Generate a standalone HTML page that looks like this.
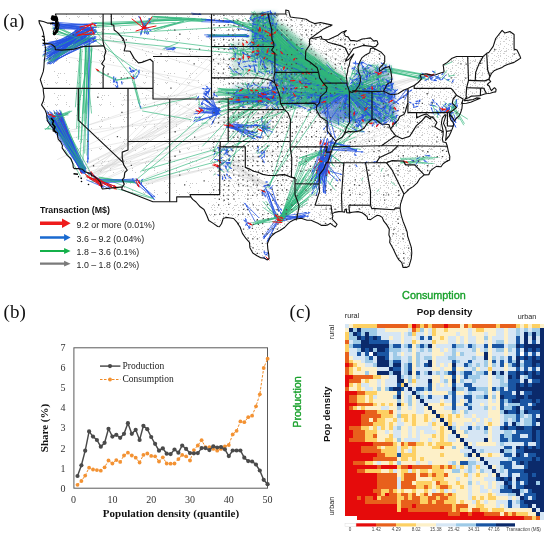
<!DOCTYPE html><html><head><meta charset="utf-8"><style>html,body{margin:0;padding:0;background:#fff;width:550px;height:538px;overflow:hidden}svg{display:block}</style></head><body>
<svg width="550" height="538" viewBox="0 0 550 538">
<defs><pattern id="spkW" width="22" height="22" patternUnits="userSpaceOnUse"><path d="M14 7h1v1h-1zM0 16h1v1h-1zM12 17h1v1h-1zM10 5h1v1h-1zM14 11h1v1h-1zM16 7h1v1h-1zM3 18h1v1h-1zM13 9h1v1h-1zM11 16h1v1h-1zM20 7h1v1h-1zM0 14h1v1h-1zM13 16h1v1h-1z" fill="#c8c8c8"/></pattern><pattern id="spkM" width="12" height="12" patternUnits="userSpaceOnUse"><path d="M5 6h1v1h-1zM11 6h1v1h-1zM1 3h1v1h-1zM10 3h1v1h-1zM7 9h1v1h-1zM10 6h1v1h-1zM9 0h1v1h-1zM7 1h1v1h-1zM4 4h1v1h-1zM0 10h1v1h-1z" fill="#d0d0d0"/></pattern><pattern id="spkE" width="12" height="12" patternUnits="userSpaceOnUse"><path d="M2 7h1v1h-1zM1 3h1v1h-1zM6 9h1v1h-1zM4 1h1v1h-1zM0 5h1v1h-1zM9 2h1v1h-1zM11 0h1v1h-1zM7 1h1v1h-1zM4 8h1v1h-1zM2 2h1v1h-1zM8 8h1v1h-1zM2 3h1v1h-1zM8 7h1v1h-1zM0 10h1v1h-1zM2 0h1v1h-1zM11 5h1v1h-1zM8 5h1v1h-1zM7 11h1v1h-1z" fill="#d0d0d0"/></pattern></defs>
<rect width="550" height="538" fill="#fff"/>
<path d="M38.9,20.6 L39.5,23.6 L41.6,27.3 L43.3,32.1 L43.9,35.8 L44.5,39 L44.5,43.1 L45.4,47 L45.4,51.2 L44.9,56.5 L44.3,60.8 L43.9,67.1 L43.3,71.4 L41.8,75.6 L40.3,79.5 L41.6,83.6 L43.2,88.4 L43.3,91 L44.1,96.9 L43.3,101.1 L41.5,104.9 L44.9,109.6 L46.6,113.9 L47.3,120.8 L50.8,125.6 L53.3,128.2 L53.1,130.9 L55.8,131.9 L57.5,133 L57.5,136.2 L58.3,139.4 L60.8,142 L62.5,145.7 L62.1,147.9 L65,152.1 L67.5,155.6 L70.8,158.5 L72.9,163.8 L73.3,167.5 L74.4,168.6 L78.3,168.6 L82.5,169.3 L85,171.8 L88.3,173.1 L90.9,173.1 L91.7,176 L93.8,176 L95.9,177.6 L97.5,179.1 L100.2,181.8 L101.3,185.6 L101.7,187.7 L102.4,189 L122.4,186.9 L121.7,189.4 L152.9,201.7 L176.7,201.7 L176.7,196.9 L190.8,196.9 L192.7,199.4 L196,202 L200.2,206.8 L204,209.5 L206.9,215.8 L208.8,220.5 L213.6,223.6 L217.7,226.5 L219.4,226.7 L221.5,223.8 L223.2,218.5 L226.1,217.4 L230.3,218 L233.6,218.5 L237.3,222.7 L240.3,227.5 L242.4,233.4 L246.1,238.7 L249.5,242.4 L249.9,247.7 L252.8,253 L257,255.7 L260.3,257.6 L264.5,258.3 L267,259.9 L269.1,258.8 L268.7,254.1 L267.8,248.8 L267.4,243.5 L269.5,238.7 L272,235.5 L275.3,232.8 L279.5,230.7 L284.5,227.5 L287.9,223.8 L290.4,221.7 L294.5,219.6 L296.7,219 L301.2,218.3 L307.1,220.3 L311.2,220.3 L313.7,221.4 L317.9,223.3 L321.2,225.4 L325.4,225.4 L327.9,224.9 L330.4,223.3 L332.9,225.4 L335.4,227 L337.1,224.3 L334.6,221.7 L332.1,219 L332.9,215.8 L332.1,213.9 L334.6,212.4 L338.8,211.6 L342.1,211.8 L344.6,212.1 L345,209.5 L346.3,208.9 L346.7,212.7 L349.6,212.9 L352.1,212.3 L358,211.6 L362.1,212.7 L364.6,214.5 L367.2,216.9 L367.6,219.2 L370.5,219.6 L373.8,217.4 L377.2,215.3 L379.7,215.8 L382.2,217.4 L383.8,221.2 L386.8,224.9 L389.3,229.1 L388.9,235 L390.1,238.1 L389.7,242.4 L391.4,245.6 L393.4,249.3 L395.1,253 L397.2,257.3 L398.9,259.9 L401.8,262.6 L403,267.4 L406.4,267.4 L408.9,266.3 L410.1,262.6 L411.2,258.9 L411.8,253 L411.4,247.7 L409.7,242.4 L407.6,236 L407.2,232.3 L405.1,226.5 L403,221.2 L401.4,215.8 L400.5,211.6 L400.1,208.2 L400.5,204.2 L402.2,198.8 L403.9,194.1 L406.4,191.9 L408.9,189.3 L413.1,186.6 L417.2,182.9 L419.7,178.7 L424.3,174.9 L428.9,174.6 L430.2,171.2 L433.1,168.6 L436.4,166.4 L441,166.8 L443.1,163.8 L446,161.7 L449.6,160.1 L449.8,156.4 L448.5,152.1 L447.3,146.3 L446,142.5 L443.1,142 L442.3,138.8 L443.1,135.1 L443.1,130.9 L442.3,127.1 L441.4,122.9 L442.3,118.1 L444.8,114.9 L446,114.9 L444.8,119.2 L443.5,123.4 L445.6,127.7 L446.5,131.9 L446,137.2 L445.6,140.4 L449,136.2 L451,131.9 L452.7,127.7 L453.6,124.5 L453.1,122.4 L451,120.2 L449.4,115.5 L449.4,113.3 L450.6,115.5 L453.1,118.1 L454.4,121 L456.5,118.1 L459,116 L460.6,112.8 L461.9,108.6 L462.3,104.8 L461.9,103.2 L462.7,103.5 L466.5,103.2 L470.7,102.2 L474.8,100.6 L480.2,98.3 L476.5,97.9 L473.2,99.5 L469,100.1 L464.8,100.6 L464,100.3 L465.2,99 L469,97.4 L471.5,96.1 L475.7,96 L480.3,95.6 L484,94.2 L485.7,93.7 L487.8,93.5 L490.3,93.2 L493.2,92.3 L495.7,91.9 L496.1,89.4 L494.5,87.7 L493.6,88.4 L491.5,90.7 L490.3,88.9 L489.4,86.3 L487.4,84.7 L488.6,83.1 L490.7,81.5 L489,79.3 L489.9,76.7 L491.5,73.5 L494,70.8 L497.4,69.3 L501.5,67.7 L504.1,66.1 L507.4,64.5 L510.7,63.4 L514.1,62.4 L517.4,60.2 L520.7,58.1 L519.5,54.9 L517,50.1 L514.1,49.1 L514.1,34.5 L509.9,31.5 L504.9,33.1 L502.1,30.4 L495.7,38.5 L493.2,46.4 L489,52.3 L486.7,53.3 L483.2,56.4 L456.5,56.5 L451.5,58.6 L447.3,62.4 L443.1,65 L443.5,67.1 L444,71.9 L440.6,73 L435.6,74.8 L432.3,75.1 L425.6,73.8 L420.2,75 L421.4,79 L418.1,82.5 L414.2,85.5 L411.4,86.8 L407.9,88.6 L403.9,90 L398,93.7 L393,94.7 L389.7,94.2 L386.4,92.6 L383.4,91.2 L385.5,87.8 L386.4,85.2 L388,83.6 L391.4,82 L391.8,77.8 L390.9,71.4 L389.3,66.6 L384.7,67.7 L379.7,71.4 L379.3,68.2 L382.6,65 L384.7,61.8 L384.7,56 L381.3,52.3 L377.2,50.1 L373,48 L370.5,48.5 L369.7,52.8 L365.5,54.9 L362.1,57.6 L360.1,61.3 L358,66.1 L358.4,71.4 L360.1,75.6 L360.5,80.9 L359.2,85.2 L355.5,90.5 L352.1,92.4 L349.2,91 L348.4,88.4 L347.1,85.2 L347.1,83.1 L346.7,79.3 L346.3,76.7 L347.5,72.4 L348,68.2 L349.2,65.5 L350,60.8 L353.8,53.9 L348.8,59.2 L345.4,61.3 L347.5,57 L348.8,55.4 L350.9,52.3 L353.4,48.5 L357.1,47.5 L360.1,46.4 L363,45.4 L367.2,45.9 L371.3,46.4 L373,47 L375.9,46.4 L378,43.8 L377.2,41.1 L375.9,40.6 L373.8,41.1 L370.5,37.9 L366.3,38.5 L362.1,39 L357.1,41.3 L353.8,40.6 L350.5,40.6 L348,36.9 L345.4,36.3 L343.8,33.1 L346.3,30.5 L341.3,32.6 L337.9,35.3 L332.9,37.4 L328.8,39.5 L325.4,39.8 L322.1,39 L321.2,36.3 L317.9,37.4 L312.1,38.5 L311.2,37.9 L316.2,34.2 L323.7,28.9 L332.1,25 L325.4,23.6 L320.4,22.5 L314.6,23.6 L309.6,21.5 L306.2,19.3 L300.4,18.3 L295.4,17.7 L290.4,17 L289.5,14 L288.7,10.8 L285.8,10 L285.8,14 L268.4,14 L211.5,14 L153.5,14 L111.3,14 L103.1,14 L55.4,14 L56.6,17.2 L57.5,20.4 L59.1,24.6 L58.3,28.9 L57.5,32.1 L54.1,34.2 L53.3,31.5 L55.4,27.8 L55.4,23.6 L51.6,23.1 L47.4,23.1 L43.3,21.5Z" fill="url(#spkW)" stroke="none"/>
<path d="M213.6,223.6 L217.7,226.5 L219.4,226.7 L221.5,223.8 L223.2,218.5 L226.1,217.4 L230.3,218 L233.6,218.5 L237.3,222.7 L240.3,227.5 L242.4,233.4 L246.1,238.7 L249.5,242.4 L249.9,247.7 L252.8,253 L257,255.7 L260.3,257.6 L264.5,258.3 L267,259.9 L269.1,258.8 L268.7,254.1 L267.8,248.8 L267.4,243.5 L269.5,238.7 L270.3,237.6 L270.3,14 L268.4,14 L211.9,14 L211.9,222.5 L213.6,223.6Z" fill="url(#spkM)" stroke="none"/>
<path d="M272,235.5 L275.3,232.8 L279.5,230.7 L284.5,227.5 L287.9,223.8 L290.4,221.7 L294.5,219.6 L296.7,219 L301.2,218.3 L307.1,220.3 L311.2,220.3 L313.7,221.4 L317.9,223.3 L321.2,225.4 L325.4,225.4 L327.9,224.9 L330.4,223.3 L332.9,225.4 L335.4,227 L337.1,224.3 L334.6,221.7 L332.1,219 L332.9,215.8 L332.1,213.9 L334.6,212.4 L338.8,211.6 L342.1,211.8 L344.6,212.1 L345,209.5 L346.3,208.9 L346.7,212.7 L349.6,212.9 L352.1,212.3 L358,211.6 L362.1,212.7 L364.6,214.5 L367.2,216.9 L367.6,219.2 L370.5,219.6 L373.8,217.4 L377.2,215.3 L379.7,215.8 L382.2,217.4 L383.8,221.2 L386.8,224.9 L389.3,229.1 L388.9,235 L390.1,238.1 L389.7,242.4 L391.4,245.6 L393.4,249.3 L395.1,253 L397.2,257.3 L398.9,259.9 L401.8,262.6 L403,267.4 L406.4,267.4 L408.9,266.3 L410.1,262.6 L411.2,258.9 L411.8,253 L411.4,247.7 L409.7,242.4 L407.6,236 L407.2,232.3 L405.1,226.5 L403,221.2 L401.4,215.8 L400.5,211.6 L400.1,208.2 L400.5,204.2 L402.2,198.8 L403.9,194.1 L406.4,191.9 L408.9,189.3 L413.1,186.6 L417.2,182.9 L419.7,178.7 L424.3,174.9 L428.9,174.6 L430.2,171.2 L433.1,168.6 L436.4,166.4 L441,166.8 L443.1,163.8 L446,161.7 L449.6,160.1 L449.8,156.4 L448.5,152.1 L447.3,146.3 L446,142.5 L443.1,142 L442.3,138.8 L443.1,135.1 L443.1,130.9 L442.3,127.1 L441.4,122.9 L442.3,118.1 L444.8,114.9 L446,114.9 L444.8,119.2 L443.5,123.4 L445.6,127.7 L446.5,131.9 L446,137.2 L445.6,140.4 L449,136.2 L451,131.9 L452.7,127.7 L453.6,124.5 L453.1,122.4 L451,120.2 L449.4,115.5 L449.4,113.3 L450.6,115.5 L453.1,118.1 L454.4,121 L456.5,118.1 L459,116 L460.6,112.8 L461.9,108.6 L462.3,104.8 L461.9,103.2 L462.7,103.5 L466.5,103.2 L470.7,102.2 L474.8,100.6 L480.2,98.3 L476.5,97.9 L473.2,99.5 L469,100.1 L464.8,100.6 L464,100.3 L465.2,99 L469,97.4 L471.5,96.1 L475.7,96 L480.3,95.6 L484,94.2 L485.7,93.7 L487.8,93.5 L490.3,93.2 L493.2,92.3 L495.7,91.9 L496.1,89.4 L494.5,87.7 L493.6,88.4 L491.5,90.7 L490.3,88.9 L489.4,86.3 L487.4,84.7 L488.6,83.1 L490.7,81.5 L489,79.3 L489.9,76.7 L491.5,73.5 L494,70.8 L497.4,69.3 L501.5,67.7 L504.1,66.1 L507.4,64.5 L510.7,63.4 L514.1,62.4 L517.4,60.2 L520.7,58.1 L519.5,54.9 L517,50.1 L514.1,49.1 L514.1,34.5 L509.9,31.5 L504.9,33.1 L502.1,30.4 L495.7,38.5 L493.2,46.4 L489,52.3 L486.7,53.3 L483.2,56.4 L456.5,56.5 L451.5,58.6 L447.3,62.4 L443.1,65 L443.5,67.1 L444,71.9 L440.6,73 L435.6,74.8 L432.3,75.1 L425.6,73.8 L420.2,75 L421.4,79 L418.1,82.5 L414.2,85.5 L411.4,86.8 L407.9,88.6 L403.9,90 L398,93.7 L393,94.7 L389.7,94.2 L386.4,92.6 L383.4,91.2 L385.5,87.8 L386.4,85.2 L388,83.6 L391.4,82 L391.8,77.8 L390.9,71.4 L389.3,66.6 L384.7,67.7 L379.7,71.4 L379.3,68.2 L382.6,65 L384.7,61.8 L384.7,56 L381.3,52.3 L377.2,50.1 L373,48 L370.5,48.5 L369.7,52.8 L365.5,54.9 L362.1,57.6 L360.1,61.3 L358,66.1 L358.4,71.4 L360.1,75.6 L360.5,80.9 L359.2,85.2 L355.5,90.5 L352.1,92.4 L349.2,91 L348.4,88.4 L347.1,85.2 L347.1,83.1 L346.7,79.3 L346.3,76.7 L347.5,72.4 L348,68.2 L349.2,65.5 L350,60.8 L353.8,53.9 L348.8,59.2 L345.4,61.3 L347.5,57 L348.8,55.4 L350.9,52.3 L353.4,48.5 L357.1,47.5 L360.1,46.4 L363,45.4 L367.2,45.9 L371.3,46.4 L373,47 L375.9,46.4 L378,43.8 L377.2,41.1 L375.9,40.6 L373.8,41.1 L370.5,37.9 L366.3,38.5 L362.1,39 L357.1,41.3 L353.8,40.6 L350.5,40.6 L348,36.9 L345.4,36.3 L343.8,33.1 L346.3,30.5 L341.3,32.6 L337.9,35.3 L332.9,37.4 L328.8,39.5 L325.4,39.8 L322.1,39 L321.2,36.3 L317.9,37.4 L312.1,38.5 L311.2,37.9 L316.2,34.2 L323.7,28.9 L332.1,25 L325.4,23.6 L320.4,22.5 L314.6,23.6 L309.6,21.5 L306.2,19.3 L300.4,18.3 L295.4,17.7 L290.4,17 L289.5,14 L288.7,10.8 L285.8,10 L285.8,14 L270.3,14 L270.3,237.6 L272,235.5Z" fill="url(#spkE)" stroke="none"/>
<defs><filter id="bl" x="-10%" y="-10%" width="120%" height="120%"><feGaussianBlur stdDeviation="2"/></filter></defs>
<g filter="url(#bl)"><path d="M254,13 L276,13 L277,40 L276,66 L262,66 L250,45 L252,25 Z" fill="#2f9a86" fill-opacity="0.7"/><path d="M270,24 L282,24 L345,78 L348,94 L326,90 L272,60 Z" fill="#34a878" fill-opacity="0.65"/><path d="M273,68 L325,72 L331,88 L322,106 L276,106 L272,90 Z" fill="#2f8a98" fill-opacity="0.75"/><path d="M316,84 L349,82 L350,118 L335,124 L316,110 Z" fill="#2f64c0" fill-opacity="0.7"/><path d="M347,86 L372,88 L372,122 L350,124 L345,110 Z" fill="#3468bc" fill-opacity="0.65"/><path d="M371,88 L394,88 L396,118 L372,122 Z" fill="#3a72c0" fill-opacity="0.6"/><path d="M356,68 L390,66 L392,90 L352,92 Z" fill="#3f80b4" fill-opacity="0.5"/><path d="M232,42 L270,40 L272,76 L232,76 Z" fill="#5aa898" fill-opacity="0.3"/><path d="M232,85 L272,84 L275,106 L232,106 Z" fill="#5a8ab8" fill-opacity="0.3"/></g>
<path d="M90.1 174.5L225.8 118.6M91.1 175.0L185.2 120.5M93.3 178.5L180.2 112.1M83.6 178.8L213.1 101.7M99.7 181.4L211.0 124.6M84.8 165.3L204.1 102.4M85.4 169.1L176.7 118.6M89.9 179.3L203.6 125.6M91.0 176.3L200.2 111.1M100.0 181.9L221.2 128.3M87.7 168.9L190.9 102.8M95.8 171.8L221.6 115.5M99.2 179.4L175.0 108.4M98.4 170.3L288.8 121.8M83.3 173.8L276.7 111.6M83.6 167.3L287.8 150.6M84.1 165.4L236.1 94.8M96.3 163.9L263.6 125.8M85.4 176.1L237.9 141.5M57.9 133.9L197.7 93.5M79.3 151.2L209.5 124.2M60.3 132.7L281.1 112.1M57.5 159.5L197.7 92.9M74.3 129.8L208.5 83.7M57.3 141.2L201.6 110.1M87.4 162.7L295.9 64.2M91.5 174.3L218.3 47.7M98.2 172.9L224.9 49.5M94.8 176.3L219.7 87.5M230.0 163.1L263.4 181.6M215.7 173.9L259.8 190.6M219.4 169.7L266.9 184.4M218.0 166.6L256.4 183.4M224.5 170.6L267.3 184.2M230.6 151.1L255.3 184.0M222.6 146.8L258.5 185.5M224.7 148.9L262.2 193.4M231.7 164.7L268.8 188.8M217.4 146.1L255.4 193.7M97.0 39.4L251.7 64.5M94.8 36.0L275.5 90.0M90.8 33.2L309.0 83.0M147.4 184.1L263.5 154.9M143.5 183.7L272.1 152.3M144.2 185.8L269.1 134.4M146.2 177.6L246.6 136.5M140.8 182.8L279.5 152.8M224.6 109.7L318.8 107.4M218.8 121.0L266.7 112.5M210.6 115.0L298.5 96.9M224.0 112.4L309.2 117.6M215.1 100.3L284.1 110.3M214.1 104.2L332.5 109.8M218.8 122.3L286.2 110.0M214.0 110.8L324.5 117.4M322.8 63.1L390.8 95.8M278.2 69.8L408.6 122.4M312.7 97.0L369.4 88.5M297.0 56.5L365.0 100.7M307.5 69.6L372.1 122.0M328.9 67.1L355.2 81.6M322.4 42.5L399.6 108.5M288.5 87.5L351.3 86.8M297.3 41.5L408.1 91.9M278.5 42.8L394.0 102.3M307.8 79.3L406.5 127.9M311.1 52.0L383.3 88.9M270.6 68.3L400.0 89.0M286.3 60.7L398.8 106.0M318.4 174.0L363.6 129.6M327.2 143.9L396.0 126.1M303.9 160.4L377.5 135.5M311.3 165.6L392.8 129.8M328.3 160.9L379.1 100.2M321.7 176.8L378.5 125.9M306.4 180.5L398.8 138.9M316.1 175.6L359.2 135.5M134.2 83.9L195.8 112.0M122.0 100.7L224.1 91.4M132.4 72.6L246.0 98.6M253.4 81.5L228.4 107.4M260.7 78.9L270.4 134.5M277.8 69.7L276.9 104.3M248.9 71.1L237.4 136.4M265.6 70.9L270.6 128.0M252.5 65.2L270.7 145.0M68.3 57.0L198.1 81.0M82.9 44.0L172.2 80.1M232.8 163.2L270.6 185.7M227.1 164.6L262.3 184.3M226.3 157.4L262.6 187.3M227.3 164.1L270.2 185.4M227.2 165.1L269.3 190.8M231.5 163.7L270.6 188.8M235.7 159.3L269.7 188.3M260.9 24.4L267.4 28.1M260.1 57.6L255.9 52.9M255.8 15.3L259.8 16.8M271.1 27.8L267.9 33.3M259.1 48.7L265.3 53.0M269.1 29.1L268.4 23.6M266.9 17.8L263.8 24.7M266.7 34.8L273.9 36.5M272.8 25.8L274.9 33.7M257.6 17.8L264.9 21.5M273.2 49.3L264.1 43.5M272.4 25.6L263.8 33.6M274.6 43.1L270.9 39.2M254.2 28.5L255.2 36.7M267.7 42.6L269.4 41.5M256.9 17.7L249.3 25.8M263.2 50.6L265.5 55.6M271.2 26.8L270.2 18.8M267.7 14.4L260.2 23.5M261.0 26.1L268.9 26.1M268.7 35.7L264.5 31.6M258.6 26.7L259.9 35.5M254.1 18.5L253.9 14.4M264.3 13.8L261.9 13.5M254.8 18.7L251.0 24.2M257.2 16.6L265.5 24.6M275.6 55.9L278.3 59.0M273.1 13.7L278.1 20.6M275.1 56.5L278.0 52.2M269.6 57.0L270.4 47.2M258.8 41.4L308.0 78.0M263.8 57.9L323.8 77.5M263.9 31.4L312.0 77.9M270.4 33.4L314.9 71.0M272.2 31.3L316.6 91.2M275.4 40.9L308.0 90.9M271.7 20.7L317.4 90.9M266.6 26.7L347.4 75.3M261.2 46.4L347.4 87.7M258.4 20.8L314.2 86.6M275.3 24.4L333.7 86.9M258.5 54.3L318.5 79.4M272.3 40.6L331.9 71.4M269.2 25.7L340.4 89.4M269.7 44.5L347.0 90.7M270.9 33.7L305.5 95.0M259.2 21.6L330.6 94.8M266.0 27.9L305.8 74.0M264.5 33.3L316.6 92.0M276.0 57.2L313.4 87.4M261.0 37.6L326.5 77.9M272.1 28.3L339.5 89.1M269.3 22.9L310.2 90.2M275.3 29.1L333.7 88.9M273.6 25.2L313.8 71.6M278.5 101.1L271.6 104.7M278.0 87.5L282.6 100.5M276.3 81.5L280.2 83.5M301.1 70.6L297.1 66.0M311.9 105.5L313.3 100.8M274.9 87.4L275.3 81.5M318.8 95.1L318.9 99.9M298.3 100.6L304.2 94.7M302.7 86.8L302.6 84.5M313.1 87.6L301.8 82.9M278.3 87.4L283.0 86.0M307.7 78.5L308.8 68.9M280.1 73.3L275.9 79.3M318.3 103.8L315.3 102.8M298.6 103.9L305.1 107.3M287.5 92.6L288.1 95.0M282.8 87.9L272.1 93.7M284.3 92.7L286.4 91.7M300.5 75.9L296.7 79.3M316.0 77.8L320.4 77.3M289.1 92.3L292.0 95.1M291.4 93.2L295.3 85.0M288.6 89.4L295.0 88.7M278.6 69.5L288.2 65.7M285.5 82.3L287.2 89.4M316.7 69.2L312.2 68.6M307.9 98.0L308.5 91.9M324.0 68.5L323.0 72.2M311.7 86.4L309.5 84.8M278.0 96.5L270.2 86.0M297.1 90.7L285.8 96.1M289.1 86.7L290.6 80.4M297.2 71.8L304.9 69.8M299.3 74.3L294.1 77.6M282.8 81.8L276.9 89.5M276.3 105.7L277.4 104.0M298.3 95.9L310.6 99.1M328.2 70.6L322.1 82.8M288.5 96.0L289.2 94.1M299.7 80.5L301.1 77.9M310.9 68.9L304.3 75.3M296.6 96.2L306.4 94.7M280.5 89.0L277.6 95.0M312.3 91.0L303.1 91.3M285.3 71.4L277.6 74.7M314.3 83.1L307.4 94.7M324.7 76.0L328.4 71.1M275.0 98.3L272.7 99.3M294.7 94.5L295.7 104.3M285.2 93.4L295.7 94.2M283.9 82.7L287.0 82.1M276.4 104.8L279.7 96.7M302.5 85.5L295.2 76.2M279.9 81.6L276.0 81.5M278.3 92.5L290.0 91.3M321.7 110.4L327.0 108.8M310.3 80.4L313.9 83.4M324.5 80.8L322.4 87.5M343.5 109.0L344.9 103.8M341.0 80.6L347.4 86.3M306.7 83.7L312.8 82.8M310.4 107.7L306.7 111.3M337.8 87.4L340.7 86.8M307.4 84.6L312.3 83.0M314.6 91.7L323.7 93.2M321.7 107.0L326.3 100.3M329.2 110.3L326.4 109.6M311.9 104.4L314.2 104.3M310.7 104.8L312.8 101.7M320.3 99.1L314.3 95.8M328.2 110.1L332.5 106.7M344.3 89.1L341.0 95.6M338.8 81.6L331.6 82.1M335.1 105.5L333.0 103.9M323.1 89.9L310.7 92.8M312.2 110.6L307.2 100.5M335.2 87.8L331.5 82.5M343.5 84.0L346.6 85.8M306.3 83.5L303.7 84.3M310.0 81.0L305.9 77.5M355.7 107.4L360.0 110.7M378.8 88.9L375.3 87.1M367.3 111.9L372.9 112.3M372.9 123.4L364.0 121.8M390.0 119.1L386.8 118.7M359.2 89.4L364.2 91.8M381.4 112.8L381.9 109.3M352.0 87.2L347.6 87.2M383.0 114.7L381.1 118.4M370.7 118.7L376.7 113.6M381.3 111.4L388.8 112.6M345.7 86.7L346.1 91.1M384.1 112.6L385.9 122.2M346.1 106.0L347.4 103.4M377.6 96.5L375.5 95.8M382.9 108.2L379.9 109.6M351.5 100.4L348.0 103.7M357.5 103.5L354.8 110.4M364.6 86.8L365.8 88.4M365.6 103.7L363.5 109.8M382.3 103.5L374.3 98.8M345.2 95.9L350.3 99.8M387.0 108.9L387.7 103.7M393.0 112.1L394.8 109.5M355.8 112.8L357.3 120.4M305.5 63.0L337.7 82.2M311.1 58.4L337.1 75.6M305.5 58.0L337.2 87.7M312.0 59.7L345.8 80.6M305.7 58.3L338.8 88.0M295.6 56.0L345.1 82.3M375.6 87.0L427.2 76.4M376.1 85.3L422.5 78.0M360.4 90.1L425.3 74.2M377.5 92.1L418.8 75.3M375.6 94.7L418.5 78.6M361.0 91.1L420.0 79.4" fill="none" stroke="#d2d2d2" stroke-width="0.45" stroke-linecap="round"/>
<path d="M136.0 180.0L218.0 112.0M229.0 138.2L273.0 88.1M212.7 151.9L258.0 72.3M202.5 146.2L296.6 47.8M223.1 155.0L258.0 130.6M90.7 38.9L241.8 54.1M94.6 32.0L254.4 52.4M85.4 33.4L139.2 72.2M252.1 133.7L300.8 67.0M267.3 139.4L305.2 77.7M245.5 124.1L337.8 94.7M280.5 215.4L378.3 103.9M281.6 218.3L363.0 102.9M280.1 219.9L374.5 95.4M269.4 187.3L308.8 66.6M262.2 193.6L336.1 88.2M268.3 187.3L327.0 80.2M56.9 56.2L82.5 28.1M46.0 50.5L82.9 38.4M54.0 45.0L93.6 38.2M45.1 49.6L91.6 29.2M54.3 52.1L95.4 29.1M46.7 54.2L88.0 29.9M48.0 50.3L79.4 31.7M53.3 51.1L91.1 29.3M48.9 57.1L82.5 34.8M44.1 61.9L93.2 30.5M49.1 56.3L82.9 30.4M54.7 46.6L80.7 29.1M56.2 26.6L86.0 43.5M52.5 27.0L82.4 37.1M52.4 33.3L86.4 40.6M56.6 32.4L85.8 39.0M52.1 28.6L90.5 44.8M55.9 26.0L85.7 40.6M57.0 30.5L82.4 42.9M85.7 44.8L83.0 113.5M86.1 47.6L79.9 160.7M84.5 43.0L91.5 113.1M85.6 46.5L84.1 120.9M91.9 48.5L84.8 112.4M82.0 49.2L78.3 139.4M91.8 49.5L85.9 123.5M80.8 45.7L76.6 128.2M87.0 42.3L86.1 113.7M86.4 45.8L81.4 142.4M88.6 48.0L82.7 164.7M97.4 23.9L153.3 21.8M96.4 25.6L195.1 18.4M92.4 22.7L176.8 20.0M94.4 23.4L154.1 23.3M54.9 57.0L57.2 55.4M46.0 49.7L54.4 53.3M58.0 49.2L48.5 49.3M49.5 46.2L46.8 55.2M153.1 16.5L209.8 19.8M150.2 19.3L201.9 21.6M148.3 18.8L207.5 19.5M152.0 17.1L205.6 20.6M153.3 20.7L205.2 20.0M154.1 29.1L194.3 19.9M151.0 29.6L183.5 21.2M153.5 29.0L180.5 22.0M163.0 49.0L178.0 43.0M97.0 70.0L104.0 74.0M117.0 80.0L133.0 78.0M97.0 71.0L117.0 81.0M132.1 78.7L138.8 103.1M56.3 115.0L84.2 170.4M58.0 120.1L82.4 170.4M57.5 121.8L82.9 172.2M58.0 111.8L81.9 168.6M59.4 113.7L81.4 169.1M61.0 112.4L85.3 170.9M53.9 118.0L71.8 111.1M52.5 116.2L67.6 113.4M52.2 117.6L69.9 111.1M53.4 121.0L69.8 112.5M50.7 128.0L48.1 128.7M52.5 122.6L45.4 129.6M53.1 118.4L47.8 128.7M53.6 129.2L44.9 128.8M67.4 136.3L87.4 177.9M68.4 143.0L89.4 175.8M65.1 149.9L80.6 176.3M98.7 177.0L137.1 183.4M99.3 177.7L136.5 182.8M90.6 177.9L133.7 181.5M92.9 179.9L136.0 180.0M110.8 180.7L152.2 197.9M211.6 110.2L216.1 111.1M207.8 123.0L201.7 123.2M209.8 99.9L209.6 97.0M198.8 106.7L201.0 110.2M204.9 107.9L198.6 104.7M206.1 110.5L210.0 110.0M196.2 120.1L200.2 117.5M199.4 118.1L202.5 120.4M195.7 116.6L194.2 119.1M216.2 109.2L260.5 96.4M220.8 111.0L256.5 101.6M221.5 106.5L259.4 97.1M217.0 113.1L261.3 99.6M140.4 171.9L205.7 112.7M142.6 170.6L217.5 148.6M196.7 96.7L140.2 108.6M229.4 123.4L267.9 97.9M227.8 119.2L265.3 99.8M229.3 119.9L270.5 98.1M229.3 123.8L270.8 102.3M226.8 124.1L265.2 97.7M262.2 127.6L268.6 131.1M262.3 127.7L270.5 124.1M263.9 127.9L260.1 138.1M262.4 128.9L267.6 121.3M262.1 127.5L270.0 128.7M219.5 88.8L264.5 92.0M218.6 91.1L262.9 88.7M217.9 91.1L271.5 90.2M214.7 92.4L259.0 94.6M216.0 93.2L263.6 91.4M221.6 89.9L263.2 90.3M218.0 88.7L258.3 89.7M269.5 99.7L273.9 98.0M275.9 92.9L273.8 96.6M255.3 94.0L251.9 90.0M259.6 96.1L262.5 95.3M270.5 101.0L263.7 98.5M275.7 92.3L266.0 89.7M248.3 93.8L265.9 97.5M243.4 95.9L254.1 98.9M234.0 103.9L265.9 105.2M241.8 91.1L258.4 100.5M244.2 95.3L257.7 94.5M218.9 101.1L270.7 92.8M232.1 94.4L262.4 102.6M236.7 103.8L256.3 92.0M221.1 103.5L259.6 95.9M244.1 102.8L269.0 91.1M228.4 93.2L270.1 88.8M217.5 94.9L277.6 98.8M225.3 99.3L269.5 93.8M225.9 93.7L250.5 93.6M225.1 91.6L273.7 96.4M226.6 102.4L271.1 99.2M217.8 161.0L221.0 156.3M219.3 152.7L221.7 154.8M257.5 153.6L269.7 145.7M261.2 156.0L268.7 145.0M256.0 152.4L266.5 143.4M280.3 217.1L310.4 168.4M280.5 219.6L299.5 162.2M281.4 222.0L318.6 169.6M280.5 221.0L308.3 199.3M279.8 221.4L303.5 156.5M280.4 217.7L301.5 197.8M278.3 220.4L303.6 177.0M278.3 221.7L306.7 162.8M278.5 217.2L315.0 178.1M282.0 218.0L299.2 184.4M282.6 221.7L314.1 171.1M280.7 221.8L320.5 167.7M278.5 217.8L319.5 179.3M279.8 218.8L302.6 201.8M278.6 220.5L313.5 184.8M281.0 221.4L323.2 175.1M279.9 219.1L307.5 186.4M279.8 221.2L318.8 187.8M281.8 218.1L320.8 172.6M279.0 218.5L309.0 169.1M280.3 220.0L306.3 157.6M279.8 221.9L307.4 199.4M263.0 201.6L278.9 220.4M265.8 201.3L279.4 216.4M267.8 207.8L279.7 217.7M251.9 224.6L279.7 217.5M252.1 222.8L280.0 217.3M252.7 225.0L279.4 217.0M331.6 149.1L356.9 130.4M326.6 146.6L341.4 143.6M331.3 146.1L360.2 149.2M333.9 144.6L340.4 142.3M330.1 173.3L323.0 164.5M329.8 184.5L334.2 176.3M326.7 167.2L320.9 178.5M321.8 184.1L319.9 173.8M327.3 180.7L335.2 190.1M319.4 182.7L313.4 187.9M318.0 175.7L311.0 185.0M325.4 181.6L328.2 172.4M327.8 154.8L332.2 156.7M328.2 150.2L299.5 158.0M323.9 149.3L299.2 158.2M325.4 150.2L305.6 160.5M326.3 148.6L298.2 162.9M322.4 152.2L299.9 163.5M327.8 149.5L299.2 165.7M329.2 155.4L332.7 165.5M320.7 153.0L332.5 173.2M320.8 153.6L334.6 166.5M326.6 151.0L338.9 160.8M328.1 152.6L342.7 163.7M274.4 52.9L278.8 48.9M255.0 16.9L251.9 17.4M270.3 35.3L275.2 34.8M272.8 58.5L273.3 47.7M258.5 42.0L266.6 45.4M264.1 19.9L261.7 18.7M253.9 32.6L257.8 24.1M263.0 33.7L272.3 37.1M253.9 33.0L260.6 40.8M272.8 39.0L275.4 43.0M265.8 24.6L257.5 17.3M272.9 44.9L277.1 41.5M253.0 41.7L253.1 44.7M255.4 48.5L254.6 54.1M271.9 52.2L267.3 49.6M265.7 24.6L259.0 16.3M257.4 14.3L253.2 19.0M265.1 37.3L259.2 32.7M265.4 39.0L265.7 42.2M256.6 16.7L253.0 16.2M263.1 45.4L265.2 54.5M274.9 59.2L262.9 59.5M261.2 17.1L269.1 17.9M266.8 49.8L258.1 53.5M268.2 46.1L257.7 51.2M256.0 37.0L253.7 39.9M256.3 46.5L259.7 52.8M254.1 53.4L265.9 53.8M262.8 43.0L259.2 43.9M262.6 53.9L268.2 58.7M265.3 50.2L261.0 47.2M262.5 32.8L258.7 30.0M263.4 50.4L264.8 46.3M265.1 28.7L264.9 37.9M268.4 25.0L271.4 21.5M262.5 31.8L256.1 28.5M265.5 57.6L265.3 54.7M252.3 15.5L249.6 21.9M267.6 53.2L258.2 47.2M257.8 30.5L254.7 30.9M266.1 17.3L266.3 21.2M268.5 23.7L265.6 16.4M267.5 17.8L270.3 18.5M268.3 59.8L263.7 55.3M268.9 52.4L269.9 48.0M254.5 19.0L250.6 18.8M258.8 57.3L249.5 61.5M267.8 56.3L265.8 51.5M260.6 31.4L260.8 29.3M264.3 19.9L263.8 15.4M257.9 41.1L249.9 44.8M273.8 58.3L272.3 59.9M270.7 49.1L271.4 56.1M264.6 41.0L256.5 43.1M267.5 32.3L271.5 26.2M275.7 51.9L276.9 43.1M257.9 17.8L255.6 14.0M268.7 54.6L266.6 59.3M262.3 42.7L262.7 33.1M269.4 58.7L263.3 60.7M259.5 52.0L253.0 55.7M260.7 13.5L259.5 20.2M252.5 54.4L257.0 56.5M268.2 51.7L270.1 48.4M258.2 15.8L251.3 11.9M262.1 57.0L260.8 49.5M274.7 35.0L277.3 44.2M272.5 38.9L272.3 45.6M252.7 37.7L252.2 31.7M261.6 17.4L263.2 12.1M262.3 58.8L268.9 52.6M260.7 28.4L259.3 27.0M253.8 32.9L251.4 30.3M275.0 29.4L275.3 36.7M274.6 16.7L270.2 24.9M264.6 48.6L266.2 51.1M253.9 19.6L255.4 12.7M261.0 14.3L262.4 11.6M265.0 20.3L275.1 25.4M276.0 38.6L275.1 30.6M270.3 35.5L268.1 45.1M275.1 54.3L264.1 51.2M268.4 17.9L260.9 21.1M267.7 29.1L265.4 25.8M262.3 37.7L266.4 39.2M256.0 35.4L264.1 35.1M270.5 58.5L266.0 62.4M252.6 35.0L251.6 42.5M272.7 36.8L271.7 34.2M274.3 41.9L267.2 42.4M266.8 52.0L264.5 48.9M256.5 20.9L264.6 23.0M258.0 57.7L252.2 60.8M269.9 21.2L272.3 13.4M272.1 52.6L270.9 48.7M252.2 21.1L255.8 21.9M270.3 25.6L267.7 24.4M267.6 52.1L268.0 45.1M263.1 34.0L256.7 26.5M274.6 25.8L273.3 27.6M266.9 58.1L258.2 54.8M252.3 34.2L254.5 34.9M266.5 38.5L273.4 41.7M259.3 23.5L263.1 29.2M269.9 22.6L262.1 17.4M264.7 55.9L274.6 55.0M267.6 31.2L276.5 26.4M260.2 28.1L263.1 29.1M259.2 13.4L264.9 12.7M262.9 58.5L268.8 61.8M270.7 36.8L272.3 28.7M235.1 21.0L265.3 26.2M230.1 22.2L265.6 27.9M232.5 20.2L264.7 29.0M230.1 21.1L261.1 31.1M231.4 22.2L260.9 30.6M209.5 35.5L246.4 35.7M211.7 35.0L248.6 36.9M207.2 34.8L248.8 36.9M224.1 18.0L261.7 34.1M236.3 19.3L261.3 33.9M249.9 24.3L262.9 32.1M229.9 24.8L261.6 34.4M252.1 18.8L259.3 34.2M263.5 39.1L335.8 81.1M275.0 26.2L332.0 85.1M261.8 53.0L332.0 87.3M260.3 37.5L328.1 87.2M273.4 55.8L327.6 85.8M265.0 47.1L344.3 86.4M274.2 52.4L345.5 82.0M258.7 40.0L332.0 86.6M261.6 30.6L332.5 85.2M271.8 57.4L331.0 83.0M258.1 44.9L325.9 88.1M262.3 48.6L342.0 84.0M260.9 30.2L338.1 87.1M263.6 54.5L339.5 89.7M270.7 53.6L326.5 78.3M273.9 41.8L336.6 84.9M274.4 43.5L342.2 85.9M271.8 40.3L331.9 83.1M269.5 24.6L337.0 85.3M274.0 41.7L337.5 85.4M267.9 32.5L341.6 83.2M269.6 35.0L336.7 82.7M269.7 52.5L330.9 87.7M273.7 39.3L344.9 93.7M265.3 56.9L338.3 87.0M268.9 40.7L340.1 82.4M258.2 47.9L343.9 90.5M273.8 50.7L328.4 81.6M269.8 23.1L337.2 81.2M267.6 22.5L334.1 78.2M271.2 26.5L333.7 93.8M260.7 45.4L333.0 91.4M272.9 51.7L329.1 87.3M275.1 57.3L340.7 80.2M266.4 39.0L330.0 80.6M268.9 48.9L342.0 84.8M265.6 35.7L345.3 78.7M259.7 51.9L333.2 82.2M264.4 22.6L328.0 89.5M275.9 31.1L342.7 83.8M263.0 36.8L346.0 82.3M273.3 48.0L341.3 86.1M258.8 46.1L344.9 84.9M267.4 49.1L328.8 85.8M258.2 53.1L333.1 84.2M268.3 32.4L328.6 85.2M275.9 47.8L341.0 89.7M260.9 27.2L344.4 78.3M274.9 53.3L334.3 83.6M273.9 54.7L346.9 92.6M260.1 55.9L328.8 90.6M267.7 26.8L332.2 83.0M261.4 44.9L342.7 90.3M271.0 34.0L346.8 90.6M267.7 55.1L335.8 94.2M275.1 33.4L336.9 87.5M273.2 52.5L329.2 90.0M265.3 26.2L345.9 94.8M275.1 42.0L330.4 85.6M266.7 28.4L342.1 93.9M275.3 51.3L337.4 86.9M264.6 24.7L335.4 91.9M263.4 30.3L339.1 90.1M261.2 32.7L328.5 92.5M266.7 55.4L338.0 83.1M267.0 39.9L339.6 90.1M275.6 56.6L343.6 89.6M272.9 31.6L343.3 84.5M268.5 28.3L333.3 94.6M267.0 23.2L331.0 79.8M260.8 28.4L328.3 90.6M263.3 33.3L331.4 87.3M260.4 27.5L339.4 82.8M261.2 25.5L326.6 92.6M258.4 34.8L339.5 81.7M258.1 40.9L338.2 81.2M267.8 26.7L342.4 78.5M273.0 45.0L325.5 79.1M267.0 23.7L347.2 81.6M264.3 55.0L337.9 86.4M268.1 38.2L329.0 91.6M264.5 44.7L330.9 94.9M269.6 47.9L331.2 91.1M261.0 37.1L328.8 82.4M270.3 25.8L329.0 86.0M261.2 45.8L338.0 94.4M259.7 54.2L258.6 50.7M265.6 72.2L258.7 62.7M246.7 71.9L242.8 76.5M262.3 48.3L256.1 52.7M260.8 55.3L258.0 57.8M254.4 57.5L244.5 54.1M242.8 45.8L252.8 50.4M250.1 46.4L252.2 46.2M233.7 51.8L231.6 44.4M234.7 52.0L233.6 58.7M236.3 46.4L238.7 47.3M270.6 62.2L273.2 69.9M241.7 73.4L232.5 74.6M242.6 54.1L237.5 53.8M233.0 55.2L238.1 59.7M265.9 46.0L264.0 47.8M261.8 73.5L259.4 66.5M264.2 58.1L274.8 54.3M253.5 56.6L262.1 50.5M246.7 52.8L242.3 45.4M252.8 64.8L259.6 65.1M261.2 69.7L269.2 68.1M239.9 48.4L241.4 55.6M232.6 71.5L238.1 69.0M237.9 50.1L235.6 56.4M242.9 49.8L243.3 54.7M264.2 58.4L256.3 55.0M237.2 47.2L238.2 57.2M244.9 61.8L242.2 57.5M251.9 73.6L262.3 77.0M258.0 53.2L246.2 51.9M258.8 61.2L258.6 73.0M233.0 56.5L229.5 58.5M234.9 74.0L230.1 73.4M255.7 55.2L258.0 49.1M262.7 65.6L267.4 73.3M264.5 43.5L264.1 45.5M267.5 65.3L263.6 59.0M253.9 69.2L257.6 74.7M234.7 61.1L237.2 59.7M260.8 72.3L268.9 70.5M251.0 57.0L246.7 53.8M249.9 97.8L242.2 92.9M256.1 99.6L253.5 98.6M254.7 85.8L260.6 83.8M270.5 104.5L271.3 98.1M263.6 103.8L254.9 106.2M255.7 89.5L254.8 94.0M233.1 89.6L236.0 99.3M245.3 87.2L243.4 85.9M269.5 88.5L260.7 96.5M267.1 102.7L268.9 99.1M266.7 88.6L260.9 96.7M249.2 93.7L245.2 82.4M246.9 90.0L250.0 97.5M241.6 100.6L235.4 95.9M249.7 85.3L241.3 83.3M273.8 98.6L263.9 104.6M235.9 86.1L244.2 88.8M263.5 89.8L270.0 95.4M257.0 96.2L258.2 94.2M235.1 100.9L240.9 104.5M274.4 101.7L275.4 96.9M255.3 95.4L250.0 91.7M317.5 80.1L313.8 79.7M323.4 69.2L326.6 77.0M303.6 78.7L311.6 79.0M299.1 96.9L297.3 95.2M329.3 92.8L325.5 105.1M326.1 100.2L319.5 96.4M290.5 100.4L286.7 106.6M310.7 94.5L319.4 98.0M323.5 84.1L321.3 71.6M315.0 76.4L316.9 84.3M328.3 76.8L324.7 72.7M288.3 105.8L294.3 107.5M293.0 80.6L292.8 75.9M328.1 100.5L330.9 89.4M278.2 93.7L271.4 89.9M282.6 82.3L274.0 72.9M323.4 78.0L316.1 81.9M276.6 81.9L282.5 79.2M323.7 87.5L332.8 88.1M290.0 81.8L297.3 92.1M306.3 90.7L312.9 85.7M297.9 80.8L307.5 78.9M286.6 95.4L296.4 102.6M282.4 103.6L275.1 103.9M322.0 79.1L311.2 82.8M288.3 105.3L279.6 104.5M299.1 97.6L299.0 104.8M301.7 103.7L307.7 98.7M320.1 74.0L309.7 69.6M289.0 90.7L283.8 99.3M318.5 97.4L322.2 101.1M274.8 88.5L273.7 90.6M327.8 85.0L330.9 78.7M327.4 70.2L319.2 66.5M292.3 104.4L294.2 108.5M301.2 102.5L305.0 100.4M307.2 72.6L308.6 78.0M279.4 78.4L280.0 74.3M315.5 100.0L320.7 101.2M272.6 72.5L272.7 68.3M274.2 105.0L281.7 103.8M304.1 99.7L293.1 106.7M288.1 90.0L293.5 88.4M301.0 93.5L306.6 97.3M283.9 104.9L284.9 99.2M314.5 97.5L312.0 103.0M284.3 72.8L279.9 72.3M301.3 96.5L291.9 106.6M293.0 81.9L292.5 85.0M303.0 98.2L305.1 99.3M317.3 79.5L315.3 79.5M297.6 76.0L302.2 88.2M290.0 80.1L286.8 85.3M327.7 68.6L322.1 75.1M291.3 95.4L287.9 97.1M284.0 94.8L287.7 93.0M317.1 81.2L320.3 79.3M328.8 88.0L324.1 81.7M314.6 95.3L314.9 90.8M304.3 97.9L313.0 87.2M303.2 87.6L304.6 89.6M290.7 98.1L292.7 97.2M313.2 94.5L316.9 99.5M281.6 101.6L291.2 107.2M320.4 84.2L315.0 87.2M300.0 94.8L288.9 99.5M295.3 84.3L292.7 82.3M279.7 78.5L278.6 81.2M275.5 102.3L270.4 90.2M305.9 98.2L318.7 96.3M283.9 89.2L290.3 99.7M283.1 88.1L283.1 94.1M325.9 90.4L315.0 95.4M325.2 69.0L322.7 65.2M308.3 73.3L317.7 73.8M324.7 69.0L323.4 72.2M318.7 73.8L308.6 75.6M309.5 93.2L309.2 85.9M311.2 103.5L312.7 98.4M284.0 92.0L278.2 96.9M307.7 91.7L296.3 88.1M316.2 90.8L324.4 87.5M282.6 71.9L275.8 69.4M314.0 103.3L316.9 101.5M322.2 80.3L316.5 77.6M308.8 103.7L315.3 106.5M304.5 102.0L296.7 97.2M315.5 104.9L305.9 106.4M286.7 102.5L293.0 105.6M305.2 82.8L306.9 89.1M308.1 103.3L304.7 91.5M273.3 92.2L273.5 102.4M318.7 75.3L316.0 78.1M312.9 89.2L302.5 86.0M282.4 104.3L283.6 96.4M284.0 76.9L293.4 80.2M287.2 75.4L282.3 77.6M286.3 77.9L276.1 84.8M278.8 73.3L288.3 76.5M281.6 78.7L283.2 76.7M320.0 92.9L315.5 102.7M304.4 91.6L293.8 83.8M310.5 86.5L316.1 92.1M311.4 86.5L311.6 90.8M301.7 71.5L304.2 69.4M310.7 88.2L309.2 97.9M275.8 102.7L284.0 94.5M291.9 72.9L280.1 78.3M278.3 96.5L281.0 89.5M322.5 84.1L324.7 75.5M289.2 68.0L276.1 72.9M280.6 84.9L277.6 78.0M276.6 104.0L281.2 91.5M291.6 68.1L303.3 73.0M297.1 81.8L296.7 71.6M324.7 98.5L332.6 104.3M316.7 73.6L313.8 71.9M302.6 70.9L301.9 68.5M272.2 97.7L282.4 93.9M298.8 96.7L304.4 99.6M282.0 85.4L279.9 88.4M297.3 72.8L292.7 71.8M316.0 80.8L317.6 68.6M287.2 98.3L289.3 89.0M297.0 92.3L295.6 94.0M327.3 97.7L323.0 100.0M291.3 91.5L289.5 100.8M288.3 76.4L280.2 72.8M319.1 85.5L307.7 86.0M279.0 82.5L286.5 89.2M308.9 70.1L307.1 71.3M325.7 76.2L317.9 65.6M298.4 84.3L295.3 86.5M278.9 95.3L272.2 95.3M301.7 83.9L289.8 86.2M307.2 87.4L315.9 84.5M288.8 100.2L298.5 104.2M275.2 86.6L271.9 85.2M301.8 99.2L312.7 93.2M277.0 72.0L279.6 66.4M325.1 87.7L313.2 84.3M320.6 72.5L319.2 76.8M287.2 102.1L288.9 108.6M290.4 94.9L278.9 95.5M320.5 99.7L309.6 107.3M285.0 88.9L288.3 85.5M289.6 99.2L280.0 108.5M294.0 68.5L290.3 80.9M326.5 78.6L316.3 84.2M299.9 73.8L301.5 68.0M274.8 60.6L281.7 68.5M295.9 53.4L299.6 51.0M274.1 62.7L272.9 68.4M272.8 59.1L280.6 57.2M301.5 67.2L291.6 71.0M301.6 63.5L305.8 64.0M292.7 48.2L303.5 52.7M300.6 51.4L301.0 53.8M286.8 59.6L276.3 58.8M298.4 58.6L297.1 54.7M276.0 67.7L272.6 64.8M290.3 54.2L297.6 55.0M284.1 48.4L292.6 53.8M278.5 54.9L277.3 60.6M297.3 66.0L289.6 59.2M294.1 62.9L287.0 65.2M294.6 56.6L289.9 62.0M276.5 57.2L274.0 68.5M301.8 66.2L306.4 64.0M297.7 64.6L289.1 58.1M284.6 66.9L282.1 68.5M284.3 63.9L291.7 57.5M286.5 63.5L294.0 70.0M275.5 51.2L270.5 48.3M275.0 68.0L274.9 70.0M273.9 50.0L274.4 54.0M283.1 54.2L284.1 48.4M295.2 65.7L290.3 67.9M305.0 49.6L301.9 48.5M282.8 66.4L279.7 66.9M281.7 54.2L290.3 47.2M293.7 61.3L284.5 64.3M304.8 64.1L306.5 62.5M277.0 54.1L286.6 58.8M276.1 62.9L271.8 61.7M284.6 51.9L293.4 56.2M304.2 57.9L295.9 62.3M298.4 63.7L296.8 67.8M291.8 59.0L297.7 66.3M277.1 65.8L277.3 68.5M297.4 65.2L344.7 93.3M299.7 96.4L343.8 88.7M312.4 96.0L347.3 93.5M276.7 96.8L344.4 86.7M277.3 80.9L346.0 86.5M278.4 88.7L348.9 89.8M294.0 84.5L349.8 88.1M272.8 97.6L343.4 89.8M302.6 70.3L344.3 90.7M320.9 92.9L344.0 94.2M305.2 85.9L348.2 87.9M309.8 77.4L349.8 94.6M326.9 96.3L348.6 86.5M297.6 94.6L343.2 90.3M291.0 75.3L343.8 94.2M327.2 61.9L346.3 86.9M322.2 64.7L345.5 94.8M304.2 97.4L343.2 88.8M305.5 94.1L346.8 86.8M282.4 93.1L343.8 86.9M297.1 66.9L344.1 90.1M316.3 76.4L345.4 88.3M292.8 88.9L343.8 88.0M275.4 63.1L344.0 87.8M311.5 81.8L344.5 93.8M279.9 80.4L343.3 88.8M318.8 91.1L318.1 93.5M307.3 98.9L309.6 98.5M319.7 105.1L322.5 95.9M329.2 84.8L335.9 90.6M343.3 80.1L342.5 91.3M323.8 109.7L326.0 109.4M308.7 98.2L307.0 89.9M322.9 89.9L328.6 92.4M306.3 89.0L311.8 88.8M333.5 86.3L333.1 96.4M316.4 96.4L313.7 88.2M321.3 109.8L316.1 104.1M328.6 96.6L331.0 97.4M325.6 92.3L327.5 95.5M324.1 100.9L326.7 104.1M307.8 98.7L313.8 89.4M307.4 84.1L314.6 85.5M339.9 100.5L337.7 100.4M323.4 81.2L331.5 84.3M305.0 88.2L310.0 92.7M317.1 102.3L318.3 100.4M314.4 96.8L308.1 103.4M311.4 104.6L310.5 110.5M320.0 84.6L317.2 86.2M305.6 85.6L308.7 78.4M340.7 83.8L340.4 88.5M321.1 109.0L314.2 109.6M313.9 86.4L309.5 83.0M347.8 89.6L317.1 84.3M348.5 92.2L321.9 86.5M349.5 90.5L326.1 100.6M349.4 88.5L316.6 94.1M345.1 90.3L333.8 100.0M347.4 93.0L335.4 89.6M345.7 93.2L335.8 85.9M346.9 93.0L316.4 93.7M348.6 90.1L325.7 81.9M345.4 90.1L319.1 110.9M345.2 94.0L324.4 99.6M345.7 89.6L339.5 83.8M349.4 90.2L307.2 111.7M349.3 91.1L344.5 87.1M347.1 88.9L320.0 109.5M346.3 93.7L308.4 90.5M346.6 92.8L335.2 80.7M349.4 89.0L343.5 93.4M349.6 93.7L325.6 95.3M346.5 91.8L344.4 82.3M345.1 89.1L305.8 86.8M348.4 88.8L314.4 84.0M349.6 93.5L339.4 110.4M345.5 88.0L315.8 80.3M347.0 88.5L322.3 104.2M345.1 90.5L332.1 100.5M346.2 91.3L353.1 94.7M349.9 90.1L367.8 118.0M345.7 90.9L373.8 97.9M348.6 88.3L367.6 112.6M349.9 92.8L393.8 108.5M346.3 88.6L364.7 99.1M345.7 93.7L388.1 112.3M349.6 88.2L378.6 97.4M347.8 91.3L369.7 122.2M349.3 93.5L380.6 90.8M347.9 92.8L370.7 107.7M349.7 89.0L366.1 97.3M346.2 88.9L374.3 98.7M347.7 88.7L375.0 93.1M348.5 93.7L378.8 122.5M345.4 88.8L385.7 94.1M347.2 93.2L391.2 96.1M348.9 88.3L368.6 122.0M347.8 92.8L373.9 110.1M350.0 93.7L366.9 104.8M346.1 92.8L364.3 104.2M346.5 91.9L365.5 109.0M346.5 90.6L366.4 113.6M349.3 93.3L380.3 108.5M345.7 93.2L365.5 120.3M349.2 88.2L385.3 111.7M349.6 88.7L382.7 100.0M349.0 89.0L357.4 112.1M349.6 89.5L368.7 103.2M349.7 92.0L387.2 88.1M349.3 92.5L368.1 83.3M347.7 92.5L386.6 79.0M345.5 88.2L385.5 71.1M347.9 92.1L371.1 84.3M348.1 88.5L388.1 74.2M345.5 90.6L378.1 67.0M345.1 91.2L357.8 79.1M349.8 90.4L356.8 91.3M348.4 88.4L377.9 90.7M348.8 88.7L352.7 87.8M347.7 88.2L383.7 75.1M349.4 90.7L353.1 90.3M348.3 90.6L360.3 91.9M346.3 88.5L386.9 85.4M365.2 101.2L368.2 100.5M368.2 119.0L364.1 111.8M360.0 95.6L363.1 94.9M347.5 95.1L347.9 104.8M365.1 90.4L372.2 92.2M364.3 102.6L367.5 102.1M362.8 89.2L367.4 91.7M375.6 120.0L382.1 121.8M355.4 115.2L353.0 123.0M371.4 112.8L362.4 111.7M353.8 100.8L350.2 97.2M359.8 89.0L355.4 89.8M361.5 110.1L364.3 111.0M382.9 93.8L389.8 100.0M367.8 112.2L375.4 110.4M353.9 113.7L363.1 114.1M379.7 110.8L381.1 119.8M395.9 122.8L396.5 125.8M372.0 113.6L366.9 113.0M347.3 110.0L356.7 111.5M388.1 102.5L386.5 108.3M358.4 102.3L352.0 105.1M393.8 109.0L393.7 119.0M390.1 95.6L387.9 100.7M360.5 120.9L362.4 126.8M392.6 116.6L385.4 120.7M357.7 86.4L362.0 83.1M358.9 123.2L361.2 121.3M350.8 100.2L343.2 105.0M365.2 98.9L358.2 98.7M369.4 110.5L363.2 111.3M355.4 92.4L353.2 86.1M381.5 91.2L379.7 92.3M379.7 104.9L380.1 102.7M373.7 102.7L371.1 99.9M385.7 87.2L389.6 88.8M390.5 109.6L393.4 105.6M388.3 112.8L392.0 118.4M382.9 118.6L387.6 110.9M379.3 109.4L381.1 113.2M362.4 96.9L357.8 104.1M347.1 108.9L343.5 101.7M383.7 110.9L386.0 111.1M367.9 122.0L370.3 123.9M364.2 112.2L362.0 114.5M374.1 99.3L372.9 100.9M348.0 115.9L345.6 112.0M360.1 104.2L358.4 101.2M373.9 115.1L378.4 114.6M349.9 103.4L345.3 105.0M360.2 92.0L356.3 88.5M361.9 94.8L362.1 97.3M381.5 95.5L383.6 90.3M378.7 116.7L385.4 121.6M346.7 102.5L345.9 97.8M352.8 120.2L356.2 120.6M370.7 106.5L365.3 100.1M358.7 89.7L355.9 89.2M364.2 89.9L367.7 90.1M350.8 99.8L347.1 104.6M391.2 109.3L394.0 109.0M386.3 86.6L393.3 84.2M357.1 92.2L355.7 89.2M349.8 101.2L351.0 107.2M392.5 111.6L391.1 115.4M359.8 107.1L351.4 110.3M376.3 122.3L379.6 119.7M391.1 115.4L393.2 114.1M378.5 93.1L378.3 84.0M393.4 111.9L385.9 107.4M350.6 100.2L352.0 93.0M359.6 98.0L361.7 95.9M386.9 98.3L391.1 89.8M384.5 91.2L386.7 90.5M358.5 114.6L360.1 111.3M374.4 103.8L369.4 108.8M351.8 121.2L356.4 115.7M370.5 121.2L373.1 116.0M375.0 92.2L368.2 97.5M355.8 90.7L361.3 84.5M381.9 88.6L388.7 92.2M387.3 115.3L381.0 118.4M382.6 121.8L373.8 122.9M373.4 119.0L370.7 123.2M371.7 99.0L367.6 101.5M346.9 90.6L350.1 90.8M365.8 121.1L367.6 125.6M370.2 100.0L361.5 95.8M390.9 101.5L395.0 103.5M377.9 86.4L384.4 83.7M375.2 73.5L380.2 75.9M371.5 85.6L371.2 89.2M369.3 65.2L376.2 65.2M361.7 75.5L352.7 73.4M376.5 78.0L383.8 71.9M376.8 69.4L377.4 78.5M365.7 84.8L367.3 86.5M382.8 89.2L386.1 88.5M386.7 81.5L389.0 81.6M352.1 75.0L352.6 70.5M352.1 82.6L355.0 83.3M368.7 76.9L374.9 76.7M381.7 65.9L386.8 64.1M368.7 64.4L374.9 68.0M353.4 82.0L353.1 88.6M377.8 84.3L385.1 90.0M370.8 90.4L361.9 89.8M381.6 80.8L379.2 89.5M363.6 66.6L361.9 67.7M368.0 74.0L370.0 69.3M359.5 65.1L357.3 72.4M378.5 83.3L378.0 77.8M378.2 70.1L372.5 64.9M361.2 88.0L359.1 81.8M374.1 80.0L372.1 71.4M388.9 82.9L380.3 80.9M379.0 71.6L375.4 69.7M381.1 75.3L374.9 80.2M375.5 74.0L376.8 77.5M381.2 91.7L383.0 92.9M365.6 71.2L371.0 71.3M362.1 78.4L352.4 79.5M384.6 88.0L394.0 89.6M362.7 78.0L358.0 77.2M358.3 74.8L362.6 75.7M352.6 73.3L359.3 75.3M377.5 72.3L378.1 67.0M363.5 88.3L360.0 85.3M358.2 66.6L361.0 61.5M373.3 85.7L372.1 89.5M356.9 71.2L354.6 70.9M367.7 87.9L369.8 88.6M388.8 85.6L392.5 85.4M296.5 68.7L337.4 76.8M300.9 64.4L346.9 87.5M308.2 64.5L344.5 83.5M300.0 68.4L338.3 77.1M295.7 55.6L345.1 80.8M323.7 85.5L327.6 85.2M327.7 82.8L323.9 85.0M323.8 76.8L317.7 73.8M331.7 78.8L328.7 79.7M319.6 78.2L320.4 80.9M340.2 81.6L337.2 79.2M342.9 78.6L338.4 75.7M328.4 66.8L326.3 65.2M315.4 66.9L318.6 75.6M325.7 67.5L334.6 69.5M333.1 80.4L328.1 82.1M389.2 68.6L425.6 75.3M388.6 72.3L428.6 79.6M391.4 68.2L429.2 75.3M385.1 70.5L427.3 79.4M448.1 74.0L449.9 76.8M440.5 78.2L435.6 76.9M441.8 77.7L446.8 70.5M419.6 78.0L427.1 76.5M443.4 77.8L449.4 81.2M448.7 76.2L454.8 75.1M445.0 65.0L452.0 62.0M439.1 107.5L444.3 112.0M453.9 109.7L446.1 111.9M447.2 110.4L445.1 102.4M446.2 107.9L442.7 104.4M439.9 112.8L434.5 114.3M453.9 113.2L452.3 117.1M438.2 111.8L437.3 117.6M453.9 108.8L456.3 102.1M433.0 112.2L440.8 110.9M454.0 102.9L457.0 99.2M437.2 107.2L433.1 105.6M455.4 110.7L463.6 124.9M452.9 109.8L467.5 119.0M400.7 162.5L433.3 163.5M409.1 164.0L429.5 155.2M404.3 161.4L426.4 162.8M401.1 159.5L433.0 158.8M400.8 163.2L424.4 159.5M395.0 185.2L391.2 181.9M379.0 189.7L377.0 191.4M381.2 171.4L382.3 168.5M333.9 120.1L348.6 128.2M344.5 111.2L362.9 127.5M339.6 121.2L361.6 132.1" fill="none" stroke="#2fb57a" stroke-width="0.65" stroke-linecap="round"/>
<path d="M58.1 118.8L80.3 170.4M56.6 121.5L81.7 173.5M58.6 125.9L82.7 172.7M57.2 116.1L80.2 167.4M51.2 114.9L82.2 172.0M53.1 120.2L80.1 167.7M59.6 114.1L83.2 172.5M57.9 122.8L82.4 172.4M60.1 129.4L62.5 129.1M61.5 122.0L60.6 119.2M61.0 114.5L58.4 113.1M55.3 121.4L52.4 117.0M55.0 126.8L53.1 129.2M61.0 120.4L63.7 122.3M59.2 118.2L59.0 114.0M58.5 117.5L60.5 119.1M330.4 151.0L318.4 160.1M330.0 151.2L325.8 175.4M330.2 153.9L325.9 172.0M330.8 147.1L314.1 168.5M324.2 157.9L318.7 167.1M328.3 141.8L317.7 170.3M321.5 150.8L319.1 180.9M324.1 157.6L316.3 173.8" fill="none" stroke="#ee1111" stroke-width="1.0" stroke-linecap="round"/>
<path d="M80.3 170.4L78.5 168.8L80.5 167.9zM81.7 173.5L79.7 172.0L81.7 171.1zM82.7 172.7L80.7 171.2L82.6 170.2zM80.2 167.4L78.3 165.8L80.3 164.9zM82.2 172.0L80.1 170.6L82.1 169.6zM80.1 167.7L78.0 166.3L79.9 165.2zM83.2 172.5L81.3 170.9L83.4 170.0zM82.4 172.4L80.4 170.9L82.4 170.0zM62.5 129.1L60.4 130.4L60.2 128.2zM60.6 119.2L62.3 121.0L60.2 121.6zM58.4 113.1L60.9 113.2L59.9 115.1zM52.4 117.0L54.5 118.2L52.7 119.5zM53.1 129.2L53.6 126.8L55.3 128.2zM63.7 122.3L61.3 122.0L62.5 120.2zM59.0 114.0L60.2 116.2L58.0 116.3zM60.5 119.1L58.1 118.6L59.5 116.9zM318.4 160.1L319.4 157.9L320.8 159.7zM325.8 175.4L325.1 173.1L327.3 173.4zM325.9 172.0L325.3 169.6L327.5 170.1zM314.1 168.5L314.6 166.1L316.4 167.4zM318.7 167.1L318.9 164.7L320.8 165.8zM317.7 170.3L317.4 167.8L319.5 168.6zM319.1 180.9L318.2 178.6L320.3 178.7zM316.3 173.8L316.3 171.3L318.3 172.3z" fill="#ee1111"/>
<path d="M54.1 47.7L95.1 37.9M53.7 59.9L84.5 40.3M55.2 57.3L92.1 38.2M48.1 57.9L77.5 31.5M49.0 42.2L83.5 36.2M51.4 47.1L95.8 36.7M47.1 56.5L88.0 34.5M47.8 64.0L89.5 37.2M53.4 63.6L76.5 35.8M53.1 47.6L84.4 26.8M44.9 50.3L78.1 30.0M55.6 54.1L86.7 41.5M50.5 63.9L89.4 39.0M43.1 55.1L91.9 26.7M56.0 45.5L85.9 28.7M49.4 55.4L77.2 41.1M48.3 53.6L88.6 31.8M46.3 56.4L87.8 30.5M52.7 48.5L76.3 29.9M42.6 45.4L91.8 32.2M55.5 58.5L77.1 41.8M56.2 43.6L95.0 32.9M49.2 63.4L81.1 34.4M56.1 57.9L85.8 41.7M54.3 55.3L78.4 36.0M48.8 46.5L77.1 34.4M43.9 51.7L90.0 33.3M45.9 54.8L84.8 38.4M50.0 63.9L96.0 37.7M45.6 44.5L94.7 38.5M51.4 49.9L81.7 37.0M50.5 55.0L89.3 38.1M44.8 47.5L96.6 40.7M55.2 42.9L77.3 30.3M48.4 55.7L78.2 34.7M43.1 43.9L90.2 34.8M51.5 50.2L86.0 29.4M47.2 58.4L93.6 27.2M43.8 59.8L89.1 38.3M45.2 51.3L81.4 39.0M47.5 56.4L96.8 31.2M50.2 58.4L95.3 32.8M47.5 44.1L94.4 27.3M43.2 54.4L86.2 37.0M46.5 59.1L77.6 29.4M51.9 43.8L82.4 37.6M52.4 48.2L79.0 31.7M52.9 50.1L78.5 37.3M50.5 62.2L95.7 40.6M48.6 59.7L82.4 31.1M48.0 62.6L94.8 30.0M47.4 50.0L83.6 32.3M47.8 46.3L87.8 38.8M50.1 60.4L87.8 28.8M53.4 61.4L81.9 26.4M49.7 54.0L87.9 41.5M51.8 59.7L77.3 34.7M53.8 43.8L77.7 37.8M55.5 43.9L89.3 28.3M53.2 56.3L81.2 29.5M53.5 53.5L92.1 32.3M47.1 63.3L90.1 33.9M50.1 57.9L90.9 40.6M48.2 60.2L90.0 39.7M54.1 60.3L94.7 41.3M55.5 28.3L93.5 30.2M54.0 27.0L86.8 29.7M57.9 26.5L87.0 24.8M54.0 25.5L96.6 23.5M53.2 23.4L92.8 30.0M52.3 22.7L90.5 28.3M57.4 22.4L86.3 24.7M52.5 24.8L93.6 28.4M52.6 24.2L88.4 24.6M56.3 25.7L91.6 30.4M54.4 25.1L95.6 31.2M53.4 28.6L96.5 27.3M52.5 22.6L96.4 30.2M53.7 28.3L91.2 25.5M89.1 40.5L87.7 162.5M89.4 41.2L88.1 159.5M143.7 24.9L147.3 34.4M145.0 24.4L148.8 34.0M144.8 24.1L140.2 20.8M143.6 25.8L151.2 30.7M143.3 25.4L150.2 18.3M143.2 24.4L150.8 22.2M143.4 24.4L140.8 33.5M144.6 24.7L144.8 33.7M144.2 24.5L138.6 16.3M144.3 24.6L140.7 35.0M167.9 49.5L174.7 47.5M165.1 48.0L175.7 48.3M166.3 49.2L174.3 49.7M192.7 14.6L200.7 14.1M191.6 13.1L200.9 14.6M115.3 80.1L115.8 77.9M116.7 81.6L117.9 87.3M113.4 82.4L113.8 76.5M114.3 82.2L114.2 80.0M115.2 85.2L117.4 88.0M115.7 82.0L117.6 83.0M122.0 84.3L121.7 81.4M133.3 74.5L133.5 78.4M139.4 72.6L136.3 77.7M136.5 69.4L132.7 72.0M131.5 72.4L129.7 67.3M136.3 77.9L132.8 78.7M138.6 72.8L139.1 70.0M134.1 70.8L131.6 70.0M132.8 71.1L129.7 71.8M139.0 103.0L141.0 108.0M56.7 113.2L82.8 168.9M60.0 114.3L84.8 172.3M59.6 110.2L82.6 170.3M47.2 120.6L82.6 172.6M53.8 110.7L83.0 169.4M46.6 111.8L84.0 168.2M50.7 115.1L83.7 168.8M56.6 113.1L84.6 172.0M48.2 112.5L82.4 172.3M52.1 114.6L85.3 169.4M50.4 114.1L82.1 168.2M46.4 117.6L83.8 172.9M60.6 113.6L84.4 173.5M49.2 118.3L84.3 173.7M59.0 112.8L84.2 168.5M52.4 114.7L81.3 170.3M50.9 116.0L82.4 169.0M52.0 115.7L81.8 172.0M49.6 111.1L82.7 170.5M48.3 117.0L84.5 171.3M56.5 110.3L83.0 170.2M46.9 114.9L81.3 171.0M54.8 115.6L82.6 169.5M46.4 114.2L85.5 171.4M49.9 118.0L81.9 170.8M55.2 121.5L82.8 171.5M60.1 119.3L84.1 171.7M52.2 115.0L82.4 173.0M59.2 114.6L85.5 168.2M48.0 116.1L82.5 170.2M60.7 111.8L82.0 169.4M56.2 112.8L81.0 171.3M51.9 112.9L83.5 171.9M54.2 117.5L83.8 173.0M60.5 114.0L82.7 173.3M50.7 118.6L84.5 172.1M60.5 119.9L81.8 171.7M53.4 116.8L82.8 169.7M57.2 116.4L82.2 169.5M50.9 112.1L83.6 168.8M46.9 110.8L81.5 172.2M47.7 115.4L84.9 170.9M48.4 120.4L85.3 168.3M49.8 116.1L85.0 170.4M56.7 113.0L84.6 170.0M51.0 119.1L85.2 173.0M54.5 115.0L84.5 171.7M58.5 119.6L81.6 170.3M56.0 112.8L81.9 168.1M54.8 121.3L85.9 168.8M93.8 178.7L101.9 183.5M89.5 178.8L109.9 189.2M86.6 179.9L103.3 187.0M93.9 177.8L103.2 187.3M89.9 172.1L105.4 184.5M91.7 174.2L109.6 187.6M87.6 173.0L111.1 185.7M87.2 172.9L115.1 186.9M98.6 179.6L138.0 180.5M102.4 180.9L133.9 179.0M96.5 183.0L134.5 181.1M99.1 181.7L135.0 181.7M138.0 180.1L154.5 199.7M134.1 181.8L152.3 196.8M136.8 179.9L153.4 198.0M139.8 183.9L155.0 197.0M137.6 181.0L136.0 178.6M142.9 179.1L141.1 181.0M136.9 184.4L139.3 185.8M139.5 183.2L139.3 180.2M141.1 184.3L141.5 181.9M203.4 96.5L220.3 114.6M211.9 96.7L217.8 111.8M204.7 99.3L219.9 110.1M204.1 99.7L218.8 108.9M195.8 111.4L217.5 113.4M198.9 108.4L216.3 109.5M203.0 112.7L218.3 114.0M196.1 121.5L216.8 114.8M204.5 108.2L219.1 114.0M213.3 108.4L216.1 109.1M210.4 118.0L219.6 109.1M204.6 96.9L216.6 110.1M213.3 115.3L220.2 108.3M202.3 98.4L217.3 108.8M212.4 105.9L218.4 112.6M211.7 124.4L218.8 111.5M212.1 107.8L217.5 113.2M199.2 107.0L218.1 111.3M201.2 108.9L218.3 108.3M210.7 97.9L218.6 111.8M202.0 102.7L216.5 110.6M200.3 110.5L217.2 113.2M203.7 96.3L218.0 114.8M194.1 113.8L220.8 110.6M206.0 107.1L217.5 112.3M205.8 105.5L218.5 111.6M209.1 97.6L216.5 109.8M199.4 119.9L218.1 114.0M202.6 105.0L201.6 102.9M213.7 120.3L212.2 123.2M210.6 119.1L209.2 117.3M209.5 98.3L206.5 95.4M212.6 114.9L212.7 110.6M195.1 117.6L200.7 117.1M196.4 118.9L193.7 121.5M203.3 100.3L201.2 104.8M196.4 100.2L198.7 96.2M205.4 100.2L207.8 102.4M213.1 112.7L215.6 111.4M202.9 112.0L204.2 109.9M213.2 93.6L217.4 96.6M206.6 89.4L202.3 88.4M205.4 93.4L209.7 91.2M208.4 94.7L207.7 91.6M214.3 93.1L214.0 96.1M204.2 91.8L204.2 94.9M232.9 127.1L257.3 132.8M226.8 125.2L244.1 132.9M229.5 125.0L244.3 135.6M230.2 124.9L241.7 132.3M231.6 127.8L252.4 127.0M229.0 124.0L255.4 139.1M235.8 127.7L260.4 137.9M235.3 122.1L250.8 133.9M232.9 125.7L253.5 139.0M226.9 125.1L261.1 125.5M227.1 127.2L261.1 125.4M226.3 127.0L255.1 132.8M231.8 126.5L257.8 125.0M226.7 126.8L261.5 137.5M230.1 124.0L247.6 125.2M233.7 123.6L252.9 132.9M269.8 127.6L262.7 128.8M269.9 127.6L262.3 128.6M264.3 121.5L263.6 127.8M261.1 136.1L263.5 128.0M264.9 123.9L263.0 127.8M272.6 132.2L262.3 127.4M270.7 120.6L263.9 127.7M267.8 125.8L263.4 128.9M264.9 133.0L263.4 128.8M261.4 117.5L262.9 127.7M267.5 132.2L263.9 127.1M265.7 134.1L262.1 127.6M265.1 132.8L263.1 128.1M254.4 124.1L263.1 128.9M208.4 88.2L206.1 85.9M208.3 92.7L205.1 90.9M210.5 88.1L207.7 93.0M206.8 93.3L210.1 88.9M206.0 88.6L209.1 88.3M206.1 91.0L206.5 95.3M205.9 93.4L205.4 95.8M273.3 104.6L278.6 101.6M273.1 100.1L275.6 93.8M258.2 101.9L257.1 105.1M276.1 88.4L272.0 88.1M273.0 98.4L279.4 94.4M269.5 89.1L268.1 86.8M277.6 102.8L276.4 105.7M270.7 100.9L276.4 100.3M257.0 100.4L263.7 102.9M272.4 101.4L276.2 97.5M276.6 98.9L272.3 99.1M262.5 88.4L266.1 94.1M259.5 99.1L260.5 93.0M266.4 93.4L265.9 96.5M230.5 101.2L256.3 92.4M239.2 95.3L271.6 101.6M233.7 101.2L269.9 101.3M237.0 97.2L257.5 97.6M248.9 102.7L256.3 91.1M232.5 100.3L265.1 92.0M236.2 98.9L272.1 96.4M241.6 100.2L269.2 90.7M243.1 93.5L256.3 97.6M226.4 92.9L264.0 97.5M228.5 103.4L274.6 97.8M240.1 95.8L277.6 91.9M233.3 94.7L274.9 98.1M235.9 96.8L275.4 94.1M245.0 100.5L265.3 95.9M236.5 97.4L262.3 100.0M235.9 95.6L272.8 97.3M237.4 102.6L265.5 96.0M247.6 103.7L273.1 96.4M242.1 100.9L261.8 101.6M248.8 99.9L270.4 97.0M241.7 94.7L272.7 98.6M249.5 96.1L271.4 90.3M236.0 101.2L261.0 99.8M231.3 96.8L277.9 93.1M247.9 92.7L268.4 103.1M246.1 96.7L268.6 101.4M244.3 101.0L268.3 94.0M242.9 98.7L267.5 105.8M229.3 101.4L262.5 101.6M225.4 162.0L221.7 164.3M222.6 161.1L217.4 160.1M226.8 173.8L227.2 175.9M219.5 148.0L218.8 151.0M228.0 172.1L225.5 166.5M226.2 160.6L221.9 163.8M228.2 176.7L231.3 178.3M229.6 163.3L225.7 162.9M227.9 162.5L230.4 162.4M229.9 147.4L232.5 150.9M224.6 150.3L217.5 147.4M221.5 169.9L216.9 166.9M217.6 160.9L222.5 157.4M218.3 160.4L214.4 159.3M223.7 165.9L227.0 166.3M224.9 153.4L230.7 156.3M220.0 175.7L217.6 174.8M224.6 154.9L227.1 149.0M226.4 148.7L228.4 151.2M215.4 151.9L213.9 155.1M227.4 152.5L223.7 148.3M229.0 148.3L225.1 146.7M227.4 154.6L226.7 151.5M222.4 176.1L222.7 179.7M228.8 167.2L231.6 168.5M218.6 155.7L222.0 150.6M229.7 167.1L226.7 164.0M225.8 161.8L230.4 163.6M220.8 162.9L222.8 163.6M229.7 158.1L228.4 160.7M223.9 174.4L226.0 179.0M222.5 170.0L219.3 168.6M261.8 151.1L260.7 152.9M264.8 155.5L261.1 158.4M265.3 150.5L261.2 154.2M259.1 156.8L260.9 155.6M258.1 152.2L258.1 146.3M262.7 159.2L264.3 162.8M264.4 157.4L264.0 151.1M262.7 190.2L262.1 193.4M268.7 184.5L263.5 186.2M272.9 185.4L269.7 189.0M264.1 193.0L265.4 197.0M265.7 182.0L267.7 182.0M265.6 185.6L270.2 185.3M262.7 191.3L263.1 195.2M269.8 192.9L281.5 214.2M266.5 189.2L276.5 217.4M267.7 191.5L275.2 217.8M271.7 187.6L278.9 211.6M264.3 189.3L275.5 217.3M268.6 191.4L281.7 210.6M264.8 186.3L277.7 218.2M282.5 219.1L308.6 216.1M283.4 220.7L309.9 212.6M280.9 216.3L301.9 217.8M281.9 218.6L305.6 215.4M281.7 220.7L304.0 217.1M284.8 216.0L306.6 212.6M285.3 216.4L303.2 216.6M279.5 222.0L264.5 237.2M277.2 220.8L263.5 238.8M276.6 218.8L263.2 237.3M279.5 218.0L267.9 240.4M278.3 219.0L267.0 241.8M247.6 223.6L245.4 218.5M246.9 224.5L248.3 226.3M247.8 222.9L250.2 223.4M248.4 227.5L249.5 225.7M246.8 222.9L245.7 225.4M250.9 226.7L248.7 228.7M243.6 220.1L246.1 221.6M266.9 259.5L263.2 257.0M264.5 254.0L264.1 251.0M265.6 252.5L268.7 253.5M267.8 255.2L265.2 254.1M255.2 221.7L246.0 204.9M258.8 217.7L244.3 203.0M324.2 140.5L311.4 179.9M320.3 157.3L316.4 178.8M327.4 138.5L312.5 189.3M327.8 148.9L316.2 188.3M327.0 155.4L323.5 192.7M330.2 152.8L317.9 181.5M328.1 149.6L323.3 191.6M320.7 154.5L320.2 183.5M332.7 139.1L318.1 176.6M333.3 141.6L319.4 169.5M330.6 148.8L322.0 174.5M332.4 138.2L314.4 187.7M332.3 155.1L315.1 167.5M329.9 154.1L311.9 194.0M327.4 138.7L318.2 175.5M321.5 157.5L325.0 168.8M326.2 144.0L321.1 168.4M324.7 147.0L318.1 178.5M328.3 158.7L325.0 193.1M331.6 143.0L314.7 179.3M329.0 151.3L316.2 195.7M324.4 138.4L312.4 171.5M330.2 156.5L311.6 172.3M323.4 155.3L324.5 173.2M321.4 159.3L325.6 187.2M326.6 154.4L322.5 180.8M323.8 149.6L320.9 175.1M329.0 141.2L325.6 171.6M323.2 159.1L325.3 193.7M331.8 156.7L323.3 182.6M321.0 154.1L323.5 191.0M320.6 139.3L322.0 180.1M333.1 149.9L356.2 150.1M331.3 146.9L354.2 149.6M326.5 149.0L363.1 152.0M329.7 142.1L356.3 150.2M330.4 141.1L345.1 146.0M328.0 142.3L350.5 146.2M324.3 160.0L340.5 180.7M323.7 169.5L341.9 174.5M319.6 164.8L337.8 181.1M274.9 15.3L275.1 12.5M254.5 56.4L255.6 62.4M266.0 31.8L264.3 34.2M268.7 30.5L262.5 25.9M253.8 32.9L251.4 30.6M263.0 13.7L260.5 13.5M255.3 36.9L251.9 36.1M266.0 27.6L265.3 25.4M272.2 34.1L274.1 37.7M267.1 17.5L270.1 15.6M261.9 16.4L253.5 18.8M256.5 21.4L250.3 19.5M255.4 23.3L252.5 21.1M252.7 45.6L257.8 40.0M272.5 23.0L270.2 28.8M266.8 42.4L263.3 41.2M257.7 17.0L263.4 19.1M254.1 54.2L257.0 53.4M275.2 42.3L272.5 45.5M253.6 24.4L258.7 25.0M263.6 23.9L270.8 20.1M264.0 50.7L259.6 56.5M270.7 29.5L270.4 25.1M256.2 32.7L261.5 37.3M258.0 36.4L260.3 30.6M273.8 47.1L271.3 40.4M268.6 56.2L263.1 52.5M265.2 38.1L269.0 36.6M256.6 36.6L253.9 43.0M267.3 13.1L268.9 19.2M261.5 45.0L258.8 45.5M268.6 58.8L273.8 62.2M266.7 41.8L261.2 41.6M275.7 54.0L268.7 57.1M268.0 50.8L270.5 50.8M257.1 23.9L260.6 16.2M257.4 35.8L262.9 31.3M266.1 55.0L268.4 53.8M275.2 26.7L269.7 21.9M259.1 27.4L265.3 23.2M275.4 17.4L270.4 12.3M275.0 47.1L274.4 49.8M256.2 25.2L252.3 23.3M255.6 17.1L259.6 21.0M275.5 30.0L268.0 28.3M252.6 54.0L253.7 47.0M260.2 36.1L262.5 35.2M254.0 43.1L256.9 42.2M256.5 34.6L258.0 28.9M267.8 15.4L269.7 21.2M269.4 17.3L272.9 19.6M261.9 28.7L263.2 30.9M267.5 57.8L261.9 51.5M255.0 41.9L249.8 47.9M266.4 41.9L273.8 37.4M255.3 33.6L260.4 36.6M257.4 45.8L256.1 47.5M273.3 18.9L272.7 24.5M253.4 49.3L252.8 46.5M266.9 19.0L264.3 18.5M258.8 34.2L252.4 32.3M274.2 28.8L272.2 31.6M269.7 30.3L270.5 33.5M262.1 52.3L255.0 55.2M263.3 40.3L263.1 45.2M269.4 17.0L265.8 18.0M259.0 28.9L260.9 34.6M253.0 24.2L252.7 27.5M272.0 45.3L274.3 43.4M256.5 27.7L260.6 20.8M252.4 14.3L249.8 18.6M252.2 29.5L257.8 35.3M257.0 28.0L260.7 35.0M254.7 33.7L255.4 37.3M275.9 46.6L275.5 42.1M275.5 58.4L273.1 55.7M253.2 38.6L260.9 38.5M257.8 59.3L256.1 57.8M257.0 58.1L259.0 51.2M267.9 14.1L271.7 12.5M270.5 38.4L264.9 38.8M274.0 52.2L267.8 57.2M256.2 29.4L255.2 31.5M261.6 13.1L269.2 11.6M263.5 15.9L262.9 23.3M259.0 17.4L253.6 20.1M255.0 30.7L254.8 38.0M253.9 56.0L250.8 55.1M271.6 54.5L277.2 60.5M275.0 29.7L276.8 22.9M265.6 31.2L262.6 38.3M270.8 57.4L276.2 59.9M268.9 23.2L277.1 24.3M270.7 46.5L268.2 50.9M271.5 17.4L270.3 10.5M263.1 57.8L257.6 51.8M256.7 32.2L255.2 37.5M270.1 59.6L276.8 55.3M275.4 47.5L275.2 44.9M261.8 36.0L268.3 41.1M205.2 19.5L228.2 22.1M205.1 19.6L234.8 22.3M201.8 19.5L233.3 21.9M201.8 21.7L229.7 22.5M205.7 19.4L233.6 21.6M205.6 20.3L231.3 20.7M204.6 34.9L248.4 35.4M208.4 35.8L248.2 35.6M210.6 35.7L246.5 34.4M206.2 36.8L248.1 36.6M211.7 35.8L248.0 36.2M208.0 36.8L249.0 35.9M229.9 21.6L262.3 34.2M254.4 27.0L261.2 34.4M237.5 28.6L262.3 32.7M252.1 25.2L260.4 35.0M253.5 66.0L248.3 65.9M269.5 71.2L265.6 71.6M262.9 65.3L266.6 67.9M248.9 64.8L250.7 67.9M248.1 55.3L242.3 52.8M260.5 64.8L260.8 60.9M253.7 64.9L255.2 70.5M269.5 70.9L269.9 73.5M259.7 57.0L261.9 61.6M257.2 62.0L252.1 61.6M264.9 66.7L263.2 60.8M255.0 64.6L256.9 66.2M254.5 65.7L255.1 72.5M249.3 60.8L242.5 62.1M244.9 54.5L242.4 51.7M259.4 46.9L340.1 82.7M262.2 57.7L337.7 89.9M262.4 55.9L341.5 86.7M260.0 37.7L325.6 81.6M272.1 26.0L329.7 83.8M275.4 27.9L334.6 87.1M253.9 56.8L246.9 56.1M265.4 69.7L264.5 66.1M232.0 46.1L236.8 48.9M235.1 58.1L235.3 53.0M266.9 54.2L263.1 54.6M237.2 61.6L239.4 63.8M243.6 66.8L247.1 66.3M241.6 75.0L235.0 71.3M272.0 64.4L272.1 73.3M267.7 42.1L274.1 40.8M241.3 58.1L238.9 65.2M248.0 44.9L251.3 42.2M239.0 65.8L243.2 70.3M249.8 46.1L256.4 44.2M234.2 72.6L229.5 66.5M262.9 47.8L261.6 50.7M264.4 74.2L258.5 71.2M271.1 59.7L267.4 61.2M271.4 46.2L274.4 53.6M233.1 48.7L229.5 48.1M264.8 98.6L273.2 97.3M266.4 87.3L261.0 87.2M266.0 104.1L266.7 106.1M269.4 105.5L265.9 108.6M259.4 99.5L263.1 96.9M253.3 94.5L258.9 94.0M271.5 105.3L275.7 108.9M259.1 86.7L253.1 83.4M247.0 96.3L244.5 98.2M243.0 104.8L239.2 100.4M266.6 102.6L266.8 97.8M255.2 91.8L263.0 95.1M235.5 92.8L237.9 89.5M271.2 85.4L274.2 89.6M259.3 101.7L265.5 97.0M240.0 105.8L245.0 107.3M247.0 85.5L249.6 94.1M273.7 92.2L274.8 96.0M262.9 89.4L261.6 91.0M245.8 91.4L247.8 93.1M249.5 86.7L253.0 85.2M247.8 86.3L249.1 83.3M235.3 92.8L242.5 88.4M252.1 97.2L259.5 100.9M264.4 90.2L266.1 87.5M277.0 78.4L274.3 81.5M284.3 78.7L283.8 75.8M301.3 92.7L309.8 93.8M315.9 77.3L318.3 78.2M322.7 69.6L317.5 65.4M310.2 85.1L304.7 86.8M315.9 71.8L315.2 77.7M296.1 91.2L288.5 97.3M284.4 103.0L292.9 103.9M277.9 79.0L269.7 83.2M279.7 87.4L281.2 81.6M313.9 106.0L315.2 102.2M290.9 88.9L290.9 79.0M321.2 97.7L315.2 92.8M322.5 98.4L324.3 101.8M295.6 104.6L302.5 97.5M305.1 90.6L309.5 98.3M284.3 72.8L288.2 68.1M298.8 75.3L305.4 71.8M322.1 82.8L316.1 83.6M277.3 68.7L273.3 66.0M320.8 97.0L317.6 91.2M286.0 90.1L284.0 86.6M299.0 70.6L296.4 65.8M284.6 95.0L285.8 91.4M272.4 90.2L275.0 89.4M318.5 91.0L318.0 89.0M295.0 69.6L304.4 66.4M313.3 90.6L313.8 87.6M329.1 82.7L327.2 83.6M276.7 103.2L278.7 108.9M314.1 95.7L307.1 98.4M320.4 75.7L315.4 80.1M312.2 89.6L316.0 90.4M292.7 100.9L289.6 98.1M304.9 79.3L312.3 77.7M323.0 82.9L328.7 88.9M282.5 100.4L283.5 91.5M305.2 92.5L309.4 93.2M279.0 70.4L276.5 69.9M300.7 73.9L303.9 81.7M329.2 92.0L326.6 89.8M296.6 101.8L301.1 104.0M286.1 76.5L290.7 82.9M291.6 105.4L290.7 107.4M303.2 72.8L304.0 69.1M274.9 88.5L274.3 86.1M324.5 98.7L324.4 96.6M288.9 75.8L291.9 73.0M295.0 75.9L294.7 73.0M299.0 96.6L296.5 99.6M301.7 75.2L300.5 66.8M285.6 69.9L284.2 71.4M321.2 104.2L316.1 100.8M306.1 81.7L299.4 80.0M321.2 79.2L324.5 83.7M274.8 79.8L277.0 70.2M323.2 80.5L326.4 87.3M314.9 83.5L318.0 77.0M319.5 68.1L320.4 76.7M287.3 100.3L291.6 92.8M277.5 75.4L273.8 74.2M294.0 104.5L296.9 102.7M281.7 97.6L279.9 96.7M327.7 75.0L329.0 72.5M305.4 103.8L314.7 103.6M320.7 103.6L314.5 108.1M321.6 99.2L314.5 94.2M315.9 103.1L323.4 98.1M282.8 80.9L280.7 81.0M288.4 101.1L294.3 100.2M302.0 72.2L292.8 70.1M289.9 92.9L292.2 87.8M297.1 95.1L299.1 99.3M285.4 70.4L285.8 79.1M315.4 83.3L320.0 87.3M288.6 91.9L291.6 88.1M291.0 99.4L295.7 93.5M291.5 103.2L300.6 107.1M313.9 70.3L317.9 77.7M326.2 71.7L319.7 65.7M310.7 103.3L313.1 100.9M276.9 101.9L281.8 100.5M316.5 76.0L313.5 75.8M308.4 73.4L306.4 74.4M328.7 91.4L326.7 94.6M317.5 86.7L315.3 85.7M293.2 85.7L295.1 82.7M274.9 88.4L275.3 90.7M278.3 86.3L274.6 88.1M312.8 69.9L311.2 75.6M286.2 104.7L292.0 102.8M285.5 86.1L294.2 85.6M290.0 70.8L293.9 68.8M276.7 84.0L277.1 79.0M318.6 103.6L314.3 95.6M306.2 71.2L304.4 67.6M318.9 102.1L311.4 103.7M274.8 89.9L269.8 82.0M276.0 75.5L276.5 68.6M298.1 104.9L306.2 108.8M278.5 77.2L277.2 75.2M316.4 79.7L318.3 73.2M286.8 98.1L294.1 94.0M277.4 84.8L282.5 87.1M288.4 88.1L293.7 82.2M318.0 70.1L312.7 70.6M314.1 101.7L323.0 102.1M291.2 69.2L299.4 67.2M299.2 97.6L303.9 93.7M290.4 92.8L295.0 86.6M307.9 74.2L307.0 67.5M314.0 85.5L317.9 86.4M306.3 73.9L303.9 78.6M280.3 78.7L271.4 81.6M313.7 71.9L307.1 77.2M272.0 94.9L271.2 91.0M272.8 79.7L269.3 86.2M276.4 74.3L276.0 72.0M306.5 82.1L303.8 86.7M291.8 98.2L297.4 94.8M311.7 100.1L316.2 103.7M273.6 96.7L276.0 94.8M296.5 91.6L294.1 91.1M295.7 80.9L288.4 75.4M276.6 88.5L271.6 89.8M283.2 85.2L288.6 90.2M289.1 101.1L289.2 104.8M282.9 95.6L287.7 88.1M301.9 92.2L298.0 97.2M275.6 58.3L282.2 53.1M291.3 48.2L289.4 45.9M289.7 60.4L295.3 58.4M280.4 49.7L280.4 45.2M282.3 58.8L279.4 53.4M272.4 64.7L269.2 59.0M280.9 54.9L284.8 53.2M302.1 53.2L293.6 55.6M293.1 58.4L297.9 58.7M276.3 59.3L280.1 58.8M302.7 66.5L301.9 63.4M276.7 60.3L279.6 57.3M297.4 60.8L302.3 65.8M281.6 51.4L279.4 52.0M300.8 48.7L303.1 48.5M284.2 57.5L287.8 63.3M299.0 56.9L303.1 58.4M300.3 67.7L298.7 69.1M300.7 62.1L306.0 63.5M284.0 67.8L276.3 64.1M285.8 54.9L283.2 54.5M285.4 54.3L288.9 61.3M290.9 62.4L288.1 60.2M281.2 51.7L278.3 48.7M276.3 64.4L282.3 70.9M282.8 61.5L286.5 61.1M301.0 54.6L296.0 53.5M289.8 61.7L290.4 57.0M294.9 65.5L289.6 65.2M287.3 51.7L284.3 49.3M294.0 80.5L343.2 90.0M320.8 97.3L346.2 94.9M326.7 64.6L348.7 88.2M305.8 79.6L344.6 87.8M327.2 95.6L345.9 93.4M311.1 75.4L348.7 93.6M291.0 97.6L345.5 88.0M321.8 92.7L344.5 90.7M280.8 91.6L343.8 95.0M322.7 74.9L349.4 90.1M306.0 97.2L343.2 86.1M289.5 82.1L348.2 87.8M345.0 89.2L307.8 80.1M346.3 89.1L342.8 94.3M346.1 90.7L322.6 88.3M347.1 88.3L321.7 113.1M347.6 91.6L307.4 104.3M345.9 90.5L343.3 90.1M347.8 92.5L343.2 110.4M346.1 91.6L317.3 95.6M349.3 89.4L336.4 99.0M349.3 91.3L336.6 104.1M348.6 89.7L317.2 93.1M350.0 90.5L343.9 103.8M349.9 88.6L325.5 106.3M346.9 90.2L340.3 111.8M347.2 90.2L309.1 102.9M345.2 93.6L313.1 108.7M346.3 88.4L310.4 94.9M345.1 89.5L307.8 83.9M349.5 91.1L317.5 98.9M349.2 89.4L339.5 93.9M346.9 91.0L320.3 87.7M347.0 89.7L344.3 105.6M349.9 93.5L334.3 101.6M345.4 89.9L307.9 110.4M346.9 89.3L317.2 88.0M347.6 93.9L324.1 89.3M345.8 89.3L307.1 83.5M347.4 94.0L343.5 107.7M345.9 92.8L306.8 81.4M349.5 90.4L337.7 91.6M348.8 91.4L328.8 106.4M347.1 93.8L318.5 85.7M348.6 88.1L344.7 109.8M347.6 91.9L324.4 113.5M348.3 91.0L329.3 99.1M348.9 93.1L358.0 102.1M346.2 92.6L363.1 92.5M346.7 90.5L384.4 94.9M345.2 90.3L372.5 101.8M345.0 92.8L375.0 121.2M349.0 88.0L368.9 97.0M346.6 92.5L359.6 105.4M345.5 88.2L351.4 107.6M345.6 90.2L359.8 93.5M346.3 89.4L395.8 123.4M348.7 90.9L368.1 96.5M346.1 88.8L378.5 104.7M347.4 88.2L357.4 103.2M348.4 93.6L369.4 97.9M347.9 91.5L369.9 92.2M349.2 89.4L369.1 109.2M345.3 92.1L366.7 115.4M349.0 92.6L357.9 99.6M345.9 91.6L369.1 115.2M349.3 91.1L375.9 121.7M349.8 88.6L361.1 95.9M345.3 93.6L362.5 109.2M347.3 92.0L381.8 119.2M349.3 91.0L350.4 118.1M346.5 90.4L380.3 97.4M345.9 93.7L385.1 122.7M348.9 89.8L380.9 94.8M345.5 93.4L351.6 103.8M345.4 90.9L358.8 98.2M348.6 93.6L373.4 97.8M346.0 90.5L357.3 98.9M347.8 93.4L369.9 102.0M347.5 91.2L376.3 94.2M346.9 90.0L372.9 98.7M347.2 90.1L377.0 123.6M384.4 109.4L386.2 104.8M377.5 97.6L381.3 98.4M365.7 93.6L360.8 94.7M347.6 86.6L350.4 88.6M361.4 104.0L368.3 108.6M356.4 115.1L353.2 108.0M375.7 103.3L372.5 102.6M389.6 89.3L384.7 87.8M386.9 102.9L380.3 100.9M358.6 123.8L360.0 120.8M379.2 94.6L381.8 102.7M388.6 94.5L389.2 103.2M375.4 103.5L372.8 101.3M373.8 122.6L372.3 126.4M377.2 112.2L375.6 106.1M370.4 118.3L372.1 115.9M352.3 93.4L356.0 92.2M389.1 95.4L390.0 99.5M347.0 115.9L344.5 113.2M365.8 110.0L371.3 106.6M373.2 90.3L367.0 85.3M388.6 97.3L391.5 99.2M392.4 112.2L398.7 110.2M357.7 107.3L355.3 102.0M392.5 95.3L386.2 100.5M363.7 102.1L363.3 98.3M383.8 109.1L388.8 104.6M357.6 121.9L355.4 121.9M363.6 119.4L365.3 121.0M372.6 112.0L371.7 109.5M380.8 121.3L382.5 125.3M364.1 116.1L361.3 114.3M390.2 86.8L395.9 91.9M375.2 87.6L374.2 90.3M350.5 94.6L354.2 96.2M365.6 102.9L362.8 97.9M391.4 89.0L383.0 91.5M357.9 89.5L351.9 88.5M371.4 93.2L376.4 88.9M376.7 91.5L378.1 84.6M389.8 98.1L395.6 103.1M379.3 94.6L377.0 91.1M354.1 120.1L348.4 116.5M353.6 87.1L357.4 85.4M393.1 93.0L386.9 96.9M380.1 92.9L373.9 91.0M351.4 114.9L354.7 112.2M353.4 87.3L350.3 85.4M385.0 100.2L383.6 95.0M375.9 97.2L377.7 100.0M369.3 94.9L374.1 87.6M382.4 111.5L388.0 113.6M349.9 91.8L343.3 96.5M374.7 88.2L367.9 88.4M376.6 121.3L385.1 120.4M349.6 123.0L354.2 115.8M345.4 114.3L343.1 122.3M351.3 105.5L346.2 104.0M394.9 93.1L387.0 93.8M381.5 87.9L383.1 85.2M388.6 120.4L385.1 123.0M353.3 117.4L357.8 112.1M392.8 99.9L398.8 104.1M373.0 99.3L373.8 93.7M372.5 113.2L375.7 119.5M348.2 90.5L346.3 96.6M367.5 111.5L372.1 117.5M377.5 107.2L375.6 111.0M395.3 89.7L394.5 97.1M365.0 90.3L361.5 92.7M363.5 99.6L361.3 99.3M347.3 121.9L351.8 120.2M361.0 97.8L365.0 99.8M387.2 122.0L382.7 124.5M379.4 116.0L386.7 118.9M392.7 114.7L392.3 111.3M392.7 109.0L389.7 107.1M377.9 96.6L385.0 92.3M378.5 113.6L383.7 109.6M353.8 113.6L355.5 121.3M359.7 122.6L363.5 116.3M391.6 94.7L397.7 89.5M387.9 116.2L390.2 109.0M369.1 122.5L369.6 119.2M353.6 120.2L351.5 116.9M383.6 104.8L381.7 99.9M390.9 117.8L396.7 122.4M372.8 88.1L368.7 94.7M367.5 92.4L364.8 92.5M350.6 95.8L355.7 96.0M386.1 114.8L384.4 107.1M395.9 98.5L390.0 95.6M355.7 111.6L352.9 113.5M361.7 123.0L356.3 126.6M381.8 96.8L386.4 104.0M345.5 100.6L350.3 97.7M380.5 105.9L378.1 104.2M385.1 96.1L383.3 87.4M349.2 116.4L352.0 117.2M376.9 116.8L374.8 114.1M387.8 94.8L379.4 97.3M365.3 95.0L364.4 98.4M390.5 97.6L392.6 98.1M383.4 108.5L379.9 108.4M382.0 120.0L385.8 119.9M380.7 100.2L376.8 100.2M350.8 116.5L350.9 118.5M355.7 96.3L360.6 100.2M358.1 101.2L350.8 97.1M353.6 98.7L349.9 103.1M375.4 87.7L374.9 85.0M392.7 103.5L389.3 107.0M370.9 104.7L366.9 104.0M372.8 114.0L365.5 115.0M384.4 101.5L378.1 97.7M362.4 115.2L365.8 111.7M347.9 96.3L343.0 89.7M379.1 112.2L375.2 109.3M384.5 117.5L392.3 115.4M376.0 108.8L371.4 113.7M380.3 122.9L376.4 125.3M371.3 105.4L377.1 109.1M366.0 110.2L365.8 107.6M393.0 119.9L396.2 117.7M379.3 114.2L381.9 115.4M392.0 117.7L397.9 115.2M369.2 108.6L373.3 107.1M352.8 119.5L359.6 120.4M361.6 117.5L363.2 115.1M367.3 107.2L374.9 109.4M369.0 100.2L366.9 102.4M389.8 122.2L391.3 119.9M388.4 89.8L384.1 95.8M378.0 91.5L383.0 94.9M391.0 106.6L389.4 110.0M378.7 107.1L374.0 104.1M373.9 113.8L371.3 117.8M372.2 103.5L369.8 99.3M371.4 104.8L374.6 104.6M365.3 116.1L365.8 114.1M372.8 112.6L380.4 113.6M358.2 118.9L363.7 117.4M377.1 109.4L376.1 105.9M388.2 101.8L392.5 96.3M365.7 119.0L360.9 119.9M346.6 91.9L352.0 94.9M383.5 86.0L389.6 85.9M350.4 104.4L347.3 107.0M393.3 123.6L396.6 115.9M378.8 91.1L381.5 91.9M376.6 116.8L376.0 113.3M367.2 87.4L367.0 93.8M351.8 89.7L348.2 95.7M346.0 103.9L344.9 106.3M350.8 111.3L347.7 115.3M383.1 94.5L381.5 98.2M394.5 117.3L391.6 117.8M380.7 109.6L386.1 105.2M369.6 88.2L368.5 91.8M377.7 115.4L379.7 114.4M366.1 108.9L367.1 101.7M354.4 91.3L357.7 87.7M375.0 87.1L377.4 83.4M380.7 88.9L379.9 85.0M354.8 100.7L360.9 100.2M345.4 88.2L347.0 83.1M364.9 120.8L373.4 118.4M347.3 99.4L352.9 94.8M357.1 119.2L364.8 115.3M384.4 87.9L392.0 91.1M354.6 67.4L351.7 68.8M352.0 87.5L358.3 87.0M367.7 73.4L366.5 77.5M355.4 66.7L353.6 70.3M384.2 68.4L386.1 65.7M352.6 80.1L352.2 83.4M375.7 70.4L378.8 76.3M384.1 88.4L383.8 92.7M370.4 71.9L369.3 76.8M356.7 78.5L350.5 83.4M367.0 64.6L361.9 61.9M387.6 82.0L388.5 85.8M363.1 84.2L358.8 82.8M384.0 85.1L381.5 86.8M359.5 74.4L357.9 77.3M353.6 79.9L361.0 78.0M367.4 73.7L366.5 70.0M361.1 80.9L362.3 85.8M381.9 71.6L386.4 71.7M356.2 83.0L358.6 84.0M381.2 90.6L379.8 88.7M364.5 72.6L363.0 68.8M385.9 80.0L389.8 81.5M358.8 86.2L364.5 88.5M362.0 88.9L363.6 90.5M378.7 68.4L383.4 73.5M386.2 86.6L389.2 80.8M367.1 88.9L372.7 83.9M366.8 90.4L362.8 89.2M359.3 80.6L362.3 75.5M357.1 64.1L362.9 62.1M356.9 86.0L356.9 83.8M357.9 89.4L354.0 83.2M362.7 68.7L361.4 62.5M367.2 75.2L363.0 79.5M389.5 65.1L389.6 67.7M359.2 85.6L359.9 83.7M360.1 83.1L359.0 89.0M384.2 91.9L384.5 94.6M368.1 64.8L364.2 69.5M354.1 77.1L357.3 72.7M366.2 71.7L362.6 65.5M367.9 90.9L366.6 92.4M360.7 83.3L355.4 79.6M363.2 89.5L358.1 84.5M381.8 68.4L386.7 69.3M362.3 83.3L356.3 78.6M386.2 86.8L383.8 84.8M353.0 87.4L354.6 91.9M366.4 81.9L367.7 74.3M377.3 83.9L380.4 85.9M355.1 83.9L349.9 78.2M371.9 74.9L365.7 70.5M382.7 78.6L383.1 80.6M369.6 87.0L374.0 86.0M355.7 65.1L355.5 61.1M379.6 83.8L378.1 78.5M389.1 85.5L384.8 88.5M390.1 79.4L392.7 79.1M368.6 65.1L371.9 66.1M382.1 66.5L386.9 71.3M371.0 74.1L374.9 73.3M361.9 86.7L363.1 81.8M378.6 74.4L376.9 75.9M386.5 66.3L381.1 62.9M391.9 69.8L391.1 67.9M391.5 85.2L393.8 83.1M386.1 79.5L388.1 82.2M376.7 66.4L378.6 73.7M391.7 82.5L392.6 87.8M364.9 68.9L369.3 67.7M384.5 90.9L383.9 93.2M378.1 78.6L376.2 79.7M361.0 64.0L353.1 63.0M356.1 69.9L359.6 74.1M391.7 88.8L391.7 83.7M362.2 78.7L368.9 80.7M367.0 76.4L363.0 71.1M389.8 86.2L391.0 81.4M358.3 86.2L358.7 83.8M326.1 104.1L335.3 138.1M327.4 103.5L327.6 134.0M338.2 108.2L323.5 129.7M322.3 102.6L331.2 135.2M337.9 113.9L338.6 125.1M445.8 75.0L441.6 80.0M427.5 75.5L423.0 77.5M431.1 76.9L425.1 80.6M438.5 75.5L434.0 80.9M435.6 73.0L432.3 71.1M443.3 73.1L441.7 74.9M421.2 76.7L423.1 77.7M432.2 76.6L427.0 74.2M449.3 79.5L447.0 80.0M425.1 75.8L422.0 72.9M433.9 75.6L439.3 77.5M428.4 74.5L431.4 80.1M435.8 78.2L440.7 79.3M433.3 77.3L430.8 78.7M453.9 79.5L452.0 82.4M433.3 75.3L429.2 77.2M431.9 79.9L436.6 80.7M419.1 78.8L419.3 75.2M446.8 109.3L450.3 106.6M449.2 108.1L448.1 111.7M456.6 102.5L456.2 99.6M449.6 108.4L444.2 111.7M456.8 103.3L457.2 106.9M437.8 113.2L439.2 115.1M443.4 105.9L446.4 103.5M435.1 105.7L430.0 105.1M442.9 112.4L442.5 109.0M437.6 113.5L441.9 111.2M450.8 104.1L447.9 106.3M447.0 107.2L446.4 110.5M452.1 103.5L453.7 108.3M442.0 106.7L442.9 109.1M450.4 113.1L453.4 112.5M456.1 103.4L452.5 107.4M435.5 109.4L437.9 112.0M451.3 104.0L449.2 103.9M451.9 113.8L449.1 113.3M439.7 107.3L435.9 102.8M434.5 102.3L432.6 99.6M440.7 111.0L439.4 108.6M448.3 107.4L449.7 110.1M433.4 102.4L430.8 102.9M444.9 106.4L448.2 109.7M433.5 114.0L431.2 107.5M454.3 115.0L455.6 120.3M450.3 116.0L455.9 127.3M449.4 113.8L456.0 122.7M450.6 115.0L455.5 122.1M450.7 112.5L454.1 125.5M419.9 99.6L419.2 102.1M419.3 103.4L415.1 103.4M419.9 101.0L415.8 101.3M414.0 107.5L413.0 103.6M409.3 102.2L411.3 102.9M413.4 107.4L418.1 106.2M395.6 102.3L411.9 89.8M399.3 98.8L406.8 89.3M396.6 101.3L408.3 93.7M404.6 99.9L408.8 90.3M415.7 164.5L419.0 160.1M411.3 160.1L414.4 161.1M427.3 162.2L423.8 160.5M425.0 155.2L430.1 156.0M420.1 157.0L416.6 159.1M360.3 130.9L364.5 131.9M354.3 127.0L357.4 123.9M361.5 128.3L360.6 124.8M357.1 125.8L358.7 127.1M351.9 128.0L356.7 130.8M358.5 126.4L359.3 123.7M354.8 153.3L356.9 149.0M354.3 154.7L356.4 155.3M351.8 148.7L347.6 146.7M377.6 161.1L373.2 162.3M367.0 161.9L364.9 163.1M355.2 164.5L357.2 166.8" fill="none" stroke="#2452e0" stroke-width="0.75" stroke-linecap="round"/>
<path d="M95.1 37.9L93.6 39.1L93.2 37.5zM84.5 40.3L83.4 42.0L82.6 40.6zM92.1 38.2L90.9 39.8L90.1 38.4zM77.5 31.5L76.7 33.3L75.6 32.1zM83.5 36.2L81.8 37.3L81.6 35.7zM95.8 36.7L94.3 37.8L93.9 36.3zM88.0 34.5L86.8 36.1L86.0 34.7zM89.5 37.2L88.4 38.9L87.5 37.5zM76.5 35.8L75.9 37.7L74.7 36.7zM84.4 26.8L83.4 28.5L82.5 27.1zM78.1 30.0L76.9 31.6L76.1 30.3zM86.7 41.5L85.3 42.9L84.7 41.4zM89.4 39.0L88.3 40.6L87.5 39.3zM91.9 26.7L90.8 28.3L90.0 26.9zM85.9 28.7L84.7 30.3L83.9 28.9zM77.2 41.1L76.0 42.7L75.3 41.2zM88.6 31.8L87.4 33.4L86.6 32.0zM87.8 30.5L86.7 32.2L85.8 30.8zM76.3 29.9L75.4 31.7L74.4 30.4zM91.8 32.2L90.3 33.5L89.9 31.9zM77.1 41.8L76.1 43.6L75.1 42.3zM95.0 32.9L93.5 34.1L93.1 32.6zM81.1 34.4L80.3 36.2L79.2 35.0zM85.8 41.7L84.6 43.2L83.9 41.8zM78.4 36.0L77.5 37.7L76.5 36.5zM77.1 34.4L75.8 35.9L75.1 34.4zM90.0 33.3L88.7 34.7L88.1 33.2zM84.8 38.4L83.5 39.9L82.8 38.4zM96.0 37.7L94.8 39.3L94.0 37.9zM94.7 38.5L93.1 39.6L92.9 38.0zM81.7 37.0L80.4 38.4L79.7 36.9zM89.3 38.1L88.0 39.5L87.3 38.0zM96.6 40.7L94.9 41.7L94.7 40.1zM77.3 30.3L76.1 31.9L75.3 30.5zM78.2 34.7L77.1 36.4L76.2 35.1zM90.2 34.8L88.6 35.9L88.3 34.4zM86.0 29.4L84.9 31.0L84.1 29.6zM93.6 27.2L92.6 28.9L91.7 27.5zM89.1 38.3L87.8 39.8L87.1 38.3zM81.4 39.0L80.0 40.3L79.5 38.8zM96.8 31.2L95.5 32.7L94.8 31.3zM95.3 32.8L94.2 34.4L93.4 33.0zM94.4 27.3L93.0 28.6L92.4 27.1zM86.2 37.0L84.8 38.4L84.2 36.9zM77.6 29.4L76.8 31.2L75.7 30.1zM82.4 37.6L80.8 38.7L80.5 37.2zM79.0 31.7L77.9 33.4L77.0 32.0zM78.5 37.3L77.2 38.9L76.5 37.4zM95.7 40.6L94.5 42.1L93.8 40.7zM82.4 31.1L81.5 32.9L80.5 31.6zM94.8 30.0L93.8 31.7L92.9 30.3zM83.6 32.3L82.4 33.8L81.7 32.4zM87.8 38.8L86.2 39.9L85.9 38.3zM87.8 28.8L87.0 30.6L85.9 29.4zM81.9 26.4L81.4 28.3L80.2 27.2zM87.9 41.5L86.5 42.8L86.0 41.3zM77.3 34.7L76.6 36.6L75.5 35.4zM77.7 37.8L76.2 39.0L75.8 37.5zM89.3 28.3L88.0 29.8L87.3 28.3zM81.2 29.5L80.4 31.3L79.3 30.2zM92.1 32.3L90.9 33.9L90.1 32.5zM90.1 33.9L89.1 35.6L88.2 34.3zM90.9 40.6L89.5 42.1L88.9 40.6zM90.0 39.7L88.7 41.2L88.0 39.7zM94.7 41.3L93.4 42.8L92.7 41.4zM93.5 30.2L91.7 30.9L91.8 29.3zM86.8 29.7L84.9 30.3L85.0 28.7zM87.0 24.8L85.3 25.7L85.2 24.1zM96.6 23.5L94.9 24.4L94.8 22.8zM92.8 30.0L90.9 30.5L91.1 28.9zM90.5 28.3L88.6 28.8L88.8 27.2zM86.3 24.7L84.4 25.3L84.6 23.7zM93.6 28.4L91.7 29.0L91.9 27.4zM88.4 24.6L86.6 25.3L86.6 23.7zM91.6 30.4L89.7 30.9L89.9 29.3zM95.6 31.2L93.8 31.8L94.0 30.2zM96.5 27.3L94.7 28.2L94.7 26.6zM96.4 30.2L94.5 30.7L94.7 29.1zM91.2 25.5L89.5 26.4L89.3 24.8zM87.7 162.5L87.0 160.6L88.6 160.7zM88.1 159.5L87.3 157.7L88.9 157.7zM147.3 34.4L145.9 33.0L147.4 32.4zM148.8 34.0L147.4 32.6L148.9 32.0zM140.2 20.8L142.1 21.2L141.2 22.5zM151.2 30.7L149.3 30.4L150.1 29.0zM150.2 18.3L149.5 20.2L148.4 19.1zM150.8 22.2L149.3 23.5L148.8 21.9zM140.8 33.5L140.5 31.6L142.1 32.0zM144.8 33.7L144.0 32.0L145.6 31.9zM138.6 16.3L140.3 17.3L139.0 18.2zM140.7 35.0L140.5 33.0L142.0 33.5zM174.7 47.5L173.2 48.7L172.8 47.2zM175.7 48.3L173.9 49.1L174.0 47.5zM174.3 49.7L172.4 50.4L172.5 48.8zM200.7 14.1L199.0 15.0L198.9 13.4zM200.9 14.6L199.0 15.1L199.3 13.5zM115.8 77.9L116.2 79.9L114.6 79.5zM117.9 87.3L116.8 85.7L118.3 85.4zM113.8 76.5L114.5 78.3L112.9 78.2zM114.2 80.0L115.1 81.8L113.5 81.9zM117.4 88.0L115.7 87.1L116.9 86.1zM117.6 83.0L115.6 82.8L116.4 81.4zM121.7 81.4L122.6 83.1L121.1 83.3zM133.5 78.4L132.6 76.6L134.2 76.5zM136.3 77.7L136.6 75.7L137.9 76.6zM132.7 72.0L133.7 70.3L134.7 71.7zM129.7 67.3L131.0 68.7L129.5 69.3zM132.8 78.7L134.4 77.5L134.8 79.1zM139.1 70.0L139.6 71.9L138.0 71.6zM131.6 70.0L133.6 69.8L133.1 71.3zM129.7 71.8L131.3 70.6L131.6 72.2zM141.0 108.0L139.6 106.6L141.1 106.0zM82.8 168.9L81.3 167.6L82.8 167.0zM84.8 172.3L83.4 171.0L84.9 170.4zM82.6 170.3L81.2 168.9L82.7 168.3zM82.6 172.6L81.0 171.6L82.3 170.7zM83.0 169.4L81.5 168.2L82.9 167.5zM84.0 168.2L82.3 167.1L83.6 166.2zM83.7 168.8L82.1 167.7L83.5 166.9zM84.6 172.0L83.1 170.7L84.6 170.0zM82.4 172.3L80.8 171.1L82.2 170.3zM85.3 169.4L83.7 168.2L85.1 167.4zM82.1 168.2L80.5 167.1L81.9 166.3zM83.8 172.9L82.2 171.8L83.5 170.9zM84.4 173.5L82.9 172.1L84.4 171.5zM84.3 173.7L82.7 172.6L84.0 171.8zM84.2 168.5L82.7 167.2L84.2 166.6zM81.3 170.3L79.8 169.1L81.2 168.3zM82.4 169.0L80.8 167.8L82.2 167.0zM81.8 172.0L80.3 170.8L81.7 170.0zM82.7 170.5L81.1 169.4L82.5 168.6zM84.5 171.3L82.8 170.3L84.2 169.4zM83.0 170.2L81.5 168.9L83.0 168.2zM81.3 171.0L79.7 169.9L81.0 169.0zM82.6 169.5L81.1 168.3L82.5 167.6zM85.5 171.4L83.8 170.4L85.1 169.5zM81.9 170.8L80.3 169.7L81.7 168.9zM82.8 171.5L81.2 170.3L82.6 169.5zM84.1 171.7L82.7 170.4L84.1 169.8zM82.4 173.0L80.8 171.8L82.3 171.0zM85.5 168.2L84.0 167.0L85.5 166.3zM82.5 170.2L80.9 169.1L82.2 168.2zM82.0 169.4L80.6 168.0L82.1 167.4zM81.0 171.3L79.6 169.9L81.0 169.3zM83.5 171.9L81.9 170.7L83.3 169.9zM83.8 173.0L82.3 171.8L83.7 171.0zM82.7 173.3L81.4 171.9L82.9 171.4zM84.5 172.1L82.8 171.0L84.2 170.2zM81.8 171.7L80.4 170.4L81.9 169.8zM82.8 169.7L81.3 168.5L82.7 167.8zM82.2 169.5L80.7 168.2L82.1 167.5zM83.6 168.8L82.0 167.6L83.4 166.8zM81.5 172.2L79.9 171.1L81.3 170.3zM84.9 170.9L83.2 169.8L84.5 168.9zM85.3 168.3L83.6 167.4L84.9 166.4zM85.0 170.4L83.3 169.3L84.7 168.4zM84.6 170.0L83.1 168.7L84.5 168.0zM85.2 173.0L83.6 171.9L84.9 171.0zM84.5 171.7L83.0 170.5L84.4 169.8zM81.6 170.3L80.1 169.0L81.6 168.3zM81.9 168.1L80.4 166.8L81.9 166.1zM85.9 168.8L84.2 167.7L85.5 166.9zM101.9 183.5L99.9 183.2L100.7 181.8zM109.9 189.2L107.9 189.1L108.6 187.7zM103.3 187.0L101.3 187.1L102.0 185.6zM103.2 187.3L101.3 186.6L102.5 185.5zM105.4 184.5L103.5 184.0L104.5 182.8zM109.6 187.6L107.7 187.1L108.7 185.8zM111.1 185.7L109.1 185.6L109.9 184.2zM115.1 186.9L113.1 186.8L113.8 185.4zM138.0 180.5L136.2 181.2L136.2 179.6zM133.9 179.0L132.1 179.9L132.0 178.3zM134.5 181.1L132.8 182.0L132.7 180.4zM135.0 181.7L133.2 182.5L133.2 180.9zM154.5 199.7L152.7 198.9L153.9 197.9zM152.3 196.8L150.4 196.3L151.5 195.0zM153.4 198.0L151.5 197.2L152.7 196.2zM155.0 197.0L153.1 196.4L154.1 195.2zM136.0 178.6L137.7 179.7L136.4 180.6zM141.1 181.0L141.8 179.1L143.0 180.2zM139.3 185.8L137.3 185.5L138.1 184.2zM139.3 180.2L140.2 182.0L138.6 182.1zM141.5 181.9L142.0 183.8L140.4 183.5zM220.3 114.6L218.5 113.8L219.7 112.7zM217.8 111.8L216.4 110.4L217.8 109.8zM219.9 110.1L218.0 109.7L218.9 108.4zM218.8 108.9L216.9 108.6L217.7 107.3zM217.5 113.4L215.6 114.1L215.8 112.5zM216.3 109.5L214.4 110.2L214.5 108.6zM218.3 114.0L216.4 114.6L216.6 113.0zM216.8 114.8L215.3 116.1L214.8 114.6zM219.1 114.0L217.1 114.1L217.7 112.6zM216.1 109.1L214.1 109.4L214.5 107.9zM219.6 109.1L218.8 110.9L217.7 109.8zM216.6 110.1L214.8 109.3L215.9 108.2zM220.2 108.3L219.5 110.2L218.4 109.0zM217.3 108.8L215.4 108.4L216.3 107.1zM218.4 112.6L216.6 111.8L217.8 110.7zM218.8 111.5L218.7 113.5L217.3 112.7zM217.5 113.2L215.7 112.5L216.8 111.3zM218.1 111.3L216.2 111.7L216.6 110.2zM218.3 108.3L216.5 109.2L216.4 107.6zM218.6 111.8L217.1 110.7L218.4 109.9zM216.5 110.6L214.5 110.4L215.3 109.0zM217.2 113.2L215.2 113.7L215.5 112.2zM218.0 114.8L216.3 113.8L217.6 112.9zM220.8 110.6L219.1 111.6L218.9 110.0zM217.5 112.3L215.5 112.3L216.2 110.8zM218.5 111.6L216.5 111.5L217.2 110.1zM216.5 109.8L214.8 108.6L216.2 107.8zM218.1 114.0L216.6 115.3L216.2 113.8zM201.6 102.9L203.1 104.2L201.7 104.9zM212.2 123.2L212.3 121.2L213.7 122.0zM209.2 117.3L210.9 118.2L209.7 119.2zM206.5 95.4L208.4 96.1L207.2 97.2zM212.7 110.6L213.5 112.4L211.9 112.4zM200.7 117.1L199.0 118.0L198.9 116.4zM193.7 121.5L194.4 119.7L195.5 120.8zM201.2 104.8L201.2 102.8L202.7 103.5zM198.7 96.2L198.5 98.2L197.1 97.4zM207.8 102.4L205.9 101.7L207.0 100.6zM215.6 111.4L214.4 112.9L213.7 111.5zM204.2 109.9L203.9 111.9L202.6 111.0zM217.4 96.6L215.4 96.2L216.4 94.9zM202.3 88.4L204.2 88.0L203.9 89.6zM209.7 91.2L208.4 92.7L207.7 91.3zM207.7 91.6L208.9 93.2L207.3 93.5zM214.0 96.1L213.4 94.2L215.0 94.4zM204.2 94.9L203.4 93.1L205.0 93.2zM257.3 132.8L255.3 133.2L255.7 131.6zM244.1 132.9L242.1 132.9L242.7 131.4zM244.3 135.6L242.4 135.2L243.3 133.9zM241.7 132.3L239.8 132.0L240.6 130.7zM252.4 127.0L250.6 127.9L250.5 126.3zM255.4 139.1L253.5 138.9L254.3 137.5zM260.4 137.9L258.4 137.9L259.0 136.5zM250.8 133.9L248.9 133.4L249.8 132.1zM253.5 139.0L251.5 138.7L252.4 137.4zM261.1 125.5L259.3 126.3L259.3 124.7zM261.1 125.4L259.3 126.3L259.2 124.7zM255.1 132.8L253.2 133.2L253.5 131.7zM257.8 125.0L256.0 125.9L255.9 124.3zM261.5 137.5L259.5 137.7L260.0 136.2zM247.6 125.2L245.8 125.9L245.9 124.3zM252.9 132.9L250.9 132.8L251.6 131.4zM262.7 128.8L264.3 127.7L264.6 129.3zM262.3 128.6L264.0 127.6L264.2 129.1zM263.6 127.8L263.0 125.9L264.6 126.1zM263.5 128.0L263.7 129.9L262.2 129.5zM263.0 127.8L263.1 125.8L264.5 126.5zM262.3 127.4L264.3 127.4L263.6 128.9zM263.9 127.7L264.5 125.8L265.7 126.9zM263.4 128.9L264.4 127.2L265.4 128.5zM263.4 128.8L264.7 130.2L263.2 130.7zM262.9 127.7L261.9 126.1L263.4 125.8zM263.9 127.1L265.6 128.1L264.3 129.1zM262.1 127.6L263.7 128.8L262.3 129.6zM263.1 128.1L264.5 129.4L263.1 130.1zM263.1 128.9L261.1 128.7L261.9 127.3zM206.1 85.9L207.9 86.6L206.8 87.7zM205.1 90.9L207.0 91.1L206.3 92.5zM207.7 93.0L207.9 91.0L209.3 91.8zM210.1 88.9L209.7 90.8L208.4 89.8zM209.1 88.3L207.4 89.3L207.2 87.7zM206.5 95.3L205.5 93.6L207.1 93.4zM205.4 95.8L205.0 93.8L206.5 94.2zM278.6 101.6L277.4 103.2L276.6 101.8zM275.6 93.8L275.7 95.7L274.2 95.1zM257.1 105.1L256.9 103.2L258.4 103.7zM272.0 88.1L273.9 87.4L273.8 89.0zM279.4 94.4L278.3 96.0L277.5 94.6zM268.1 86.8L269.7 88.0L268.3 88.8zM276.4 105.7L276.3 103.7L277.8 104.3zM276.4 100.3L274.7 101.3L274.5 99.7zM263.7 102.9L261.8 103.0L262.3 101.6zM276.2 97.5L275.6 99.3L274.4 98.2zM272.3 99.1L274.1 98.2L274.2 99.8zM266.1 94.1L264.4 93.0L265.8 92.2zM260.5 93.0L261.0 94.9L259.4 94.7zM265.9 96.5L265.4 94.6L267.0 94.8zM256.3 92.4L254.9 93.7L254.3 92.2zM271.6 101.6L269.6 102.1L269.9 100.5zM269.9 101.3L268.1 102.1L268.1 100.5zM257.5 97.6L255.6 98.4L255.7 96.8zM256.3 91.1L256.0 93.1L254.6 92.2zM265.1 92.0L263.5 93.3L263.1 91.7zM272.1 96.4L270.4 97.4L270.3 95.8zM269.2 90.7L267.7 92.1L267.2 90.6zM256.3 97.6L254.3 97.8L254.8 96.3zM264.0 97.5L262.1 98.1L262.3 96.5zM274.6 97.8L272.9 98.8L272.7 97.2zM277.6 91.9L275.9 92.9L275.8 91.3zM274.9 98.1L273.0 98.8L273.2 97.2zM275.4 94.1L273.7 95.0L273.6 93.4zM265.3 95.9L263.7 97.0L263.4 95.5zM262.3 100.0L260.4 100.6L260.5 99.0zM272.8 97.3L270.9 98.0L271.0 96.4zM265.5 96.0L263.9 97.2L263.5 95.6zM273.1 96.4L271.6 97.7L271.1 96.1zM261.8 101.6L260.0 102.3L260.0 100.7zM270.4 97.0L268.7 98.0L268.5 96.4zM272.7 98.6L270.8 99.2L271.0 97.6zM271.4 90.3L269.8 91.5L269.4 90.0zM261.0 99.8L259.2 100.7L259.1 99.1zM277.9 93.1L276.1 94.1L276.0 92.5zM268.4 103.1L266.4 103.0L267.2 101.6zM268.6 101.4L266.7 101.8L267.0 100.2zM268.3 94.0L266.8 95.3L266.4 93.8zM267.5 105.8L265.6 106.1L266.0 104.5zM262.5 101.6L260.7 102.4L260.7 100.8zM221.7 164.3L222.8 162.6L223.6 164.0zM217.4 160.1L219.4 159.7L219.1 161.2zM227.2 175.9L226.1 174.2L227.7 174.0zM218.8 151.0L218.4 149.1L220.0 149.4zM225.5 166.5L227.0 167.8L225.5 168.4zM221.9 163.8L222.9 162.1L223.8 163.4zM231.3 178.3L229.3 178.2L230.1 176.8zM225.7 162.9L227.6 162.3L227.4 163.9zM230.4 162.4L228.6 163.3L228.5 161.7zM232.5 150.9L230.8 149.9L232.1 149.0zM217.5 147.4L219.5 147.3L218.9 148.8zM216.9 166.9L218.9 167.2L218.0 168.5zM222.5 157.4L221.5 159.1L220.6 157.8zM214.4 159.3L216.3 159.0L215.9 160.6zM227.0 166.3L225.1 166.9L225.3 165.3zM230.7 156.3L228.8 156.3L229.5 154.8zM217.6 174.8L219.5 174.7L219.0 176.2zM227.1 149.0L227.1 151.0L225.6 150.4zM228.4 151.2L226.7 150.3L227.9 149.3zM213.9 155.1L214.0 153.1L215.4 153.8zM223.7 148.3L225.4 149.1L224.2 150.1zM225.1 146.7L227.0 146.6L226.4 148.1zM226.7 151.5L227.8 153.1L226.3 153.5zM222.7 179.7L221.7 178.0L223.3 177.9zM231.6 168.5L229.6 168.5L230.3 167.0zM222.0 150.6L221.7 152.5L220.4 151.6zM226.7 164.0L228.5 164.7L227.4 165.8zM230.4 163.6L228.4 163.7L229.0 162.2zM222.8 163.6L220.9 163.8L221.4 162.3zM228.4 160.7L228.5 158.7L229.9 159.5zM226.0 179.0L224.5 177.7L226.0 177.0zM219.3 168.6L221.3 168.6L220.7 170.1zM260.7 152.9L261.0 150.9L262.3 151.7zM261.1 158.4L262.0 156.7L263.0 157.9zM261.2 154.2L262.0 152.4L263.1 153.5zM260.9 155.6L259.9 157.2L259.0 155.9zM258.1 146.3L258.9 148.1L257.3 148.1zM264.3 162.8L262.8 161.5L264.3 160.9zM264.0 151.1L264.9 152.9L263.3 152.9zM262.1 193.4L261.6 191.5L263.2 191.8zM263.5 186.2L265.0 184.9L265.5 186.4zM269.7 189.0L270.3 187.1L271.5 188.2zM265.4 197.0L264.1 195.6L265.6 195.1zM267.7 182.0L265.9 182.8L265.9 181.2zM270.2 185.3L268.4 186.2L268.3 184.6zM263.1 195.2L262.2 193.5L263.7 193.3zM281.5 214.2L279.9 213.0L281.3 212.2zM276.5 217.4L275.1 216.0L276.7 215.5zM275.2 217.8L274.0 216.3L275.5 215.9zM278.9 211.6L277.6 210.1L279.2 209.7zM275.5 217.3L274.1 215.9L275.5 215.3zM281.7 210.6L280.1 209.6L281.4 208.6zM277.7 218.2L276.3 216.9L277.7 216.3zM308.6 216.1L306.9 217.1L306.7 215.5zM309.9 212.6L308.4 213.8L307.9 212.3zM301.9 217.8L300.1 218.4L300.2 216.8zM305.6 215.4L303.9 216.4L303.7 214.8zM304.0 217.1L302.3 218.2L302.1 216.6zM306.6 212.6L304.9 213.6L304.7 212.1zM303.2 216.6L301.4 217.4L301.4 215.8zM264.5 237.2L265.2 235.4L266.3 236.5zM263.5 238.8L264.0 236.8L265.3 237.8zM263.2 237.3L263.6 235.4L264.9 236.3zM267.9 240.4L268.0 238.4L269.5 239.1zM267.0 241.8L267.0 239.8L268.5 240.5zM245.4 218.5L246.8 219.9L245.3 220.5zM248.3 226.3L246.5 225.4L247.8 224.4zM250.2 223.4L248.2 223.8L248.6 222.2zM249.5 225.7L249.3 227.7L247.9 226.8zM245.7 225.4L245.7 223.5L247.2 224.1zM248.7 228.7L249.5 226.9L250.6 228.0zM246.1 221.6L244.2 221.4L245.0 220.0zM263.2 257.0L265.2 257.4L264.3 258.7zM264.1 251.0L265.2 252.7L263.6 252.8zM268.7 253.5L266.7 253.7L267.2 252.2zM265.2 254.1L267.2 254.0L266.5 255.5zM246.0 204.9L247.6 206.1L246.2 206.9zM244.3 203.0L246.1 203.7L245.0 204.8zM311.4 179.9L311.2 177.9L312.8 178.4zM316.4 178.8L315.9 176.8L317.5 177.1zM312.5 189.3L312.3 187.4L313.8 187.8zM316.2 188.3L315.9 186.3L317.4 186.8zM323.5 192.7L322.9 190.8L324.5 191.0zM317.9 181.5L317.9 179.6L319.4 180.2zM323.3 191.6L322.7 189.7L324.3 189.9zM320.2 183.5L319.5 181.7L321.1 181.8zM318.1 176.6L318.0 174.7L319.5 175.2zM319.4 169.5L319.5 167.5L321.0 168.2zM322.0 174.5L321.8 172.6L323.4 173.1zM314.4 187.7L314.2 185.8L315.7 186.3zM315.1 167.5L316.1 165.8L317.1 167.1zM311.9 194.0L311.9 192.0L313.4 192.7zM318.2 175.5L317.9 173.5L319.4 173.9zM325.0 168.8L323.7 167.4L325.2 166.9zM321.1 168.4L320.7 166.5L322.2 166.8zM318.1 178.5L317.7 176.6L319.2 176.9zM325.0 193.1L324.4 191.3L325.9 191.4zM314.7 179.3L314.7 177.3L316.2 178.0zM316.2 195.7L316.0 193.8L317.5 194.2zM312.4 171.5L312.2 169.5L313.7 170.1zM311.6 172.3L312.5 170.6L313.5 171.8zM324.5 173.2L323.6 171.4L325.2 171.3zM325.6 187.2L324.5 185.6L326.1 185.3zM322.5 180.8L322.0 178.9L323.6 179.1zM320.9 175.1L320.3 173.2L321.9 173.4zM325.6 171.6L325.0 169.7L326.6 169.9zM325.3 193.7L324.3 191.9L325.9 191.8zM323.3 182.6L323.1 180.6L324.6 181.1zM323.5 191.0L322.6 189.2L324.2 189.1zM322.0 180.1L321.1 178.4L322.7 178.3zM356.2 150.1L354.4 150.9L354.4 149.3zM354.2 149.6L352.3 150.2L352.5 148.6zM363.1 152.0L361.2 152.7L361.4 151.1zM356.3 150.2L354.3 150.4L354.8 148.9zM345.1 146.0L343.1 146.2L343.6 144.6zM350.5 146.2L348.6 146.7L348.9 145.1zM340.5 180.7L338.8 179.8L340.1 178.8zM341.9 174.5L340.0 174.8L340.4 173.2zM337.8 181.1L335.9 180.5L337.0 179.3zM275.1 12.5L275.8 14.3L274.2 14.2zM255.6 62.4L254.5 60.8L256.1 60.5zM264.3 34.2L264.7 32.3L266.0 33.2zM262.5 25.9L264.4 26.3L263.4 27.6zM251.4 30.6L253.2 31.2L252.1 32.4zM260.5 13.5L262.4 12.8L262.2 14.4zM251.9 36.1L253.9 35.7L253.5 37.3zM265.3 25.4L266.6 26.9L265.1 27.3zM274.1 37.7L272.5 36.4L273.9 35.7zM270.1 15.6L269.0 17.2L268.1 15.9zM253.5 18.8L255.0 17.5L255.4 19.1zM250.3 19.5L252.2 19.3L251.8 20.8zM252.5 21.1L254.4 21.5L253.5 22.8zM257.8 40.0L257.2 41.9L256.0 40.8zM270.2 28.8L270.2 26.8L271.6 27.4zM263.3 41.2L265.3 41.1L264.8 42.6zM263.4 19.1L261.4 19.2L262.0 17.7zM257.0 53.4L255.5 54.7L255.1 53.1zM272.5 45.5L273.1 43.6L274.3 44.7zM258.7 25.0L256.8 25.6L257.0 24.0zM270.8 20.1L269.6 21.7L268.9 20.2zM259.6 56.5L260.0 54.6L261.3 55.5zM270.4 25.1L271.3 26.8L269.7 26.9zM261.5 37.3L259.6 36.7L260.6 35.5zM260.3 30.6L260.4 32.6L258.9 32.0zM271.3 40.4L272.7 41.8L271.2 42.4zM263.1 52.5L265.0 52.8L264.1 54.1zM269.0 36.6L267.6 38.0L267.1 36.5zM253.9 43.0L253.9 41.1L255.3 41.7zM268.9 19.2L267.7 17.7L269.2 17.3zM258.8 45.5L260.4 44.4L260.7 45.9zM273.8 62.2L271.9 61.9L272.8 60.5zM261.2 41.6L263.0 40.9L263.0 42.5zM268.7 57.1L270.0 55.6L270.7 57.1zM270.5 50.8L268.7 51.6L268.7 50.0zM260.6 16.2L260.6 18.2L259.2 17.5zM262.9 31.3L262.0 33.1L261.0 31.8zM268.4 53.8L267.2 55.3L266.5 53.9zM269.7 21.9L271.6 22.5L270.5 23.7zM265.3 23.2L264.3 24.8L263.4 23.5zM270.4 12.3L272.2 13.0L271.1 14.1zM274.4 49.8L274.0 47.8L275.6 48.1zM252.3 23.3L254.3 23.4L253.6 24.8zM259.6 21.0L257.7 20.3L258.8 19.2zM268.0 28.3L270.0 27.9L269.6 29.5zM253.7 47.0L254.2 48.9L252.6 48.6zM262.5 35.2L261.1 36.6L260.5 35.1zM256.9 42.2L255.4 43.5L254.9 42.0zM258.0 28.9L258.3 30.8L256.8 30.4zM269.7 21.2L268.4 19.8L269.9 19.3zM272.9 19.6L271.0 19.3L271.8 17.9zM263.2 30.9L261.6 29.7L263.0 28.9zM261.9 51.5L263.7 52.3L262.5 53.4zM249.8 47.9L250.4 46.0L251.6 47.1zM273.8 37.4L272.7 39.0L271.9 37.6zM260.4 36.6L258.4 36.4L259.2 35.0zM256.1 47.5L256.6 45.5L257.9 46.5zM272.7 24.5L272.1 22.7L273.7 22.8zM252.8 46.5L253.9 48.1L252.4 48.5zM264.3 18.5L266.2 18.1L265.9 19.7zM252.4 32.3L254.4 32.1L254.0 33.6zM272.2 31.6L272.6 29.6L273.9 30.6zM270.5 33.5L269.3 32.0L270.8 31.6zM255.0 55.2L256.3 53.8L256.9 55.3zM263.1 45.2L262.4 43.4L264.0 43.4zM265.8 18.0L267.3 16.8L267.7 18.3zM260.9 34.6L259.6 33.2L261.1 32.6zM252.7 27.5L252.0 25.6L253.6 25.7zM274.3 43.4L273.4 45.1L272.4 43.9zM260.6 20.8L260.3 22.8L259.0 22.0zM249.8 18.6L250.1 16.6L251.4 17.4zM257.8 35.3L256.0 34.6L257.1 33.5zM260.7 35.0L259.1 33.8L260.6 33.1zM255.4 37.3L254.3 35.7L255.8 35.4zM275.5 42.1L276.4 43.8L274.8 44.0zM273.1 55.7L274.9 56.5L273.7 57.5zM260.9 38.5L259.1 39.3L259.1 37.7zM256.1 57.8L258.0 58.4L256.9 59.6zM259.0 51.2L259.3 53.1L257.7 52.7zM271.7 12.5L270.3 13.9L269.7 12.5zM264.9 38.8L266.6 37.8L266.7 39.4zM267.8 57.2L268.7 55.4L269.7 56.7zM255.2 31.5L255.3 29.5L256.7 30.2zM269.2 11.6L267.6 12.7L267.3 11.2zM262.9 23.3L262.2 21.4L263.8 21.6zM253.6 20.1L254.9 18.6L255.6 20.0zM254.8 38.0L254.0 36.1L255.6 36.2zM250.8 55.1L252.8 54.9L252.3 56.4zM277.2 60.5L275.3 59.7L276.5 58.6zM276.8 22.9L277.1 24.8L275.6 24.4zM262.6 38.3L262.6 36.3L264.1 37.0zM276.2 59.9L274.3 59.9L274.9 58.4zM277.1 24.3L275.2 24.9L275.4 23.3zM268.2 50.9L268.4 49.0L269.8 49.7zM270.3 10.5L271.4 12.2L269.8 12.5zM257.6 51.8L259.4 52.5L258.2 53.6zM255.2 37.5L254.9 35.5L256.5 36.0zM276.8 55.3L275.7 57.0L274.9 55.6zM275.2 44.9L276.1 46.6L274.5 46.7zM268.3 41.1L266.4 40.6L267.4 39.4zM228.2 22.1L226.4 22.7L226.5 21.1zM234.8 22.3L232.9 22.9L233.1 21.3zM233.3 21.9L231.4 22.5L231.5 20.9zM229.7 22.5L227.9 23.2L227.9 21.7zM233.6 21.6L231.7 22.3L231.9 20.7zM231.3 20.7L229.5 21.5L229.5 19.9zM248.4 35.4L246.6 36.2L246.6 34.6zM248.2 35.6L246.4 36.4L246.4 34.8zM246.5 34.4L244.8 35.3L244.7 33.7zM248.1 36.6L246.3 37.4L246.3 35.8zM248.0 36.2L246.1 37.0L246.2 35.4zM249.0 35.9L247.2 36.7L247.2 35.1zM262.3 34.2L260.4 34.3L260.9 32.8zM261.2 34.4L259.4 33.6L260.6 32.5zM262.3 32.7L260.4 33.2L260.7 31.6zM260.4 35.0L258.7 34.1L259.9 33.1zM248.3 65.9L250.2 65.1L250.1 66.7zM265.6 71.6L267.3 70.6L267.4 72.2zM266.6 67.9L264.7 67.6L265.6 66.2zM250.7 67.9L249.1 66.7L250.5 65.9zM242.3 52.8L244.2 52.7L243.6 54.2zM260.8 60.9L261.5 62.7L259.9 62.6zM255.2 70.5L254.0 69.0L255.5 68.5zM269.9 73.5L268.8 71.9L270.4 71.6zM261.9 61.6L260.4 60.3L261.9 59.6zM252.1 61.6L254.0 60.9L253.8 62.5zM263.2 60.8L264.5 62.4L262.9 62.8zM256.9 66.2L255.0 65.6L256.0 64.4zM255.1 72.5L254.2 70.8L255.8 70.6zM242.5 62.1L244.1 61.0L244.5 62.5zM242.4 51.7L244.2 52.5L243.0 53.6zM340.1 82.7L338.1 82.7L338.8 81.2zM337.7 89.9L335.7 89.9L336.4 88.4zM341.5 86.7L339.6 86.7L340.1 85.3zM325.6 81.6L323.6 81.2L324.5 79.9zM329.7 83.8L327.9 83.1L329.0 82.0zM334.6 87.1L332.7 86.3L333.9 85.2zM246.9 56.1L248.8 55.5L248.6 57.1zM264.5 66.1L265.7 67.7L264.2 68.1zM236.8 48.9L234.8 48.7L235.7 47.3zM235.3 53.0L236.0 54.8L234.4 54.8zM263.1 54.6L264.8 53.6L265.0 55.2zM239.4 63.8L237.5 63.1L238.7 61.9zM247.1 66.3L245.4 67.3L245.2 65.7zM235.0 71.3L237.0 71.5L236.2 72.9zM272.1 73.3L271.3 71.5L272.9 71.5zM274.1 40.8L272.5 41.9L272.2 40.4zM238.9 65.2L238.7 63.2L240.3 63.7zM251.3 42.2L250.4 43.9L249.4 42.7zM243.2 70.3L241.4 69.6L242.6 68.5zM256.4 44.2L254.9 45.5L254.4 43.9zM229.5 66.5L231.2 67.4L229.9 68.4zM261.6 50.7L261.6 48.8L263.1 49.4zM258.5 71.2L260.4 71.3L259.7 72.8zM267.4 61.2L268.7 59.8L269.3 61.2zM274.4 53.6L273.0 52.2L274.4 51.6zM229.5 48.1L231.4 47.6L231.1 49.2zM273.2 97.3L271.5 98.3L271.3 96.8zM261.0 87.2L262.8 86.4L262.7 88.0zM266.7 106.1L265.3 104.6L266.8 104.1zM265.9 108.6L266.7 106.8L267.8 108.0zM263.1 96.9L262.1 98.6L261.2 97.3zM258.9 94.0L257.1 94.9L257.0 93.3zM275.7 108.9L273.8 108.3L274.8 107.1zM253.1 83.4L255.0 83.6L254.3 85.0zM244.5 98.2L245.5 96.5L246.4 97.7zM239.2 100.4L241.0 101.2L239.8 102.3zM266.8 97.8L267.5 99.6L265.9 99.5zM263.0 95.1L261.0 95.1L261.7 93.7zM237.9 89.5L237.5 91.4L236.2 90.4zM274.2 89.6L272.5 88.6L273.8 87.7zM265.5 97.0L264.5 98.7L263.6 97.4zM245.0 107.3L243.1 107.6L243.5 106.1zM249.6 94.1L248.3 92.6L249.8 92.1zM274.8 96.0L273.5 94.5L275.1 94.1zM261.6 91.0L262.1 89.1L263.4 90.0zM247.8 93.1L246.0 92.6L247.0 91.3zM253.0 85.2L251.6 86.7L251.0 85.2zM249.1 83.3L249.1 85.2L247.6 84.6zM242.5 88.4L241.4 90.0L240.5 88.6zM259.5 100.9L257.6 100.8L258.3 99.4zM266.1 87.5L265.8 89.5L264.5 88.6zM274.3 81.5L274.8 79.6L276.1 80.7zM283.8 75.8L284.8 77.4L283.3 77.7zM309.8 93.8L307.9 94.4L308.1 92.8zM318.3 78.2L316.4 78.3L317.0 76.8zM317.5 65.4L319.4 65.9L318.4 67.2zM304.7 86.8L306.2 85.5L306.7 87.0zM315.2 77.7L314.6 75.9L316.2 76.0zM288.5 97.3L289.4 95.6L290.4 96.8zM292.9 103.9L291.0 104.5L291.2 102.9zM269.7 83.2L270.9 81.7L271.6 83.1zM281.2 81.6L281.5 83.6L279.9 83.2zM315.2 102.2L315.4 104.1L313.9 103.6zM290.9 79.0L291.7 80.8L290.1 80.8zM315.2 92.8L317.1 93.3L316.1 94.5zM324.3 101.8L322.8 100.6L324.2 99.8zM302.5 97.5L301.8 99.4L300.6 98.2zM309.5 98.3L307.9 97.1L309.3 96.4zM288.2 68.1L287.7 70.0L286.5 68.9zM305.4 71.8L304.2 73.3L303.4 71.9zM316.1 83.6L317.8 82.5L318.0 84.1zM273.3 66.0L275.2 66.4L274.3 67.7zM317.6 91.2L319.2 92.4L317.8 93.2zM284.0 86.6L285.6 87.8L284.2 88.6zM296.4 65.8L298.0 67.0L296.6 67.8zM285.8 91.4L286.0 93.4L284.5 92.9zM275.0 89.4L273.5 90.7L273.0 89.2zM318.0 89.0L319.2 90.5L317.7 91.0zM304.4 66.4L302.9 67.8L302.4 66.3zM313.8 87.6L314.3 89.5L312.7 89.2zM327.2 83.6L328.5 82.1L329.2 83.5zM278.7 108.9L277.3 107.5L278.9 106.9zM307.1 98.4L308.5 97.1L309.0 98.5zM315.4 80.1L316.3 78.3L317.3 79.5zM316.0 90.4L314.1 90.8L314.4 89.2zM289.6 98.1L291.5 98.7L290.4 99.9zM312.3 77.7L310.7 78.9L310.3 77.3zM328.7 88.9L326.8 88.2L328.0 87.1zM283.5 91.5L284.1 93.4L282.5 93.2zM309.4 93.2L307.4 93.7L307.7 92.1zM276.5 69.9L278.4 69.5L278.1 71.0zM303.9 81.7L302.5 80.4L303.9 79.8zM326.6 89.8L328.5 90.3L327.5 91.5zM301.1 104.0L299.2 104.0L299.9 102.5zM290.7 82.9L289.0 81.9L290.3 80.9zM290.7 107.4L290.8 105.4L292.2 106.1zM304.0 69.1L304.4 71.1L302.8 70.7zM274.3 86.1L275.5 87.7L274.0 88.1zM324.4 96.6L325.3 98.4L323.7 98.5zM291.9 73.0L291.1 74.8L290.1 73.6zM294.7 73.0L295.7 74.7L294.1 74.9zM296.5 99.6L297.1 97.7L298.3 98.7zM300.5 66.8L301.6 68.5L300.0 68.7zM284.2 71.4L284.9 69.6L286.0 70.7zM316.1 100.8L318.0 101.1L317.1 102.5zM299.4 80.0L301.4 79.7L301.0 81.2zM324.5 83.7L322.8 82.7L324.1 81.8zM277.0 70.2L277.4 72.1L275.8 71.8zM326.4 87.3L324.9 86.1L326.4 85.4zM318.0 77.0L317.9 79.0L316.5 78.3zM320.4 76.7L319.4 75.0L321.0 74.9zM291.6 92.8L291.4 94.8L290.0 94.0zM273.8 74.2L275.7 74.0L275.3 75.5zM296.9 102.7L295.7 104.4L294.9 103.0zM279.9 96.7L281.8 96.8L281.2 98.2zM329.0 72.5L328.9 74.4L327.4 73.7zM314.7 103.6L312.9 104.4L312.9 102.8zM314.5 108.1L315.5 106.4L316.4 107.7zM314.5 94.2L316.4 94.5L315.5 95.9zM323.4 98.1L322.4 99.7L321.5 98.4zM280.7 81.0L282.5 80.1L282.6 81.7zM294.3 100.2L292.6 101.3L292.4 99.7zM292.8 70.1L294.7 69.7L294.3 71.3zM292.2 87.8L292.2 89.8L290.7 89.1zM299.1 99.3L297.6 98.1L299.1 97.4zM285.8 79.1L284.9 77.3L286.5 77.2zM320.0 87.3L318.1 86.8L319.2 85.5zM291.6 88.1L291.1 90.0L289.9 89.0zM295.7 93.5L295.2 95.4L293.9 94.4zM300.6 107.1L298.6 107.1L299.2 105.6zM317.9 77.7L316.4 76.5L317.8 75.7zM319.7 65.7L321.6 66.4L320.5 67.5zM313.1 100.9L312.4 102.7L311.3 101.6zM281.8 100.5L280.3 101.8L279.9 100.3zM313.5 75.8L315.3 75.1L315.2 76.7zM306.4 74.4L307.6 72.9L308.4 74.3zM326.7 94.6L327.0 92.7L328.3 93.5zM315.3 85.7L317.3 85.7L316.6 87.2zM295.1 82.7L294.8 84.6L293.5 83.8zM275.3 90.7L274.2 89.1L275.7 88.8zM274.6 88.1L275.8 86.6L276.6 88.0zM311.2 75.6L310.9 73.7L312.5 74.1zM292.0 102.8L290.6 104.1L290.1 102.6zM294.2 85.6L292.4 86.5L292.3 84.9zM293.9 68.8L292.7 70.3L292.0 68.9zM277.1 79.0L277.7 80.9L276.2 80.7zM314.3 95.6L315.9 96.9L314.5 97.6zM304.4 67.6L305.9 68.9L304.5 69.6zM311.4 103.7L313.0 102.6L313.4 104.1zM269.8 82.0L271.4 83.1L270.1 83.9zM276.5 68.6L277.2 70.4L275.6 70.3zM306.2 108.8L304.2 108.7L304.9 107.3zM277.2 75.2L278.8 76.3L277.5 77.1zM318.3 73.2L318.6 75.2L317.1 74.7zM294.1 94.0L292.9 95.6L292.1 94.2zM282.5 87.1L280.6 87.1L281.2 85.6zM293.7 82.2L293.1 84.1L291.9 83.0zM312.7 70.6L314.4 69.7L314.6 71.3zM323.0 102.1L321.1 102.8L321.2 101.2zM299.4 67.2L297.8 68.4L297.4 66.9zM303.9 93.7L303.0 95.5L302.0 94.3zM295.0 86.6L294.6 88.5L293.3 87.6zM307.0 67.5L308.0 69.2L306.4 69.4zM317.9 86.4L315.9 86.8L316.3 85.2zM303.9 78.6L304.0 76.6L305.5 77.4zM271.4 81.6L272.9 80.3L273.4 81.8zM307.1 77.2L308.0 75.5L309.0 76.7zM271.2 91.0L272.3 92.6L270.8 92.9zM269.3 86.2L269.5 84.2L270.9 85.0zM276.0 72.0L277.1 73.7L275.5 74.0zM303.8 86.7L304.0 84.7L305.4 85.5zM297.4 94.8L296.3 96.5L295.5 95.1zM316.2 103.7L314.3 103.2L315.3 102.0zM276.0 94.8L275.1 96.5L274.1 95.3zM294.1 91.1L296.1 90.7L295.7 92.3zM288.4 75.4L290.3 75.8L289.3 77.1zM271.6 89.8L273.2 88.5L273.5 90.1zM288.6 90.2L286.7 89.5L287.8 88.3zM289.2 104.8L288.4 103.1L290.0 103.0zM287.7 88.1L287.4 90.0L286.1 89.2zM298.0 97.2L298.5 95.3L299.8 96.3zM282.2 53.1L281.3 54.8L280.3 53.5zM289.4 45.9L291.1 46.7L289.9 47.8zM295.3 58.4L293.9 59.8L293.4 58.3zM280.4 45.2L281.2 47.1L279.6 47.0zM279.4 53.4L280.9 54.6L279.5 55.3zM269.2 59.0L270.7 60.2L269.4 60.9zM284.8 53.2L283.5 54.7L282.8 53.2zM293.6 55.6L295.2 54.3L295.6 55.8zM297.9 58.7L296.0 59.4L296.1 57.8zM280.1 58.8L278.4 59.8L278.2 58.3zM301.9 63.4L303.1 65.0L301.6 65.4zM279.6 57.3L278.9 59.2L277.8 58.0zM302.3 65.8L300.4 65.0L301.6 63.9zM279.4 52.0L280.9 50.7L281.3 52.3zM303.1 48.5L301.4 49.5L301.3 47.9zM287.8 63.3L286.2 62.2L287.5 61.3zM303.1 58.4L301.1 58.5L301.6 57.0zM298.7 69.1L299.6 67.3L300.6 68.5zM306.0 63.5L304.1 63.8L304.5 62.3zM276.3 64.1L278.3 64.2L277.6 65.6zM283.2 54.5L285.1 54.0L284.8 55.6zM288.9 61.3L287.3 60.1L288.8 59.4zM288.1 60.2L290.0 60.7L289.0 61.9zM278.3 48.7L280.2 49.5L279.0 50.6zM282.3 70.9L280.5 70.1L281.7 69.0zM286.5 61.1L284.8 62.1L284.7 60.5zM296.0 53.5L297.9 53.1L297.5 54.7zM290.4 57.0L291.0 58.9L289.4 58.7zM289.6 65.2L291.5 64.5L291.4 66.1zM284.3 49.3L286.2 49.8L285.2 51.0zM343.2 90.0L341.3 90.4L341.6 88.8zM346.2 94.9L344.5 95.8L344.4 94.2zM348.7 88.2L346.9 87.5L348.1 86.4zM344.6 87.8L342.6 88.2L343.0 86.6zM345.9 93.4L344.2 94.4L344.0 92.8zM348.7 93.6L346.7 93.5L347.4 92.1zM345.5 88.0L343.9 89.1L343.6 87.5zM344.5 90.7L342.8 91.7L342.7 90.1zM343.8 95.0L341.9 95.7L342.0 94.1zM349.4 90.1L347.4 89.9L348.2 88.5zM343.2 86.1L341.7 87.3L341.2 85.8zM348.2 87.8L346.3 88.4L346.4 86.8zM307.8 80.1L309.8 79.7L309.4 81.3zM342.8 94.3L343.1 92.3L344.5 93.2zM322.6 88.3L324.5 87.7L324.3 89.3zM321.7 113.1L322.5 111.3L323.6 112.4zM307.4 104.3L308.8 103.0L309.3 104.5zM343.3 90.1L345.2 89.6L345.0 91.1zM343.2 110.4L342.8 108.4L344.4 108.8zM317.3 95.6L318.9 94.5L319.1 96.1zM336.4 99.0L337.3 97.3L338.3 98.6zM336.6 104.1L337.3 102.2L338.4 103.4zM317.2 93.1L318.9 92.1L319.1 93.7zM343.9 103.8L344.0 101.9L345.4 102.5zM325.5 106.3L326.5 104.6L327.4 105.9zM340.3 111.8L340.0 109.9L341.5 110.3zM309.1 102.9L310.6 101.6L311.1 103.1zM313.1 108.7L314.3 107.2L315.0 108.6zM310.4 94.9L312.1 93.8L312.3 95.4zM307.8 83.9L309.7 83.4L309.4 84.9zM317.5 98.9L319.1 97.7L319.5 99.3zM339.5 93.9L340.8 92.5L341.5 93.9zM320.3 87.7L322.2 87.1L322.0 88.7zM344.3 105.6L343.9 103.7L345.4 104.0zM334.3 101.6L335.5 100.1L336.3 101.5zM307.9 110.4L309.1 108.8L309.9 110.2zM317.2 88.0L319.0 87.3L319.0 88.9zM324.1 89.3L326.1 88.8L325.8 90.4zM307.1 83.5L309.0 82.9L308.8 84.5zM343.5 107.7L343.2 105.8L344.7 106.2zM306.8 81.4L308.7 81.1L308.3 82.7zM337.7 91.6L339.4 90.6L339.5 92.2zM328.8 106.4L329.8 104.7L330.7 106.0zM318.5 85.7L320.4 85.4L320.0 86.9zM344.7 109.8L344.2 107.9L345.8 108.2zM324.4 113.5L325.2 111.7L326.3 112.8zM329.3 99.1L330.6 97.7L331.3 99.1zM358.0 102.1L356.2 101.4L357.3 100.2zM363.1 92.5L361.3 93.3L361.3 91.7zM384.4 94.9L382.6 95.5L382.7 93.9zM372.5 101.8L370.6 101.8L371.2 100.3zM375.0 121.2L373.2 120.5L374.3 119.4zM368.9 97.0L366.9 97.0L367.6 95.5zM359.6 105.4L357.8 104.7L358.9 103.6zM351.4 107.6L350.1 106.1L351.6 105.7zM359.8 93.5L357.9 93.9L358.3 92.3zM395.8 123.4L393.9 123.0L394.8 121.7zM368.1 96.5L366.2 96.8L366.6 95.2zM378.5 104.7L376.5 104.6L377.2 103.2zM357.4 103.2L355.7 102.2L357.0 101.3zM369.4 97.9L367.4 98.3L367.8 96.7zM369.9 92.2L368.1 92.9L368.1 91.3zM369.1 109.2L367.3 108.5L368.4 107.3zM366.7 115.4L364.9 114.6L366.1 113.5zM357.9 99.6L356.0 99.2L357.0 97.9zM369.1 115.2L367.2 114.5L368.4 113.3zM375.9 121.7L374.1 120.9L375.3 119.8zM361.1 95.9L359.1 95.6L360.0 94.3zM362.5 109.2L360.7 108.5L361.7 107.4zM381.8 119.2L379.9 118.7L380.9 117.4zM350.4 118.1L349.5 116.3L351.1 116.3zM380.3 97.4L378.4 97.8L378.7 96.3zM385.1 122.7L383.2 122.3L384.1 121.0zM380.9 94.8L379.0 95.3L379.2 93.7zM351.6 103.8L350.0 102.6L351.3 101.8zM358.8 98.2L356.9 98.1L357.6 96.7zM373.4 97.8L371.5 98.3L371.7 96.7zM357.3 98.9L355.4 98.5L356.3 97.2zM369.9 102.0L367.9 102.1L368.5 100.6zM376.3 94.2L374.4 94.8L374.6 93.2zM372.9 98.7L371.0 98.9L371.5 97.3zM377.0 123.6L375.2 122.8L376.4 121.8zM386.2 104.8L386.3 106.8L384.8 106.2zM381.3 98.4L379.4 98.8L379.8 97.3zM360.8 94.7L362.4 93.5L362.7 95.1zM350.4 88.6L348.5 88.2L349.4 86.9zM368.3 108.6L366.4 108.3L367.3 107.0zM353.2 108.0L354.7 109.3L353.2 110.0zM372.5 102.6L374.4 102.2L374.1 103.8zM384.7 87.8L386.7 87.6L386.2 89.1zM380.3 100.9L382.3 100.7L381.8 102.2zM360.0 120.8L360.0 122.8L358.5 122.1zM381.8 102.7L380.5 101.2L382.0 100.7zM389.2 103.2L388.3 101.5L389.9 101.4zM372.8 101.3L374.7 101.9L373.7 103.1zM372.3 126.4L372.2 124.4L373.7 125.0zM375.6 106.1L376.9 107.6L375.3 108.0zM372.1 115.9L371.7 117.8L370.4 116.9zM356.0 92.2L354.6 93.5L354.1 92.0zM390.0 99.5L388.8 97.9L390.4 97.5zM344.5 113.2L346.3 114.0L345.1 115.1zM371.3 106.6L370.2 108.2L369.3 106.9zM367.0 85.3L368.9 85.8L367.9 87.0zM391.5 99.2L389.5 98.9L390.4 97.5zM398.7 110.2L397.2 111.5L396.8 110.0zM355.3 102.0L356.8 103.3L355.3 104.0zM386.2 100.5L387.1 98.7L388.1 100.0zM363.3 98.3L364.3 100.0L362.7 100.1zM388.8 104.6L388.0 106.4L386.9 105.3zM355.4 121.9L357.2 121.1L357.2 122.7zM365.3 121.0L363.4 120.3L364.5 119.2zM371.7 109.5L373.1 110.9L371.6 111.5zM382.5 125.3L381.0 124.0L382.5 123.4zM361.3 114.3L363.3 114.6L362.4 115.9zM395.9 91.9L394.0 91.3L395.1 90.1zM374.2 90.3L374.1 88.3L375.6 88.9zM354.2 96.2L352.2 96.2L352.9 94.7zM362.8 97.9L364.4 99.1L363.0 99.9zM383.0 91.5L384.4 90.3L384.9 91.8zM351.9 88.5L353.8 88.0L353.5 89.6zM376.4 88.9L375.6 90.7L374.5 89.5zM378.1 84.6L378.5 86.5L377.0 86.2zM395.6 103.1L393.7 102.5L394.8 101.3zM377.0 91.1L378.7 92.2L377.3 93.1zM348.4 116.5L350.3 116.8L349.4 118.1zM357.4 85.4L356.0 86.9L355.4 85.4zM386.9 96.9L388.0 95.2L388.9 96.6zM373.9 91.0L375.8 90.7L375.4 92.3zM354.7 112.2L353.8 114.0L352.8 112.7zM350.3 85.4L352.3 85.6L351.4 87.0zM383.6 95.0L384.9 96.6L383.3 96.9zM377.7 100.0L376.1 98.9L377.4 98.1zM374.1 87.6L373.8 89.5L372.5 88.6zM388.0 113.6L386.0 113.7L386.6 112.2zM343.3 96.5L344.3 94.8L345.2 96.1zM367.9 88.4L369.7 87.6L369.8 89.2zM385.1 120.4L383.4 121.3L383.2 119.8zM354.2 115.8L353.9 117.7L352.6 116.8zM343.1 122.3L342.8 120.4L344.4 120.8zM346.2 104.0L348.1 103.7L347.7 105.2zM387.0 93.8L388.7 92.8L388.8 94.4zM383.1 85.2L382.9 87.1L381.5 86.3zM385.1 123.0L386.0 121.3L387.0 122.6zM357.8 112.1L357.3 114.0L356.1 113.0zM398.8 104.1L396.9 103.8L397.8 102.4zM373.8 93.7L374.3 95.6L372.8 95.4zM375.7 119.5L374.2 118.2L375.6 117.5zM346.3 96.6L346.0 94.7L347.6 95.1zM372.1 117.5L370.4 116.6L371.6 115.6zM375.6 111.0L375.7 109.1L377.1 109.8zM394.5 97.1L393.9 95.2L395.5 95.4zM361.5 92.7L362.6 91.0L363.5 92.3zM361.3 99.3L363.2 98.8L363.0 100.4zM351.8 120.2L350.4 121.6L349.8 120.1zM365.0 99.8L363.1 99.8L363.8 98.3zM382.7 124.5L383.9 122.9L384.7 124.3zM386.7 118.9L384.7 119.0L385.3 117.5zM392.3 111.3L393.3 113.0L391.7 113.2zM389.7 107.1L391.6 107.4L390.8 108.7zM385.0 92.3L383.8 93.9L383.0 92.5zM383.7 109.6L382.8 111.3L381.8 110.1zM355.5 121.3L354.3 119.7L355.9 119.3zM363.5 116.3L363.2 118.3L361.8 117.5zM397.7 89.5L396.8 91.3L395.8 90.0zM390.2 109.0L390.4 111.0L388.9 110.5zM369.6 119.2L370.1 121.1L368.5 120.9zM351.5 116.9L353.1 118.0L351.7 118.8zM381.7 99.9L383.1 101.3L381.6 101.9zM396.7 122.4L394.8 121.9L395.8 120.7zM368.7 94.7L369.0 92.7L370.4 93.6zM364.8 92.5L366.6 91.6L366.6 93.2zM355.7 96.0L353.9 96.7L354.0 95.1zM384.4 107.1L385.6 108.7L384.0 109.1zM390.0 95.6L391.9 95.7L391.3 97.1zM352.9 113.5L353.9 111.9L354.8 113.2zM356.3 126.6L357.4 124.9L358.2 126.2zM386.4 104.0L384.7 102.9L386.1 102.1zM350.3 97.7L349.2 99.4L348.4 98.0zM378.1 104.2L380.0 104.6L379.1 105.9zM383.3 87.4L384.5 89.0L382.9 89.3zM352.0 117.2L350.0 117.5L350.5 115.9zM374.8 114.1L376.6 115.0L375.3 116.0zM379.4 97.3L380.9 96.0L381.4 97.6zM364.4 98.4L364.1 96.5L365.6 96.9zM392.6 98.1L390.7 98.5L391.1 96.9zM379.9 108.4L381.8 107.7L381.7 109.3zM385.8 119.9L384.0 120.8L384.0 119.2zM376.8 100.2L378.6 99.4L378.6 101.0zM350.9 118.5L350.0 116.8L351.6 116.7zM360.6 100.2L358.7 99.7L359.7 98.4zM350.8 97.1L352.7 97.3L352.0 98.7zM349.9 103.1L350.5 101.2L351.7 102.3zM374.9 85.0L376.0 86.6L374.4 86.9zM389.3 107.0L389.9 105.2L391.1 106.3zM366.9 104.0L368.8 103.5L368.5 105.1zM365.5 115.0L367.2 113.9L367.4 115.5zM378.1 97.7L380.0 97.9L379.2 99.3zM365.8 111.7L365.1 113.5L364.0 112.4zM343.0 89.7L344.7 90.7L343.4 91.6zM375.2 109.3L377.2 109.7L376.2 111.0zM392.3 115.4L390.8 116.7L390.3 115.1zM371.4 113.7L372.0 111.9L373.2 113.0zM376.4 125.3L377.5 123.7L378.3 125.1zM377.1 109.1L375.1 108.8L376.0 107.4zM365.8 107.6L366.8 109.4L365.2 109.5zM396.2 117.7L395.2 119.3L394.3 118.0zM381.9 115.4L379.9 115.4L380.6 113.9zM397.9 115.2L396.5 116.7L395.9 115.2zM373.3 107.1L371.9 108.5L371.3 107.0zM359.6 120.4L357.7 121.0L357.9 119.4zM363.2 115.1L362.9 117.1L361.5 116.2zM374.9 109.4L372.9 109.7L373.4 108.1zM366.9 102.4L367.5 100.6L368.7 101.7zM391.3 119.9L391.0 121.8L389.7 120.9zM384.1 95.8L384.5 93.9L385.8 94.8zM383.0 94.9L381.0 94.5L382.0 93.2zM389.4 110.0L389.4 108.1L390.9 108.8zM374.0 104.1L376.0 104.4L375.1 105.7zM371.3 117.8L371.6 115.8L373.0 116.7zM369.8 99.3L371.4 100.5L370.0 101.3zM374.6 104.6L372.8 105.5L372.8 103.9zM365.8 114.1L366.1 116.0L364.6 115.7zM380.4 113.6L378.5 114.2L378.7 112.6zM363.7 117.4L362.2 118.7L361.7 117.1zM376.1 105.9L377.4 107.4L375.8 107.9zM392.5 96.3L392.0 98.2L390.8 97.2zM360.9 119.9L362.5 118.8L362.8 120.3zM352.0 94.9L350.1 94.7L350.9 93.3zM389.6 85.9L387.8 86.7L387.8 85.1zM347.3 107.0L348.2 105.2L349.2 106.4zM396.6 115.9L396.7 117.9L395.2 117.2zM381.5 91.9L379.6 92.1L380.0 90.6zM376.0 113.3L377.1 114.9L375.5 115.2zM367.0 93.8L366.2 92.0L367.8 92.0zM348.2 95.7L348.4 93.7L349.8 94.6zM344.9 106.3L344.9 104.3L346.4 105.0zM347.7 115.3L348.2 113.4L349.5 114.4zM381.5 98.2L381.5 96.2L382.9 96.8zM391.6 117.8L393.2 116.7L393.5 118.3zM386.1 105.2L385.2 107.0L384.2 105.7zM368.5 91.8L368.3 89.8L369.8 90.3zM379.7 114.4L378.5 115.9L377.7 114.5zM367.1 101.7L367.6 103.6L366.0 103.4zM357.7 87.7L357.1 89.6L355.9 88.5zM377.4 83.4L377.1 85.3L375.8 84.5zM379.9 85.0L381.1 86.6L379.5 86.9zM360.9 100.2L359.2 101.1L359.1 99.5zM347.0 83.1L347.2 85.0L345.7 84.5zM373.4 118.4L371.9 119.7L371.4 118.1zM352.9 94.8L352.0 96.5L351.0 95.3zM364.8 115.3L363.6 116.8L362.8 115.4zM392.0 91.1L390.1 91.1L390.7 89.6zM351.7 68.8L352.9 67.3L353.6 68.7zM358.3 87.0L356.6 87.9L356.5 86.3zM366.5 77.5L366.2 75.5L367.8 76.0zM353.6 70.3L353.7 68.3L355.1 69.0zM386.1 65.7L385.7 67.6L384.4 66.7zM352.2 83.4L351.6 81.5L353.2 81.7zM378.8 76.3L377.2 75.1L378.7 74.3zM383.8 92.7L383.1 90.9L384.7 91.0zM369.3 76.8L368.9 74.9L370.5 75.2zM350.5 83.4L351.4 81.6L352.4 82.9zM361.9 61.9L363.9 62.0L363.1 63.5zM388.5 85.8L387.3 84.2L388.8 83.9zM358.8 82.8L360.7 82.6L360.3 84.1zM381.5 86.8L382.6 85.1L383.5 86.4zM357.9 77.3L358.1 75.4L359.5 76.1zM361.0 78.0L359.4 79.2L359.0 77.6zM366.5 70.0L367.7 71.5L366.1 71.9zM362.3 85.8L361.1 84.3L362.6 83.9zM386.4 71.7L384.6 72.5L384.6 70.9zM358.6 84.0L356.6 84.0L357.2 82.6zM379.8 88.7L381.5 89.7L380.2 90.6zM363.0 68.8L364.4 70.2L362.9 70.8zM389.8 81.5L387.9 81.6L388.4 80.1zM364.5 88.5L362.5 88.6L363.1 87.1zM363.6 90.5L361.8 89.8L362.9 88.7zM383.4 73.5L381.6 72.8L382.7 71.7zM389.2 80.8L389.1 82.8L387.6 82.1zM372.7 83.9L371.9 85.7L370.8 84.5zM362.8 89.2L364.8 89.0L364.3 90.5zM362.3 75.5L362.1 77.4L360.7 76.6zM362.9 62.1L361.4 63.4L360.9 61.9zM356.9 83.8L357.7 85.6L356.1 85.6zM354.0 83.2L355.6 84.3L354.2 85.1zM361.4 62.5L362.6 64.1L361.0 64.4zM363.0 79.5L363.7 77.7L364.8 78.8zM389.6 67.7L388.7 65.9L390.3 65.9zM359.9 83.7L360.0 85.7L358.5 85.1zM359.0 89.0L358.6 87.0L360.1 87.3zM384.5 94.6L383.5 92.9L385.1 92.7zM364.2 69.5L364.8 67.6L366.0 68.6zM357.3 72.7L356.9 74.6L355.6 73.6zM362.6 65.5L364.2 66.7L362.8 67.5zM366.6 92.4L367.2 90.6L368.4 91.6zM355.4 79.6L357.4 80.0L356.5 81.3zM358.1 84.5L360.0 85.2L358.9 86.3zM386.7 69.3L384.8 69.8L385.1 68.2zM356.3 78.6L358.2 79.1L357.2 80.4zM383.8 84.8L385.7 85.3L384.6 86.6zM354.6 91.9L353.3 90.4L354.8 89.9zM367.7 74.3L368.2 76.2L366.6 75.9zM380.4 85.9L378.5 85.6L379.4 84.3zM349.9 78.2L351.7 79.0L350.5 80.1zM365.7 70.5L367.6 70.9L366.7 72.2zM383.1 80.6L382.0 79.0L383.5 78.7zM374.0 86.0L372.4 87.2L372.1 85.6zM355.5 61.1L356.4 62.8L354.8 63.0zM378.1 78.5L379.4 80.0L377.8 80.4zM384.8 88.5L385.8 86.8L386.7 88.2zM392.7 79.1L391.0 80.1L390.8 78.5zM371.9 66.1L369.9 66.4L370.4 64.8zM386.9 71.3L385.1 70.6L386.2 69.5zM374.9 73.3L373.3 74.4L373.0 72.9zM363.1 81.8L363.5 83.7L361.9 83.3zM376.9 75.9L377.7 74.1L378.8 75.3zM381.1 62.9L383.1 63.2L382.2 64.6zM391.1 67.9L392.5 69.2L391.0 69.8zM393.8 83.1L393.0 84.9L391.9 83.7zM388.1 82.2L386.4 81.2L387.7 80.3zM378.6 73.7L377.4 72.2L379.0 71.8zM392.6 87.8L391.5 86.2L393.1 85.9zM369.3 67.7L367.8 68.9L367.4 67.4zM383.9 93.2L383.6 91.2L385.1 91.6zM376.2 79.7L377.3 78.1L378.1 79.4zM353.1 63.0L355.0 62.4L354.8 64.0zM359.6 74.1L357.9 73.2L359.1 72.2zM391.7 83.7L392.5 85.5L390.9 85.5zM368.9 80.7L367.0 81.0L367.4 79.4zM363.0 71.1L364.7 72.0L363.4 73.0zM391.0 81.4L391.3 83.4L389.8 83.0zM358.7 83.8L359.2 85.8L357.7 85.5zM335.3 138.1L334.1 136.6L335.6 136.2zM327.6 134.0L326.8 132.2L328.4 132.2zM323.5 129.7L323.8 127.7L325.2 128.6zM331.2 135.2L329.9 133.7L331.5 133.3zM338.6 125.1L337.7 123.3L339.3 123.2zM441.6 80.0L442.1 78.1L443.4 79.1zM423.0 77.5L424.3 76.0L424.9 77.5zM425.1 80.6L426.2 79.0L427.0 80.3zM434.0 80.9L434.5 79.0L435.8 80.0zM432.3 71.1L434.2 71.3L433.4 72.7zM441.7 74.9L442.3 73.0L443.5 74.0zM423.1 77.7L421.1 77.5L421.9 76.1zM427.0 74.2L429.0 74.3L428.3 75.7zM447.0 80.0L448.6 78.9L448.9 80.4zM422.0 72.9L423.9 73.5L422.8 74.7zM439.3 77.5L437.3 77.7L437.8 76.1zM431.4 80.1L429.8 78.8L431.2 78.1zM440.7 79.3L438.8 79.7L439.2 78.1zM430.8 78.7L432.0 77.1L432.8 78.5zM452.0 82.4L452.3 80.5L453.7 81.4zM429.2 77.2L430.5 75.7L431.1 77.2zM436.6 80.7L434.7 81.2L434.9 79.6zM419.3 75.2L420.0 77.0L418.4 77.0zM450.3 106.6L449.4 108.3L448.4 107.0zM448.1 111.7L447.9 109.7L449.4 110.2zM456.2 99.6L457.3 101.3L455.7 101.5zM444.2 111.7L445.3 110.0L446.1 111.4zM457.2 106.9L456.2 105.2L457.8 105.0zM439.2 115.1L437.5 114.1L438.8 113.1zM446.4 103.5L445.5 105.3L444.5 104.0zM430.0 105.1L431.9 104.5L431.7 106.1zM442.5 109.0L443.5 110.8L441.9 110.9zM441.9 111.2L440.7 112.8L439.9 111.4zM447.9 106.3L448.9 104.6L449.8 105.8zM446.4 110.5L446.0 108.6L447.5 108.9zM453.7 108.3L452.4 106.9L453.9 106.4zM442.9 109.1L441.5 107.7L443.0 107.1zM453.4 112.5L451.8 113.6L451.5 112.0zM452.5 107.4L453.1 105.5L454.3 106.6zM437.9 112.0L436.1 111.2L437.3 110.2zM449.2 103.9L451.0 103.2L450.9 104.8zM449.1 113.3L451.0 112.9L450.7 114.4zM435.9 102.8L437.7 103.7L436.5 104.7zM432.6 99.6L434.3 100.6L433.0 101.5zM439.4 108.6L441.0 109.8L439.6 110.5zM449.7 110.1L448.2 108.9L449.6 108.1zM430.8 102.9L432.4 101.7L432.7 103.3zM448.2 109.7L446.3 109.0L447.5 107.9zM431.2 107.5L432.6 108.9L431.1 109.4zM455.6 120.3L454.4 118.8L456.0 118.4zM455.9 127.3L454.4 126.1L455.8 125.4zM456.0 122.7L454.3 121.7L455.5 120.7zM455.5 122.1L453.9 121.1L455.2 120.2zM454.1 125.5L452.9 124.0L454.4 123.6zM419.2 102.1L418.9 100.1L420.5 100.6zM415.1 103.4L416.9 102.6L416.9 104.2zM415.8 101.3L417.6 100.4L417.7 102.0zM413.0 103.6L414.2 105.1L412.7 105.5zM411.3 102.9L409.4 103.1L409.9 101.6zM418.1 106.2L416.6 107.4L416.2 105.8zM411.9 89.8L411.0 91.5L410.0 90.2zM406.8 89.3L406.3 91.3L405.0 90.3zM408.3 93.7L407.3 95.3L406.4 94.0zM408.8 90.3L408.8 92.2L407.3 91.6zM419.0 160.1L418.6 162.0L417.3 161.1zM414.4 161.1L412.4 161.3L412.9 159.8zM423.8 160.5L425.8 160.6L425.1 162.0zM430.1 156.0L428.2 156.5L428.4 154.9zM416.6 159.1L417.8 157.5L418.6 158.9zM364.5 131.9L362.6 132.3L363.0 130.7zM357.4 123.9L356.7 125.8L355.6 124.6zM360.6 124.8L361.8 126.3L360.3 126.7zM358.7 127.1L356.8 126.6L357.7 125.3zM356.7 130.8L354.8 130.6L355.6 129.2zM359.3 123.7L359.5 125.7L358.0 125.2zM356.9 149.0L356.9 151.0L355.4 150.3zM356.4 155.3L354.5 155.6L354.9 154.1zM347.6 146.7L349.6 146.8L348.9 148.2zM373.2 162.3L374.7 161.1L375.1 162.6zM364.9 163.1L366.1 161.5L366.9 162.9zM357.2 166.8L355.4 166.0L356.6 164.9z" fill="#2452e0"/>
<path d="M138.0 182.0L220.0 152.0M228.5 170.0L267.1 68.4M210.7 161.6L295.5 68.6M216.3 153.4L258.4 133.7M221.0 165.4L256.6 134.6M86.4 35.0L241.8 26.4M95.1 30.3L132.4 77.3M242.9 136.6L319.0 87.6M255.1 133.7L308.5 62.5M241.1 131.0L323.2 79.9M48.8 58.5L91.6 35.3M52.3 61.9L83.1 34.4M50.1 61.2L89.1 38.3M50.0 61.4L93.8 35.8M47.8 51.4L88.3 31.6M48.3 61.1L88.7 36.7M56.0 30.5L80.3 39.0M91.8 46.1L86.9 155.1M91.2 47.0L77.6 110.0M80.6 46.4L75.4 106.9M88.3 45.1L84.7 153.2M80.4 46.2L78.7 139.1M92.3 26.2L181.6 17.9M96.0 27.2L175.3 22.4M42.5 56.1L44.4 55.5M47.9 50.7L45.9 49.5M152.2 16.3L206.0 19.1M154.4 16.5L202.9 21.0M154.7 30.7L183.5 21.4M104.0 74.0L117.0 80.0M133.0 78.0L137.0 72.0M117.0 80.0L137.0 76.0M133.8 82.0L140.0 106.9M133.5 78.3L140.1 102.9M60.8 110.6L84.6 168.7M50.3 118.8L86.0 168.7M46.4 116.5L83.4 170.2M49.8 115.9L81.6 169.9M54.5 111.7L84.1 169.6M53.2 114.4L82.3 168.3M50.0 121.2L67.9 113.8M50.6 116.3L68.1 114.9M68.7 132.5L89.9 171.4M93.5 179.9L133.4 182.6M91.3 181.3L133.5 181.4M109.8 186.8L153.5 198.7M141.0 181.9L223.0 159.9M199.4 104.3L198.8 98.9M216.0 102.4L255.8 97.5M219.3 116.5L259.3 97.3M191.2 119.7L142.5 111.0M228.5 125.0L264.4 97.9M262.8 127.1L273.2 129.6M262.4 127.0L267.7 136.9M263.3 127.9L265.6 120.0M218.1 89.0L255.0 92.0M265.7 88.6L257.9 89.9M258.8 97.9L259.0 102.5M221.7 98.8L275.0 99.9M216.8 95.2L268.4 90.7M245.7 103.1L257.0 91.2M239.6 90.4L272.9 103.5M239.9 99.8L259.4 103.8M240.0 93.0L274.7 103.7M218.1 101.8L265.2 98.5M218.1 91.4L250.6 100.5M225.8 97.9L260.0 94.5M217.8 168.7L224.2 172.1M226.4 168.7L228.2 171.1M215.4 173.3L213.6 175.0M227.7 165.0L229.6 163.9M217.5 152.1L213.4 151.1M223.5 162.2L219.8 165.4M280.0 219.4L307.3 203.0M280.0 217.4L315.6 163.1M280.1 220.0L317.9 176.9M279.5 221.6L303.4 186.2M282.5 221.0L299.1 179.7M279.6 217.8L317.3 191.7M280.1 220.5L316.9 177.8M279.9 220.2L304.5 170.8M282.0 221.6L305.9 173.8M278.7 220.2L321.2 159.9M278.2 220.2L318.9 171.3M278.6 217.4L318.6 184.3M263.4 207.6L281.3 220.6M255.5 223.6L280.8 220.7M255.9 221.2L280.0 216.6M255.2 223.1L276.3 217.4M330.9 147.3L355.3 137.1M321.6 149.8L318.5 152.4M321.5 177.1L315.0 179.0M324.9 160.1L317.4 164.9M326.2 149.7L300.3 165.1M328.0 153.9L302.7 158.5M322.4 151.7L303.0 165.6M254.2 45.6L252.0 46.9M256.1 47.1L259.9 45.7M255.3 19.3L258.6 23.1M263.8 14.3L264.9 19.7M261.8 19.8L259.3 20.5M266.0 43.4L264.4 41.5M262.4 52.7L269.8 49.9M253.1 39.3L254.2 43.2M252.7 50.9L255.1 48.4M258.7 41.5L256.4 50.8M266.0 25.1L262.9 21.0M273.3 57.5L266.8 56.7M270.9 17.0L271.6 21.8M266.4 42.4L258.3 43.4M275.4 42.0L266.2 39.0M260.9 33.3L260.1 24.2M267.2 38.8L263.4 32.2M266.4 25.7L256.2 22.6M267.5 35.9L266.7 39.4M252.4 15.5L254.4 11.2M256.2 36.3L257.4 34.4M263.6 22.4L253.6 22.9M275.9 28.7L272.1 28.4M256.7 25.4L257.4 19.0M262.9 49.1L256.9 49.4M270.8 38.9L276.3 43.1M259.2 57.6L249.8 58.7M267.1 18.6L267.7 21.8M267.9 15.1L268.2 12.5M266.5 37.7L267.6 40.1M265.2 41.5L261.2 43.4M255.3 55.4L265.1 53.7M254.3 30.8L252.2 39.2M256.3 26.7L264.8 24.3M260.4 40.3L263.1 43.9M266.6 43.9L264.1 54.7M272.3 24.5L276.3 32.9M261.2 30.8L258.4 35.6M273.9 56.7L267.1 60.8M257.6 42.0L253.2 43.5M268.6 44.7L270.7 46.1M259.3 21.6L258.6 24.6M256.1 43.2L260.9 44.5M259.0 31.4L261.6 31.5M256.3 22.3L258.3 15.4M256.4 36.9L252.8 37.8M267.6 34.9L267.4 25.5M253.7 47.4L253.6 39.4M253.8 30.2L253.5 27.1M261.9 53.1L259.0 49.9M256.0 44.3L252.2 45.9M260.7 47.5L255.8 45.9M270.9 48.4L276.0 40.0M258.7 34.7L255.8 44.5M266.1 44.7L264.7 52.6M258.4 42.4L261.0 45.2M252.6 56.1L255.0 57.4M270.9 57.3L277.2 53.6M256.1 19.7L261.6 22.8M230.2 20.5L259.8 30.9M209.4 36.1L246.7 35.1M210.9 35.0L246.0 35.1M236.3 22.0L261.7 34.4M253.7 27.6L261.5 34.0M245.0 18.3L260.5 34.3M234.3 21.3L262.0 34.2M249.6 28.9L261.4 34.0M268.4 42.6L342.0 85.7M264.7 56.0L336.4 92.8M271.7 36.9L341.3 86.8M267.9 37.6L342.5 89.2M264.9 57.7L332.2 78.3M261.8 42.3L346.7 78.3M263.5 31.2L342.7 89.0M263.1 54.6L336.1 92.1M268.1 41.2L333.4 85.8M266.0 31.5L326.8 84.2M270.0 25.4L345.8 83.4M258.8 24.0L345.3 89.7M271.6 25.9L332.4 93.7M274.0 47.9L325.1 93.9M269.7 49.5L337.9 80.0M260.2 54.9L332.9 88.4M263.5 45.6L334.9 91.3M264.9 25.0L325.9 81.6M274.4 38.3L343.7 87.1M271.0 45.5L333.8 95.0M270.5 40.1L342.7 86.2M265.3 55.1L339.4 81.8M266.5 41.9L335.7 87.9M264.5 51.9L331.6 81.2M258.7 45.7L330.9 93.1M270.0 37.7L326.1 82.8M271.9 49.8L346.5 80.8M264.7 33.5L329.7 90.8M274.9 48.5L334.9 94.8M268.3 25.0L332.4 83.6M264.8 35.2L334.5 79.2M258.7 51.7L326.1 86.8M267.1 24.2L325.9 79.4M266.6 50.2L329.2 86.5M261.5 29.1L344.4 85.4M271.4 26.8L331.3 93.7M270.3 47.8L329.8 89.4M262.4 50.0L328.5 85.0M273.2 31.7L346.3 91.8M273.9 22.5L332.5 81.6M266.3 57.6L335.7 90.6M266.3 42.4L340.1 82.2M261.3 40.9L339.6 92.5M269.3 25.2L337.0 82.6M242.9 56.9L233.2 50.7M263.3 43.7L267.3 51.8M245.2 68.7L254.4 71.4M266.7 70.0L264.9 72.3M240.3 75.3L241.1 73.2M237.4 74.9L230.9 76.6M241.6 48.3L240.1 55.6M243.3 69.3L242.9 74.4M268.4 71.7L273.5 67.7M246.0 73.7L247.2 71.6M271.9 59.0L273.8 48.6M232.5 73.9L230.4 68.8M252.6 71.4L245.4 69.8M234.4 45.2L230.2 43.7M268.8 75.0L272.0 75.5M252.1 60.7L251.9 52.8M250.4 48.9L238.8 51.0M268.7 55.3L267.3 53.5M267.0 104.2L269.3 102.5M258.8 91.8L256.4 90.2M272.2 103.5L271.8 101.5M305.6 95.0L294.7 92.8M311.8 94.1L310.1 85.0M290.0 91.1L301.7 95.3M322.6 100.6L325.2 89.9M304.9 70.3L306.7 77.4M282.3 102.5L282.0 104.7M315.9 75.3L320.5 69.7M319.4 80.5L320.7 82.0M298.8 86.8L296.2 85.4M277.2 92.3L284.6 94.4M294.7 76.4L295.9 83.6M284.3 97.4L279.7 101.8M277.2 73.8L283.4 66.5M323.7 77.7L319.0 83.7M278.8 88.9L282.5 83.4M308.9 101.9L306.4 102.9M275.8 81.2L277.3 71.1M306.9 77.9L312.5 84.6M299.5 85.9L290.9 80.3M309.7 99.3L305.2 102.1M315.1 88.7L318.8 93.7M329.8 85.5L332.4 81.3M280.3 82.7L276.9 74.8M320.6 74.4L332.5 74.6M310.8 87.1L303.2 91.8M283.4 73.5L287.7 73.2M303.8 74.0L307.8 75.5M297.9 86.0L287.8 81.5M283.9 85.0L284.5 79.6M285.4 94.8L277.6 105.6M289.6 86.8L286.8 91.6M292.9 95.5L296.8 91.8M318.1 96.4L321.8 104.1M328.3 92.6L328.6 101.9M328.5 99.5L332.1 108.3M283.8 74.5L279.8 75.0M281.1 76.1L286.7 80.2M280.1 74.8L277.8 76.4M274.6 96.1L280.1 101.4M311.6 105.0L310.7 102.1M287.7 84.0L289.1 96.9M303.8 84.9L298.1 83.1M293.8 80.3L299.4 75.6M310.7 84.0L319.8 92.3M318.1 77.1L313.9 76.3M300.0 88.5L300.7 91.2M301.5 73.4L305.6 69.8M282.2 90.4L281.3 84.3M284.0 80.2L280.6 84.2M325.7 71.1L327.2 72.9M326.9 101.4L328.2 103.0M317.6 91.8L317.2 94.1M311.5 91.6L317.6 89.6M305.1 97.3L307.7 104.1M282.0 81.3L280.0 94.5M290.3 81.6L298.1 87.1M321.1 73.6L324.6 82.0M284.5 82.2L282.6 80.8M302.5 81.8L301.2 78.5M324.9 96.5L319.2 89.3M298.1 99.9L294.7 100.1M320.1 79.5L312.4 90.3M328.0 91.1L330.2 98.9M293.0 81.5L286.1 86.0M290.5 95.3L288.8 94.1M315.6 84.2L312.6 84.6M322.9 86.9L328.3 83.1M281.2 84.3L280.0 87.4M315.7 75.6L315.1 73.1M302.2 97.0L297.4 97.6M293.1 81.5L294.1 86.8M292.9 75.3L296.0 86.8M284.9 103.9L287.8 100.4M304.2 70.8L309.8 68.8M292.1 92.2L285.9 96.3M280.6 71.9L285.8 71.3M283.4 94.6L288.2 107.2M325.8 83.6L318.2 86.4M302.7 76.6L301.7 68.2M304.1 95.3L306.9 92.5M280.2 60.8L278.3 54.2M274.0 53.8L275.2 57.3M287.2 53.1L287.0 48.6M286.7 48.3L287.5 46.5M272.6 52.7L281.1 55.6M282.2 57.7L286.0 57.8M283.4 53.0L285.7 54.1M273.9 50.7L277.2 45.4M289.1 48.5L283.5 58.6M302.3 50.8L295.1 51.4M294.0 57.3L295.4 55.3M293.6 51.7L303.1 45.6M274.6 51.5L274.9 54.5M292.5 58.0L295.1 62.8M287.7 49.5L299.6 51.0M281.9 56.1L287.3 55.6M288.0 60.6L294.3 54.3M282.7 58.2L274.8 64.4M294.4 61.6L290.3 57.8M278.8 48.7L277.9 52.0M273.7 50.0L274.3 52.9M279.6 61.0L278.4 67.2M290.4 64.5L291.7 53.9M275.3 57.5L273.3 60.2M295.4 67.2L297.4 66.7M288.6 58.3L286.1 61.6M296.4 53.4L299.1 51.6M284.7 51.5L288.2 55.3M290.1 65.7L287.0 65.7M283.1 63.7L287.3 64.2M315.1 94.1L344.4 92.4M279.2 78.3L346.0 87.6M286.6 82.3L345.4 91.1M326.3 77.0L344.7 88.9M302.8 85.8L348.1 88.0M319.0 67.0L343.8 94.1M274.7 74.6L345.4 88.7M317.3 61.1L347.0 87.7M320.5 97.5L350.0 86.1M294.4 85.0L346.3 93.6M294.4 94.7L343.4 87.0M272.3 96.8L348.9 89.9M293.1 74.2L345.5 89.9M280.2 66.0L347.1 91.1M326.8 90.9L331.2 85.9M336.7 95.6L328.1 88.4M334.8 111.4L341.5 103.0M305.7 102.6L308.8 98.5M338.3 108.7L345.8 109.5M333.4 95.7L339.6 87.5M340.8 109.4L343.5 103.3M318.1 80.3L308.2 79.6M314.0 109.2L305.3 103.8M320.4 81.1L319.2 83.3M312.3 84.4L313.1 89.9M312.2 90.9L315.6 100.6M347.6 93.5L320.7 100.4M347.8 92.1L339.1 86.4M345.8 92.5L317.3 93.9M346.2 92.5L322.5 91.1M349.0 89.7L322.5 105.5M345.6 93.3L340.4 87.8M345.3 92.7L341.5 99.6M345.9 90.6L329.9 99.5M346.7 93.9L342.6 90.1M345.6 91.9L379.4 117.4M348.3 90.6L389.4 98.1M347.4 92.6L354.7 120.6M345.1 90.1L384.9 103.8M346.7 93.2L367.6 100.8M347.5 92.6L354.9 108.5M349.1 90.5L374.9 99.6M347.8 92.4L371.0 119.6M349.2 91.4L381.7 121.8M348.3 90.0L394.0 119.7M346.0 88.8L377.7 121.7M347.4 93.2L374.6 79.8M348.9 93.3L384.9 78.3M345.1 91.4L354.4 87.5M349.0 91.7L386.5 82.6M347.8 90.2L370.2 79.5M346.3 90.3L352.1 73.2M347.2 88.5L358.5 79.3M347.9 89.5L377.2 75.8M349.6 93.4L359.1 85.2M346.8 91.8L373.0 81.2M365.8 99.3L365.2 92.5M371.3 123.2L365.7 120.4M352.8 103.6L347.5 97.6M384.8 95.9L380.7 92.8M345.6 88.0L348.5 83.1M374.9 87.1L379.7 89.8M391.8 115.3L396.3 119.1M362.3 122.7L366.3 123.1M351.8 111.7L353.3 120.2M352.7 102.1L361.7 98.7M365.6 99.6L366.9 96.4M357.9 91.5L357.9 96.8M364.6 87.7L361.6 86.2M394.0 116.2L396.9 120.3M348.8 90.2L353.4 85.5M391.2 115.0L390.4 117.9M366.0 97.6L364.2 94.3M392.3 119.0L392.5 123.9M349.6 113.5L348.2 111.8M349.4 118.4L342.8 114.7M374.0 91.0L381.1 85.5M361.3 91.9L364.3 100.4M387.2 106.8L385.7 103.1M383.5 113.6L383.8 120.5M388.3 108.5L386.4 103.7M392.6 121.9L391.2 114.2M384.3 116.8L382.3 121.0M353.9 93.9L351.2 88.3M347.3 109.6L344.4 105.2M368.5 91.5L374.1 95.5M366.5 117.8L371.2 117.0M390.0 78.8L389.3 81.2M387.6 78.1L390.9 77.7M362.6 75.3L368.7 74.6M352.6 78.6L349.2 77.7M352.7 78.0L354.6 74.7M386.5 84.5L376.6 84.3M370.2 76.7L370.1 81.0M358.5 81.5L356.5 82.9M378.2 64.1L375.2 69.1M362.6 72.9L359.2 71.6M362.6 68.3L364.9 69.0M363.8 90.4L369.6 84.8M365.6 82.7L363.2 76.0M370.3 75.4L372.7 73.1M391.0 69.5L382.3 69.3M366.0 74.5L367.7 65.2M391.1 65.5L392.4 72.9M355.4 73.9L353.0 69.4M380.7 77.4L375.6 74.4M372.6 75.2L373.3 77.5M354.2 66.2L358.4 70.5M353.2 83.0L360.6 85.7M366.4 70.9L358.3 70.3M362.9 82.8L363.9 84.8M353.6 84.6L352.6 81.3M384.0 83.0L378.0 75.9M303.0 57.7L341.7 82.4M313.8 56.6L336.1 83.8M304.5 58.9L342.5 75.7M313.5 65.8L341.4 83.9M304.2 65.3L336.2 81.3M295.8 67.3L338.0 84.2M309.5 57.7L345.2 82.1M316.0 72.4L312.7 69.9M310.9 72.2L318.3 77.3M341.8 76.7L333.9 71.2M329.6 76.0L320.1 74.6M316.4 75.7L316.2 77.7M342.3 70.1L341.5 66.2M321.0 77.4L319.9 75.2M316.9 80.9L312.1 80.9M344.7 70.5L345.4 75.3M387.7 69.7L424.8 77.2M390.8 71.2L419.7 78.1M385.7 70.7L422.0 79.3M391.7 69.8L419.3 74.2M419.9 75.2L417.6 80.2M428.0 78.4L430.9 74.5M420.2 73.6L428.9 76.5M434.1 73.2L435.0 70.9M434.5 110.1L432.6 104.6M452.4 108.8L456.0 101.9M449.6 103.4L446.9 105.2M455.5 108.0L449.7 106.4M450.9 113.8L451.9 105.3M452.5 107.5L458.9 119.4M454.4 107.0L464.3 123.4M400.4 158.4L438.0 157.5M362.7 177.9L361.6 180.2M335.7 115.8L363.6 131.5M325.6 122.2L350.1 134.1M322.5 117.4L357.2 132.3" fill="none" stroke="#2fb57a" stroke-width="0.65" stroke-linecap="round"/>
<path d="M76.0 33.0L90.0 25.0M90.0 25.0L94.0 34.0M94.0 34.0L78.0 35.0M80.0 27.0L93.0 24.0M77.0 36.0L92.0 30.0M92.0 23.0L96.0 26.0M132.0 19.0L144.0 28.5M152.0 17.0L144.0 28.5M136.0 31.0L144.0 28.5M156.0 26.0L144.0 28.5M140.0 17.0L144.0 28.5M96.0 69.0L99.0 71.0M131.0 76.0L134.0 79.0M52.2 116.3L55.2 116.5M52.6 115.2L48.8 114.3M86.8 176.5L101.3 185.7M91.1 171.6L100.4 186.2M85.5 174.4L102.9 185.5M87.5 176.8L116.3 189.1M89.3 177.4L116.0 186.6M88.2 172.6L112.2 187.4M136.0 181.0L139.0 187.0M137.0 179.0L140.0 184.0M196.0 110.0L200.0 112.0M198.0 114.0L202.0 110.0M199.0 108.0L203.0 111.0M224.0 125.0L231.0 126.0M228.0 123.0L234.0 127.0M258.0 129.0L262.0 131.0M236.0 100.0L240.0 100.0M244.0 97.0L248.0 97.0M258.0 101.0L262.0 101.0M229.0 99.0L233.0 99.0M258.0 95.0L262.0 97.0M266.0 98.0L270.0 100.0M272.0 91.0L276.0 93.0M213.0 165.0L219.0 167.0M214.0 164.0L219.0 166.0M218.0 160.0L221.0 163.0M261.0 190.0L265.0 192.0M275.4 215.0L283.0 218.5M275.3 214.8L279.5 220.1M272.9 221.9L281.9 222.5M277.7 220.1L282.2 220.4M276.7 219.4L279.8 220.7M248.0 223.0L252.0 225.0M266.0 257.0L269.0 260.0M321.2 140.6L320.0 144.2M322.1 161.5L319.6 161.1M325.5 142.9L324.0 145.0M329.4 173.9L328.4 170.8M268.8 32.9L264.6 30.8M265.7 14.2L261.4 15.7M269.0 35.7L272.9 34.0M257.4 46.0L258.8 44.5M274.5 33.3L275.7 31.6M259.7 27.3L260.5 31.2M271.1 43.5L273.1 42.3M258.9 31.9L260.0 27.8M275.8 54.0L271.6 53.2M271.6 37.5L269.7 33.3M251.9 52.6L254.4 51.2M256.6 54.9L258.6 54.0M259.0 51.3L256.4 50.8M264.0 58.8L265.1 57.0M249.7 69.7L248.3 71.2M250.2 57.3L247.5 56.8M247.4 42.9L246.3 40.9M243.6 45.5L242.7 43.0M254.2 43.1L251.4 41.9M268.3 48.6L267.0 53.0M234.4 58.7L231.6 58.9M238.7 59.0L240.7 59.3M243.4 54.8L243.2 59.0M252.8 91.0L250.3 89.9M255.4 90.4L257.7 90.6M265.9 94.4L261.9 94.1M243.0 89.0L239.4 91.3M263.5 94.7L261.3 92.9M272.8 98.4L273.8 95.5M290.4 80.8L294.8 80.5M306.6 71.0L309.5 74.2M293.3 93.1L295.4 96.6M301.8 72.2L303.7 74.2M294.8 88.5L297.2 87.7M283.3 88.2L283.6 90.2M301.4 83.7L299.3 80.8M276.3 84.7L278.1 85.9M321.8 102.5L325.8 101.3M307.6 87.1L304.6 86.7M322.6 85.6L325.2 84.0M284.3 66.6L283.6 69.5M293.7 60.1L295.1 58.1M280.6 51.5L282.6 54.0M373.1 123.0L369.6 123.6M362.5 119.7L363.3 121.8M393.5 122.6L392.4 124.8M365.2 94.8L361.4 95.8M367.4 107.4L364.7 110.4M365.6 96.6L362.5 98.2M378.6 124.0L376.3 126.8M353.9 115.4L354.4 112.0M357.2 90.8L355.0 92.3M388.9 102.3L392.9 100.1M372.4 89.6L372.0 86.5M396.0 110.1L394.4 107.2M375.0 72.0L380.0 74.0M378.0 75.0L382.0 72.0M424.0 75.0L428.0 77.0M431.0 76.0L434.0 74.0M427.0 74.0L431.0 75.0M440.0 108.0L444.0 110.0M442.0 110.0L446.0 109.0M446.0 112.0L449.0 110.0M404.0 161.0L408.0 163.0" fill="none" stroke="#ee1111" stroke-width="1.0" stroke-linecap="round"/>
<path d="M90.0 25.0L88.6 27.0L87.5 25.1zM94.0 34.0L92.1 32.4L94.1 31.5zM78.0 35.0L80.1 33.8L80.3 36.0zM93.0 24.0L91.1 25.6L90.6 23.4zM92.0 30.0L90.4 31.8L89.5 29.8zM96.0 26.0L93.6 25.6L94.9 23.8zM144.0 28.5L141.6 28.0L143.0 26.3zM144.0 28.5L144.4 26.1L146.2 27.3zM144.0 28.5L142.2 30.2L141.6 28.1zM144.0 28.5L145.9 27.0L146.4 29.1zM144.0 28.5L142.2 26.8L144.3 26.1zM99.0 71.0L96.6 70.7L97.8 68.9zM134.0 79.0L131.7 78.2L133.2 76.7zM55.2 116.5L52.9 117.5L53.0 115.3zM48.8 114.3L51.2 113.8L50.7 115.9zM101.3 185.7L98.8 185.4L100.0 183.6zM100.4 186.2L98.3 185.0L100.1 183.8zM102.9 185.5L100.5 185.2L101.7 183.3zM116.3 189.1L113.8 189.2L114.7 187.2zM116.0 186.6L113.5 186.9L114.3 184.9zM112.2 187.4L109.7 187.2L110.9 185.3zM139.0 187.0L137.0 185.5L139.0 184.5zM140.0 184.0L137.9 182.7L139.8 181.5zM200.0 112.0L197.5 112.0L198.5 110.0zM202.0 110.0L201.2 112.3L199.7 110.8zM203.0 111.0L200.6 110.6L201.9 108.8zM231.0 126.0L228.7 126.8L229.0 124.6zM234.0 127.0L231.6 126.7L232.8 124.9zM262.0 131.0L259.5 131.0L260.5 129.0zM240.0 100.0L237.8 101.1L237.8 98.9zM248.0 97.0L245.8 98.1L245.8 95.9zM262.0 101.0L259.8 102.1L259.8 99.9zM233.0 99.0L230.8 100.1L230.8 97.9zM262.0 97.0L259.5 97.0L260.5 95.0zM270.0 100.0L267.5 100.0L268.5 98.0zM276.0 93.0L273.5 93.0L274.5 91.0zM219.0 167.0L216.6 167.3L217.3 165.3zM219.0 166.0L216.5 166.2L217.4 164.2zM221.0 163.0L218.7 162.2L220.2 160.7zM265.0 192.0L262.5 192.0L263.5 190.0zM283.0 218.5L280.6 218.5L281.5 216.5zM279.5 220.1L277.2 219.0L279.0 217.6zM281.9 222.5L279.6 223.4L279.8 221.3zM282.2 220.4L280.0 221.3L280.1 219.1zM279.8 220.7L277.3 220.8L278.2 218.8zM252.0 225.0L249.5 225.0L250.5 223.0zM269.0 260.0L266.7 259.2L268.2 257.7zM320.0 144.2L319.6 141.8L321.7 142.5zM319.6 161.1L321.9 160.4L321.6 162.5zM324.0 145.0L324.4 142.5L326.2 143.8zM328.4 170.8L330.2 172.6L328.1 173.3zM264.6 30.8L267.0 30.7L266.0 32.7zM261.4 15.7L263.1 13.9L263.8 16.0zM272.9 34.0L271.4 35.9L270.5 33.8zM258.8 44.5L258.1 46.9L256.5 45.3zM275.7 31.6L275.3 34.1L273.5 32.8zM260.5 31.2L259.0 29.2L261.1 28.8zM273.1 42.3L271.8 44.4L270.6 42.5zM260.0 27.8L260.5 30.2L258.4 29.6zM271.6 53.2L274.0 52.5L273.6 54.7zM269.7 33.3L271.6 34.8L269.6 35.8zM254.4 51.2L253.0 53.2L251.9 51.3zM258.6 54.0L257.0 55.9L256.1 53.9zM256.4 50.8L258.7 50.1L258.3 52.3zM265.1 57.0L264.9 59.5L263.0 58.3zM248.3 71.2L249.0 68.9L250.6 70.4zM247.5 56.8L249.8 56.1L249.4 58.2zM246.3 40.9L248.3 42.3L246.4 43.4zM242.7 43.0L244.5 44.7L242.4 45.4zM251.4 41.9L253.9 41.8L253.0 43.8zM267.0 53.0L266.6 50.6L268.7 51.2zM231.6 58.9L233.7 57.6L233.9 59.8zM240.7 59.3L238.4 60.0L238.8 57.8zM243.2 59.0L242.2 56.7L244.4 56.8zM250.3 89.9L252.7 89.8L251.8 91.8zM257.7 90.6L255.4 91.5L255.6 89.3zM261.9 94.1L264.2 93.2L264.1 95.4zM239.4 91.3L240.7 89.2L241.9 91.0zM261.3 92.9L263.7 93.4L262.3 95.2zM273.8 95.5L274.1 97.9L272.0 97.2zM294.8 80.5L292.7 81.7L292.6 79.5zM309.5 74.2L307.2 73.3L308.8 71.8zM295.4 96.6L293.3 95.3L295.2 94.2zM303.7 74.2L301.4 73.3L303.0 71.8zM297.2 87.7L295.5 89.4L294.8 87.4zM283.6 90.2L282.1 88.2L284.3 87.8zM299.3 80.8L301.5 81.9L299.7 83.2zM278.1 85.9L275.7 85.7L276.9 83.8zM325.8 101.3L324.0 103.0L323.4 100.9zM304.6 86.7L307.0 85.9L306.7 88.1zM325.2 84.0L323.9 86.1L322.8 84.2zM283.6 69.5L283.0 67.1L285.2 67.6zM295.1 58.1L294.7 60.6L292.9 59.3zM282.6 54.0L280.4 53.0L282.1 51.6zM369.6 123.6L371.5 122.2L371.9 124.4zM363.3 121.8L361.5 120.2L363.5 119.4zM392.4 124.8L392.4 122.4L394.3 123.3zM361.4 95.8L363.3 94.2L363.8 96.3zM364.7 110.4L365.3 108.1L367.0 109.6zM362.5 98.2L363.9 96.2L364.9 98.2zM376.3 126.8L376.8 124.4L378.5 125.8zM354.4 112.0L355.2 114.4L353.0 114.0zM355.0 92.3L356.2 90.2L357.4 92.0zM392.9 100.1L391.5 102.1L390.4 100.2zM372.0 86.5L373.4 88.6L371.2 88.9zM394.4 107.2L396.4 108.6L394.5 109.6zM380.0 74.0L377.5 74.2L378.4 72.2zM382.0 72.0L380.9 74.2L379.6 72.4zM428.0 77.0L425.5 77.0L426.5 75.0zM434.0 74.0L432.8 76.1L431.6 74.3zM431.0 75.0L428.6 75.5L429.1 73.4zM444.0 110.0L441.5 110.0L442.5 108.0zM446.0 109.0L444.1 110.6L443.6 108.5zM449.0 110.0L447.8 112.1L446.6 110.3zM408.0 163.0L405.5 163.0L406.5 161.0z" fill="#ee1111"/>
<path d="M213.2 14.6h1.3v1.3h-1.3zM223.2 14.8h1.3v1.3h-1.3zM252.9 14.2h1.3v1.3h-1.3zM256.6 15.2h1.3v1.3h-1.3zM262.6 14.5h1.3v1.3h-1.3zM267.5 14.8h1.3v1.3h-1.3zM276.1 14.8h1.3v1.3h-1.3zM285.9 14.3h1.3v1.3h-1.3zM213.7 19.5h1.3v1.3h-1.3zM218.7 19.2h1.3v1.3h-1.3zM222.6 19.9h1.3v1.3h-1.3zM232.8 19.8h1.3v1.3h-1.3zM237.2 19.8h1.3v1.3h-1.3zM242.3 19.4h1.3v1.3h-1.3zM247.9 20.1h1.3v1.3h-1.3zM252.3 19.4h1.3v1.3h-1.3zM257.4 20.2h1.3v1.3h-1.3zM277.1 20.2h1.3v1.3h-1.3zM280.8 19.2h1.3v1.3h-1.3zM285.7 19.7h1.3v1.3h-1.3zM290.6 19.2h1.3v1.3h-1.3zM301.4 20.3h1.3v1.3h-1.3zM144.9 24.7h1.3v1.3h-1.3zM213.3 24.3h1.3v1.3h-1.3zM218.7 25.1h1.3v1.3h-1.3zM223.8 25.0h1.3v1.3h-1.3zM227.7 24.2h1.3v1.3h-1.3zM233.3 24.7h1.3v1.3h-1.3zM238.1 25.2h1.3v1.3h-1.3zM242.1 24.5h1.3v1.3h-1.3zM262.7 25.1h1.3v1.3h-1.3zM272.1 24.8h1.3v1.3h-1.3zM281.3 23.9h1.3v1.3h-1.3zM286.9 24.4h1.3v1.3h-1.3zM291.4 25.2h1.3v1.3h-1.3zM300.4 24.3h1.3v1.3h-1.3zM311.0 25.2h1.3v1.3h-1.3zM315.2 24.5h1.3v1.3h-1.3zM319.5 24.0h1.3v1.3h-1.3zM330.0 25.2h1.3v1.3h-1.3zM174.2 29.5h1.3v1.3h-1.3zM214.0 29.5h1.3v1.3h-1.3zM228.1 29.3h1.3v1.3h-1.3zM232.2 29.5h1.3v1.3h-1.3zM237.9 29.1h1.3v1.3h-1.3zM247.5 30.0h1.3v1.3h-1.3zM252.2 29.3h1.3v1.3h-1.3zM257.8 29.6h1.3v1.3h-1.3zM261.9 29.5h1.3v1.3h-1.3zM272.0 28.8h1.3v1.3h-1.3zM276.7 29.6h1.3v1.3h-1.3zM281.1 29.4h1.3v1.3h-1.3zM286.1 29.9h1.3v1.3h-1.3zM291.0 29.3h1.3v1.3h-1.3zM305.2 29.6h1.3v1.3h-1.3zM311.0 30.0h1.3v1.3h-1.3zM72.7 34.3h1.3v1.3h-1.3zM179.2 33.6h1.3v1.3h-1.3zM213.5 34.2h1.3v1.3h-1.3zM227.8 33.7h1.3v1.3h-1.3zM232.3 34.5h1.3v1.3h-1.3zM266.6 34.9h1.3v1.3h-1.3zM272.2 33.8h1.3v1.3h-1.3zM281.1 34.1h1.3v1.3h-1.3zM286.2 34.4h1.3v1.3h-1.3zM301.3 34.2h1.3v1.3h-1.3zM305.9 34.2h1.3v1.3h-1.3zM310.8 34.0h1.3v1.3h-1.3zM92.6 39.4h1.3v1.3h-1.3zM122.0 39.7h1.3v1.3h-1.3zM125.7 39.2h1.3v1.3h-1.3zM213.4 39.6h1.3v1.3h-1.3zM223.0 38.7h1.3v1.3h-1.3zM228.4 39.7h1.3v1.3h-1.3zM232.5 39.1h1.3v1.3h-1.3zM238.0 39.5h1.3v1.3h-1.3zM242.5 39.6h1.3v1.3h-1.3zM252.6 39.0h1.3v1.3h-1.3zM261.9 38.6h1.3v1.3h-1.3zM271.4 39.3h1.3v1.3h-1.3zM286.2 39.8h1.3v1.3h-1.3zM290.5 39.2h1.3v1.3h-1.3zM300.4 39.1h1.3v1.3h-1.3zM315.2 38.7h1.3v1.3h-1.3zM320.3 38.5h1.3v1.3h-1.3zM340.1 39.1h1.3v1.3h-1.3zM344.4 39.1h1.3v1.3h-1.3zM214.0 44.5h1.3v1.3h-1.3zM218.1 43.5h1.3v1.3h-1.3zM223.4 44.6h1.3v1.3h-1.3zM228.4 44.2h1.3v1.3h-1.3zM232.6 44.2h1.3v1.3h-1.3zM237.9 43.4h1.3v1.3h-1.3zM253.0 43.8h1.3v1.3h-1.3zM262.3 44.2h1.3v1.3h-1.3zM272.1 43.4h1.3v1.3h-1.3zM296.2 44.1h1.3v1.3h-1.3zM300.3 43.6h1.3v1.3h-1.3zM310.2 43.7h1.3v1.3h-1.3zM334.4 43.4h1.3v1.3h-1.3zM344.4 43.4h1.3v1.3h-1.3zM349.0 44.1h1.3v1.3h-1.3zM353.7 43.9h1.3v1.3h-1.3zM363.2 43.7h1.3v1.3h-1.3zM189.2 48.7h1.3v1.3h-1.3zM198.9 48.5h1.3v1.3h-1.3zM218.0 48.5h1.3v1.3h-1.3zM223.8 48.4h1.3v1.3h-1.3zM228.1 49.0h1.3v1.3h-1.3zM233.0 48.2h1.3v1.3h-1.3zM242.5 48.5h1.3v1.3h-1.3zM257.4 48.3h1.3v1.3h-1.3zM276.0 49.2h1.3v1.3h-1.3zM296.6 49.4h1.3v1.3h-1.3zM310.7 48.4h1.3v1.3h-1.3zM329.5 49.4h1.3v1.3h-1.3zM334.6 48.5h1.3v1.3h-1.3zM339.3 48.8h1.3v1.3h-1.3zM345.0 48.5h1.3v1.3h-1.3zM349.2 48.7h1.3v1.3h-1.3zM374.1 48.6h1.3v1.3h-1.3zM494.2 49.0h1.3v1.3h-1.3zM513.9 49.1h1.3v1.3h-1.3zM160.4 53.2h1.3v1.3h-1.3zM218.5 54.0h1.3v1.3h-1.3zM247.0 53.3h1.3v1.3h-1.3zM256.9 54.0h1.3v1.3h-1.3zM276.0 54.3h1.3v1.3h-1.3zM286.8 53.9h1.3v1.3h-1.3zM291.0 53.9h1.3v1.3h-1.3zM315.1 54.2h1.3v1.3h-1.3zM325.5 53.6h1.3v1.3h-1.3zM378.7 53.5h1.3v1.3h-1.3zM513.6 53.4h1.3v1.3h-1.3zM49.2 58.2h1.3v1.3h-1.3zM212.9 59.0h1.3v1.3h-1.3zM223.1 58.6h1.3v1.3h-1.3zM228.6 58.7h1.3v1.3h-1.3zM233.1 58.7h1.3v1.3h-1.3zM237.6 58.1h1.3v1.3h-1.3zM247.8 58.1h1.3v1.3h-1.3zM266.4 57.9h1.3v1.3h-1.3zM281.5 59.1h1.3v1.3h-1.3zM295.9 57.9h1.3v1.3h-1.3zM325.4 58.1h1.3v1.3h-1.3zM334.8 58.4h1.3v1.3h-1.3zM344.5 58.5h1.3v1.3h-1.3zM379.0 58.1h1.3v1.3h-1.3zM48.5 62.8h1.3v1.3h-1.3zM193.5 63.2h1.3v1.3h-1.3zM217.9 63.3h1.3v1.3h-1.3zM227.6 63.9h1.3v1.3h-1.3zM238.3 63.8h1.3v1.3h-1.3zM262.2 63.7h1.3v1.3h-1.3zM271.4 62.8h1.3v1.3h-1.3zM285.9 63.8h1.3v1.3h-1.3zM291.0 63.8h1.3v1.3h-1.3zM295.6 63.0h1.3v1.3h-1.3zM309.9 63.3h1.3v1.3h-1.3zM315.2 63.3h1.3v1.3h-1.3zM334.6 63.8h1.3v1.3h-1.3zM339.5 63.1h1.3v1.3h-1.3zM344.0 63.2h1.3v1.3h-1.3zM383.6 62.7h1.3v1.3h-1.3zM460.3 63.2h1.3v1.3h-1.3zM465.5 63.4h1.3v1.3h-1.3zM480.0 62.7h1.3v1.3h-1.3zM213.2 68.7h1.3v1.3h-1.3zM223.1 68.4h1.3v1.3h-1.3zM228.2 67.7h1.3v1.3h-1.3zM233.6 68.4h1.3v1.3h-1.3zM237.1 68.3h1.3v1.3h-1.3zM261.8 67.8h1.3v1.3h-1.3zM266.7 67.8h1.3v1.3h-1.3zM286.6 67.7h1.3v1.3h-1.3zM291.3 67.7h1.3v1.3h-1.3zM305.6 68.3h1.3v1.3h-1.3zM311.2 68.6h1.3v1.3h-1.3zM319.9 68.6h1.3v1.3h-1.3zM334.9 67.5h1.3v1.3h-1.3zM344.5 67.7h1.3v1.3h-1.3zM364.6 68.4h1.3v1.3h-1.3zM107.4 73.5h1.3v1.3h-1.3zM217.8 72.4h1.3v1.3h-1.3zM222.6 72.5h1.3v1.3h-1.3zM238.3 73.2h1.3v1.3h-1.3zM247.1 73.3h1.3v1.3h-1.3zM256.7 73.0h1.3v1.3h-1.3zM267.3 73.3h1.3v1.3h-1.3zM271.3 73.0h1.3v1.3h-1.3zM281.0 73.3h1.3v1.3h-1.3zM285.7 73.2h1.3v1.3h-1.3zM290.9 73.6h1.3v1.3h-1.3zM295.8 73.5h1.3v1.3h-1.3zM300.9 73.2h1.3v1.3h-1.3zM305.6 73.1h1.3v1.3h-1.3zM311.0 73.0h1.3v1.3h-1.3zM330.6 72.9h1.3v1.3h-1.3zM369.3 72.6h1.3v1.3h-1.3zM387.7 73.4h1.3v1.3h-1.3zM489.4 72.5h1.3v1.3h-1.3zM120.7 77.2h1.3v1.3h-1.3zM126.8 77.2h1.3v1.3h-1.3zM213.7 77.5h1.3v1.3h-1.3zM217.7 77.9h1.3v1.3h-1.3zM223.7 78.4h1.3v1.3h-1.3zM228.2 77.2h1.3v1.3h-1.3zM233.0 77.7h1.3v1.3h-1.3zM237.5 77.6h1.3v1.3h-1.3zM261.4 78.1h1.3v1.3h-1.3zM267.3 77.8h1.3v1.3h-1.3zM271.4 77.4h1.3v1.3h-1.3zM281.4 78.2h1.3v1.3h-1.3zM285.8 78.4h1.3v1.3h-1.3zM291.4 77.5h1.3v1.3h-1.3zM305.3 77.7h1.3v1.3h-1.3zM315.0 78.2h1.3v1.3h-1.3zM324.8 78.4h1.3v1.3h-1.3zM340.2 78.4h1.3v1.3h-1.3zM450.6 77.3h1.3v1.3h-1.3zM465.1 77.5h1.3v1.3h-1.3zM228.6 83.1h1.3v1.3h-1.3zM232.5 82.9h1.3v1.3h-1.3zM237.4 82.5h1.3v1.3h-1.3zM242.3 83.4h1.3v1.3h-1.3zM247.4 82.9h1.3v1.3h-1.3zM253.0 82.3h1.3v1.3h-1.3zM257.6 82.6h1.3v1.3h-1.3zM262.1 82.1h1.3v1.3h-1.3zM267.2 82.6h1.3v1.3h-1.3zM271.3 82.2h1.3v1.3h-1.3zM276.2 83.2h1.3v1.3h-1.3zM282.0 82.3h1.3v1.3h-1.3zM301.3 83.0h1.3v1.3h-1.3zM305.3 83.2h1.3v1.3h-1.3zM310.3 82.5h1.3v1.3h-1.3zM329.6 82.5h1.3v1.3h-1.3zM335.4 83.3h1.3v1.3h-1.3zM340.3 82.2h1.3v1.3h-1.3zM135.6 88.1h1.3v1.3h-1.3zM170.3 87.5h1.3v1.3h-1.3zM238.0 87.0h1.3v1.3h-1.3zM242.0 88.2h1.3v1.3h-1.3zM247.2 87.8h1.3v1.3h-1.3zM251.9 87.4h1.3v1.3h-1.3zM257.3 86.9h1.3v1.3h-1.3zM262.2 87.9h1.3v1.3h-1.3zM267.1 87.3h1.3v1.3h-1.3zM272.1 87.3h1.3v1.3h-1.3zM276.7 88.2h1.3v1.3h-1.3zM281.6 87.2h1.3v1.3h-1.3zM285.8 87.7h1.3v1.3h-1.3zM290.7 87.9h1.3v1.3h-1.3zM296.1 87.8h1.3v1.3h-1.3zM301.3 87.7h1.3v1.3h-1.3zM305.0 87.0h1.3v1.3h-1.3zM310.7 87.8h1.3v1.3h-1.3zM320.8 88.1h1.3v1.3h-1.3zM325.2 87.6h1.3v1.3h-1.3zM335.2 86.9h1.3v1.3h-1.3zM345.1 88.1h1.3v1.3h-1.3zM358.9 87.8h1.3v1.3h-1.3zM364.3 88.1h1.3v1.3h-1.3zM213.6 91.8h1.3v1.3h-1.3zM227.8 92.5h1.3v1.3h-1.3zM233.5 92.9h1.3v1.3h-1.3zM252.6 92.1h1.3v1.3h-1.3zM257.8 91.9h1.3v1.3h-1.3zM262.7 93.0h1.3v1.3h-1.3zM267.3 92.6h1.3v1.3h-1.3zM272.4 92.3h1.3v1.3h-1.3zM277.2 91.9h1.3v1.3h-1.3zM281.8 92.1h1.3v1.3h-1.3zM286.6 92.9h1.3v1.3h-1.3zM300.8 92.1h1.3v1.3h-1.3zM315.4 91.8h1.3v1.3h-1.3zM320.3 92.8h1.3v1.3h-1.3zM329.8 92.8h1.3v1.3h-1.3zM334.1 92.4h1.3v1.3h-1.3zM349.8 92.0h1.3v1.3h-1.3zM358.6 92.5h1.3v1.3h-1.3zM368.4 92.5h1.3v1.3h-1.3zM383.7 92.5h1.3v1.3h-1.3zM426.6 93.1h1.3v1.3h-1.3zM97.2 96.6h1.3v1.3h-1.3zM212.8 96.9h1.3v1.3h-1.3zM227.9 97.3h1.3v1.3h-1.3zM233.0 96.7h1.3v1.3h-1.3zM238.0 97.1h1.3v1.3h-1.3zM243.3 97.1h1.3v1.3h-1.3zM247.6 97.6h1.3v1.3h-1.3zM252.0 96.8h1.3v1.3h-1.3zM257.8 96.6h1.3v1.3h-1.3zM261.7 97.9h1.3v1.3h-1.3zM266.3 97.2h1.3v1.3h-1.3zM271.7 97.5h1.3v1.3h-1.3zM277.1 97.3h1.3v1.3h-1.3zM281.0 97.4h1.3v1.3h-1.3zM300.7 97.1h1.3v1.3h-1.3zM310.8 97.1h1.3v1.3h-1.3zM319.8 97.1h1.3v1.3h-1.3zM325.7 96.8h1.3v1.3h-1.3zM349.1 97.4h1.3v1.3h-1.3zM358.4 97.8h1.3v1.3h-1.3zM403.1 96.6h1.3v1.3h-1.3zM208.8 101.8h1.3v1.3h-1.3zM218.6 101.6h1.3v1.3h-1.3zM228.5 102.6h1.3v1.3h-1.3zM232.9 102.5h1.3v1.3h-1.3zM238.4 101.8h1.3v1.3h-1.3zM242.9 102.2h1.3v1.3h-1.3zM246.8 101.6h1.3v1.3h-1.3zM252.0 102.5h1.3v1.3h-1.3zM257.8 101.6h1.3v1.3h-1.3zM267.4 102.2h1.3v1.3h-1.3zM271.3 102.3h1.3v1.3h-1.3zM286.7 102.6h1.3v1.3h-1.3zM291.8 102.6h1.3v1.3h-1.3zM296.6 101.9h1.3v1.3h-1.3zM305.4 101.7h1.3v1.3h-1.3zM315.2 102.1h1.3v1.3h-1.3zM325.1 102.2h1.3v1.3h-1.3zM329.5 102.4h1.3v1.3h-1.3zM335.3 101.7h1.3v1.3h-1.3zM339.5 102.3h1.3v1.3h-1.3zM344.4 102.7h1.3v1.3h-1.3zM349.0 101.8h1.3v1.3h-1.3zM382.9 102.8h1.3v1.3h-1.3zM393.2 102.6h1.3v1.3h-1.3zM402.4 102.2h1.3v1.3h-1.3zM421.7 102.8h1.3v1.3h-1.3zM431.7 102.4h1.3v1.3h-1.3zM461.1 102.4h1.3v1.3h-1.3zM218.3 107.0h1.3v1.3h-1.3zM228.3 106.7h1.3v1.3h-1.3zM233.4 106.6h1.3v1.3h-1.3zM238.2 107.2h1.3v1.3h-1.3zM242.4 106.8h1.3v1.3h-1.3zM248.1 106.9h1.3v1.3h-1.3zM252.0 106.8h1.3v1.3h-1.3zM257.4 107.2h1.3v1.3h-1.3zM267.4 107.4h1.3v1.3h-1.3zM272.0 107.6h1.3v1.3h-1.3zM276.8 106.4h1.3v1.3h-1.3zM285.6 106.6h1.3v1.3h-1.3zM290.8 106.6h1.3v1.3h-1.3zM310.1 107.0h1.3v1.3h-1.3zM319.8 106.6h1.3v1.3h-1.3zM325.6 107.4h1.3v1.3h-1.3zM339.2 106.7h1.3v1.3h-1.3zM344.5 107.2h1.3v1.3h-1.3zM358.8 106.5h1.3v1.3h-1.3zM364.2 107.3h1.3v1.3h-1.3zM373.8 106.3h1.3v1.3h-1.3zM382.6 106.6h1.3v1.3h-1.3zM392.7 107.4h1.3v1.3h-1.3zM403.0 107.1h1.3v1.3h-1.3zM47.9 112.2h1.3v1.3h-1.3zM53.9 112.4h1.3v1.3h-1.3zM121.3 111.8h1.3v1.3h-1.3zM213.3 112.0h1.3v1.3h-1.3zM232.3 112.2h1.3v1.3h-1.3zM238.1 112.1h1.3v1.3h-1.3zM242.9 111.9h1.3v1.3h-1.3zM251.8 112.1h1.3v1.3h-1.3zM257.5 112.5h1.3v1.3h-1.3zM262.7 111.6h1.3v1.3h-1.3zM267.2 111.5h1.3v1.3h-1.3zM271.3 112.3h1.3v1.3h-1.3zM277.2 111.6h1.3v1.3h-1.3zM281.0 111.4h1.3v1.3h-1.3zM296.4 112.2h1.3v1.3h-1.3zM309.9 111.6h1.3v1.3h-1.3zM316.0 112.3h1.3v1.3h-1.3zM319.6 112.4h1.3v1.3h-1.3zM324.7 112.2h1.3v1.3h-1.3zM344.7 111.8h1.3v1.3h-1.3zM350.0 111.3h1.3v1.3h-1.3zM392.8 111.8h1.3v1.3h-1.3zM402.6 111.6h1.3v1.3h-1.3zM426.3 111.6h1.3v1.3h-1.3zM456.2 112.2h1.3v1.3h-1.3zM218.1 117.2h1.3v1.3h-1.3zM223.6 116.5h1.3v1.3h-1.3zM227.4 116.9h1.3v1.3h-1.3zM233.0 116.6h1.3v1.3h-1.3zM238.0 116.1h1.3v1.3h-1.3zM243.0 116.6h1.3v1.3h-1.3zM247.7 116.3h1.3v1.3h-1.3zM252.8 117.1h1.3v1.3h-1.3zM257.6 117.0h1.3v1.3h-1.3zM261.7 116.1h1.3v1.3h-1.3zM266.7 116.7h1.3v1.3h-1.3zM271.9 117.4h1.3v1.3h-1.3zM276.1 116.2h1.3v1.3h-1.3zM281.5 117.2h1.3v1.3h-1.3zM286.5 116.6h1.3v1.3h-1.3zM295.7 116.2h1.3v1.3h-1.3zM305.9 116.0h1.3v1.3h-1.3zM325.6 117.2h1.3v1.3h-1.3zM329.9 116.9h1.3v1.3h-1.3zM340.2 117.1h1.3v1.3h-1.3zM345.1 117.1h1.3v1.3h-1.3zM348.9 117.3h1.3v1.3h-1.3zM378.5 117.2h1.3v1.3h-1.3zM383.8 117.2h1.3v1.3h-1.3zM416.7 116.2h1.3v1.3h-1.3zM432.3 116.0h1.3v1.3h-1.3zM456.3 117.3h1.3v1.3h-1.3zM212.8 121.2h1.3v1.3h-1.3zM217.9 122.1h1.3v1.3h-1.3zM223.4 121.7h1.3v1.3h-1.3zM228.2 121.3h1.3v1.3h-1.3zM233.3 121.4h1.3v1.3h-1.3zM237.4 122.0h1.3v1.3h-1.3zM247.1 121.8h1.3v1.3h-1.3zM252.6 121.0h1.3v1.3h-1.3zM256.6 122.0h1.3v1.3h-1.3zM262.3 121.2h1.3v1.3h-1.3zM266.7 121.6h1.3v1.3h-1.3zM272.4 121.1h1.3v1.3h-1.3zM276.3 121.0h1.3v1.3h-1.3zM280.8 121.4h1.3v1.3h-1.3zM286.0 121.8h1.3v1.3h-1.3zM291.3 121.7h1.3v1.3h-1.3zM310.1 122.2h1.3v1.3h-1.3zM314.7 120.9h1.3v1.3h-1.3zM319.6 121.1h1.3v1.3h-1.3zM324.6 121.4h1.3v1.3h-1.3zM329.3 121.4h1.3v1.3h-1.3zM354.7 121.8h1.3v1.3h-1.3zM378.5 121.4h1.3v1.3h-1.3zM416.8 121.7h1.3v1.3h-1.3zM227.7 126.1h1.3v1.3h-1.3zM232.8 125.9h1.3v1.3h-1.3zM238.2 127.0h1.3v1.3h-1.3zM242.6 125.9h1.3v1.3h-1.3zM247.1 127.1h1.3v1.3h-1.3zM252.9 126.3h1.3v1.3h-1.3zM256.7 126.1h1.3v1.3h-1.3zM262.1 126.9h1.3v1.3h-1.3zM267.1 126.3h1.3v1.3h-1.3zM272.4 126.2h1.3v1.3h-1.3zM276.4 126.9h1.3v1.3h-1.3zM281.3 125.7h1.3v1.3h-1.3zM286.0 126.8h1.3v1.3h-1.3zM296.1 126.1h1.3v1.3h-1.3zM305.2 126.4h1.3v1.3h-1.3zM311.1 126.7h1.3v1.3h-1.3zM325.5 125.9h1.3v1.3h-1.3zM353.5 126.7h1.3v1.3h-1.3zM363.6 127.0h1.3v1.3h-1.3zM383.6 126.5h1.3v1.3h-1.3zM387.5 126.7h1.3v1.3h-1.3zM392.4 125.8h1.3v1.3h-1.3zM417.4 126.4h1.3v1.3h-1.3zM432.2 126.0h1.3v1.3h-1.3zM174.5 131.1h1.3v1.3h-1.3zM228.4 130.7h1.3v1.3h-1.3zM232.5 130.7h1.3v1.3h-1.3zM237.3 130.7h1.3v1.3h-1.3zM242.7 131.3h1.3v1.3h-1.3zM247.9 130.9h1.3v1.3h-1.3zM251.6 130.7h1.3v1.3h-1.3zM256.6 130.7h1.3v1.3h-1.3zM262.4 130.7h1.3v1.3h-1.3zM275.9 131.2h1.3v1.3h-1.3zM281.3 131.7h1.3v1.3h-1.3zM286.6 130.7h1.3v1.3h-1.3zM291.7 131.9h1.3v1.3h-1.3zM295.5 131.3h1.3v1.3h-1.3zM301.5 131.3h1.3v1.3h-1.3zM315.9 130.8h1.3v1.3h-1.3zM324.5 131.4h1.3v1.3h-1.3zM334.4 130.7h1.3v1.3h-1.3zM339.7 130.5h1.3v1.3h-1.3zM343.8 131.6h1.3v1.3h-1.3zM349.8 131.5h1.3v1.3h-1.3zM368.5 130.9h1.3v1.3h-1.3zM407.3 131.3h1.3v1.3h-1.3zM441.2 131.8h1.3v1.3h-1.3zM116.8 136.0h1.3v1.3h-1.3zM194.0 136.5h1.3v1.3h-1.3zM233.2 136.7h1.3v1.3h-1.3zM237.2 136.6h1.3v1.3h-1.3zM243.2 136.0h1.3v1.3h-1.3zM247.1 135.6h1.3v1.3h-1.3zM252.8 135.8h1.3v1.3h-1.3zM256.5 136.7h1.3v1.3h-1.3zM262.4 136.5h1.3v1.3h-1.3zM267.4 135.8h1.3v1.3h-1.3zM276.7 135.6h1.3v1.3h-1.3zM286.5 136.8h1.3v1.3h-1.3zM291.5 135.7h1.3v1.3h-1.3zM305.6 136.2h1.3v1.3h-1.3zM311.0 136.1h1.3v1.3h-1.3zM315.5 135.9h1.3v1.3h-1.3zM320.1 136.7h1.3v1.3h-1.3zM324.7 136.5h1.3v1.3h-1.3zM329.7 135.6h1.3v1.3h-1.3zM348.8 135.8h1.3v1.3h-1.3zM392.9 136.6h1.3v1.3h-1.3zM436.6 136.4h1.3v1.3h-1.3zM446.8 136.7h1.3v1.3h-1.3zM87.1 140.8h1.3v1.3h-1.3zM208.3 140.7h1.3v1.3h-1.3zM213.2 141.6h1.3v1.3h-1.3zM227.6 141.0h1.3v1.3h-1.3zM233.0 141.0h1.3v1.3h-1.3zM237.6 140.6h1.3v1.3h-1.3zM242.9 140.3h1.3v1.3h-1.3zM248.1 141.2h1.3v1.3h-1.3zM252.6 140.6h1.3v1.3h-1.3zM257.2 140.5h1.3v1.3h-1.3zM262.6 140.9h1.3v1.3h-1.3zM267.6 140.9h1.3v1.3h-1.3zM271.9 140.9h1.3v1.3h-1.3zM277.0 141.6h1.3v1.3h-1.3zM281.7 140.4h1.3v1.3h-1.3zM291.0 140.5h1.3v1.3h-1.3zM296.2 141.1h1.3v1.3h-1.3zM319.8 141.3h1.3v1.3h-1.3zM330.3 140.7h1.3v1.3h-1.3zM335.4 140.3h1.3v1.3h-1.3zM349.6 141.6h1.3v1.3h-1.3zM354.3 141.0h1.3v1.3h-1.3zM368.8 140.8h1.3v1.3h-1.3zM374.0 140.4h1.3v1.3h-1.3zM397.7 141.1h1.3v1.3h-1.3zM436.1 141.2h1.3v1.3h-1.3zM212.8 146.4h1.3v1.3h-1.3zM218.6 145.2h1.3v1.3h-1.3zM223.3 145.7h1.3v1.3h-1.3zM232.2 145.2h1.3v1.3h-1.3zM237.3 146.2h1.3v1.3h-1.3zM243.3 145.1h1.3v1.3h-1.3zM247.5 145.1h1.3v1.3h-1.3zM251.9 145.5h1.3v1.3h-1.3zM256.9 145.6h1.3v1.3h-1.3zM261.4 145.9h1.3v1.3h-1.3zM266.8 145.6h1.3v1.3h-1.3zM277.1 145.9h1.3v1.3h-1.3zM280.9 145.9h1.3v1.3h-1.3zM295.9 146.4h1.3v1.3h-1.3zM306.1 146.2h1.3v1.3h-1.3zM315.0 146.3h1.3v1.3h-1.3zM320.7 145.7h1.3v1.3h-1.3zM325.3 146.2h1.3v1.3h-1.3zM329.4 146.0h1.3v1.3h-1.3zM334.2 145.5h1.3v1.3h-1.3zM345.1 145.8h1.3v1.3h-1.3zM378.4 145.7h1.3v1.3h-1.3zM402.4 145.4h1.3v1.3h-1.3zM412.0 145.9h1.3v1.3h-1.3zM417.2 145.5h1.3v1.3h-1.3zM179.2 151.2h1.3v1.3h-1.3zM213.9 150.6h1.3v1.3h-1.3zM227.5 151.1h1.3v1.3h-1.3zM232.2 150.2h1.3v1.3h-1.3zM242.2 150.1h1.3v1.3h-1.3zM246.9 150.8h1.3v1.3h-1.3zM256.6 150.0h1.3v1.3h-1.3zM261.7 150.0h1.3v1.3h-1.3zM266.4 150.5h1.3v1.3h-1.3zM272.3 150.6h1.3v1.3h-1.3zM281.1 151.1h1.3v1.3h-1.3zM286.6 150.8h1.3v1.3h-1.3zM290.9 150.4h1.3v1.3h-1.3zM300.2 150.6h1.3v1.3h-1.3zM305.7 150.9h1.3v1.3h-1.3zM315.1 150.1h1.3v1.3h-1.3zM320.5 150.2h1.3v1.3h-1.3zM324.9 150.1h1.3v1.3h-1.3zM330.3 150.7h1.3v1.3h-1.3zM345.2 150.3h1.3v1.3h-1.3zM373.3 150.9h1.3v1.3h-1.3zM378.4 150.1h1.3v1.3h-1.3zM388.0 150.2h1.3v1.3h-1.3zM422.3 150.2h1.3v1.3h-1.3zM427.0 151.1h1.3v1.3h-1.3zM441.9 150.0h1.3v1.3h-1.3zM445.9 150.7h1.3v1.3h-1.3zM174.4 155.6h1.3v1.3h-1.3zM228.1 155.2h1.3v1.3h-1.3zM233.5 155.7h1.3v1.3h-1.3zM238.1 156.1h1.3v1.3h-1.3zM241.9 155.5h1.3v1.3h-1.3zM246.8 155.6h1.3v1.3h-1.3zM252.3 155.7h1.3v1.3h-1.3zM257.6 156.1h1.3v1.3h-1.3zM266.4 156.0h1.3v1.3h-1.3zM271.7 154.9h1.3v1.3h-1.3zM277.0 155.5h1.3v1.3h-1.3zM281.7 155.7h1.3v1.3h-1.3zM286.9 155.1h1.3v1.3h-1.3zM296.3 156.1h1.3v1.3h-1.3zM305.7 155.4h1.3v1.3h-1.3zM324.8 154.9h1.3v1.3h-1.3zM339.7 155.1h1.3v1.3h-1.3zM378.5 156.0h1.3v1.3h-1.3zM397.8 155.4h1.3v1.3h-1.3zM402.6 155.1h1.3v1.3h-1.3zM416.7 155.5h1.3v1.3h-1.3zM422.6 155.9h1.3v1.3h-1.3zM436.6 155.9h1.3v1.3h-1.3zM441.7 156.0h1.3v1.3h-1.3zM169.6 159.7h1.3v1.3h-1.3zM223.3 160.0h1.3v1.3h-1.3zM228.7 159.8h1.3v1.3h-1.3zM232.7 159.8h1.3v1.3h-1.3zM238.3 160.0h1.3v1.3h-1.3zM242.8 159.9h1.3v1.3h-1.3zM247.4 159.9h1.3v1.3h-1.3zM252.8 160.3h1.3v1.3h-1.3zM256.9 160.8h1.3v1.3h-1.3zM261.9 160.6h1.3v1.3h-1.3zM267.4 160.8h1.3v1.3h-1.3zM271.0 161.0h1.3v1.3h-1.3zM276.5 160.3h1.3v1.3h-1.3zM280.8 161.0h1.3v1.3h-1.3zM286.3 160.3h1.3v1.3h-1.3zM290.5 159.9h1.3v1.3h-1.3zM296.3 160.2h1.3v1.3h-1.3zM305.4 160.8h1.3v1.3h-1.3zM314.8 160.9h1.3v1.3h-1.3zM334.9 160.3h1.3v1.3h-1.3zM353.6 160.5h1.3v1.3h-1.3zM387.5 161.0h1.3v1.3h-1.3zM412.7 160.4h1.3v1.3h-1.3zM417.9 160.6h1.3v1.3h-1.3zM446.7 160.1h1.3v1.3h-1.3zM92.9 165.1h1.3v1.3h-1.3zM130.7 164.7h1.3v1.3h-1.3zM217.9 165.2h1.3v1.3h-1.3zM233.0 164.7h1.3v1.3h-1.3zM237.5 165.1h1.3v1.3h-1.3zM242.0 165.8h1.3v1.3h-1.3zM247.1 164.9h1.3v1.3h-1.3zM252.0 165.0h1.3v1.3h-1.3zM257.2 164.9h1.3v1.3h-1.3zM262.4 165.0h1.3v1.3h-1.3zM271.3 165.8h1.3v1.3h-1.3zM276.2 165.8h1.3v1.3h-1.3zM281.8 165.8h1.3v1.3h-1.3zM286.1 165.7h1.3v1.3h-1.3zM295.3 165.0h1.3v1.3h-1.3zM309.8 165.6h1.3v1.3h-1.3zM339.0 165.5h1.3v1.3h-1.3zM349.1 165.5h1.3v1.3h-1.3zM373.3 165.4h1.3v1.3h-1.3zM378.3 165.4h1.3v1.3h-1.3zM398.2 165.1h1.3v1.3h-1.3zM407.8 165.5h1.3v1.3h-1.3zM416.7 164.9h1.3v1.3h-1.3zM427.1 165.1h1.3v1.3h-1.3zM218.1 170.5h1.3v1.3h-1.3zM233.0 169.4h1.3v1.3h-1.3zM242.6 169.9h1.3v1.3h-1.3zM248.0 169.9h1.3v1.3h-1.3zM252.1 169.9h1.3v1.3h-1.3zM257.8 170.4h1.3v1.3h-1.3zM262.0 170.5h1.3v1.3h-1.3zM266.7 169.9h1.3v1.3h-1.3zM272.0 170.1h1.3v1.3h-1.3zM276.8 169.8h1.3v1.3h-1.3zM281.5 170.1h1.3v1.3h-1.3zM300.2 170.6h1.3v1.3h-1.3zM305.4 169.7h1.3v1.3h-1.3zM310.0 170.3h1.3v1.3h-1.3zM315.8 169.7h1.3v1.3h-1.3zM368.1 169.6h1.3v1.3h-1.3zM397.3 170.0h1.3v1.3h-1.3zM427.0 170.0h1.3v1.3h-1.3zM179.1 174.4h1.3v1.3h-1.3zM223.9 174.8h1.3v1.3h-1.3zM228.6 175.2h1.3v1.3h-1.3zM233.1 174.4h1.3v1.3h-1.3zM238.2 175.3h1.3v1.3h-1.3zM242.5 174.8h1.3v1.3h-1.3zM248.1 174.3h1.3v1.3h-1.3zM252.0 175.1h1.3v1.3h-1.3zM256.8 174.3h1.3v1.3h-1.3zM276.3 175.1h1.3v1.3h-1.3zM281.7 174.6h1.3v1.3h-1.3zM286.9 174.4h1.3v1.3h-1.3zM325.7 174.7h1.3v1.3h-1.3zM369.3 174.6h1.3v1.3h-1.3zM383.4 175.5h1.3v1.3h-1.3zM387.5 174.3h1.3v1.3h-1.3zM397.3 174.3h1.3v1.3h-1.3zM203.5 180.3h1.3v1.3h-1.3zM223.7 179.8h1.3v1.3h-1.3zM228.4 180.2h1.3v1.3h-1.3zM237.5 179.2h1.3v1.3h-1.3zM242.3 179.1h1.3v1.3h-1.3zM246.9 180.4h1.3v1.3h-1.3zM252.2 179.7h1.3v1.3h-1.3zM257.1 179.6h1.3v1.3h-1.3zM277.0 180.0h1.3v1.3h-1.3zM282.1 179.2h1.3v1.3h-1.3zM285.6 179.4h1.3v1.3h-1.3zM291.2 180.4h1.3v1.3h-1.3zM295.8 179.3h1.3v1.3h-1.3zM305.3 179.5h1.3v1.3h-1.3zM310.5 179.7h1.3v1.3h-1.3zM314.8 179.7h1.3v1.3h-1.3zM338.9 179.0h1.3v1.3h-1.3zM354.6 179.3h1.3v1.3h-1.3zM184.0 184.2h1.3v1.3h-1.3zM223.8 184.3h1.3v1.3h-1.3zM228.0 185.1h1.3v1.3h-1.3zM237.9 184.1h1.3v1.3h-1.3zM242.5 185.0h1.3v1.3h-1.3zM246.8 185.3h1.3v1.3h-1.3zM252.7 184.2h1.3v1.3h-1.3zM256.6 184.6h1.3v1.3h-1.3zM267.2 184.2h1.3v1.3h-1.3zM276.3 185.0h1.3v1.3h-1.3zM280.9 184.6h1.3v1.3h-1.3zM309.9 184.1h1.3v1.3h-1.3zM325.3 185.2h1.3v1.3h-1.3zM335.3 185.1h1.3v1.3h-1.3zM353.9 184.1h1.3v1.3h-1.3zM358.6 184.7h1.3v1.3h-1.3zM402.9 185.0h1.3v1.3h-1.3zM213.0 189.2h1.3v1.3h-1.3zM218.3 189.3h1.3v1.3h-1.3zM222.9 189.3h1.3v1.3h-1.3zM228.2 189.2h1.3v1.3h-1.3zM237.4 189.9h1.3v1.3h-1.3zM247.8 189.5h1.3v1.3h-1.3zM257.7 189.8h1.3v1.3h-1.3zM262.2 190.0h1.3v1.3h-1.3zM271.5 188.8h1.3v1.3h-1.3zM277.1 189.7h1.3v1.3h-1.3zM281.7 189.5h1.3v1.3h-1.3zM286.1 189.1h1.3v1.3h-1.3zM296.3 189.4h1.3v1.3h-1.3zM305.3 189.5h1.3v1.3h-1.3zM325.6 189.9h1.3v1.3h-1.3zM330.3 189.1h1.3v1.3h-1.3zM348.9 189.6h1.3v1.3h-1.3zM397.9 190.1h1.3v1.3h-1.3zM406.9 189.4h1.3v1.3h-1.3zM222.9 194.9h1.3v1.3h-1.3zM227.5 194.4h1.3v1.3h-1.3zM233.1 194.2h1.3v1.3h-1.3zM247.3 194.5h1.3v1.3h-1.3zM251.9 194.8h1.3v1.3h-1.3zM256.6 194.3h1.3v1.3h-1.3zM261.6 194.4h1.3v1.3h-1.3zM271.7 194.0h1.3v1.3h-1.3zM276.6 194.5h1.3v1.3h-1.3zM296.5 194.9h1.3v1.3h-1.3zM315.6 194.8h1.3v1.3h-1.3zM349.7 194.2h1.3v1.3h-1.3zM359.2 193.8h1.3v1.3h-1.3zM383.0 194.3h1.3v1.3h-1.3zM387.9 194.2h1.3v1.3h-1.3zM398.2 194.7h1.3v1.3h-1.3zM218.7 198.6h1.3v1.3h-1.3zM223.5 199.6h1.3v1.3h-1.3zM227.7 198.8h1.3v1.3h-1.3zM233.4 198.5h1.3v1.3h-1.3zM247.2 198.5h1.3v1.3h-1.3zM272.2 199.8h1.3v1.3h-1.3zM277.1 198.9h1.3v1.3h-1.3zM286.3 198.7h1.3v1.3h-1.3zM329.4 199.3h1.3v1.3h-1.3zM384.0 199.4h1.3v1.3h-1.3zM218.0 204.3h1.3v1.3h-1.3zM228.1 203.7h1.3v1.3h-1.3zM242.5 204.2h1.3v1.3h-1.3zM252.7 204.2h1.3v1.3h-1.3zM266.8 204.0h1.3v1.3h-1.3zM281.2 203.9h1.3v1.3h-1.3zM291.3 204.5h1.3v1.3h-1.3zM310.3 204.4h1.3v1.3h-1.3zM349.5 204.2h1.3v1.3h-1.3zM353.8 204.2h1.3v1.3h-1.3zM242.9 208.8h1.3v1.3h-1.3zM246.8 209.0h1.3v1.3h-1.3zM257.4 209.2h1.3v1.3h-1.3zM276.5 209.1h1.3v1.3h-1.3zM285.9 209.1h1.3v1.3h-1.3zM291.1 208.9h1.3v1.3h-1.3zM325.5 208.5h1.3v1.3h-1.3zM329.5 208.3h1.3v1.3h-1.3zM334.4 208.6h1.3v1.3h-1.3zM358.6 208.2h1.3v1.3h-1.3zM374.2 209.3h1.3v1.3h-1.3zM214.1 213.9h1.3v1.3h-1.3zM219.0 213.4h1.3v1.3h-1.3zM222.9 213.0h1.3v1.3h-1.3zM227.9 213.7h1.3v1.3h-1.3zM237.8 214.0h1.3v1.3h-1.3zM242.3 213.4h1.3v1.3h-1.3zM247.6 213.9h1.3v1.3h-1.3zM262.1 213.9h1.3v1.3h-1.3zM267.5 213.0h1.3v1.3h-1.3zM276.9 213.7h1.3v1.3h-1.3zM285.6 213.3h1.3v1.3h-1.3zM296.0 214.3h1.3v1.3h-1.3zM368.7 213.7h1.3v1.3h-1.3zM256.7 219.1h1.3v1.3h-1.3zM262.7 218.0h1.3v1.3h-1.3zM267.5 218.1h1.3v1.3h-1.3zM286.0 219.0h1.3v1.3h-1.3zM295.7 219.1h1.3v1.3h-1.3zM329.6 217.9h1.3v1.3h-1.3zM397.1 218.4h1.3v1.3h-1.3zM237.6 223.1h1.3v1.3h-1.3zM252.9 223.8h1.3v1.3h-1.3zM257.7 223.8h1.3v1.3h-1.3zM262.0 222.9h1.3v1.3h-1.3zM277.3 223.4h1.3v1.3h-1.3zM324.8 222.8h1.3v1.3h-1.3zM397.7 222.7h1.3v1.3h-1.3zM242.9 228.4h1.3v1.3h-1.3zM251.8 227.8h1.3v1.3h-1.3zM267.5 228.7h1.3v1.3h-1.3zM272.3 228.1h1.3v1.3h-1.3zM276.7 228.5h1.3v1.3h-1.3zM393.4 228.8h1.3v1.3h-1.3zM262.0 232.9h1.3v1.3h-1.3zM266.3 233.3h1.3v1.3h-1.3zM272.1 233.0h1.3v1.3h-1.3zM392.8 233.3h1.3v1.3h-1.3zM402.3 233.2h1.3v1.3h-1.3zM247.6 237.5h1.3v1.3h-1.3zM252.2 238.3h1.3v1.3h-1.3zM256.8 238.2h1.3v1.3h-1.3zM402.4 238.1h1.3v1.3h-1.3zM261.7 242.7h1.3v1.3h-1.3zM266.8 242.6h1.3v1.3h-1.3zM252.5 247.2h1.3v1.3h-1.3zM408.0 247.5h1.3v1.3h-1.3zM256.8 252.8h1.3v1.3h-1.3zM403.1 252.8h1.3v1.3h-1.3zM398.2 257.8h1.3v1.3h-1.3zM403.0 257.5h1.3v1.3h-1.3zM403.3 262.5h1.3v1.3h-1.3z" fill="#4a4a4a"/>
<g fill="none" stroke="#111" stroke-width="1.15" stroke-linejoin="round">
<polyline points="44.5,43.1 51.6,44.3 55,47 55.4,49.6 61.6,50.1 68.3,49.6 74.2,49.1 81.7,46.7 86.7,46.4 104,45.9"/>
<polyline points="103.1,14 103,41.4 104,45.9"/>
<polyline points="104,45.9 105.9,51.2 104.2,56.5 104.6,59.2 101.7,63.9 104.2,66.1 103.1,69.3 103.1,88.4"/>
<polyline points="43.2,88.4 153,88.4"/>
<polyline points="78.3,88.4 78.3,120.2 123.2,162.7"/>
<polyline points="123.2,162.7 123.7,164.9 127.3,170.2 124.8,172.5 124.1,177.6 122.4,179.7 124.2,184.3 122.4,186.9"/>
<polyline points="123.2,162.7 122.2,157.4 122.2,152.1 128,150 128,141.5"/>
<polyline points="128,141.5 128,88.4"/>
<polyline points="128,141.5 228.3,141.5"/>
<polyline points="228.3,141.5 290.2,141.5"/>
<polyline points="169.7,99 169.7,201.7"/>
<polyline points="153,88.4 153,99 169.7,99"/>
<polyline points="153,88.4 153,61.8 150.1,59.2 141.8,62.4 138.4,62.9 134.3,58.6 130.1,51.2 124.2,50.7 125.5,45.9 123.4,39 117.6,32.6 114.2,30 113.8,25.2 111.3,24.6 111.3,14"/>
<polyline points="153,56.5 211.5,56.5"/>
<polyline points="211.5,14 211.5,99"/>
<polyline points="169.7,99 228.2,99 228.2,109.6"/>
<polyline points="228.2,109.6 228.2,141.5"/>
<polyline points="220.2,141.5 220.2,146.8 219.9,146.8 219.7,194.6 190,194.6 190.8,196.9"/>
<polyline points="220.2,146.8 245.3,146.8 245.3,167.4 249.5,169.1 253.6,171.2 257.8,172.3 262.8,174.4 268.7,175.5 274.5,175.5 279.5,174.9 284.5,174.6 291.2,177.3 295,178.1"/>
<polyline points="211.5,46.5 274,46.5"/>
<polyline points="268.4,14 269.1,19.3 271.6,28.9 272,39.5 273.7,42.7 274,46.5"/>
<polyline points="274,46.5 271.6,50.1 274.9,53.3 274.9,72.4"/>
<polyline points="211.5,77.8 257.8,77.8 266.1,79.3 271.2,80.4 274.9,83.2"/>
<polyline points="274.9,83.2 273.7,77.8 274.9,72.4"/>
<polyline points="274.9,72.4 318.6,72.4"/>
<polyline points="274.9,83.2 277,88.4 278.7,92.6 279.9,96.9 280.6,103.5 284.5,109.6"/>
<polyline points="228.2,109.6 284.5,109.6"/>
<polyline points="284.5,109.6 287.9,112.8 290.4,119.2 290.2,141.5"/>
<polyline points="290.2,141.5 290.2,146.8 291.8,158.5 291.4,177.2"/>
<polyline points="291.4,177.2 295,178.1 295,183.8 295,194.7 297,199.9 299.1,206.3 297.9,212.7 296.7,219"/>
<polyline points="311.2,37.9 309.6,39.5 309.6,45.1 305.8,50.7 305.4,59.2 309.6,61.8 313.7,65 317.1,67.7 318.6,72.4"/>
<polyline points="318.6,72.4 319.6,77.8 323.3,83.1 327.1,87.3 326.3,91.6 320.4,96.9 319.6,102.7 316.9,105.6"/>
<polyline points="280.6,103.5 314.3,103.1 316.9,105.6"/>
<polyline points="316.9,105.6 316.2,109.6 320.4,117.1 327.1,121.3 327.1,124.5 327.1,130.9 332.9,137.8 335.9,141.5"/>
<polyline points="335.9,141.5 332.9,146.8 331.3,152.1"/>
<polyline points="290.2,146.8 327.5,146.8 325.7,152.1 331.3,152.1"/>
<polyline points="331.3,152.1 327.9,161.7 326.3,162.7 323.7,169.1 319.6,174.4 319,184"/>
<polyline points="295,183.8 319,184"/>
<polyline points="319,184 319.6,191.4 317.1,198.8 315.1,205.2 331,205.2 332.1,213.9"/>
<polyline points="343.8,162.7 341.5,195.7 342.1,211.8"/>
<polyline points="326.3,162.7 376.2,162.7"/>
<polyline points="365.5,162.7 370.5,191.4 370.5,205.2"/>
<polyline points="348.8,205.2 370.5,205.2"/>
<polyline points="348.8,205.2 349.6,212.9"/>
<polyline points="370.5,205.2 371.7,208.4 393.9,209.8 395.5,207.9 400.1,208.2"/>
<polyline points="386.4,162.7 392.2,170.2 396.4,178.7 403.9,194.1"/>
<polyline points="376.2,162.7 386.4,162.7"/>
<polyline points="386.4,162.7 392.2,160.6 403.5,161.1 405.6,164.9 414.7,164.9 424.3,174.9"/>
<polyline points="376.2,162.7 379.7,157.4 391.4,152.1 398,145.7"/>
<polyline points="398,145.7 447.3,146.3"/>
<polyline points="332.9,146.8 381.5,145.7 398,145.7"/>
<polyline points="381.5,145.7 390.5,139.4 395.8,135.8"/>
<polyline points="395.8,135.8 390.5,129.1"/>
<polyline points="390.5,129.1 388.9,124.5 381.3,124 375.5,119.2 372,119.2 367.2,123.4 364.2,128 359.6,130.9 353.8,131.9 348.8,131.4 345,133 342.1,137.2 336.3,140.4 335.9,141.5"/>
<polyline points="345,133 346.3,127.7 349.6,122.4 349.4,116.5 349.4,90.9"/>
<polyline points="372,119.2 372,91.6"/>
<polyline points="352.1,90.9 372.2,91.6 383.4,91.2"/>
<polyline points="390.5,129.1 393.9,124.5 398,120.2 399.7,116.5 403.9,114.4 405.1,112.3 406.4,107.5 407.9,102.8"/>
<polyline points="407.9,102.8 407.9,88.6"/>
<polyline points="407.9,102.8 407.9,112.6 447.4,112.6 450.6,111.5"/>
<polyline points="416.6,112.6 416.6,118.1 421.4,115.5 426.4,113.9 430.6,117.1 431.4,116.8"/>
<polyline points="447.4,112.6 447.4,126 453.6,126.1"/>
<polyline points="431.4,116.8 433.5,118.1 436.9,122.4 434.8,126.6 437.7,128.7 443.5,131.9"/>
<polyline points="446.5,131.4 451.9,130.5"/>
<polyline points="395.8,135.8 402.2,138.8 409.7,136.2 413.1,130.9 416.4,125.6 421.4,121.3 426,116 430.3,118.9 431.4,116.8"/>
<polyline points="449.4,113.3 453.1,110.2 456.5,107.5 452.3,103.2 453.1,99 456.5,95.2"/>
<polyline points="456.5,95.2 463.1,99 461.9,103.2"/>
<polyline points="414.2,85.5 414.2,88.4 451,88.4 453.1,90.5 456.5,95.2"/>
<polyline points="465.2,99 466.5,96.9 466.1,95.8 466.6,87.8 468.5,80.4 468.2,71.4 467.7,56.4"/>
<polyline points="466.6,87.8 480.7,88.1"/>
<polyline points="480.7,88.1 480.3,95.6"/>
<polyline points="480.7,88.1 484.2,88.2 484.2,89.4 486.5,93.5"/>
<polyline points="468.5,80.4 475.2,80.6 484.9,80.9 489,79.1"/>
<polyline points="475.2,80.6 475.7,72.4 479,63.9 483.2,56.4"/>
<polyline points="489.9,76.7 487.5,69.3 486.7,53.3"/>
<polyline points="348.8,55.4 345.4,48 341.3,45.9 327.9,42.2 325.4,39.8"/>
<polyline points="323.3,83.1 347.1,83.1"/>
</g>
<path d="M38.9,20.6 L39.5,23.6 L41.6,27.3 L43.3,32.1 L43.9,35.8 L44.5,39 L44.5,43.1 L45.4,47 L45.4,51.2 L44.9,56.5 L44.3,60.8 L43.9,67.1 L43.3,71.4 L41.8,75.6 L40.3,79.5 L41.6,83.6 L43.2,88.4 L43.3,91 L44.1,96.9 L43.3,101.1 L41.5,104.9 L44.9,109.6 L46.6,113.9 L47.3,120.8 L50.8,125.6 L53.3,128.2 L53.1,130.9 L55.8,131.9 L57.5,133 L57.5,136.2 L58.3,139.4 L60.8,142 L62.5,145.7 L62.1,147.9 L65,152.1 L67.5,155.6 L70.8,158.5 L72.9,163.8 L73.3,167.5 L74.4,168.6 L78.3,168.6 L82.5,169.3 L85,171.8 L88.3,173.1 L90.9,173.1 L91.7,176 L93.8,176 L95.9,177.6 L97.5,179.1 L100.2,181.8 L101.3,185.6 L101.7,187.7 L102.4,189 L122.4,186.9 L121.7,189.4 L152.9,201.7 L176.7,201.7 L176.7,196.9 L190.8,196.9 L192.7,199.4 L196,202 L200.2,206.8 L204,209.5 L206.9,215.8 L208.8,220.5 L213.6,223.6 L217.7,226.5 L219.4,226.7 L221.5,223.8 L223.2,218.5 L226.1,217.4 L230.3,218 L233.6,218.5 L237.3,222.7 L240.3,227.5 L242.4,233.4 L246.1,238.7 L249.5,242.4 L249.9,247.7 L252.8,253 L257,255.7 L260.3,257.6 L264.5,258.3 L267,259.9 L269.1,258.8 L268.7,254.1 L267.8,248.8 L267.4,243.5 L269.5,238.7 L272,235.5 L275.3,232.8 L279.5,230.7 L284.5,227.5 L287.9,223.8 L290.4,221.7 L294.5,219.6 L296.7,219 L301.2,218.3 L307.1,220.3 L311.2,220.3 L313.7,221.4 L317.9,223.3 L321.2,225.4 L325.4,225.4 L327.9,224.9 L330.4,223.3 L332.9,225.4 L335.4,227 L337.1,224.3 L334.6,221.7 L332.1,219 L332.9,215.8 L332.1,213.9 L334.6,212.4 L338.8,211.6 L342.1,211.8 L344.6,212.1 L345,209.5 L346.3,208.9 L346.7,212.7 L349.6,212.9 L352.1,212.3 L358,211.6 L362.1,212.7 L364.6,214.5 L367.2,216.9 L367.6,219.2 L370.5,219.6 L373.8,217.4 L377.2,215.3 L379.7,215.8 L382.2,217.4 L383.8,221.2 L386.8,224.9 L389.3,229.1 L388.9,235 L390.1,238.1 L389.7,242.4 L391.4,245.6 L393.4,249.3 L395.1,253 L397.2,257.3 L398.9,259.9 L401.8,262.6 L403,267.4 L406.4,267.4 L408.9,266.3 L410.1,262.6 L411.2,258.9 L411.8,253 L411.4,247.7 L409.7,242.4 L407.6,236 L407.2,232.3 L405.1,226.5 L403,221.2 L401.4,215.8 L400.5,211.6 L400.1,208.2 L400.5,204.2 L402.2,198.8 L403.9,194.1 L406.4,191.9 L408.9,189.3 L413.1,186.6 L417.2,182.9 L419.7,178.7 L424.3,174.9 L428.9,174.6 L430.2,171.2 L433.1,168.6 L436.4,166.4 L441,166.8 L443.1,163.8 L446,161.7 L449.6,160.1 L449.8,156.4 L448.5,152.1 L447.3,146.3 L446,142.5 L443.1,142 L442.3,138.8 L443.1,135.1 L443.1,130.9 L442.3,127.1 L441.4,122.9 L442.3,118.1 L444.8,114.9 L446,114.9 L444.8,119.2 L443.5,123.4 L445.6,127.7 L446.5,131.9 L446,137.2 L445.6,140.4 L449,136.2 L451,131.9 L452.7,127.7 L453.6,124.5 L453.1,122.4 L451,120.2 L449.4,115.5 L449.4,113.3 L450.6,115.5 L453.1,118.1 L454.4,121 L456.5,118.1 L459,116 L460.6,112.8 L461.9,108.6 L462.3,104.8 L461.9,103.2 L462.7,103.5 L466.5,103.2 L470.7,102.2 L474.8,100.6 L480.2,98.3 L476.5,97.9 L473.2,99.5 L469,100.1 L464.8,100.6 L464,100.3 L465.2,99 L469,97.4 L471.5,96.1 L475.7,96 L480.3,95.6 L484,94.2 L485.7,93.7 L487.8,93.5 L490.3,93.2 L493.2,92.3 L495.7,91.9 L496.1,89.4 L494.5,87.7 L493.6,88.4 L491.5,90.7 L490.3,88.9 L489.4,86.3 L487.4,84.7 L488.6,83.1 L490.7,81.5 L489,79.3 L489.9,76.7 L491.5,73.5 L494,70.8 L497.4,69.3 L501.5,67.7 L504.1,66.1 L507.4,64.5 L510.7,63.4 L514.1,62.4 L517.4,60.2 L520.7,58.1 L519.5,54.9 L517,50.1 L514.1,49.1 L514.1,34.5 L509.9,31.5 L504.9,33.1 L502.1,30.4 L495.7,38.5 L493.2,46.4 L489,52.3 L486.7,53.3 L483.2,56.4 L456.5,56.5 L451.5,58.6 L447.3,62.4 L443.1,65 L443.5,67.1 L444,71.9 L440.6,73 L435.6,74.8 L432.3,75.1 L425.6,73.8 L420.2,75 L421.4,79 L418.1,82.5 L414.2,85.5 L411.4,86.8 L407.9,88.6 L403.9,90 L398,93.7 L393,94.7 L389.7,94.2 L386.4,92.6 L383.4,91.2 L385.5,87.8 L386.4,85.2 L388,83.6 L391.4,82 L391.8,77.8 L390.9,71.4 L389.3,66.6 L384.7,67.7 L379.7,71.4 L379.3,68.2 L382.6,65 L384.7,61.8 L384.7,56 L381.3,52.3 L377.2,50.1 L373,48 L370.5,48.5 L369.7,52.8 L365.5,54.9 L362.1,57.6 L360.1,61.3 L358,66.1 L358.4,71.4 L360.1,75.6 L360.5,80.9 L359.2,85.2 L355.5,90.5 L352.1,92.4 L349.2,91 L348.4,88.4 L347.1,85.2 L347.1,83.1 L346.7,79.3 L346.3,76.7 L347.5,72.4 L348,68.2 L349.2,65.5 L350,60.8 L353.8,53.9 L348.8,59.2 L345.4,61.3 L347.5,57 L348.8,55.4 L350.9,52.3 L353.4,48.5 L357.1,47.5 L360.1,46.4 L363,45.4 L367.2,45.9 L371.3,46.4 L373,47 L375.9,46.4 L378,43.8 L377.2,41.1 L375.9,40.6 L373.8,41.1 L370.5,37.9 L366.3,38.5 L362.1,39 L357.1,41.3 L353.8,40.6 L350.5,40.6 L348,36.9 L345.4,36.3 L343.8,33.1 L346.3,30.5 L341.3,32.6 L337.9,35.3 L332.9,37.4 L328.8,39.5 L325.4,39.8 L322.1,39 L321.2,36.3 L317.9,37.4 L312.1,38.5 L311.2,37.9 L316.2,34.2 L323.7,28.9 L332.1,25 L325.4,23.6 L320.4,22.5 L314.6,23.6 L309.6,21.5 L306.2,19.3 L300.4,18.3 L295.4,17.7 L290.4,17 L289.5,14 L288.7,10.8 L285.8,10 L285.8,14 L268.4,14 L211.5,14 L153.5,14 L111.3,14 L103.1,14 L55.4,14 L56.6,17.2 L57.5,20.4 L59.1,24.6 L58.3,28.9 L57.5,32.1 L54.1,34.2 L53.3,31.5 L55.4,27.8 L55.4,23.6 L51.6,23.1 L47.4,23.1 L43.3,21.5Z" fill="none" stroke="#111" stroke-width="1.1" stroke-linejoin="round"/>
<path d="M52.5,16.5 L55.5,17.2 L57,19.5 L56.2,22 L57.2,24.5 L56.3,27.5 L57,30 L55.5,32.5 L54.2,34" fill="none" stroke="#000" stroke-width="2.6" stroke-linecap="round" stroke-linejoin="round"/>
<ellipse cx="54.3" cy="18.6" rx="3.6" ry="2.3" fill="#000"/><circle cx="54.6" cy="33.4" r="1.6" fill="#000"/><path d="M50,23.8 L53.5,23.2" stroke="#000" stroke-width="1.4"/>
<path d="M51,118 L53.5,121 L52.5,124 L55,127 L54,130 L56.5,133" fill="none" stroke="#000" stroke-width="1.5"/>
<path d="M73.5,173.8 L78,174.2 M80.5,178 L82,178.5 M78,176.5 L79,176.8" stroke="#000" stroke-width="1.4"/><circle cx="81.5" cy="181.5" r="0.8" fill="#000"/><circle cx="88.5" cy="184.5" r="0.8" fill="#000"/>
<path d="M41.8,36 L44.2,37 M42.5,39.5 L44.8,41 M42.6,43 L45.2,44" stroke="#000" stroke-width="1.3"/>
<text x="40" y="212.8" font-family="Liberation Sans, sans-serif" font-weight="bold" font-size="8.8" fill="#111">Transaction (M$)</text>
<path d="M40,221.6 H62.0 V218.6 L70.6,223.3 L62.0,228 V225.1 H40 Z" fill="#ee1c1c"/>
<text x="76.6" y="227.6" font-family="Liberation Sans, sans-serif" font-size="8.8" fill="#222">9.2 or more (0.01%)</text>
<path d="M40,236.2 H64.1 V234.1 L70.6,237.5 L64.1,240.9 V238.8 H40 Z" fill="#1a6ad0"/>
<text x="76.6" y="241.8" font-family="Liberation Sans, sans-serif" font-size="8.8" fill="#222">3.6 – 9.2 (0.04%)</text>
<path d="M40,249.9 H64.1 V248.1 L70.6,251 L64.1,253.9 V252.1 H40 Z" fill="#14b04a"/>
<text x="76.6" y="255.3" font-family="Liberation Sans, sans-serif" font-size="8.8" fill="#222">1.8 – 3.6 (0.1%)</text>
<path d="M40,262.6 H64.1 V260.8 L70.6,263.7 L64.1,266.6 V264.8 H40 Z" fill="#7a7a7a"/>
<text x="76.6" y="268" font-family="Liberation Sans, sans-serif" font-size="8.8" fill="#222">1.0 – 1.8 (0.2%)</text>
<text x="3.3" y="27" font-family="Liberation Serif, serif" font-size="19" fill="#111">(a)</text>
<text x="3.6" y="317.7" font-family="Liberation Serif, serif" font-size="19" fill="#111">(b)</text>
<text x="289.6" y="317.7" font-family="Liberation Serif, serif" font-size="19" fill="#111">(c)</text>
<rect x="73.9" y="347.8" width="193.6" height="140.4" fill="none" stroke="#5a5a5a" stroke-width="1"/>
<text x="65.5" y="491.6" text-anchor="end" font-family="Liberation Serif, serif" font-size="10" fill="#333">0</text>
<text x="65.5" y="471.5" text-anchor="end" font-family="Liberation Serif, serif" font-size="10" fill="#333">1</text>
<text x="65.5" y="451.5" text-anchor="end" font-family="Liberation Serif, serif" font-size="10" fill="#333">2</text>
<text x="65.5" y="431.4" text-anchor="end" font-family="Liberation Serif, serif" font-size="10" fill="#333">3</text>
<text x="65.5" y="411.3" text-anchor="end" font-family="Liberation Serif, serif" font-size="10" fill="#333">4</text>
<text x="65.5" y="391.2" text-anchor="end" font-family="Liberation Serif, serif" font-size="10" fill="#333">5</text>
<text x="65.5" y="371.2" text-anchor="end" font-family="Liberation Serif, serif" font-size="10" fill="#333">6</text>
<text x="65.5" y="351.1" text-anchor="end" font-family="Liberation Serif, serif" font-size="10" fill="#333">7</text>
<text x="73.6" y="502.5" text-anchor="middle" font-family="Liberation Serif, serif" font-size="10" fill="#333">0</text>
<text x="112.4" y="502.5" text-anchor="middle" font-family="Liberation Serif, serif" font-size="10" fill="#333">10</text>
<text x="151.2" y="502.5" text-anchor="middle" font-family="Liberation Serif, serif" font-size="10" fill="#333">20</text>
<text x="190" y="502.5" text-anchor="middle" font-family="Liberation Serif, serif" font-size="10" fill="#333">30</text>
<text x="228.8" y="502.5" text-anchor="middle" font-family="Liberation Serif, serif" font-size="10" fill="#333">40</text>
<text x="267.6" y="502.5" text-anchor="middle" font-family="Liberation Serif, serif" font-size="10" fill="#333">50</text>
<text x="171" y="517" text-anchor="middle" font-family="Liberation Serif, serif" font-weight="bold" font-size="11" fill="#111">Population density (quantile)</text>
<text transform="translate(48.3,428) rotate(-90)" text-anchor="middle" font-family="Liberation Serif, serif" font-weight="bold" font-size="11" fill="#111">Share (%)</text>
<polyline points="77.5,484.8 81.4,481 85.2,475.6 89.1,467.7 93,469.5 96.9,470.1 100.8,470.7 104.6,467.3 108.5,460.5 112.4,463.5 116.3,460.1 120.2,461.9 124,455.5 127.9,452.7 131.8,455.5 135.7,457.7 139.6,462.5 143.4,454.9 147.3,453.5 151.2,455.9 155.1,456.3 159,461.5 162.8,457.3 166.7,463.5 170.6,463.7 174.5,463.5 178.4,459.1 182.2,454.9 186.1,456.3 190,460.5 193.9,450.1 197.8,445.5 201.6,440.2 205.5,447.1 209.4,447.1 213.3,448.9 217.2,450.7 221,448.9 224.9,446.3 228.8,445 232.7,434.4 236.6,430.8 240.4,421.4 244.3,422.2 248.2,417.2 252.1,415.7 256,406.3 259.8,394.3 263.7,368 267.6,358.7" fill="none" stroke="#f08a24" stroke-width="1" stroke-dasharray="2.5,1.5"/>
<g fill="#f39233"><circle cx="77.5" cy="484.8" r="1.9"/><circle cx="81.4" cy="481" r="1.9"/><circle cx="85.2" cy="475.6" r="1.9"/><circle cx="89.1" cy="467.7" r="1.9"/><circle cx="93" cy="469.5" r="1.9"/><circle cx="96.9" cy="470.1" r="1.9"/><circle cx="100.8" cy="470.7" r="1.9"/><circle cx="104.6" cy="467.3" r="1.9"/><circle cx="108.5" cy="460.5" r="1.9"/><circle cx="112.4" cy="463.5" r="1.9"/><circle cx="116.3" cy="460.1" r="1.9"/><circle cx="120.2" cy="461.9" r="1.9"/><circle cx="124" cy="455.5" r="1.9"/><circle cx="127.9" cy="452.7" r="1.9"/><circle cx="131.8" cy="455.5" r="1.9"/><circle cx="135.7" cy="457.7" r="1.9"/><circle cx="139.6" cy="462.5" r="1.9"/><circle cx="143.4" cy="454.9" r="1.9"/><circle cx="147.3" cy="453.5" r="1.9"/><circle cx="151.2" cy="455.9" r="1.9"/><circle cx="155.1" cy="456.3" r="1.9"/><circle cx="159" cy="461.5" r="1.9"/><circle cx="162.8" cy="457.3" r="1.9"/><circle cx="166.7" cy="463.5" r="1.9"/><circle cx="170.6" cy="463.7" r="1.9"/><circle cx="174.5" cy="463.5" r="1.9"/><circle cx="178.4" cy="459.1" r="1.9"/><circle cx="182.2" cy="454.9" r="1.9"/><circle cx="186.1" cy="456.3" r="1.9"/><circle cx="190" cy="460.5" r="1.9"/><circle cx="193.9" cy="450.1" r="1.9"/><circle cx="197.8" cy="445.5" r="1.9"/><circle cx="201.6" cy="440.2" r="1.9"/><circle cx="205.5" cy="447.1" r="1.9"/><circle cx="209.4" cy="447.1" r="1.9"/><circle cx="213.3" cy="448.9" r="1.9"/><circle cx="217.2" cy="450.7" r="1.9"/><circle cx="221" cy="448.9" r="1.9"/><circle cx="224.9" cy="446.3" r="1.9"/><circle cx="228.8" cy="445" r="1.9"/><circle cx="232.7" cy="434.4" r="1.9"/><circle cx="236.6" cy="430.8" r="1.9"/><circle cx="240.4" cy="421.4" r="1.9"/><circle cx="244.3" cy="422.2" r="1.9"/><circle cx="248.2" cy="417.2" r="1.9"/><circle cx="252.1" cy="415.7" r="1.9"/><circle cx="256" cy="406.3" r="1.9"/><circle cx="259.8" cy="394.3" r="1.9"/><circle cx="263.7" cy="368" r="1.9"/><circle cx="267.6" cy="358.7" r="1.9"/></g>
<polyline points="77.5,476 81.4,465.3 85.2,450.7 89.1,431.4 93,436.6 96.9,440 100.8,446.7 104.6,442.8 108.5,428.8 112.4,436.6 116.3,434.8 120.2,437.8 124,433.8 127.9,423.2 131.8,433.8 135.7,429.8 139.6,440 143.4,425.8 147.3,429.2 151.2,437 155.1,443.8 159,450.7 162.8,448.3 166.7,453.7 170.6,454.1 174.5,449.5 178.4,452.7 182.2,445.5 186.1,448.9 190,453.1 193.9,453.3 197.8,453.1 201.6,448.1 205.5,448.1 209.4,450.1 213.3,446.3 217.2,447.5 221,447.1 224.9,449.3 228.8,456.1 232.7,450.5 236.6,450.5 240.4,450.5 244.3,457.7 248.2,461.1 252.1,461.5 256,464.5 259.8,470.5 263.7,479.8 267.6,484.2" fill="none" stroke="#4a4a4a" stroke-width="1.45"/>
<g fill="#4a4a4a"><circle cx="77.5" cy="476" r="2.1"/><circle cx="81.4" cy="465.3" r="2.1"/><circle cx="85.2" cy="450.7" r="2.1"/><circle cx="89.1" cy="431.4" r="2.1"/><circle cx="93" cy="436.6" r="2.1"/><circle cx="96.9" cy="440" r="2.1"/><circle cx="100.8" cy="446.7" r="2.1"/><circle cx="104.6" cy="442.8" r="2.1"/><circle cx="108.5" cy="428.8" r="2.1"/><circle cx="112.4" cy="436.6" r="2.1"/><circle cx="116.3" cy="434.8" r="2.1"/><circle cx="120.2" cy="437.8" r="2.1"/><circle cx="124" cy="433.8" r="2.1"/><circle cx="127.9" cy="423.2" r="2.1"/><circle cx="131.8" cy="433.8" r="2.1"/><circle cx="135.7" cy="429.8" r="2.1"/><circle cx="139.6" cy="440" r="2.1"/><circle cx="143.4" cy="425.8" r="2.1"/><circle cx="147.3" cy="429.2" r="2.1"/><circle cx="151.2" cy="437" r="2.1"/><circle cx="155.1" cy="443.8" r="2.1"/><circle cx="159" cy="450.7" r="2.1"/><circle cx="162.8" cy="448.3" r="2.1"/><circle cx="166.7" cy="453.7" r="2.1"/><circle cx="170.6" cy="454.1" r="2.1"/><circle cx="174.5" cy="449.5" r="2.1"/><circle cx="178.4" cy="452.7" r="2.1"/><circle cx="182.2" cy="445.5" r="2.1"/><circle cx="186.1" cy="448.9" r="2.1"/><circle cx="190" cy="453.1" r="2.1"/><circle cx="193.9" cy="453.3" r="2.1"/><circle cx="197.8" cy="453.1" r="2.1"/><circle cx="201.6" cy="448.1" r="2.1"/><circle cx="205.5" cy="448.1" r="2.1"/><circle cx="209.4" cy="450.1" r="2.1"/><circle cx="213.3" cy="446.3" r="2.1"/><circle cx="217.2" cy="447.5" r="2.1"/><circle cx="221" cy="447.1" r="2.1"/><circle cx="224.9" cy="449.3" r="2.1"/><circle cx="228.8" cy="456.1" r="2.1"/><circle cx="232.7" cy="450.5" r="2.1"/><circle cx="236.6" cy="450.5" r="2.1"/><circle cx="240.4" cy="450.5" r="2.1"/><circle cx="244.3" cy="457.7" r="2.1"/><circle cx="248.2" cy="461.1" r="2.1"/><circle cx="252.1" cy="461.5" r="2.1"/><circle cx="256" cy="464.5" r="2.1"/><circle cx="259.8" cy="470.5" r="2.1"/><circle cx="263.7" cy="479.8" r="2.1"/><circle cx="267.6" cy="484.2" r="2.1"/></g>
<line x1="100" y1="366.1" x2="120.4" y2="366.1" stroke="#4a4a4a" stroke-width="1.45"/><circle cx="110" cy="366.1" r="2.1" fill="#4a4a4a"/>
<line x1="100" y1="379.5" x2="120.4" y2="379.5" stroke="#f08a24" stroke-width="1" stroke-dasharray="2.5,1.5"/><circle cx="110" cy="379.5" r="1.9" fill="#f39233"/>
<text x="122.5" y="369" font-family="Liberation Serif, serif" font-size="9.5" fill="#222">Production</text>
<text x="122.5" y="382.4" font-family="Liberation Serif, serif" font-size="9.5" fill="#222">Consumption</text>
<rect x="345" y="324" width="4" height="4" fill="#d6e6f4"/>
<rect x="349" y="324" width="4" height="4" fill="#fdf0c8"/>
<rect x="353" y="324" width="24" height="4" fill="#fdd063"/>
<rect x="377" y="324" width="31" height="4" fill="#e8601c"/>
<rect x="408" y="324" width="4" height="4" fill="#fdd063"/>
<rect x="412" y="324" width="4" height="4" fill="#e50b0b"/>
<rect x="416" y="324" width="4" height="4" fill="#e8601c"/>
<rect x="420" y="324" width="4" height="4" fill="#fdd063"/>
<rect x="424" y="324" width="4" height="4" fill="#e8601c"/>
<rect x="428" y="324" width="4" height="4" fill="#fdd063"/>
<rect x="432" y="324" width="12" height="4" fill="#e8601c"/>
<rect x="444" y="324" width="4" height="4" fill="#e50b0b"/>
<rect x="448" y="324" width="12" height="4" fill="#e8601c"/>
<rect x="460" y="324" width="4" height="4" fill="#fdf0c8"/>
<rect x="464" y="324" width="4" height="4" fill="#e8601c"/>
<rect x="468" y="324" width="4" height="4" fill="#fdd063"/>
<rect x="472" y="324" width="24" height="4" fill="#e8601c"/>
<rect x="496" y="324" width="4" height="4" fill="#fdd063"/>
<rect x="500" y="324" width="16" height="4" fill="#e8601c"/>
<rect x="516" y="324" width="4" height="4" fill="#fdd063"/>
<rect x="520" y="324" width="4" height="4" fill="#fdf0c8"/>
<rect x="524" y="324" width="4" height="4" fill="#fdd063"/>
<rect x="528" y="324" width="4" height="4" fill="#fdf0c8"/>
<rect x="532" y="324" width="8" height="4" fill="#fdd063"/>
<rect x="540" y="324" width="4" height="4" fill="#fdf0c8"/>
<rect x="345" y="328" width="4" height="4" fill="#fdf0c8"/>
<rect x="349" y="328" width="4" height="4" fill="#0b2a6b"/>
<rect x="353" y="328" width="4" height="4" fill="#9ecae7"/>
<rect x="357" y="328" width="4" height="4" fill="#0b2a6b"/>
<rect x="361" y="328" width="16" height="4" fill="#9ecae7"/>
<rect x="377" y="328" width="8" height="4" fill="#d6e6f4"/>
<rect x="385" y="328" width="23" height="4" fill="#fdf0c8"/>
<rect x="408" y="328" width="4" height="4" fill="#d6e6f4"/>
<rect x="412" y="328" width="4" height="4" fill="#e8601c"/>
<rect x="416" y="328" width="4" height="4" fill="#fdd063"/>
<rect x="420" y="328" width="4" height="4" fill="#9ecae7"/>
<rect x="424" y="328" width="4" height="4" fill="#fdf0c8"/>
<rect x="428" y="328" width="4" height="4" fill="#d6e6f4"/>
<rect x="432" y="328" width="4" height="4" fill="#fdd063"/>
<rect x="436" y="328" width="8" height="4" fill="#fdf0c8"/>
<rect x="444" y="328" width="4" height="4" fill="#fdd063"/>
<rect x="448" y="328" width="20" height="4" fill="#fdf0c8"/>
<rect x="468" y="328" width="4" height="4" fill="#d6e6f4"/>
<rect x="472" y="328" width="4" height="4" fill="#fdf0c8"/>
<rect x="476" y="328" width="8" height="4" fill="#fdd063"/>
<rect x="484" y="328" width="12" height="4" fill="#fdf0c8"/>
<rect x="496" y="328" width="8" height="4" fill="#d6e6f4"/>
<rect x="504" y="328" width="4" height="4" fill="#fdf0c8"/>
<rect x="508" y="328" width="8" height="4" fill="#d6e6f4"/>
<rect x="516" y="328" width="4" height="4" fill="#9ecae7"/>
<rect x="520" y="328" width="4" height="4" fill="#d6e6f4"/>
<rect x="524" y="328" width="4" height="4" fill="#9ecae7"/>
<rect x="528" y="328" width="4" height="4" fill="#d6e6f4"/>
<rect x="532" y="328" width="8" height="4" fill="#9ecae7"/>
<rect x="540" y="328" width="4" height="4" fill="#0b2a6b"/>
<rect x="345" y="332" width="4" height="4" fill="#fdd063"/>
<rect x="349" y="332" width="4" height="4" fill="#9ecae7"/>
<rect x="353" y="332" width="4" height="4" fill="#0b2a6b"/>
<rect x="357" y="332" width="4" height="4" fill="#1a56a3"/>
<rect x="361" y="332" width="4" height="4" fill="#9ecae7"/>
<rect x="365" y="332" width="4" height="4" fill="#0b2a6b"/>
<rect x="369" y="332" width="8" height="4" fill="#9ecae7"/>
<rect x="377" y="332" width="24" height="4" fill="#d6e6f4"/>
<rect x="401" y="332" width="3" height="4" fill="#fdf0c8"/>
<rect x="404" y="332" width="4" height="4" fill="#d6e6f4"/>
<rect x="408" y="332" width="4" height="4" fill="#9ecae7"/>
<rect x="412" y="332" width="4" height="4" fill="#fdd063"/>
<rect x="416" y="332" width="8" height="4" fill="#d6e6f4"/>
<rect x="424" y="332" width="4" height="4" fill="#fdf0c8"/>
<rect x="428" y="332" width="4" height="4" fill="#d6e6f4"/>
<rect x="432" y="332" width="4" height="4" fill="#fdd063"/>
<rect x="436" y="332" width="20" height="4" fill="#fdf0c8"/>
<rect x="456" y="332" width="4" height="4" fill="#d6e6f4"/>
<rect x="460" y="332" width="8" height="4" fill="#fdf0c8"/>
<rect x="468" y="332" width="4" height="4" fill="#d6e6f4"/>
<rect x="472" y="332" width="12" height="4" fill="#fdf0c8"/>
<rect x="484" y="332" width="4" height="4" fill="#d6e6f4"/>
<rect x="488" y="332" width="8" height="4" fill="#fdf0c8"/>
<rect x="496" y="332" width="8" height="4" fill="#d6e6f4"/>
<rect x="504" y="332" width="4" height="4" fill="#fdf0c8"/>
<rect x="508" y="332" width="8" height="4" fill="#d6e6f4"/>
<rect x="516" y="332" width="4" height="4" fill="#9ecae7"/>
<rect x="520" y="332" width="4" height="4" fill="#d6e6f4"/>
<rect x="524" y="332" width="4" height="4" fill="#0b2a6b"/>
<rect x="528" y="332" width="4" height="4" fill="#9ecae7"/>
<rect x="532" y="332" width="4" height="4" fill="#0b2a6b"/>
<rect x="536" y="332" width="4" height="4" fill="#9ecae7"/>
<rect x="540" y="332" width="4" height="4" fill="#0b2a6b"/>
<rect x="345" y="336" width="4" height="4" fill="#fdd063"/>
<rect x="349" y="336" width="8" height="4" fill="#9ecae7"/>
<rect x="357" y="336" width="4" height="4" fill="#0b2a6b"/>
<rect x="361" y="336" width="4" height="4" fill="#1a56a3"/>
<rect x="365" y="336" width="4" height="4" fill="#0b2a6b"/>
<rect x="369" y="336" width="4" height="4" fill="#1a56a3"/>
<rect x="373" y="336" width="4" height="4" fill="#0b2a6b"/>
<rect x="377" y="336" width="4" height="4" fill="#1a56a3"/>
<rect x="381" y="336" width="8" height="4" fill="#d6e6f4"/>
<rect x="389" y="336" width="4" height="4" fill="#fdf0c8"/>
<rect x="393" y="336" width="8" height="4" fill="#d6e6f4"/>
<rect x="401" y="336" width="3" height="4" fill="#fdf0c8"/>
<rect x="404" y="336" width="8" height="4" fill="#d6e6f4"/>
<rect x="412" y="336" width="4" height="4" fill="#fdf0c8"/>
<rect x="416" y="336" width="4" height="4" fill="#d6e6f4"/>
<rect x="420" y="336" width="4" height="4" fill="#1a56a3"/>
<rect x="424" y="336" width="4" height="4" fill="#d6e6f4"/>
<rect x="428" y="336" width="4" height="4" fill="#1a56a3"/>
<rect x="432" y="336" width="8" height="4" fill="#fdf0c8"/>
<rect x="440" y="336" width="4" height="4" fill="#fdd063"/>
<rect x="444" y="336" width="4" height="4" fill="#fdf0c8"/>
<rect x="448" y="336" width="8" height="4" fill="#d6e6f4"/>
<rect x="456" y="336" width="4" height="4" fill="#fdf0c8"/>
<rect x="460" y="336" width="4" height="4" fill="#d6e6f4"/>
<rect x="464" y="336" width="4" height="4" fill="#fdf0c8"/>
<rect x="468" y="336" width="8" height="4" fill="#d6e6f4"/>
<rect x="476" y="336" width="8" height="4" fill="#fdf0c8"/>
<rect x="484" y="336" width="4" height="4" fill="#9ecae7"/>
<rect x="488" y="336" width="4" height="4" fill="#fdf0c8"/>
<rect x="492" y="336" width="12" height="4" fill="#d6e6f4"/>
<rect x="504" y="336" width="4" height="4" fill="#fdf0c8"/>
<rect x="508" y="336" width="8" height="4" fill="#d6e6f4"/>
<rect x="516" y="336" width="4" height="4" fill="#1a56a3"/>
<rect x="520" y="336" width="4" height="4" fill="#d6e6f4"/>
<rect x="524" y="336" width="4" height="4" fill="#0b2a6b"/>
<rect x="528" y="336" width="4" height="4" fill="#d6e6f4"/>
<rect x="532" y="336" width="4" height="4" fill="#0b2a6b"/>
<rect x="536" y="336" width="4" height="4" fill="#d6e6f4"/>
<rect x="540" y="336" width="4" height="4" fill="#0b2a6b"/>
<rect x="345" y="340" width="4" height="4" fill="#e8601c"/>
<rect x="349" y="340" width="4" height="4" fill="#d6e6f4"/>
<rect x="353" y="340" width="8" height="4" fill="#9ecae7"/>
<rect x="361" y="340" width="8" height="4" fill="#0b2a6b"/>
<rect x="369" y="340" width="20" height="4" fill="#1a56a3"/>
<rect x="389" y="340" width="12" height="4" fill="#d6e6f4"/>
<rect x="401" y="340" width="3" height="4" fill="#fdf0c8"/>
<rect x="404" y="340" width="8" height="4" fill="#d6e6f4"/>
<rect x="412" y="340" width="4" height="4" fill="#fdd063"/>
<rect x="416" y="340" width="4" height="4" fill="#fdf0c8"/>
<rect x="420" y="340" width="12" height="4" fill="#d6e6f4"/>
<rect x="432" y="340" width="4" height="4" fill="#fdd063"/>
<rect x="436" y="340" width="12" height="4" fill="#fdf0c8"/>
<rect x="448" y="340" width="8" height="4" fill="#d6e6f4"/>
<rect x="456" y="340" width="4" height="4" fill="#fdf0c8"/>
<rect x="460" y="340" width="4" height="4" fill="#d6e6f4"/>
<rect x="464" y="340" width="4" height="4" fill="#fdf0c8"/>
<rect x="468" y="340" width="8" height="4" fill="#d6e6f4"/>
<rect x="476" y="340" width="8" height="4" fill="#fdf0c8"/>
<rect x="484" y="340" width="4" height="4" fill="#d6e6f4"/>
<rect x="488" y="340" width="4" height="4" fill="#fdf0c8"/>
<rect x="492" y="340" width="4" height="4" fill="#d6e6f4"/>
<rect x="496" y="340" width="8" height="4" fill="#9ecae7"/>
<rect x="504" y="340" width="4" height="4" fill="#fdf0c8"/>
<rect x="508" y="340" width="8" height="4" fill="#d6e6f4"/>
<rect x="516" y="340" width="4" height="4" fill="#1a56a3"/>
<rect x="520" y="340" width="4" height="4" fill="#d6e6f4"/>
<rect x="524" y="340" width="4" height="4" fill="#0b2a6b"/>
<rect x="528" y="340" width="4" height="4" fill="#d6e6f4"/>
<rect x="532" y="340" width="4" height="4" fill="#1a56a3"/>
<rect x="536" y="340" width="4" height="4" fill="#d6e6f4"/>
<rect x="540" y="340" width="4" height="4" fill="#0b2a6b"/>
<rect x="345" y="344" width="4" height="4" fill="#fdd063"/>
<rect x="349" y="344" width="4" height="4" fill="#9ecae7"/>
<rect x="353" y="344" width="8" height="4" fill="#1a56a3"/>
<rect x="361" y="344" width="28" height="4" fill="#0b2a6b"/>
<rect x="389" y="344" width="4" height="4" fill="#9ecae7"/>
<rect x="393" y="344" width="8" height="4" fill="#1a56a3"/>
<rect x="401" y="344" width="3" height="4" fill="#d6e6f4"/>
<rect x="404" y="344" width="4" height="4" fill="#9ecae7"/>
<rect x="408" y="344" width="4" height="4" fill="#1a56a3"/>
<rect x="412" y="344" width="4" height="4" fill="#fdf0c8"/>
<rect x="416" y="344" width="4" height="4" fill="#9ecae7"/>
<rect x="420" y="344" width="4" height="4" fill="#1a56a3"/>
<rect x="424" y="344" width="4" height="4" fill="#9ecae7"/>
<rect x="428" y="344" width="4" height="4" fill="#0b2a6b"/>
<rect x="432" y="344" width="4" height="4" fill="#fdf0c8"/>
<rect x="436" y="344" width="16" height="4" fill="#d6e6f4"/>
<rect x="452" y="344" width="4" height="4" fill="#1a56a3"/>
<rect x="456" y="344" width="8" height="4" fill="#9ecae7"/>
<rect x="464" y="344" width="4" height="4" fill="#d6e6f4"/>
<rect x="468" y="344" width="4" height="4" fill="#1a56a3"/>
<rect x="472" y="344" width="4" height="4" fill="#9ecae7"/>
<rect x="476" y="344" width="8" height="4" fill="#d6e6f4"/>
<rect x="484" y="344" width="4" height="4" fill="#1a56a3"/>
<rect x="488" y="344" width="4" height="4" fill="#fdf0c8"/>
<rect x="492" y="344" width="12" height="4" fill="#1a56a3"/>
<rect x="504" y="344" width="4" height="4" fill="#d6e6f4"/>
<rect x="508" y="344" width="8" height="4" fill="#9ecae7"/>
<rect x="516" y="344" width="4" height="4" fill="#0b2a6b"/>
<rect x="520" y="344" width="4" height="4" fill="#1a56a3"/>
<rect x="524" y="344" width="20" height="4" fill="#0b2a6b"/>
<rect x="345" y="348" width="4" height="4" fill="#fdd063"/>
<rect x="349" y="348" width="8" height="4" fill="#d6e6f4"/>
<rect x="357" y="348" width="4" height="4" fill="#9ecae7"/>
<rect x="361" y="348" width="4" height="4" fill="#0b2a6b"/>
<rect x="365" y="348" width="4" height="4" fill="#1a56a3"/>
<rect x="369" y="348" width="4" height="4" fill="#0b2a6b"/>
<rect x="373" y="348" width="4" height="4" fill="#9ecae7"/>
<rect x="377" y="348" width="8" height="4" fill="#0b2a6b"/>
<rect x="385" y="348" width="4" height="4" fill="#1a56a3"/>
<rect x="389" y="348" width="12" height="4" fill="#9ecae7"/>
<rect x="401" y="348" width="7" height="4" fill="#d6e6f4"/>
<rect x="408" y="348" width="4" height="4" fill="#9ecae7"/>
<rect x="412" y="348" width="4" height="4" fill="#fdf0c8"/>
<rect x="416" y="348" width="4" height="4" fill="#d6e6f4"/>
<rect x="420" y="348" width="4" height="4" fill="#9ecae7"/>
<rect x="424" y="348" width="4" height="4" fill="#d6e6f4"/>
<rect x="428" y="348" width="4" height="4" fill="#9ecae7"/>
<rect x="432" y="348" width="8" height="4" fill="#fdf0c8"/>
<rect x="440" y="348" width="4" height="4" fill="#d6e6f4"/>
<rect x="444" y="348" width="4" height="4" fill="#fdf0c8"/>
<rect x="448" y="348" width="4" height="4" fill="#d6e6f4"/>
<rect x="452" y="348" width="4" height="4" fill="#9ecae7"/>
<rect x="456" y="348" width="16" height="4" fill="#d6e6f4"/>
<rect x="472" y="348" width="4" height="4" fill="#9ecae7"/>
<rect x="476" y="348" width="4" height="4" fill="#fdf0c8"/>
<rect x="480" y="348" width="4" height="4" fill="#d6e6f4"/>
<rect x="484" y="348" width="4" height="4" fill="#9ecae7"/>
<rect x="488" y="348" width="4" height="4" fill="#fdf0c8"/>
<rect x="492" y="348" width="4" height="4" fill="#d6e6f4"/>
<rect x="496" y="348" width="8" height="4" fill="#9ecae7"/>
<rect x="504" y="348" width="4" height="4" fill="#fdf0c8"/>
<rect x="508" y="348" width="4" height="4" fill="#9ecae7"/>
<rect x="512" y="348" width="4" height="4" fill="#d6e6f4"/>
<rect x="516" y="348" width="4" height="4" fill="#1a56a3"/>
<rect x="520" y="348" width="4" height="4" fill="#d6e6f4"/>
<rect x="524" y="348" width="4" height="4" fill="#0b2a6b"/>
<rect x="528" y="348" width="4" height="4" fill="#1a56a3"/>
<rect x="532" y="348" width="4" height="4" fill="#0b2a6b"/>
<rect x="536" y="348" width="4" height="4" fill="#1a56a3"/>
<rect x="540" y="348" width="4" height="4" fill="#0b2a6b"/>
<rect x="345" y="352" width="4" height="4" fill="#e8601c"/>
<rect x="349" y="352" width="8" height="4" fill="#d6e6f4"/>
<rect x="357" y="352" width="4" height="4" fill="#1a56a3"/>
<rect x="361" y="352" width="4" height="4" fill="#d6e6f4"/>
<rect x="365" y="352" width="4" height="4" fill="#1a56a3"/>
<rect x="369" y="352" width="4" height="4" fill="#ffffff"/>
<rect x="373" y="352" width="4" height="4" fill="#0b2a6b"/>
<rect x="377" y="352" width="12" height="4" fill="#1a56a3"/>
<rect x="389" y="352" width="4" height="4" fill="#d6e6f4"/>
<rect x="393" y="352" width="4" height="4" fill="#9ecae7"/>
<rect x="397" y="352" width="4" height="4" fill="#d6e6f4"/>
<rect x="401" y="352" width="3" height="4" fill="#fdf0c8"/>
<rect x="404" y="352" width="8" height="4" fill="#d6e6f4"/>
<rect x="412" y="352" width="4" height="4" fill="#fdf0c8"/>
<rect x="416" y="352" width="4" height="4" fill="#9ecae7"/>
<rect x="420" y="352" width="12" height="4" fill="#d6e6f4"/>
<rect x="432" y="352" width="12" height="4" fill="#fdf0c8"/>
<rect x="444" y="352" width="8" height="4" fill="#d6e6f4"/>
<rect x="452" y="352" width="4" height="4" fill="#9ecae7"/>
<rect x="456" y="352" width="4" height="4" fill="#fdf0c8"/>
<rect x="460" y="352" width="4" height="4" fill="#9ecae7"/>
<rect x="464" y="352" width="12" height="4" fill="#d6e6f4"/>
<rect x="476" y="352" width="8" height="4" fill="#fdf0c8"/>
<rect x="484" y="352" width="4" height="4" fill="#0b2a6b"/>
<rect x="488" y="352" width="4" height="4" fill="#fdf0c8"/>
<rect x="492" y="352" width="12" height="4" fill="#d6e6f4"/>
<rect x="504" y="352" width="4" height="4" fill="#fdf0c8"/>
<rect x="508" y="352" width="8" height="4" fill="#d6e6f4"/>
<rect x="516" y="352" width="4" height="4" fill="#1a56a3"/>
<rect x="520" y="352" width="4" height="4" fill="#ffffff"/>
<rect x="524" y="352" width="4" height="4" fill="#1a56a3"/>
<rect x="528" y="352" width="4" height="4" fill="#d6e6f4"/>
<rect x="532" y="352" width="4" height="4" fill="#1a56a3"/>
<rect x="536" y="352" width="4" height="4" fill="#d6e6f4"/>
<rect x="540" y="352" width="4" height="4" fill="#0b2a6b"/>
<rect x="345" y="356" width="4" height="4" fill="#e8601c"/>
<rect x="349" y="356" width="4" height="4" fill="#fdf0c8"/>
<rect x="353" y="356" width="12" height="4" fill="#d6e6f4"/>
<rect x="365" y="356" width="4" height="4" fill="#9ecae7"/>
<rect x="369" y="356" width="4" height="4" fill="#1a56a3"/>
<rect x="373" y="356" width="4" height="4" fill="#d6e6f4"/>
<rect x="377" y="356" width="8" height="4" fill="#0b2a6b"/>
<rect x="385" y="356" width="4" height="4" fill="#1a56a3"/>
<rect x="389" y="356" width="4" height="4" fill="#d6e6f4"/>
<rect x="393" y="356" width="8" height="4" fill="#9ecae7"/>
<rect x="401" y="356" width="7" height="4" fill="#d6e6f4"/>
<rect x="408" y="356" width="4" height="4" fill="#9ecae7"/>
<rect x="412" y="356" width="4" height="4" fill="#fdf0c8"/>
<rect x="416" y="356" width="4" height="4" fill="#9ecae7"/>
<rect x="420" y="356" width="4" height="4" fill="#d6e6f4"/>
<rect x="424" y="356" width="8" height="4" fill="#9ecae7"/>
<rect x="432" y="356" width="4" height="4" fill="#fdf0c8"/>
<rect x="436" y="356" width="12" height="4" fill="#d6e6f4"/>
<rect x="448" y="356" width="8" height="4" fill="#9ecae7"/>
<rect x="456" y="356" width="16" height="4" fill="#d6e6f4"/>
<rect x="472" y="356" width="4" height="4" fill="#9ecae7"/>
<rect x="476" y="356" width="8" height="4" fill="#d6e6f4"/>
<rect x="484" y="356" width="4" height="4" fill="#0b2a6b"/>
<rect x="488" y="356" width="4" height="4" fill="#fdf0c8"/>
<rect x="492" y="356" width="4" height="4" fill="#9ecae7"/>
<rect x="496" y="356" width="4" height="4" fill="#d6e6f4"/>
<rect x="500" y="356" width="4" height="4" fill="#9ecae7"/>
<rect x="504" y="356" width="4" height="4" fill="#d6e6f4"/>
<rect x="508" y="356" width="4" height="4" fill="#1a56a3"/>
<rect x="512" y="356" width="4" height="4" fill="#d6e6f4"/>
<rect x="516" y="356" width="4" height="4" fill="#0b2a6b"/>
<rect x="520" y="356" width="4" height="4" fill="#1a56a3"/>
<rect x="524" y="356" width="4" height="4" fill="#0b2a6b"/>
<rect x="528" y="356" width="4" height="4" fill="#1a56a3"/>
<rect x="532" y="356" width="4" height="4" fill="#0b2a6b"/>
<rect x="536" y="356" width="4" height="4" fill="#1a56a3"/>
<rect x="540" y="356" width="4" height="4" fill="#0b2a6b"/>
<rect x="345" y="360" width="4" height="3" fill="#e8601c"/>
<rect x="349" y="360" width="4" height="3" fill="#fdd063"/>
<rect x="353" y="360" width="8" height="3" fill="#fdf0c8"/>
<rect x="361" y="360" width="4" height="3" fill="#d6e6f4"/>
<rect x="365" y="360" width="8" height="3" fill="#9ecae7"/>
<rect x="373" y="360" width="4" height="3" fill="#d6e6f4"/>
<rect x="377" y="360" width="12" height="3" fill="#0b2a6b"/>
<rect x="389" y="360" width="4" height="3" fill="#9ecae7"/>
<rect x="393" y="360" width="8" height="3" fill="#1a56a3"/>
<rect x="401" y="360" width="7" height="3" fill="#d6e6f4"/>
<rect x="408" y="360" width="4" height="3" fill="#9ecae7"/>
<rect x="412" y="360" width="4" height="3" fill="#fdf0c8"/>
<rect x="416" y="360" width="4" height="3" fill="#9ecae7"/>
<rect x="420" y="360" width="8" height="3" fill="#d6e6f4"/>
<rect x="428" y="360" width="4" height="3" fill="#0b2a6b"/>
<rect x="432" y="360" width="4" height="3" fill="#fdf0c8"/>
<rect x="436" y="360" width="16" height="3" fill="#d6e6f4"/>
<rect x="452" y="360" width="4" height="3" fill="#1a56a3"/>
<rect x="456" y="360" width="4" height="3" fill="#9ecae7"/>
<rect x="460" y="360" width="8" height="3" fill="#d6e6f4"/>
<rect x="468" y="360" width="4" height="3" fill="#1a56a3"/>
<rect x="472" y="360" width="12" height="3" fill="#d6e6f4"/>
<rect x="484" y="360" width="4" height="3" fill="#9ecae7"/>
<rect x="488" y="360" width="4" height="3" fill="#fdf0c8"/>
<rect x="492" y="360" width="4" height="3" fill="#1a56a3"/>
<rect x="496" y="360" width="4" height="3" fill="#d6e6f4"/>
<rect x="500" y="360" width="4" height="3" fill="#1a56a3"/>
<rect x="504" y="360" width="4" height="3" fill="#d6e6f4"/>
<rect x="508" y="360" width="4" height="3" fill="#1a56a3"/>
<rect x="512" y="360" width="4" height="3" fill="#9ecae7"/>
<rect x="516" y="360" width="4" height="3" fill="#0b2a6b"/>
<rect x="520" y="360" width="4" height="3" fill="#d6e6f4"/>
<rect x="524" y="360" width="8" height="3" fill="#1a56a3"/>
<rect x="532" y="360" width="12" height="3" fill="#0b2a6b"/>
<rect x="345" y="363" width="4" height="4" fill="#e50b0b"/>
<rect x="349" y="363" width="4" height="4" fill="#e8601c"/>
<rect x="353" y="363" width="4" height="4" fill="#fdd063"/>
<rect x="357" y="363" width="8" height="4" fill="#fdf0c8"/>
<rect x="365" y="363" width="8" height="4" fill="#d6e6f4"/>
<rect x="373" y="363" width="4" height="4" fill="#9ecae7"/>
<rect x="377" y="363" width="12" height="4" fill="#0b2a6b"/>
<rect x="389" y="363" width="4" height="4" fill="#9ecae7"/>
<rect x="393" y="363" width="8" height="4" fill="#0b2a6b"/>
<rect x="401" y="363" width="3" height="4" fill="#d6e6f4"/>
<rect x="404" y="363" width="4" height="4" fill="#9ecae7"/>
<rect x="408" y="363" width="4" height="4" fill="#1a56a3"/>
<rect x="412" y="363" width="4" height="4" fill="#fdf0c8"/>
<rect x="416" y="363" width="4" height="4" fill="#9ecae7"/>
<rect x="420" y="363" width="4" height="4" fill="#d6e6f4"/>
<rect x="424" y="363" width="4" height="4" fill="#1a56a3"/>
<rect x="428" y="363" width="4" height="4" fill="#0b2a6b"/>
<rect x="432" y="363" width="4" height="4" fill="#fdf0c8"/>
<rect x="436" y="363" width="4" height="4" fill="#d6e6f4"/>
<rect x="440" y="363" width="4" height="4" fill="#fdf0c8"/>
<rect x="444" y="363" width="4" height="4" fill="#d6e6f4"/>
<rect x="448" y="363" width="4" height="4" fill="#fdf0c8"/>
<rect x="452" y="363" width="4" height="4" fill="#0b2a6b"/>
<rect x="456" y="363" width="8" height="4" fill="#d6e6f4"/>
<rect x="464" y="363" width="4" height="4" fill="#1a56a3"/>
<rect x="468" y="363" width="4" height="4" fill="#9ecae7"/>
<rect x="472" y="363" width="4" height="4" fill="#d6e6f4"/>
<rect x="476" y="363" width="4" height="4" fill="#9ecae7"/>
<rect x="480" y="363" width="4" height="4" fill="#d6e6f4"/>
<rect x="484" y="363" width="4" height="4" fill="#9ecae7"/>
<rect x="488" y="363" width="4" height="4" fill="#fdf0c8"/>
<rect x="492" y="363" width="4" height="4" fill="#9ecae7"/>
<rect x="496" y="363" width="4" height="4" fill="#d6e6f4"/>
<rect x="500" y="363" width="4" height="4" fill="#1a56a3"/>
<rect x="504" y="363" width="4" height="4" fill="#fdf0c8"/>
<rect x="508" y="363" width="4" height="4" fill="#9ecae7"/>
<rect x="512" y="363" width="4" height="4" fill="#1a56a3"/>
<rect x="516" y="363" width="4" height="4" fill="#0b2a6b"/>
<rect x="520" y="363" width="4" height="4" fill="#9ecae7"/>
<rect x="524" y="363" width="8" height="4" fill="#1a56a3"/>
<rect x="532" y="363" width="4" height="4" fill="#0b2a6b"/>
<rect x="536" y="363" width="4" height="4" fill="#1a56a3"/>
<rect x="540" y="363" width="4" height="4" fill="#0b2a6b"/>
<rect x="345" y="367" width="4" height="4" fill="#e8601c"/>
<rect x="349" y="367" width="4" height="4" fill="#fdd063"/>
<rect x="353" y="367" width="4" height="4" fill="#fdf0c8"/>
<rect x="357" y="367" width="4" height="4" fill="#fdd063"/>
<rect x="361" y="367" width="16" height="4" fill="#fdf0c8"/>
<rect x="377" y="367" width="12" height="4" fill="#d6e6f4"/>
<rect x="389" y="367" width="4" height="4" fill="#0b2a6b"/>
<rect x="393" y="367" width="8" height="4" fill="#1a56a3"/>
<rect x="401" y="367" width="3" height="4" fill="#d6e6f4"/>
<rect x="404" y="367" width="4" height="4" fill="#9ecae7"/>
<rect x="408" y="367" width="4" height="4" fill="#1a56a3"/>
<rect x="412" y="367" width="4" height="4" fill="#fdf0c8"/>
<rect x="416" y="367" width="16" height="4" fill="#d6e6f4"/>
<rect x="432" y="367" width="8" height="4" fill="#fdf0c8"/>
<rect x="440" y="367" width="4" height="4" fill="#d6e6f4"/>
<rect x="444" y="367" width="8" height="4" fill="#fdf0c8"/>
<rect x="452" y="367" width="4" height="4" fill="#1a56a3"/>
<rect x="456" y="367" width="8" height="4" fill="#fdf0c8"/>
<rect x="464" y="367" width="8" height="4" fill="#d6e6f4"/>
<rect x="472" y="367" width="4" height="4" fill="#9ecae7"/>
<rect x="476" y="367" width="4" height="4" fill="#fdf0c8"/>
<rect x="480" y="367" width="8" height="4" fill="#d6e6f4"/>
<rect x="488" y="367" width="4" height="4" fill="#fdd063"/>
<rect x="492" y="367" width="12" height="4" fill="#d6e6f4"/>
<rect x="504" y="367" width="4" height="4" fill="#fdf0c8"/>
<rect x="508" y="367" width="8" height="4" fill="#d6e6f4"/>
<rect x="516" y="367" width="4" height="4" fill="#1a56a3"/>
<rect x="520" y="367" width="4" height="4" fill="#d6e6f4"/>
<rect x="524" y="367" width="4" height="4" fill="#1a56a3"/>
<rect x="528" y="367" width="4" height="4" fill="#d6e6f4"/>
<rect x="532" y="367" width="4" height="4" fill="#1a56a3"/>
<rect x="536" y="367" width="4" height="4" fill="#d6e6f4"/>
<rect x="540" y="367" width="4" height="4" fill="#0b2a6b"/>
<rect x="345" y="371" width="4" height="4" fill="#e8601c"/>
<rect x="349" y="371" width="4" height="4" fill="#fdd063"/>
<rect x="353" y="371" width="12" height="4" fill="#fdf0c8"/>
<rect x="365" y="371" width="4" height="4" fill="#9ecae7"/>
<rect x="369" y="371" width="8" height="4" fill="#fdf0c8"/>
<rect x="377" y="371" width="12" height="4" fill="#0b2a6b"/>
<rect x="389" y="371" width="4" height="4" fill="#9ecae7"/>
<rect x="393" y="371" width="8" height="4" fill="#0b2a6b"/>
<rect x="401" y="371" width="3" height="4" fill="#d6e6f4"/>
<rect x="404" y="371" width="4" height="4" fill="#9ecae7"/>
<rect x="408" y="371" width="4" height="4" fill="#0b2a6b"/>
<rect x="412" y="371" width="4" height="4" fill="#fdf0c8"/>
<rect x="416" y="371" width="4" height="4" fill="#1a56a3"/>
<rect x="420" y="371" width="4" height="4" fill="#d6e6f4"/>
<rect x="424" y="371" width="4" height="4" fill="#9ecae7"/>
<rect x="428" y="371" width="4" height="4" fill="#0b2a6b"/>
<rect x="432" y="371" width="4" height="4" fill="#d6e6f4"/>
<rect x="436" y="371" width="4" height="4" fill="#9ecae7"/>
<rect x="440" y="371" width="4" height="4" fill="#d6e6f4"/>
<rect x="444" y="371" width="4" height="4" fill="#9ecae7"/>
<rect x="448" y="371" width="4" height="4" fill="#1a56a3"/>
<rect x="452" y="371" width="4" height="4" fill="#0b2a6b"/>
<rect x="456" y="371" width="4" height="4" fill="#d6e6f4"/>
<rect x="460" y="371" width="4" height="4" fill="#9ecae7"/>
<rect x="464" y="371" width="8" height="4" fill="#1a56a3"/>
<rect x="472" y="371" width="4" height="4" fill="#d6e6f4"/>
<rect x="476" y="371" width="8" height="4" fill="#9ecae7"/>
<rect x="484" y="371" width="4" height="4" fill="#1a56a3"/>
<rect x="488" y="371" width="4" height="4" fill="#fdf0c8"/>
<rect x="492" y="371" width="4" height="4" fill="#0b2a6b"/>
<rect x="496" y="371" width="4" height="4" fill="#9ecae7"/>
<rect x="500" y="371" width="4" height="4" fill="#0b2a6b"/>
<rect x="504" y="371" width="4" height="4" fill="#d6e6f4"/>
<rect x="508" y="371" width="8" height="4" fill="#1a56a3"/>
<rect x="516" y="371" width="4" height="4" fill="#0b2a6b"/>
<rect x="520" y="371" width="4" height="4" fill="#1a56a3"/>
<rect x="524" y="371" width="4" height="4" fill="#0b2a6b"/>
<rect x="528" y="371" width="4" height="4" fill="#1a56a3"/>
<rect x="532" y="371" width="4" height="4" fill="#0b2a6b"/>
<rect x="536" y="371" width="4" height="4" fill="#1a56a3"/>
<rect x="540" y="371" width="4" height="4" fill="#0b2a6b"/>
<rect x="345" y="375" width="8" height="4" fill="#e50b0b"/>
<rect x="353" y="375" width="20" height="4" fill="#e8601c"/>
<rect x="373" y="375" width="8" height="4" fill="#fdd063"/>
<rect x="381" y="375" width="8" height="4" fill="#fdf0c8"/>
<rect x="389" y="375" width="8" height="4" fill="#d6e6f4"/>
<rect x="397" y="375" width="4" height="4" fill="#0b2a6b"/>
<rect x="401" y="375" width="3" height="4" fill="#9ecae7"/>
<rect x="404" y="375" width="4" height="4" fill="#d6e6f4"/>
<rect x="408" y="375" width="4" height="4" fill="#9ecae7"/>
<rect x="412" y="375" width="4" height="4" fill="#fdf0c8"/>
<rect x="416" y="375" width="4" height="4" fill="#9ecae7"/>
<rect x="420" y="375" width="12" height="4" fill="#d6e6f4"/>
<rect x="432" y="375" width="8" height="4" fill="#fdf0c8"/>
<rect x="440" y="375" width="4" height="4" fill="#d6e6f4"/>
<rect x="444" y="375" width="8" height="4" fill="#fdf0c8"/>
<rect x="452" y="375" width="4" height="4" fill="#1a56a3"/>
<rect x="456" y="375" width="4" height="4" fill="#fdf0c8"/>
<rect x="460" y="375" width="4" height="4" fill="#d6e6f4"/>
<rect x="464" y="375" width="4" height="4" fill="#1a56a3"/>
<rect x="468" y="375" width="12" height="4" fill="#9ecae7"/>
<rect x="480" y="375" width="8" height="4" fill="#d6e6f4"/>
<rect x="488" y="375" width="4" height="4" fill="#fdf0c8"/>
<rect x="492" y="375" width="4" height="4" fill="#d6e6f4"/>
<rect x="496" y="375" width="8" height="4" fill="#9ecae7"/>
<rect x="504" y="375" width="4" height="4" fill="#d6e6f4"/>
<rect x="508" y="375" width="4" height="4" fill="#0b2a6b"/>
<rect x="512" y="375" width="4" height="4" fill="#1a56a3"/>
<rect x="516" y="375" width="4" height="4" fill="#0b2a6b"/>
<rect x="520" y="375" width="4" height="4" fill="#d6e6f4"/>
<rect x="524" y="375" width="4" height="4" fill="#9ecae7"/>
<rect x="528" y="375" width="4" height="4" fill="#1a56a3"/>
<rect x="532" y="375" width="12" height="4" fill="#0b2a6b"/>
<rect x="345" y="379" width="4" height="4" fill="#e50b0b"/>
<rect x="349" y="379" width="12" height="4" fill="#e8601c"/>
<rect x="361" y="379" width="4" height="4" fill="#fdf0c8"/>
<rect x="365" y="379" width="4" height="4" fill="#fdd063"/>
<rect x="369" y="379" width="8" height="4" fill="#fdf0c8"/>
<rect x="377" y="379" width="4" height="4" fill="#d6e6f4"/>
<rect x="381" y="379" width="4" height="4" fill="#fdf0c8"/>
<rect x="385" y="379" width="12" height="4" fill="#d6e6f4"/>
<rect x="397" y="379" width="7" height="4" fill="#0b2a6b"/>
<rect x="404" y="379" width="4" height="4" fill="#fdf0c8"/>
<rect x="408" y="379" width="4" height="4" fill="#9ecae7"/>
<rect x="412" y="379" width="4" height="4" fill="#fdd063"/>
<rect x="416" y="379" width="12" height="4" fill="#d6e6f4"/>
<rect x="428" y="379" width="4" height="4" fill="#0b2a6b"/>
<rect x="432" y="379" width="8" height="4" fill="#fdf0c8"/>
<rect x="440" y="379" width="4" height="4" fill="#d6e6f4"/>
<rect x="444" y="379" width="4" height="4" fill="#9ecae7"/>
<rect x="448" y="379" width="4" height="4" fill="#fdf0c8"/>
<rect x="452" y="379" width="4" height="4" fill="#0b2a6b"/>
<rect x="456" y="379" width="4" height="4" fill="#fdf0c8"/>
<rect x="460" y="379" width="4" height="4" fill="#9ecae7"/>
<rect x="464" y="379" width="8" height="4" fill="#d6e6f4"/>
<rect x="472" y="379" width="4" height="4" fill="#9ecae7"/>
<rect x="476" y="379" width="12" height="4" fill="#d6e6f4"/>
<rect x="488" y="379" width="4" height="4" fill="#fdf0c8"/>
<rect x="492" y="379" width="8" height="4" fill="#d6e6f4"/>
<rect x="500" y="379" width="4" height="4" fill="#9ecae7"/>
<rect x="504" y="379" width="4" height="4" fill="#d6e6f4"/>
<rect x="508" y="379" width="12" height="4" fill="#1a56a3"/>
<rect x="520" y="379" width="4" height="4" fill="#d6e6f4"/>
<rect x="524" y="379" width="4" height="4" fill="#0b2a6b"/>
<rect x="528" y="379" width="4" height="4" fill="#d6e6f4"/>
<rect x="532" y="379" width="8" height="4" fill="#1a56a3"/>
<rect x="540" y="379" width="4" height="4" fill="#0b2a6b"/>
<rect x="345" y="383" width="4" height="4" fill="#e50b0b"/>
<rect x="349" y="383" width="4" height="4" fill="#fdd063"/>
<rect x="353" y="383" width="4" height="4" fill="#fdf0c8"/>
<rect x="357" y="383" width="4" height="4" fill="#fdd063"/>
<rect x="361" y="383" width="8" height="4" fill="#d6e6f4"/>
<rect x="369" y="383" width="8" height="4" fill="#fdf0c8"/>
<rect x="377" y="383" width="4" height="4" fill="#d6e6f4"/>
<rect x="381" y="383" width="4" height="4" fill="#fdf0c8"/>
<rect x="385" y="383" width="12" height="4" fill="#d6e6f4"/>
<rect x="397" y="383" width="4" height="4" fill="#1a56a3"/>
<rect x="401" y="383" width="3" height="4" fill="#fdd063"/>
<rect x="404" y="383" width="4" height="4" fill="#0b2a6b"/>
<rect x="408" y="383" width="4" height="4" fill="#d6e6f4"/>
<rect x="412" y="383" width="4" height="4" fill="#fdf0c8"/>
<rect x="416" y="383" width="12" height="4" fill="#d6e6f4"/>
<rect x="428" y="383" width="4" height="4" fill="#1a56a3"/>
<rect x="432" y="383" width="4" height="4" fill="#fdf0c8"/>
<rect x="436" y="383" width="4" height="4" fill="#d6e6f4"/>
<rect x="440" y="383" width="4" height="4" fill="#fdf0c8"/>
<rect x="444" y="383" width="4" height="4" fill="#d6e6f4"/>
<rect x="448" y="383" width="4" height="4" fill="#fdf0c8"/>
<rect x="452" y="383" width="4" height="4" fill="#1a56a3"/>
<rect x="456" y="383" width="8" height="4" fill="#d6e6f4"/>
<rect x="464" y="383" width="8" height="4" fill="#1a56a3"/>
<rect x="472" y="383" width="16" height="4" fill="#d6e6f4"/>
<rect x="488" y="383" width="4" height="4" fill="#fdf0c8"/>
<rect x="492" y="383" width="8" height="4" fill="#d6e6f4"/>
<rect x="500" y="383" width="8" height="4" fill="#9ecae7"/>
<rect x="508" y="383" width="8" height="4" fill="#1a56a3"/>
<rect x="516" y="383" width="4" height="4" fill="#0b2a6b"/>
<rect x="520" y="383" width="4" height="4" fill="#1a56a3"/>
<rect x="524" y="383" width="4" height="4" fill="#0b2a6b"/>
<rect x="528" y="383" width="4" height="4" fill="#1a56a3"/>
<rect x="532" y="383" width="12" height="4" fill="#0b2a6b"/>
<rect x="345" y="387" width="4" height="4" fill="#e8601c"/>
<rect x="349" y="387" width="8" height="4" fill="#fdf0c8"/>
<rect x="357" y="387" width="4" height="4" fill="#fdd063"/>
<rect x="361" y="387" width="4" height="4" fill="#fdf0c8"/>
<rect x="365" y="387" width="8" height="4" fill="#d6e6f4"/>
<rect x="373" y="387" width="4" height="4" fill="#fdf0c8"/>
<rect x="377" y="387" width="4" height="4" fill="#9ecae7"/>
<rect x="381" y="387" width="4" height="4" fill="#fdf0c8"/>
<rect x="385" y="387" width="4" height="4" fill="#9ecae7"/>
<rect x="389" y="387" width="4" height="4" fill="#1a56a3"/>
<rect x="393" y="387" width="8" height="4" fill="#0b2a6b"/>
<rect x="401" y="387" width="3" height="4" fill="#1a56a3"/>
<rect x="404" y="387" width="4" height="4" fill="#d6e6f4"/>
<rect x="408" y="387" width="4" height="4" fill="#0b2a6b"/>
<rect x="412" y="387" width="4" height="4" fill="#d6e6f4"/>
<rect x="416" y="387" width="8" height="4" fill="#1a56a3"/>
<rect x="424" y="387" width="4" height="4" fill="#9ecae7"/>
<rect x="428" y="387" width="4" height="4" fill="#1a56a3"/>
<rect x="432" y="387" width="4" height="4" fill="#fdf0c8"/>
<rect x="436" y="387" width="16" height="4" fill="#d6e6f4"/>
<rect x="452" y="387" width="4" height="4" fill="#0b2a6b"/>
<rect x="456" y="387" width="8" height="4" fill="#9ecae7"/>
<rect x="464" y="387" width="4" height="4" fill="#d6e6f4"/>
<rect x="468" y="387" width="8" height="4" fill="#1a56a3"/>
<rect x="476" y="387" width="12" height="4" fill="#9ecae7"/>
<rect x="488" y="387" width="4" height="4" fill="#fdf0c8"/>
<rect x="492" y="387" width="4" height="4" fill="#1a56a3"/>
<rect x="496" y="387" width="4" height="4" fill="#9ecae7"/>
<rect x="500" y="387" width="4" height="4" fill="#1a56a3"/>
<rect x="504" y="387" width="4" height="4" fill="#d6e6f4"/>
<rect x="508" y="387" width="8" height="4" fill="#1a56a3"/>
<rect x="516" y="387" width="28" height="4" fill="#0b2a6b"/>
<rect x="345" y="391" width="12" height="4" fill="#e50b0b"/>
<rect x="357" y="391" width="8" height="4" fill="#e8601c"/>
<rect x="365" y="391" width="12" height="4" fill="#fdd063"/>
<rect x="377" y="391" width="20" height="4" fill="#fdf0c8"/>
<rect x="397" y="391" width="4" height="4" fill="#1a56a3"/>
<rect x="401" y="391" width="3" height="4" fill="#fdf0c8"/>
<rect x="404" y="391" width="8" height="4" fill="#d6e6f4"/>
<rect x="412" y="391" width="4" height="4" fill="#0b2a6b"/>
<rect x="416" y="391" width="4" height="4" fill="#9ecae7"/>
<rect x="420" y="391" width="4" height="4" fill="#d6e6f4"/>
<rect x="424" y="391" width="4" height="4" fill="#fdf0c8"/>
<rect x="428" y="391" width="4" height="4" fill="#d6e6f4"/>
<rect x="432" y="391" width="16" height="4" fill="#fdf0c8"/>
<rect x="448" y="391" width="4" height="4" fill="#9ecae7"/>
<rect x="452" y="391" width="4" height="4" fill="#1a56a3"/>
<rect x="456" y="391" width="8" height="4" fill="#fdf0c8"/>
<rect x="464" y="391" width="4" height="4" fill="#d6e6f4"/>
<rect x="468" y="391" width="4" height="4" fill="#9ecae7"/>
<rect x="472" y="391" width="12" height="4" fill="#d6e6f4"/>
<rect x="484" y="391" width="4" height="4" fill="#9ecae7"/>
<rect x="488" y="391" width="4" height="4" fill="#fdf0c8"/>
<rect x="492" y="391" width="4" height="4" fill="#d6e6f4"/>
<rect x="496" y="391" width="4" height="4" fill="#fdf0c8"/>
<rect x="500" y="391" width="12" height="4" fill="#1a56a3"/>
<rect x="512" y="391" width="4" height="4" fill="#d6e6f4"/>
<rect x="516" y="391" width="4" height="4" fill="#0b2a6b"/>
<rect x="520" y="391" width="4" height="4" fill="#d6e6f4"/>
<rect x="524" y="391" width="8" height="4" fill="#1a56a3"/>
<rect x="532" y="391" width="12" height="4" fill="#0b2a6b"/>
<rect x="345" y="395" width="4" height="4" fill="#e50b0b"/>
<rect x="349" y="395" width="8" height="4" fill="#e8601c"/>
<rect x="357" y="395" width="8" height="4" fill="#fdd063"/>
<rect x="365" y="395" width="4" height="4" fill="#fdf0c8"/>
<rect x="369" y="395" width="4" height="4" fill="#fdd063"/>
<rect x="373" y="395" width="4" height="4" fill="#d6e6f4"/>
<rect x="377" y="395" width="16" height="4" fill="#fdf0c8"/>
<rect x="393" y="395" width="4" height="4" fill="#9ecae7"/>
<rect x="397" y="395" width="4" height="4" fill="#0b2a6b"/>
<rect x="401" y="395" width="3" height="4" fill="#fdf0c8"/>
<rect x="404" y="395" width="4" height="4" fill="#d6e6f4"/>
<rect x="408" y="395" width="4" height="4" fill="#9ecae7"/>
<rect x="412" y="395" width="4" height="4" fill="#fdf0c8"/>
<rect x="416" y="395" width="4" height="4" fill="#0b2a6b"/>
<rect x="420" y="395" width="4" height="4" fill="#9ecae7"/>
<rect x="424" y="395" width="4" height="4" fill="#d6e6f4"/>
<rect x="428" y="395" width="4" height="4" fill="#1a56a3"/>
<rect x="432" y="395" width="12" height="4" fill="#d6e6f4"/>
<rect x="444" y="395" width="4" height="4" fill="#1a56a3"/>
<rect x="448" y="395" width="4" height="4" fill="#d6e6f4"/>
<rect x="452" y="395" width="4" height="4" fill="#1a56a3"/>
<rect x="456" y="395" width="8" height="4" fill="#d6e6f4"/>
<rect x="464" y="395" width="8" height="4" fill="#1a56a3"/>
<rect x="472" y="395" width="4" height="4" fill="#d6e6f4"/>
<rect x="476" y="395" width="8" height="4" fill="#9ecae7"/>
<rect x="484" y="395" width="4" height="4" fill="#1a56a3"/>
<rect x="488" y="395" width="4" height="4" fill="#fdf0c8"/>
<rect x="492" y="395" width="4" height="4" fill="#9ecae7"/>
<rect x="496" y="395" width="4" height="4" fill="#fdf0c8"/>
<rect x="500" y="395" width="4" height="4" fill="#0b2a6b"/>
<rect x="504" y="395" width="12" height="4" fill="#1a56a3"/>
<rect x="516" y="395" width="8" height="4" fill="#0b2a6b"/>
<rect x="524" y="395" width="4" height="4" fill="#1a56a3"/>
<rect x="528" y="395" width="16" height="4" fill="#0b2a6b"/>
<rect x="345" y="399" width="4" height="4" fill="#e50b0b"/>
<rect x="349" y="399" width="8" height="4" fill="#e8601c"/>
<rect x="357" y="399" width="8" height="4" fill="#fdd063"/>
<rect x="365" y="399" width="4" height="4" fill="#fdf0c8"/>
<rect x="369" y="399" width="4" height="4" fill="#fdd063"/>
<rect x="373" y="399" width="24" height="4" fill="#fdf0c8"/>
<rect x="397" y="399" width="4" height="4" fill="#9ecae7"/>
<rect x="401" y="399" width="3" height="4" fill="#fdf0c8"/>
<rect x="404" y="399" width="4" height="4" fill="#d6e6f4"/>
<rect x="408" y="399" width="4" height="4" fill="#9ecae7"/>
<rect x="412" y="399" width="4" height="4" fill="#fdf0c8"/>
<rect x="416" y="399" width="4" height="4" fill="#d6e6f4"/>
<rect x="420" y="399" width="4" height="4" fill="#0b2a6b"/>
<rect x="424" y="399" width="16" height="4" fill="#d6e6f4"/>
<rect x="440" y="399" width="4" height="4" fill="#fdf0c8"/>
<rect x="444" y="399" width="8" height="4" fill="#d6e6f4"/>
<rect x="452" y="399" width="4" height="4" fill="#1a56a3"/>
<rect x="456" y="399" width="4" height="4" fill="#d6e6f4"/>
<rect x="460" y="399" width="4" height="4" fill="#fdf0c8"/>
<rect x="464" y="399" width="4" height="4" fill="#d6e6f4"/>
<rect x="468" y="399" width="4" height="4" fill="#1a56a3"/>
<rect x="472" y="399" width="16" height="4" fill="#d6e6f4"/>
<rect x="488" y="399" width="4" height="4" fill="#fdf0c8"/>
<rect x="492" y="399" width="4" height="4" fill="#d6e6f4"/>
<rect x="496" y="399" width="4" height="4" fill="#fdf0c8"/>
<rect x="500" y="399" width="4" height="4" fill="#1a56a3"/>
<rect x="504" y="399" width="4" height="4" fill="#9ecae7"/>
<rect x="508" y="399" width="4" height="4" fill="#1a56a3"/>
<rect x="512" y="399" width="8" height="4" fill="#0b2a6b"/>
<rect x="520" y="399" width="12" height="4" fill="#1a56a3"/>
<rect x="532" y="399" width="4" height="4" fill="#0b2a6b"/>
<rect x="536" y="399" width="4" height="4" fill="#1a56a3"/>
<rect x="540" y="399" width="4" height="4" fill="#0b2a6b"/>
<rect x="345" y="403" width="12" height="3" fill="#e50b0b"/>
<rect x="357" y="403" width="16" height="3" fill="#e8601c"/>
<rect x="373" y="403" width="4" height="3" fill="#fdd063"/>
<rect x="377" y="403" width="4" height="3" fill="#fdf0c8"/>
<rect x="381" y="403" width="4" height="3" fill="#fdd063"/>
<rect x="385" y="403" width="4" height="3" fill="#fdf0c8"/>
<rect x="389" y="403" width="4" height="3" fill="#fdd063"/>
<rect x="393" y="403" width="4" height="3" fill="#fdf0c8"/>
<rect x="397" y="403" width="4" height="3" fill="#0b2a6b"/>
<rect x="401" y="403" width="3" height="3" fill="#fdd063"/>
<rect x="404" y="403" width="4" height="3" fill="#fdf0c8"/>
<rect x="408" y="403" width="4" height="3" fill="#9ecae7"/>
<rect x="412" y="403" width="4" height="3" fill="#fdf0c8"/>
<rect x="416" y="403" width="8" height="3" fill="#d6e6f4"/>
<rect x="424" y="403" width="4" height="3" fill="#0b2a6b"/>
<rect x="428" y="403" width="12" height="3" fill="#fdf0c8"/>
<rect x="440" y="403" width="4" height="3" fill="#fdd063"/>
<rect x="444" y="403" width="8" height="3" fill="#fdf0c8"/>
<rect x="452" y="403" width="4" height="3" fill="#1a56a3"/>
<rect x="456" y="403" width="8" height="3" fill="#fdf0c8"/>
<rect x="464" y="403" width="4" height="3" fill="#1a56a3"/>
<rect x="468" y="403" width="4" height="3" fill="#9ecae7"/>
<rect x="472" y="403" width="8" height="3" fill="#d6e6f4"/>
<rect x="480" y="403" width="4" height="3" fill="#fdf0c8"/>
<rect x="484" y="403" width="4" height="3" fill="#d6e6f4"/>
<rect x="488" y="403" width="12" height="3" fill="#fdf0c8"/>
<rect x="500" y="403" width="4" height="3" fill="#1a56a3"/>
<rect x="504" y="403" width="4" height="3" fill="#d6e6f4"/>
<rect x="508" y="403" width="12" height="3" fill="#9ecae7"/>
<rect x="520" y="403" width="8" height="3" fill="#1a56a3"/>
<rect x="528" y="403" width="4" height="3" fill="#d6e6f4"/>
<rect x="532" y="403" width="4" height="3" fill="#1a56a3"/>
<rect x="536" y="403" width="8" height="3" fill="#0b2a6b"/>
<rect x="345" y="406" width="4" height="4" fill="#e50b0b"/>
<rect x="349" y="406" width="4" height="4" fill="#e8601c"/>
<rect x="353" y="406" width="4" height="4" fill="#fdd063"/>
<rect x="357" y="406" width="4" height="4" fill="#fdf0c8"/>
<rect x="361" y="406" width="4" height="4" fill="#fdd063"/>
<rect x="365" y="406" width="16" height="4" fill="#fdf0c8"/>
<rect x="381" y="406" width="8" height="4" fill="#d6e6f4"/>
<rect x="389" y="406" width="8" height="4" fill="#fdf0c8"/>
<rect x="397" y="406" width="4" height="4" fill="#9ecae7"/>
<rect x="401" y="406" width="7" height="4" fill="#fdf0c8"/>
<rect x="408" y="406" width="4" height="4" fill="#d6e6f4"/>
<rect x="412" y="406" width="4" height="4" fill="#fdf0c8"/>
<rect x="416" y="406" width="8" height="4" fill="#d6e6f4"/>
<rect x="424" y="406" width="4" height="4" fill="#fdf0c8"/>
<rect x="428" y="406" width="4" height="4" fill="#0b2a6b"/>
<rect x="432" y="406" width="12" height="4" fill="#fdf0c8"/>
<rect x="444" y="406" width="8" height="4" fill="#d6e6f4"/>
<rect x="452" y="406" width="4" height="4" fill="#1a56a3"/>
<rect x="456" y="406" width="12" height="4" fill="#d6e6f4"/>
<rect x="468" y="406" width="4" height="4" fill="#1a56a3"/>
<rect x="472" y="406" width="12" height="4" fill="#d6e6f4"/>
<rect x="484" y="406" width="4" height="4" fill="#9ecae7"/>
<rect x="488" y="406" width="4" height="4" fill="#fdf0c8"/>
<rect x="492" y="406" width="4" height="4" fill="#d6e6f4"/>
<rect x="496" y="406" width="4" height="4" fill="#fdf0c8"/>
<rect x="500" y="406" width="4" height="4" fill="#1a56a3"/>
<rect x="504" y="406" width="8" height="4" fill="#9ecae7"/>
<rect x="512" y="406" width="4" height="4" fill="#1a56a3"/>
<rect x="516" y="406" width="4" height="4" fill="#0b2a6b"/>
<rect x="520" y="406" width="4" height="4" fill="#d6e6f4"/>
<rect x="524" y="406" width="8" height="4" fill="#1a56a3"/>
<rect x="532" y="406" width="12" height="4" fill="#0b2a6b"/>
<rect x="345" y="410" width="20" height="4" fill="#e50b0b"/>
<rect x="365" y="410" width="12" height="4" fill="#e8601c"/>
<rect x="377" y="410" width="12" height="4" fill="#fdd063"/>
<rect x="389" y="410" width="4" height="4" fill="#e8601c"/>
<rect x="393" y="410" width="4" height="4" fill="#fdf0c8"/>
<rect x="397" y="410" width="4" height="4" fill="#d6e6f4"/>
<rect x="401" y="410" width="15" height="4" fill="#fdf0c8"/>
<rect x="416" y="410" width="8" height="4" fill="#d6e6f4"/>
<rect x="424" y="410" width="8" height="4" fill="#fdf0c8"/>
<rect x="432" y="410" width="4" height="4" fill="#0b2a6b"/>
<rect x="436" y="410" width="16" height="4" fill="#fdf0c8"/>
<rect x="452" y="410" width="4" height="4" fill="#9ecae7"/>
<rect x="456" y="410" width="4" height="4" fill="#d6e6f4"/>
<rect x="460" y="410" width="4" height="4" fill="#fdf0c8"/>
<rect x="464" y="410" width="4" height="4" fill="#9ecae7"/>
<rect x="468" y="410" width="20" height="4" fill="#d6e6f4"/>
<rect x="488" y="410" width="12" height="4" fill="#fdf0c8"/>
<rect x="500" y="410" width="4" height="4" fill="#9ecae7"/>
<rect x="504" y="410" width="4" height="4" fill="#0b2a6b"/>
<rect x="508" y="410" width="8" height="4" fill="#1a56a3"/>
<rect x="516" y="410" width="4" height="4" fill="#0b2a6b"/>
<rect x="520" y="410" width="4" height="4" fill="#9ecae7"/>
<rect x="524" y="410" width="4" height="4" fill="#0b2a6b"/>
<rect x="528" y="410" width="12" height="4" fill="#1a56a3"/>
<rect x="540" y="410" width="4" height="4" fill="#0b2a6b"/>
<rect x="345" y="414" width="16" height="4" fill="#e50b0b"/>
<rect x="361" y="414" width="20" height="4" fill="#e8601c"/>
<rect x="381" y="414" width="12" height="4" fill="#fdd063"/>
<rect x="393" y="414" width="4" height="4" fill="#fdf0c8"/>
<rect x="397" y="414" width="4" height="4" fill="#9ecae7"/>
<rect x="401" y="414" width="7" height="4" fill="#fdd063"/>
<rect x="408" y="414" width="4" height="4" fill="#fdf0c8"/>
<rect x="412" y="414" width="4" height="4" fill="#fdd063"/>
<rect x="416" y="414" width="8" height="4" fill="#fdf0c8"/>
<rect x="424" y="414" width="4" height="4" fill="#fdd063"/>
<rect x="428" y="414" width="8" height="4" fill="#fdf0c8"/>
<rect x="436" y="414" width="4" height="4" fill="#0b2a6b"/>
<rect x="440" y="414" width="4" height="4" fill="#fdd063"/>
<rect x="444" y="414" width="4" height="4" fill="#fdf0c8"/>
<rect x="448" y="414" width="4" height="4" fill="#fdd063"/>
<rect x="452" y="414" width="4" height="4" fill="#fdf0c8"/>
<rect x="456" y="414" width="4" height="4" fill="#fdd063"/>
<rect x="460" y="414" width="4" height="4" fill="#fdf0c8"/>
<rect x="464" y="414" width="8" height="4" fill="#d6e6f4"/>
<rect x="472" y="414" width="4" height="4" fill="#fdf0c8"/>
<rect x="476" y="414" width="12" height="4" fill="#d6e6f4"/>
<rect x="488" y="414" width="12" height="4" fill="#fdf0c8"/>
<rect x="500" y="414" width="4" height="4" fill="#d6e6f4"/>
<rect x="504" y="414" width="12" height="4" fill="#9ecae7"/>
<rect x="516" y="414" width="4" height="4" fill="#1a56a3"/>
<rect x="520" y="414" width="4" height="4" fill="#9ecae7"/>
<rect x="524" y="414" width="4" height="4" fill="#d6e6f4"/>
<rect x="528" y="414" width="4" height="4" fill="#9ecae7"/>
<rect x="532" y="414" width="4" height="4" fill="#1a56a3"/>
<rect x="536" y="414" width="4" height="4" fill="#d6e6f4"/>
<rect x="540" y="414" width="4" height="4" fill="#0b2a6b"/>
<rect x="345" y="418" width="16" height="4" fill="#e50b0b"/>
<rect x="361" y="418" width="8" height="4" fill="#e8601c"/>
<rect x="369" y="418" width="4" height="4" fill="#fdf0c8"/>
<rect x="373" y="418" width="4" height="4" fill="#e8601c"/>
<rect x="377" y="418" width="8" height="4" fill="#fdd063"/>
<rect x="385" y="418" width="8" height="4" fill="#fdf0c8"/>
<rect x="393" y="418" width="4" height="4" fill="#fdd063"/>
<rect x="397" y="418" width="4" height="4" fill="#d6e6f4"/>
<rect x="401" y="418" width="3" height="4" fill="#fdf0c8"/>
<rect x="404" y="418" width="4" height="4" fill="#fdd063"/>
<rect x="408" y="418" width="4" height="4" fill="#fdf0c8"/>
<rect x="412" y="418" width="4" height="4" fill="#fdd063"/>
<rect x="416" y="418" width="8" height="4" fill="#fdf0c8"/>
<rect x="424" y="418" width="4" height="4" fill="#fdd063"/>
<rect x="428" y="418" width="4" height="4" fill="#fdf0c8"/>
<rect x="432" y="418" width="4" height="4" fill="#d6e6f4"/>
<rect x="436" y="418" width="4" height="4" fill="#fdf0c8"/>
<rect x="440" y="418" width="4" height="4" fill="#0b2a6b"/>
<rect x="444" y="418" width="4" height="4" fill="#fdf0c8"/>
<rect x="448" y="418" width="4" height="4" fill="#fdd063"/>
<rect x="452" y="418" width="20" height="4" fill="#fdf0c8"/>
<rect x="472" y="418" width="4" height="4" fill="#d6e6f4"/>
<rect x="476" y="418" width="4" height="4" fill="#fdf0c8"/>
<rect x="480" y="418" width="4" height="4" fill="#d6e6f4"/>
<rect x="484" y="418" width="4" height="4" fill="#fdf0c8"/>
<rect x="488" y="418" width="4" height="4" fill="#d6e6f4"/>
<rect x="492" y="418" width="8" height="4" fill="#fdf0c8"/>
<rect x="500" y="418" width="4" height="4" fill="#d6e6f4"/>
<rect x="504" y="418" width="4" height="4" fill="#9ecae7"/>
<rect x="508" y="418" width="4" height="4" fill="#d6e6f4"/>
<rect x="512" y="418" width="4" height="4" fill="#9ecae7"/>
<rect x="516" y="418" width="4" height="4" fill="#1a56a3"/>
<rect x="520" y="418" width="4" height="4" fill="#d6e6f4"/>
<rect x="524" y="418" width="8" height="4" fill="#9ecae7"/>
<rect x="532" y="418" width="4" height="4" fill="#1a56a3"/>
<rect x="536" y="418" width="8" height="4" fill="#0b2a6b"/>
<rect x="345" y="422" width="16" height="4" fill="#e50b0b"/>
<rect x="361" y="422" width="12" height="4" fill="#e8601c"/>
<rect x="373" y="422" width="12" height="4" fill="#fdd063"/>
<rect x="385" y="422" width="4" height="4" fill="#fdf0c8"/>
<rect x="389" y="422" width="4" height="4" fill="#fdd063"/>
<rect x="393" y="422" width="4" height="4" fill="#fdf0c8"/>
<rect x="397" y="422" width="7" height="4" fill="#d6e6f4"/>
<rect x="404" y="422" width="8" height="4" fill="#fdf0c8"/>
<rect x="412" y="422" width="4" height="4" fill="#fdd063"/>
<rect x="416" y="422" width="12" height="4" fill="#fdf0c8"/>
<rect x="428" y="422" width="4" height="4" fill="#d6e6f4"/>
<rect x="432" y="422" width="4" height="4" fill="#fdd063"/>
<rect x="436" y="422" width="8" height="4" fill="#fdf0c8"/>
<rect x="444" y="422" width="4" height="4" fill="#0b2a6b"/>
<rect x="448" y="422" width="4" height="4" fill="#fdd063"/>
<rect x="452" y="422" width="4" height="4" fill="#d6e6f4"/>
<rect x="456" y="422" width="8" height="4" fill="#fdf0c8"/>
<rect x="464" y="422" width="8" height="4" fill="#d6e6f4"/>
<rect x="472" y="422" width="4" height="4" fill="#fdf0c8"/>
<rect x="476" y="422" width="8" height="4" fill="#d6e6f4"/>
<rect x="484" y="422" width="4" height="4" fill="#fdf0c8"/>
<rect x="488" y="422" width="4" height="4" fill="#fdd063"/>
<rect x="492" y="422" width="8" height="4" fill="#fdf0c8"/>
<rect x="500" y="422" width="4" height="4" fill="#d6e6f4"/>
<rect x="504" y="422" width="4" height="4" fill="#1a56a3"/>
<rect x="508" y="422" width="4" height="4" fill="#d6e6f4"/>
<rect x="512" y="422" width="4" height="4" fill="#0b2a6b"/>
<rect x="516" y="422" width="4" height="4" fill="#9ecae7"/>
<rect x="520" y="422" width="4" height="4" fill="#d6e6f4"/>
<rect x="524" y="422" width="8" height="4" fill="#9ecae7"/>
<rect x="532" y="422" width="4" height="4" fill="#1a56a3"/>
<rect x="536" y="422" width="4" height="4" fill="#d6e6f4"/>
<rect x="540" y="422" width="4" height="4" fill="#0b2a6b"/>
<rect x="345" y="426" width="4" height="4" fill="#e50b0b"/>
<rect x="349" y="426" width="12" height="4" fill="#e8601c"/>
<rect x="361" y="426" width="8" height="4" fill="#fdd063"/>
<rect x="369" y="426" width="4" height="4" fill="#fdf0c8"/>
<rect x="373" y="426" width="4" height="4" fill="#fdd063"/>
<rect x="377" y="426" width="4" height="4" fill="#d6e6f4"/>
<rect x="381" y="426" width="4" height="4" fill="#fdd063"/>
<rect x="385" y="426" width="4" height="4" fill="#fdf0c8"/>
<rect x="389" y="426" width="4" height="4" fill="#fdd063"/>
<rect x="393" y="426" width="4" height="4" fill="#d6e6f4"/>
<rect x="397" y="426" width="4" height="4" fill="#9ecae7"/>
<rect x="401" y="426" width="7" height="4" fill="#fdf0c8"/>
<rect x="408" y="426" width="4" height="4" fill="#d6e6f4"/>
<rect x="412" y="426" width="4" height="4" fill="#fdf0c8"/>
<rect x="416" y="426" width="16" height="4" fill="#d6e6f4"/>
<rect x="432" y="426" width="8" height="4" fill="#fdf0c8"/>
<rect x="440" y="426" width="4" height="4" fill="#fdd063"/>
<rect x="444" y="426" width="4" height="4" fill="#fdf0c8"/>
<rect x="448" y="426" width="4" height="4" fill="#0b2a6b"/>
<rect x="452" y="426" width="4" height="4" fill="#9ecae7"/>
<rect x="456" y="426" width="4" height="4" fill="#fdf0c8"/>
<rect x="460" y="426" width="8" height="4" fill="#d6e6f4"/>
<rect x="468" y="426" width="4" height="4" fill="#1a56a3"/>
<rect x="472" y="426" width="4" height="4" fill="#d6e6f4"/>
<rect x="476" y="426" width="4" height="4" fill="#9ecae7"/>
<rect x="480" y="426" width="4" height="4" fill="#d6e6f4"/>
<rect x="484" y="426" width="4" height="4" fill="#1a56a3"/>
<rect x="488" y="426" width="4" height="4" fill="#fdf0c8"/>
<rect x="492" y="426" width="8" height="4" fill="#d6e6f4"/>
<rect x="500" y="426" width="4" height="4" fill="#1a56a3"/>
<rect x="504" y="426" width="4" height="4" fill="#0b2a6b"/>
<rect x="508" y="426" width="8" height="4" fill="#1a56a3"/>
<rect x="516" y="426" width="8" height="4" fill="#0b2a6b"/>
<rect x="524" y="426" width="8" height="4" fill="#1a56a3"/>
<rect x="532" y="426" width="12" height="4" fill="#0b2a6b"/>
<rect x="345" y="430" width="8" height="4" fill="#e50b0b"/>
<rect x="353" y="430" width="12" height="4" fill="#e8601c"/>
<rect x="365" y="430" width="12" height="4" fill="#fdd063"/>
<rect x="377" y="430" width="8" height="4" fill="#fdf0c8"/>
<rect x="385" y="430" width="4" height="4" fill="#d6e6f4"/>
<rect x="389" y="430" width="4" height="4" fill="#fdf0c8"/>
<rect x="393" y="430" width="8" height="4" fill="#d6e6f4"/>
<rect x="401" y="430" width="7" height="4" fill="#fdf0c8"/>
<rect x="408" y="430" width="4" height="4" fill="#d6e6f4"/>
<rect x="412" y="430" width="4" height="4" fill="#fdf0c8"/>
<rect x="416" y="430" width="4" height="4" fill="#d6e6f4"/>
<rect x="420" y="430" width="4" height="4" fill="#fdf0c8"/>
<rect x="424" y="430" width="12" height="4" fill="#d6e6f4"/>
<rect x="436" y="430" width="4" height="4" fill="#fdf0c8"/>
<rect x="440" y="430" width="4" height="4" fill="#fdd063"/>
<rect x="444" y="430" width="8" height="4" fill="#fdf0c8"/>
<rect x="452" y="430" width="4" height="4" fill="#0b2a6b"/>
<rect x="456" y="430" width="8" height="4" fill="#fdf0c8"/>
<rect x="464" y="430" width="4" height="4" fill="#9ecae7"/>
<rect x="468" y="430" width="16" height="4" fill="#d6e6f4"/>
<rect x="484" y="430" width="4" height="4" fill="#9ecae7"/>
<rect x="488" y="430" width="4" height="4" fill="#fdf0c8"/>
<rect x="492" y="430" width="12" height="4" fill="#d6e6f4"/>
<rect x="504" y="430" width="8" height="4" fill="#9ecae7"/>
<rect x="512" y="430" width="4" height="4" fill="#d6e6f4"/>
<rect x="516" y="430" width="16" height="4" fill="#1a56a3"/>
<rect x="532" y="430" width="4" height="4" fill="#0b2a6b"/>
<rect x="536" y="430" width="4" height="4" fill="#1a56a3"/>
<rect x="540" y="430" width="4" height="4" fill="#0b2a6b"/>
<rect x="345" y="434" width="8" height="4" fill="#e50b0b"/>
<rect x="353" y="434" width="12" height="4" fill="#e8601c"/>
<rect x="365" y="434" width="8" height="4" fill="#fdd063"/>
<rect x="373" y="434" width="4" height="4" fill="#e8601c"/>
<rect x="377" y="434" width="12" height="4" fill="#fdf0c8"/>
<rect x="389" y="434" width="4" height="4" fill="#fdd063"/>
<rect x="393" y="434" width="8" height="4" fill="#d6e6f4"/>
<rect x="401" y="434" width="7" height="4" fill="#fdf0c8"/>
<rect x="408" y="434" width="4" height="4" fill="#d6e6f4"/>
<rect x="412" y="434" width="4" height="4" fill="#fdf0c8"/>
<rect x="416" y="434" width="4" height="4" fill="#d6e6f4"/>
<rect x="420" y="434" width="12" height="4" fill="#fdf0c8"/>
<rect x="432" y="434" width="4" height="4" fill="#fdd063"/>
<rect x="436" y="434" width="4" height="4" fill="#fdf0c8"/>
<rect x="440" y="434" width="4" height="4" fill="#fdd063"/>
<rect x="444" y="434" width="4" height="4" fill="#fdf0c8"/>
<rect x="448" y="434" width="8" height="4" fill="#d6e6f4"/>
<rect x="456" y="434" width="4" height="4" fill="#0b2a6b"/>
<rect x="460" y="434" width="8" height="4" fill="#fdf0c8"/>
<rect x="468" y="434" width="20" height="4" fill="#d6e6f4"/>
<rect x="488" y="434" width="4" height="4" fill="#fdf0c8"/>
<rect x="492" y="434" width="8" height="4" fill="#d6e6f4"/>
<rect x="500" y="434" width="4" height="4" fill="#1a56a3"/>
<rect x="504" y="434" width="8" height="4" fill="#9ecae7"/>
<rect x="512" y="434" width="8" height="4" fill="#1a56a3"/>
<rect x="520" y="434" width="8" height="4" fill="#d6e6f4"/>
<rect x="528" y="434" width="4" height="4" fill="#1a56a3"/>
<rect x="532" y="434" width="4" height="4" fill="#0b2a6b"/>
<rect x="536" y="434" width="4" height="4" fill="#1a56a3"/>
<rect x="540" y="434" width="4" height="4" fill="#0b2a6b"/>
<rect x="345" y="438" width="4" height="4" fill="#e50b0b"/>
<rect x="349" y="438" width="16" height="4" fill="#e8601c"/>
<rect x="365" y="438" width="12" height="4" fill="#fdd063"/>
<rect x="377" y="438" width="8" height="4" fill="#fdf0c8"/>
<rect x="385" y="438" width="8" height="4" fill="#fdd063"/>
<rect x="393" y="438" width="4" height="4" fill="#fdf0c8"/>
<rect x="397" y="438" width="4" height="4" fill="#9ecae7"/>
<rect x="401" y="438" width="3" height="4" fill="#fdf0c8"/>
<rect x="404" y="438" width="16" height="4" fill="#d6e6f4"/>
<rect x="420" y="438" width="8" height="4" fill="#fdf0c8"/>
<rect x="428" y="438" width="4" height="4" fill="#d6e6f4"/>
<rect x="432" y="438" width="8" height="4" fill="#fdf0c8"/>
<rect x="440" y="438" width="4" height="4" fill="#fdd063"/>
<rect x="444" y="438" width="4" height="4" fill="#fdf0c8"/>
<rect x="448" y="438" width="8" height="4" fill="#d6e6f4"/>
<rect x="456" y="438" width="4" height="4" fill="#fdf0c8"/>
<rect x="460" y="438" width="4" height="4" fill="#0b2a6b"/>
<rect x="464" y="438" width="20" height="4" fill="#d6e6f4"/>
<rect x="484" y="438" width="4" height="4" fill="#0b2a6b"/>
<rect x="488" y="438" width="4" height="4" fill="#fdf0c8"/>
<rect x="492" y="438" width="8" height="4" fill="#d6e6f4"/>
<rect x="500" y="438" width="8" height="4" fill="#1a56a3"/>
<rect x="508" y="438" width="4" height="4" fill="#9ecae7"/>
<rect x="512" y="438" width="20" height="4" fill="#1a56a3"/>
<rect x="532" y="438" width="4" height="4" fill="#0b2a6b"/>
<rect x="536" y="438" width="4" height="4" fill="#1a56a3"/>
<rect x="540" y="438" width="4" height="4" fill="#0b2a6b"/>
<rect x="345" y="442" width="28" height="4" fill="#e50b0b"/>
<rect x="373" y="442" width="20" height="4" fill="#e8601c"/>
<rect x="393" y="442" width="4" height="4" fill="#fdd063"/>
<rect x="397" y="442" width="4" height="4" fill="#fdf0c8"/>
<rect x="401" y="442" width="3" height="4" fill="#e8601c"/>
<rect x="404" y="442" width="4" height="4" fill="#fdd063"/>
<rect x="408" y="442" width="8" height="4" fill="#e8601c"/>
<rect x="416" y="442" width="8" height="4" fill="#fdd063"/>
<rect x="424" y="442" width="4" height="4" fill="#fdf0c8"/>
<rect x="428" y="442" width="4" height="4" fill="#fdd063"/>
<rect x="432" y="442" width="4" height="4" fill="#fdf0c8"/>
<rect x="436" y="442" width="16" height="4" fill="#fdd063"/>
<rect x="452" y="442" width="12" height="4" fill="#fdf0c8"/>
<rect x="464" y="442" width="4" height="4" fill="#0b2a6b"/>
<rect x="468" y="442" width="4" height="4" fill="#fdf0c8"/>
<rect x="472" y="442" width="4" height="4" fill="#d6e6f4"/>
<rect x="476" y="442" width="20" height="4" fill="#fdf0c8"/>
<rect x="496" y="442" width="4" height="4" fill="#d6e6f4"/>
<rect x="500" y="442" width="4" height="4" fill="#9ecae7"/>
<rect x="504" y="442" width="20" height="4" fill="#d6e6f4"/>
<rect x="524" y="442" width="4" height="4" fill="#1a56a3"/>
<rect x="528" y="442" width="8" height="4" fill="#d6e6f4"/>
<rect x="536" y="442" width="4" height="4" fill="#1a56a3"/>
<rect x="540" y="442" width="4" height="4" fill="#0b2a6b"/>
<rect x="345" y="446" width="16" height="3" fill="#e50b0b"/>
<rect x="361" y="446" width="16" height="3" fill="#e8601c"/>
<rect x="377" y="446" width="4" height="3" fill="#fdd063"/>
<rect x="381" y="446" width="4" height="3" fill="#fdf0c8"/>
<rect x="385" y="446" width="12" height="3" fill="#fdd063"/>
<rect x="397" y="446" width="4" height="3" fill="#d6e6f4"/>
<rect x="401" y="446" width="7" height="3" fill="#fdd063"/>
<rect x="408" y="446" width="4" height="3" fill="#fdf0c8"/>
<rect x="412" y="446" width="4" height="3" fill="#fdd063"/>
<rect x="416" y="446" width="16" height="3" fill="#fdf0c8"/>
<rect x="432" y="446" width="8" height="3" fill="#fdd063"/>
<rect x="440" y="446" width="4" height="3" fill="#e8601c"/>
<rect x="444" y="446" width="8" height="3" fill="#fdf0c8"/>
<rect x="452" y="446" width="4" height="3" fill="#9ecae7"/>
<rect x="456" y="446" width="8" height="3" fill="#fdf0c8"/>
<rect x="464" y="446" width="4" height="3" fill="#9ecae7"/>
<rect x="468" y="446" width="4" height="3" fill="#0b2a6b"/>
<rect x="472" y="446" width="32" height="3" fill="#d6e6f4"/>
<rect x="504" y="446" width="8" height="3" fill="#1a56a3"/>
<rect x="512" y="446" width="4" height="3" fill="#d6e6f4"/>
<rect x="516" y="446" width="4" height="3" fill="#0b2a6b"/>
<rect x="520" y="446" width="4" height="3" fill="#1a56a3"/>
<rect x="524" y="446" width="4" height="3" fill="#0b2a6b"/>
<rect x="528" y="446" width="4" height="3" fill="#1a56a3"/>
<rect x="532" y="446" width="4" height="3" fill="#0b2a6b"/>
<rect x="536" y="446" width="4" height="3" fill="#1a56a3"/>
<rect x="540" y="446" width="4" height="3" fill="#0b2a6b"/>
<rect x="345" y="449" width="16" height="4" fill="#e50b0b"/>
<rect x="361" y="449" width="20" height="4" fill="#e8601c"/>
<rect x="381" y="449" width="16" height="4" fill="#fdd063"/>
<rect x="397" y="449" width="4" height="4" fill="#d6e6f4"/>
<rect x="401" y="449" width="3" height="4" fill="#fdd063"/>
<rect x="404" y="449" width="4" height="4" fill="#fdf0c8"/>
<rect x="408" y="449" width="4" height="4" fill="#d6e6f4"/>
<rect x="412" y="449" width="4" height="4" fill="#fdd063"/>
<rect x="416" y="449" width="44" height="4" fill="#fdf0c8"/>
<rect x="460" y="449" width="12" height="4" fill="#d6e6f4"/>
<rect x="472" y="449" width="4" height="4" fill="#0b2a6b"/>
<rect x="476" y="449" width="4" height="4" fill="#d6e6f4"/>
<rect x="480" y="449" width="4" height="4" fill="#9ecae7"/>
<rect x="484" y="449" width="16" height="4" fill="#d6e6f4"/>
<rect x="500" y="449" width="4" height="4" fill="#0b2a6b"/>
<rect x="504" y="449" width="8" height="4" fill="#9ecae7"/>
<rect x="512" y="449" width="4" height="4" fill="#d6e6f4"/>
<rect x="516" y="449" width="8" height="4" fill="#1a56a3"/>
<rect x="524" y="449" width="20" height="4" fill="#0b2a6b"/>
<rect x="345" y="453" width="32" height="4" fill="#e50b0b"/>
<rect x="377" y="453" width="8" height="4" fill="#e8601c"/>
<rect x="385" y="453" width="12" height="4" fill="#fdd063"/>
<rect x="397" y="453" width="4" height="4" fill="#1a56a3"/>
<rect x="401" y="453" width="15" height="4" fill="#fdd063"/>
<rect x="416" y="453" width="24" height="4" fill="#fdf0c8"/>
<rect x="440" y="453" width="4" height="4" fill="#fdd063"/>
<rect x="444" y="453" width="20" height="4" fill="#fdf0c8"/>
<rect x="464" y="453" width="4" height="4" fill="#9ecae7"/>
<rect x="468" y="453" width="4" height="4" fill="#0b2a6b"/>
<rect x="472" y="453" width="4" height="4" fill="#fdf0c8"/>
<rect x="476" y="453" width="4" height="4" fill="#0b2a6b"/>
<rect x="480" y="453" width="8" height="4" fill="#fdf0c8"/>
<rect x="488" y="453" width="4" height="4" fill="#fdd063"/>
<rect x="492" y="453" width="8" height="4" fill="#fdf0c8"/>
<rect x="500" y="453" width="4" height="4" fill="#d6e6f4"/>
<rect x="504" y="453" width="8" height="4" fill="#1a56a3"/>
<rect x="512" y="453" width="4" height="4" fill="#d6e6f4"/>
<rect x="516" y="453" width="4" height="4" fill="#0b2a6b"/>
<rect x="520" y="453" width="4" height="4" fill="#1a56a3"/>
<rect x="524" y="453" width="4" height="4" fill="#d6e6f4"/>
<rect x="528" y="453" width="8" height="4" fill="#1a56a3"/>
<rect x="536" y="453" width="8" height="4" fill="#0b2a6b"/>
<rect x="345" y="457" width="28" height="4" fill="#e50b0b"/>
<rect x="373" y="457" width="24" height="4" fill="#e8601c"/>
<rect x="397" y="457" width="4" height="4" fill="#fdf0c8"/>
<rect x="401" y="457" width="7" height="4" fill="#fdd063"/>
<rect x="408" y="457" width="4" height="4" fill="#fdf0c8"/>
<rect x="412" y="457" width="4" height="4" fill="#fdd063"/>
<rect x="416" y="457" width="4" height="4" fill="#fdf0c8"/>
<rect x="420" y="457" width="4" height="4" fill="#fdd063"/>
<rect x="424" y="457" width="44" height="4" fill="#fdf0c8"/>
<rect x="468" y="457" width="8" height="4" fill="#d6e6f4"/>
<rect x="476" y="457" width="4" height="4" fill="#fdf0c8"/>
<rect x="480" y="457" width="4" height="4" fill="#0b2a6b"/>
<rect x="484" y="457" width="24" height="4" fill="#d6e6f4"/>
<rect x="508" y="457" width="4" height="4" fill="#9ecae7"/>
<rect x="512" y="457" width="20" height="4" fill="#1a56a3"/>
<rect x="532" y="457" width="4" height="4" fill="#0b2a6b"/>
<rect x="536" y="457" width="4" height="4" fill="#1a56a3"/>
<rect x="540" y="457" width="4" height="4" fill="#0b2a6b"/>
<rect x="345" y="461" width="8" height="4" fill="#e50b0b"/>
<rect x="353" y="461" width="12" height="4" fill="#e8601c"/>
<rect x="365" y="461" width="8" height="4" fill="#fdd063"/>
<rect x="373" y="461" width="4" height="4" fill="#fdf0c8"/>
<rect x="377" y="461" width="4" height="4" fill="#d6e6f4"/>
<rect x="381" y="461" width="8" height="4" fill="#fdf0c8"/>
<rect x="389" y="461" width="4" height="4" fill="#fdd063"/>
<rect x="393" y="461" width="4" height="4" fill="#fdf0c8"/>
<rect x="397" y="461" width="4" height="4" fill="#9ecae7"/>
<rect x="401" y="461" width="15" height="4" fill="#fdf0c8"/>
<rect x="416" y="461" width="4" height="4" fill="#d6e6f4"/>
<rect x="420" y="461" width="8" height="4" fill="#fdf0c8"/>
<rect x="428" y="461" width="4" height="4" fill="#d6e6f4"/>
<rect x="432" y="461" width="16" height="4" fill="#fdf0c8"/>
<rect x="448" y="461" width="4" height="4" fill="#d6e6f4"/>
<rect x="452" y="461" width="4" height="4" fill="#9ecae7"/>
<rect x="456" y="461" width="4" height="4" fill="#fdf0c8"/>
<rect x="460" y="461" width="8" height="4" fill="#1a56a3"/>
<rect x="468" y="461" width="8" height="4" fill="#9ecae7"/>
<rect x="476" y="461" width="8" height="4" fill="#d6e6f4"/>
<rect x="484" y="461" width="4" height="4" fill="#0b2a6b"/>
<rect x="488" y="461" width="12" height="4" fill="#d6e6f4"/>
<rect x="500" y="461" width="12" height="4" fill="#1a56a3"/>
<rect x="512" y="461" width="4" height="4" fill="#d6e6f4"/>
<rect x="516" y="461" width="4" height="4" fill="#1a56a3"/>
<rect x="520" y="461" width="4" height="4" fill="#0b2a6b"/>
<rect x="524" y="461" width="4" height="4" fill="#1a56a3"/>
<rect x="528" y="461" width="16" height="4" fill="#0b2a6b"/>
<rect x="345" y="465" width="32" height="4" fill="#e50b0b"/>
<rect x="377" y="465" width="4" height="4" fill="#e8601c"/>
<rect x="381" y="465" width="16" height="4" fill="#e50b0b"/>
<rect x="397" y="465" width="4" height="4" fill="#fdd063"/>
<rect x="401" y="465" width="7" height="4" fill="#e8601c"/>
<rect x="408" y="465" width="4" height="4" fill="#e50b0b"/>
<rect x="412" y="465" width="20" height="4" fill="#e8601c"/>
<rect x="432" y="465" width="8" height="4" fill="#fdd063"/>
<rect x="440" y="465" width="4" height="4" fill="#e8601c"/>
<rect x="444" y="465" width="4" height="4" fill="#fdd063"/>
<rect x="448" y="465" width="4" height="4" fill="#e8601c"/>
<rect x="452" y="465" width="4" height="4" fill="#fdd063"/>
<rect x="456" y="465" width="4" height="4" fill="#d6e6f4"/>
<rect x="460" y="465" width="4" height="4" fill="#fdd063"/>
<rect x="464" y="465" width="4" height="4" fill="#fdf0c8"/>
<rect x="468" y="465" width="4" height="4" fill="#9ecae7"/>
<rect x="472" y="465" width="4" height="4" fill="#d6e6f4"/>
<rect x="476" y="465" width="4" height="4" fill="#fdd063"/>
<rect x="480" y="465" width="8" height="4" fill="#d6e6f4"/>
<rect x="488" y="465" width="4" height="4" fill="#0b2a6b"/>
<rect x="492" y="465" width="4" height="4" fill="#fdf0c8"/>
<rect x="496" y="465" width="4" height="4" fill="#d6e6f4"/>
<rect x="500" y="465" width="4" height="4" fill="#9ecae7"/>
<rect x="504" y="465" width="8" height="4" fill="#1a56a3"/>
<rect x="512" y="465" width="12" height="4" fill="#d6e6f4"/>
<rect x="524" y="465" width="4" height="4" fill="#1a56a3"/>
<rect x="528" y="465" width="16" height="4" fill="#0b2a6b"/>
<rect x="345" y="469" width="12" height="4" fill="#e50b0b"/>
<rect x="357" y="469" width="8" height="4" fill="#e8601c"/>
<rect x="365" y="469" width="16" height="4" fill="#fdd063"/>
<rect x="381" y="469" width="8" height="4" fill="#fdf0c8"/>
<rect x="389" y="469" width="4" height="4" fill="#fdd063"/>
<rect x="393" y="469" width="4" height="4" fill="#d6e6f4"/>
<rect x="397" y="469" width="4" height="4" fill="#fdf0c8"/>
<rect x="401" y="469" width="7" height="4" fill="#fdd063"/>
<rect x="408" y="469" width="4" height="4" fill="#d6e6f4"/>
<rect x="412" y="469" width="4" height="4" fill="#fdd063"/>
<rect x="416" y="469" width="4" height="4" fill="#fdf0c8"/>
<rect x="420" y="469" width="8" height="4" fill="#fdd063"/>
<rect x="428" y="469" width="4" height="4" fill="#fdf0c8"/>
<rect x="432" y="469" width="12" height="4" fill="#fdd063"/>
<rect x="444" y="469" width="8" height="4" fill="#fdf0c8"/>
<rect x="452" y="469" width="8" height="4" fill="#9ecae7"/>
<rect x="460" y="469" width="4" height="4" fill="#fdf0c8"/>
<rect x="464" y="469" width="4" height="4" fill="#d6e6f4"/>
<rect x="468" y="469" width="4" height="4" fill="#9ecae7"/>
<rect x="472" y="469" width="4" height="4" fill="#d6e6f4"/>
<rect x="476" y="469" width="4" height="4" fill="#fdf0c8"/>
<rect x="480" y="469" width="4" height="4" fill="#9ecae7"/>
<rect x="484" y="469" width="8" height="4" fill="#d6e6f4"/>
<rect x="492" y="469" width="4" height="4" fill="#0b2a6b"/>
<rect x="496" y="469" width="4" height="4" fill="#d6e6f4"/>
<rect x="500" y="469" width="4" height="4" fill="#9ecae7"/>
<rect x="504" y="469" width="4" height="4" fill="#d6e6f4"/>
<rect x="508" y="469" width="16" height="4" fill="#1a56a3"/>
<rect x="524" y="469" width="20" height="4" fill="#0b2a6b"/>
<rect x="345" y="473" width="32" height="4" fill="#e50b0b"/>
<rect x="377" y="473" width="20" height="4" fill="#e8601c"/>
<rect x="397" y="473" width="4" height="4" fill="#fdf0c8"/>
<rect x="401" y="473" width="3" height="4" fill="#fdd063"/>
<rect x="404" y="473" width="12" height="4" fill="#e8601c"/>
<rect x="416" y="473" width="4" height="4" fill="#fdf0c8"/>
<rect x="420" y="473" width="8" height="4" fill="#e8601c"/>
<rect x="428" y="473" width="4" height="4" fill="#fdd063"/>
<rect x="432" y="473" width="4" height="4" fill="#e8601c"/>
<rect x="436" y="473" width="8" height="4" fill="#fdd063"/>
<rect x="444" y="473" width="4" height="4" fill="#e8601c"/>
<rect x="448" y="473" width="16" height="4" fill="#fdf0c8"/>
<rect x="464" y="473" width="4" height="4" fill="#fdd063"/>
<rect x="468" y="473" width="4" height="4" fill="#d6e6f4"/>
<rect x="472" y="473" width="4" height="4" fill="#fdf0c8"/>
<rect x="476" y="473" width="4" height="4" fill="#fdd063"/>
<rect x="480" y="473" width="8" height="4" fill="#fdf0c8"/>
<rect x="488" y="473" width="4" height="4" fill="#d6e6f4"/>
<rect x="492" y="473" width="4" height="4" fill="#fdf0c8"/>
<rect x="496" y="473" width="4" height="4" fill="#0b2a6b"/>
<rect x="500" y="473" width="8" height="4" fill="#d6e6f4"/>
<rect x="508" y="473" width="4" height="4" fill="#1a56a3"/>
<rect x="512" y="473" width="8" height="4" fill="#d6e6f4"/>
<rect x="520" y="473" width="8" height="4" fill="#1a56a3"/>
<rect x="528" y="473" width="4" height="4" fill="#0b2a6b"/>
<rect x="532" y="473" width="4" height="4" fill="#1a56a3"/>
<rect x="536" y="473" width="8" height="4" fill="#0b2a6b"/>
<rect x="345" y="477" width="32" height="4" fill="#e50b0b"/>
<rect x="377" y="477" width="20" height="4" fill="#e8601c"/>
<rect x="397" y="477" width="4" height="4" fill="#d6e6f4"/>
<rect x="401" y="477" width="3" height="4" fill="#fdd063"/>
<rect x="404" y="477" width="12" height="4" fill="#e8601c"/>
<rect x="416" y="477" width="16" height="4" fill="#fdf0c8"/>
<rect x="432" y="477" width="12" height="4" fill="#fdd063"/>
<rect x="444" y="477" width="12" height="4" fill="#fdf0c8"/>
<rect x="456" y="477" width="4" height="4" fill="#d6e6f4"/>
<rect x="460" y="477" width="8" height="4" fill="#fdf0c8"/>
<rect x="468" y="477" width="4" height="4" fill="#d6e6f4"/>
<rect x="472" y="477" width="12" height="4" fill="#fdf0c8"/>
<rect x="484" y="477" width="12" height="4" fill="#d6e6f4"/>
<rect x="496" y="477" width="4" height="4" fill="#1a56a3"/>
<rect x="500" y="477" width="4" height="4" fill="#0b2a6b"/>
<rect x="504" y="477" width="4" height="4" fill="#1a56a3"/>
<rect x="508" y="477" width="4" height="4" fill="#0b2a6b"/>
<rect x="512" y="477" width="4" height="4" fill="#d6e6f4"/>
<rect x="516" y="477" width="4" height="4" fill="#0b2a6b"/>
<rect x="520" y="477" width="8" height="4" fill="#1a56a3"/>
<rect x="528" y="477" width="16" height="4" fill="#0b2a6b"/>
<rect x="345" y="481" width="32" height="4" fill="#e50b0b"/>
<rect x="377" y="481" width="20" height="4" fill="#e8601c"/>
<rect x="397" y="481" width="4" height="4" fill="#d6e6f4"/>
<rect x="401" y="481" width="11" height="4" fill="#e8601c"/>
<rect x="412" y="481" width="4" height="4" fill="#fdf0c8"/>
<rect x="416" y="481" width="16" height="4" fill="#fdd063"/>
<rect x="432" y="481" width="4" height="4" fill="#fdf0c8"/>
<rect x="436" y="481" width="4" height="4" fill="#e8601c"/>
<rect x="440" y="481" width="8" height="4" fill="#fdd063"/>
<rect x="448" y="481" width="8" height="4" fill="#fdf0c8"/>
<rect x="456" y="481" width="4" height="4" fill="#fdd063"/>
<rect x="460" y="481" width="8" height="4" fill="#fdf0c8"/>
<rect x="468" y="481" width="4" height="4" fill="#9ecae7"/>
<rect x="472" y="481" width="4" height="4" fill="#fdf0c8"/>
<rect x="476" y="481" width="4" height="4" fill="#d6e6f4"/>
<rect x="480" y="481" width="8" height="4" fill="#fdf0c8"/>
<rect x="488" y="481" width="4" height="4" fill="#d6e6f4"/>
<rect x="492" y="481" width="4" height="4" fill="#fdf0c8"/>
<rect x="496" y="481" width="8" height="4" fill="#d6e6f4"/>
<rect x="504" y="481" width="4" height="4" fill="#0b2a6b"/>
<rect x="508" y="481" width="4" height="4" fill="#1a56a3"/>
<rect x="512" y="481" width="4" height="4" fill="#d6e6f4"/>
<rect x="516" y="481" width="4" height="4" fill="#1a56a3"/>
<rect x="520" y="481" width="4" height="4" fill="#d6e6f4"/>
<rect x="524" y="481" width="4" height="4" fill="#1a56a3"/>
<rect x="528" y="481" width="8" height="4" fill="#0b2a6b"/>
<rect x="536" y="481" width="4" height="4" fill="#9ecae7"/>
<rect x="540" y="481" width="4" height="4" fill="#0b2a6b"/>
<rect x="345" y="485" width="32" height="4" fill="#e50b0b"/>
<rect x="377" y="485" width="20" height="4" fill="#e8601c"/>
<rect x="397" y="485" width="4" height="4" fill="#d6e6f4"/>
<rect x="401" y="485" width="15" height="4" fill="#e8601c"/>
<rect x="416" y="485" width="8" height="4" fill="#fdd063"/>
<rect x="424" y="485" width="4" height="4" fill="#e8601c"/>
<rect x="428" y="485" width="4" height="4" fill="#fdd063"/>
<rect x="432" y="485" width="4" height="4" fill="#fdf0c8"/>
<rect x="436" y="485" width="4" height="4" fill="#fdd063"/>
<rect x="440" y="485" width="8" height="4" fill="#e8601c"/>
<rect x="448" y="485" width="4" height="4" fill="#fdd063"/>
<rect x="452" y="485" width="8" height="4" fill="#fdf0c8"/>
<rect x="460" y="485" width="4" height="4" fill="#fdd063"/>
<rect x="464" y="485" width="4" height="4" fill="#fdf0c8"/>
<rect x="468" y="485" width="4" height="4" fill="#d6e6f4"/>
<rect x="472" y="485" width="8" height="4" fill="#fdf0c8"/>
<rect x="480" y="485" width="4" height="4" fill="#d6e6f4"/>
<rect x="484" y="485" width="4" height="4" fill="#fdf0c8"/>
<rect x="488" y="485" width="4" height="4" fill="#d6e6f4"/>
<rect x="492" y="485" width="4" height="4" fill="#fdf0c8"/>
<rect x="496" y="485" width="4" height="4" fill="#d6e6f4"/>
<rect x="500" y="485" width="4" height="4" fill="#9ecae7"/>
<rect x="504" y="485" width="4" height="4" fill="#1a56a3"/>
<rect x="508" y="485" width="4" height="4" fill="#0b2a6b"/>
<rect x="512" y="485" width="4" height="4" fill="#d6e6f4"/>
<rect x="516" y="485" width="8" height="4" fill="#1a56a3"/>
<rect x="524" y="485" width="20" height="4" fill="#0b2a6b"/>
<rect x="345" y="489" width="28" height="4" fill="#e50b0b"/>
<rect x="373" y="489" width="8" height="4" fill="#e8601c"/>
<rect x="381" y="489" width="8" height="4" fill="#fdd063"/>
<rect x="389" y="489" width="4" height="4" fill="#e8601c"/>
<rect x="393" y="489" width="4" height="4" fill="#fdd063"/>
<rect x="397" y="489" width="4" height="4" fill="#fdf0c8"/>
<rect x="401" y="489" width="3" height="4" fill="#fdd063"/>
<rect x="404" y="489" width="8" height="4" fill="#fdf0c8"/>
<rect x="412" y="489" width="4" height="4" fill="#fdd063"/>
<rect x="416" y="489" width="8" height="4" fill="#fdf0c8"/>
<rect x="424" y="489" width="4" height="4" fill="#fdd063"/>
<rect x="428" y="489" width="4" height="4" fill="#fdf0c8"/>
<rect x="432" y="489" width="4" height="4" fill="#d6e6f4"/>
<rect x="436" y="489" width="4" height="4" fill="#fdf0c8"/>
<rect x="440" y="489" width="4" height="4" fill="#fdd063"/>
<rect x="444" y="489" width="4" height="4" fill="#d6e6f4"/>
<rect x="448" y="489" width="4" height="4" fill="#fdf0c8"/>
<rect x="452" y="489" width="4" height="4" fill="#d6e6f4"/>
<rect x="456" y="489" width="12" height="4" fill="#fdf0c8"/>
<rect x="468" y="489" width="4" height="4" fill="#d6e6f4"/>
<rect x="472" y="489" width="8" height="4" fill="#fdf0c8"/>
<rect x="480" y="489" width="8" height="4" fill="#d6e6f4"/>
<rect x="488" y="489" width="4" height="4" fill="#fdf0c8"/>
<rect x="492" y="489" width="8" height="4" fill="#d6e6f4"/>
<rect x="500" y="489" width="12" height="4" fill="#1a56a3"/>
<rect x="512" y="489" width="8" height="4" fill="#0b2a6b"/>
<rect x="520" y="489" width="4" height="4" fill="#9ecae7"/>
<rect x="524" y="489" width="4" height="4" fill="#d6e6f4"/>
<rect x="528" y="489" width="4" height="4" fill="#1a56a3"/>
<rect x="532" y="489" width="12" height="4" fill="#0b2a6b"/>
<rect x="345" y="493" width="32" height="3" fill="#e50b0b"/>
<rect x="377" y="493" width="4" height="3" fill="#e8601c"/>
<rect x="381" y="493" width="4" height="3" fill="#fdd063"/>
<rect x="385" y="493" width="4" height="3" fill="#e50b0b"/>
<rect x="389" y="493" width="8" height="3" fill="#e8601c"/>
<rect x="397" y="493" width="4" height="3" fill="#fdd063"/>
<rect x="401" y="493" width="7" height="3" fill="#e8601c"/>
<rect x="408" y="493" width="4" height="3" fill="#fdd063"/>
<rect x="412" y="493" width="4" height="3" fill="#e8601c"/>
<rect x="416" y="493" width="4" height="3" fill="#fdf0c8"/>
<rect x="420" y="493" width="4" height="3" fill="#fdd063"/>
<rect x="424" y="493" width="4" height="3" fill="#e8601c"/>
<rect x="428" y="493" width="4" height="3" fill="#fdf0c8"/>
<rect x="432" y="493" width="12" height="3" fill="#e8601c"/>
<rect x="444" y="493" width="4" height="3" fill="#fdd063"/>
<rect x="448" y="493" width="4" height="3" fill="#e8601c"/>
<rect x="452" y="493" width="4" height="3" fill="#fdd063"/>
<rect x="456" y="493" width="12" height="3" fill="#fdf0c8"/>
<rect x="468" y="493" width="4" height="3" fill="#d6e6f4"/>
<rect x="472" y="493" width="16" height="3" fill="#fdf0c8"/>
<rect x="488" y="493" width="4" height="3" fill="#fdd063"/>
<rect x="492" y="493" width="4" height="3" fill="#fdf0c8"/>
<rect x="496" y="493" width="12" height="3" fill="#d6e6f4"/>
<rect x="508" y="493" width="8" height="3" fill="#9ecae7"/>
<rect x="516" y="493" width="4" height="3" fill="#0b2a6b"/>
<rect x="520" y="493" width="4" height="3" fill="#d6e6f4"/>
<rect x="524" y="493" width="12" height="3" fill="#1a56a3"/>
<rect x="536" y="493" width="8" height="3" fill="#0b2a6b"/>
<rect x="345" y="496" width="12" height="4" fill="#e50b0b"/>
<rect x="357" y="496" width="4" height="4" fill="#e8601c"/>
<rect x="361" y="496" width="4" height="4" fill="#e50b0b"/>
<rect x="365" y="496" width="8" height="4" fill="#e8601c"/>
<rect x="373" y="496" width="4" height="4" fill="#e50b0b"/>
<rect x="377" y="496" width="4" height="4" fill="#fdd063"/>
<rect x="381" y="496" width="16" height="4" fill="#e8601c"/>
<rect x="397" y="496" width="7" height="4" fill="#fdd063"/>
<rect x="404" y="496" width="4" height="4" fill="#e8601c"/>
<rect x="408" y="496" width="4" height="4" fill="#fdd063"/>
<rect x="412" y="496" width="8" height="4" fill="#e8601c"/>
<rect x="420" y="496" width="8" height="4" fill="#fdd063"/>
<rect x="428" y="496" width="8" height="4" fill="#e8601c"/>
<rect x="436" y="496" width="4" height="4" fill="#fdd063"/>
<rect x="440" y="496" width="8" height="4" fill="#e8601c"/>
<rect x="448" y="496" width="8" height="4" fill="#fdd063"/>
<rect x="456" y="496" width="12" height="4" fill="#fdf0c8"/>
<rect x="468" y="496" width="4" height="4" fill="#d6e6f4"/>
<rect x="472" y="496" width="4" height="4" fill="#fdd063"/>
<rect x="476" y="496" width="4" height="4" fill="#fdf0c8"/>
<rect x="480" y="496" width="4" height="4" fill="#fdd063"/>
<rect x="484" y="496" width="4" height="4" fill="#fdf0c8"/>
<rect x="488" y="496" width="8" height="4" fill="#fdd063"/>
<rect x="496" y="496" width="12" height="4" fill="#fdf0c8"/>
<rect x="508" y="496" width="4" height="4" fill="#d6e6f4"/>
<rect x="512" y="496" width="4" height="4" fill="#fdf0c8"/>
<rect x="516" y="496" width="4" height="4" fill="#d6e6f4"/>
<rect x="520" y="496" width="4" height="4" fill="#0b2a6b"/>
<rect x="524" y="496" width="4" height="4" fill="#1a56a3"/>
<rect x="528" y="496" width="4" height="4" fill="#d6e6f4"/>
<rect x="532" y="496" width="4" height="4" fill="#1a56a3"/>
<rect x="536" y="496" width="8" height="4" fill="#0b2a6b"/>
<rect x="345" y="500" width="20" height="4" fill="#e50b0b"/>
<rect x="365" y="500" width="32" height="4" fill="#e8601c"/>
<rect x="397" y="500" width="4" height="4" fill="#fdd063"/>
<rect x="401" y="500" width="19" height="4" fill="#e8601c"/>
<rect x="420" y="500" width="8" height="4" fill="#fdd063"/>
<rect x="428" y="500" width="4" height="4" fill="#e8601c"/>
<rect x="432" y="500" width="4" height="4" fill="#fdd063"/>
<rect x="436" y="500" width="8" height="4" fill="#e8601c"/>
<rect x="444" y="500" width="12" height="4" fill="#fdd063"/>
<rect x="456" y="500" width="4" height="4" fill="#fdf0c8"/>
<rect x="460" y="500" width="4" height="4" fill="#fdd063"/>
<rect x="464" y="500" width="8" height="4" fill="#fdf0c8"/>
<rect x="472" y="500" width="4" height="4" fill="#d6e6f4"/>
<rect x="476" y="500" width="4" height="4" fill="#fdd063"/>
<rect x="480" y="500" width="4" height="4" fill="#fdf0c8"/>
<rect x="484" y="500" width="4" height="4" fill="#d6e6f4"/>
<rect x="488" y="500" width="8" height="4" fill="#fdf0c8"/>
<rect x="496" y="500" width="12" height="4" fill="#d6e6f4"/>
<rect x="508" y="500" width="4" height="4" fill="#1a56a3"/>
<rect x="512" y="500" width="4" height="4" fill="#d6e6f4"/>
<rect x="516" y="500" width="4" height="4" fill="#9ecae7"/>
<rect x="520" y="500" width="4" height="4" fill="#1a56a3"/>
<rect x="524" y="500" width="20" height="4" fill="#0b2a6b"/>
<rect x="345" y="504" width="52" height="4" fill="#e50b0b"/>
<rect x="397" y="504" width="4" height="4" fill="#fdd063"/>
<rect x="401" y="504" width="11" height="4" fill="#e8601c"/>
<rect x="412" y="504" width="4" height="4" fill="#e50b0b"/>
<rect x="416" y="504" width="36" height="4" fill="#e8601c"/>
<rect x="452" y="504" width="4" height="4" fill="#fdd063"/>
<rect x="456" y="504" width="12" height="4" fill="#e8601c"/>
<rect x="468" y="504" width="8" height="4" fill="#fdf0c8"/>
<rect x="476" y="504" width="8" height="4" fill="#fdd063"/>
<rect x="484" y="504" width="12" height="4" fill="#fdf0c8"/>
<rect x="496" y="504" width="4" height="4" fill="#d6e6f4"/>
<rect x="500" y="504" width="4" height="4" fill="#fdf0c8"/>
<rect x="504" y="504" width="4" height="4" fill="#d6e6f4"/>
<rect x="508" y="504" width="4" height="4" fill="#1a56a3"/>
<rect x="512" y="504" width="8" height="4" fill="#d6e6f4"/>
<rect x="520" y="504" width="8" height="4" fill="#1a56a3"/>
<rect x="528" y="504" width="4" height="4" fill="#0b2a6b"/>
<rect x="532" y="504" width="4" height="4" fill="#d6e6f4"/>
<rect x="536" y="504" width="8" height="4" fill="#0b2a6b"/>
<rect x="345" y="508" width="52" height="4" fill="#e50b0b"/>
<rect x="397" y="508" width="4" height="4" fill="#fdd063"/>
<rect x="401" y="508" width="7" height="4" fill="#e50b0b"/>
<rect x="408" y="508" width="44" height="4" fill="#e8601c"/>
<rect x="452" y="508" width="4" height="4" fill="#fdd063"/>
<rect x="456" y="508" width="4" height="4" fill="#e8601c"/>
<rect x="460" y="508" width="8" height="4" fill="#fdd063"/>
<rect x="468" y="508" width="4" height="4" fill="#fdf0c8"/>
<rect x="472" y="508" width="8" height="4" fill="#e8601c"/>
<rect x="480" y="508" width="8" height="4" fill="#fdd063"/>
<rect x="488" y="508" width="4" height="4" fill="#fdf0c8"/>
<rect x="492" y="508" width="12" height="4" fill="#fdd063"/>
<rect x="504" y="508" width="28" height="4" fill="#fdf0c8"/>
<rect x="532" y="508" width="4" height="4" fill="#0b2a6b"/>
<rect x="536" y="508" width="4" height="4" fill="#d6e6f4"/>
<rect x="540" y="508" width="4" height="4" fill="#0b2a6b"/>
<rect x="345" y="512" width="103" height="4" fill="#e50b0b"/>
<rect x="448" y="512" width="12" height="4" fill="#e8601c"/>
<rect x="460" y="512" width="8" height="4" fill="#e50b0b"/>
<rect x="468" y="512" width="4" height="4" fill="#e8601c"/>
<rect x="472" y="512" width="12" height="4" fill="#e50b0b"/>
<rect x="484" y="512" width="16" height="4" fill="#e8601c"/>
<rect x="500" y="512" width="4" height="4" fill="#fdf0c8"/>
<rect x="504" y="512" width="4" height="4" fill="#e8601c"/>
<rect x="508" y="512" width="4" height="4" fill="#fdd063"/>
<rect x="512" y="512" width="4" height="4" fill="#e8601c"/>
<rect x="516" y="512" width="12" height="4" fill="#fdd063"/>
<rect x="528" y="512" width="8" height="4" fill="#fdf0c8"/>
<rect x="536" y="512" width="4" height="4" fill="#0b2a6b"/>
<rect x="540" y="512" width="4" height="4" fill="#d6e6f4"/>
<rect x="345" y="516" width="12" height="4" fill="#ffffff"/>
<rect x="357" y="516" width="167" height="4" fill="#e50b0b"/>
<rect x="524" y="516" width="8" height="4" fill="#e8601c"/>
<rect x="532" y="516" width="4" height="4" fill="#fdd063"/>
<rect x="536" y="516" width="4" height="4" fill="#e8601c"/>
<rect x="540" y="516" width="4" height="4" fill="#d6e6f4"/>
<rect x="345" y="523.3" width="11" height="3.2" fill="#ffffff"/>
<rect x="356" y="523.3" width="20" height="3.2" fill="#e50b0b"/>
<rect x="376" y="523.3" width="20" height="3.2" fill="#e8601c"/>
<rect x="396" y="523.3" width="20" height="3.2" fill="#fdd063"/>
<rect x="416" y="523.3" width="20" height="3.2" fill="#fdf0c8"/>
<rect x="436" y="523.3" width="20" height="3.2" fill="#d6e6f4"/>
<rect x="456" y="523.3" width="20" height="3.2" fill="#9ecae7"/>
<rect x="476" y="523.3" width="20" height="3.2" fill="#1a56a3"/>
<rect x="496" y="523.3" width="19" height="3.2" fill="#0b2a6b"/>
<rect x="345" y="523.3" width="11" height="3.2" fill="none" stroke="#ddd" stroke-width="0.5"/>
<text x="350" y="531.2" font-family="Liberation Sans, sans-serif" font-size="4.6" fill="#444" text-anchor="middle">0</text>
<text x="376.3" y="531.2" font-family="Liberation Sans, sans-serif" font-size="4.6" fill="#444" text-anchor="middle">1.42</text>
<text x="396.3" y="531.2" font-family="Liberation Sans, sans-serif" font-size="4.6" fill="#444" text-anchor="middle">4.29</text>
<text x="416.2" y="531.2" font-family="Liberation Sans, sans-serif" font-size="4.6" fill="#444" text-anchor="middle">8.02</text>
<text x="435.8" y="531.2" font-family="Liberation Sans, sans-serif" font-size="4.6" fill="#444" text-anchor="middle">15.38</text>
<text x="453.8" y="531.2" font-family="Liberation Sans, sans-serif" font-size="4.6" fill="#444" text-anchor="middle">25.42</text>
<text x="473.8" y="531.2" font-family="Liberation Sans, sans-serif" font-size="4.6" fill="#444" text-anchor="middle">34.31</text>
<text x="493.8" y="531.2" font-family="Liberation Sans, sans-serif" font-size="4.6" fill="#444" text-anchor="middle">47.16</text>
<text x="523.5" y="531.2" font-family="Liberation Sans, sans-serif" font-size="4.6" fill="#444" text-anchor="middle">Transaction (M$)</text>
<text x="433.9" y="299.2" text-anchor="middle" font-family="Liberation Sans, sans-serif" font-size="10.8" fill="#17a02a" stroke="#17a02a" stroke-width="0.35">Consumption</text>
<text x="444.6" y="315" text-anchor="middle" font-family="Liberation Sans, sans-serif" font-weight="bold" font-size="9.8" fill="#111">Pop density</text>
<text x="344.8" y="318.2" font-family="Liberation Sans, sans-serif" font-size="7.2" fill="#222">rural</text>
<text x="517.8" y="318.5" font-family="Liberation Sans, sans-serif" font-size="7.2" fill="#222">urban</text>
<text transform="translate(334,332) rotate(-90)" text-anchor="middle" font-family="Liberation Sans, sans-serif" font-size="7.2" fill="#222">rural</text>
<text transform="translate(334,506) rotate(-90)" text-anchor="middle" font-family="Liberation Sans, sans-serif" font-size="7.2" fill="#222">urban</text>
<text transform="translate(301.3,402) rotate(-90)" text-anchor="middle" font-family="Liberation Sans, sans-serif" font-size="10.8" fill="#17a02a" stroke="#17a02a" stroke-width="0.35">Production</text>
<text transform="translate(330.3,414.2) rotate(-90)" text-anchor="middle" font-family="Liberation Sans, sans-serif" font-weight="bold" font-size="9.8" fill="#111">Pop density</text>
</svg></body></html>
